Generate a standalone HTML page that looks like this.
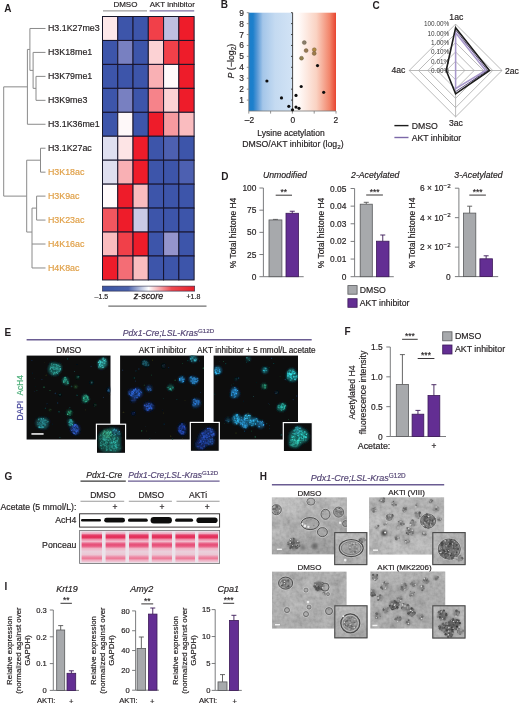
<!DOCTYPE html>
<html><head><meta charset="utf-8"><title>Figure</title>
<style>
html,body{margin:0;padding:0;background:#fff;}
body{width:520px;height:704px;overflow:hidden;}
svg{display:block;}
svg text{font-family:"Liberation Sans", Arial, Helvetica, sans-serif;}
</style></head>
<body>
<svg width="520" height="704" viewBox="0 0 520 704" font-family='"Liberation Sans", Arial, Helvetica, sans-serif' fill="#231f20">
<defs><filter id="soft" x="0" y="0" width="100%" height="100%" filterUnits="userSpaceOnUse"><feGaussianBlur stdDeviation="0.3"/></filter></defs>
<g filter="url(#soft)">
<rect x="0" y="0" width="520" height="704" fill="#ffffff"/>
<text x="4.20" y="11.50" font-size="10" font-weight="bold" >A</text>
<text x="125.40" y="7.20" font-size="8.0" text-anchor="middle" stroke="#231f20" stroke-width="0.18" >DMSO</text>
<text x="172.30" y="7.20" font-size="7.9" text-anchor="middle" stroke="#231f20" stroke-width="0.18" >AKT inhibitor</text>
<line x1="103.00" y1="10.80" x2="147.00" y2="10.80" stroke="#9d9d9d" stroke-width="1.3" />
<line x1="149.60" y1="10.80" x2="194.20" y2="10.80" stroke="#7c6fa0" stroke-width="1.3" />
<rect x="102.50" y="16.50" width="15.27" height="23.95" fill="#fde8ea" stroke="#18152c" stroke-width="1.0" />
<rect x="117.77" y="16.50" width="15.27" height="23.95" fill="#3c54aa" stroke="#18152c" stroke-width="1.0" />
<rect x="133.04" y="16.50" width="15.27" height="23.95" fill="#3c54aa" stroke="#18152c" stroke-width="1.0" />
<rect x="148.31" y="16.50" width="15.27" height="23.95" fill="#f1404a" stroke="#18152c" stroke-width="1.0" />
<rect x="163.58" y="16.50" width="15.27" height="23.95" fill="#bfbfe0" stroke="#18152c" stroke-width="1.0" />
<rect x="178.85" y="16.50" width="15.27" height="23.95" fill="#ee1e2a" stroke="#18152c" stroke-width="1.0" />
<rect x="102.50" y="40.45" width="15.27" height="23.95" fill="#3c54aa" stroke="#18152c" stroke-width="1.0" />
<rect x="117.77" y="40.45" width="15.27" height="23.95" fill="#7880c1" stroke="#18152c" stroke-width="1.0" />
<rect x="133.04" y="40.45" width="15.27" height="23.95" fill="#3c54aa" stroke="#18152c" stroke-width="1.0" />
<rect x="148.31" y="40.45" width="15.27" height="23.95" fill="#fcd2d4" stroke="#18152c" stroke-width="1.0" />
<rect x="163.58" y="40.45" width="15.27" height="23.95" fill="#f1404a" stroke="#18152c" stroke-width="1.0" />
<rect x="178.85" y="40.45" width="15.27" height="23.95" fill="#ee1e2a" stroke="#18152c" stroke-width="1.0" />
<rect x="102.50" y="64.40" width="15.27" height="23.95" fill="#3c54aa" stroke="#18152c" stroke-width="1.0" />
<rect x="117.77" y="64.40" width="15.27" height="23.95" fill="#3c54aa" stroke="#18152c" stroke-width="1.0" />
<rect x="133.04" y="64.40" width="15.27" height="23.95" fill="#3c54aa" stroke="#18152c" stroke-width="1.0" />
<rect x="148.31" y="64.40" width="15.27" height="23.95" fill="#f9b0b4" stroke="#18152c" stroke-width="1.0" />
<rect x="163.58" y="64.40" width="15.27" height="23.95" fill="#fffafb" stroke="#18152c" stroke-width="1.0" />
<rect x="178.85" y="64.40" width="15.27" height="23.95" fill="#ee1e2a" stroke="#18152c" stroke-width="1.0" />
<rect x="102.50" y="88.35" width="15.27" height="23.95" fill="#3c54aa" stroke="#18152c" stroke-width="1.0" />
<rect x="117.77" y="88.35" width="15.27" height="23.95" fill="#7880c1" stroke="#18152c" stroke-width="1.0" />
<rect x="133.04" y="88.35" width="15.27" height="23.95" fill="#3c54aa" stroke="#18152c" stroke-width="1.0" />
<rect x="148.31" y="88.35" width="15.27" height="23.95" fill="#f6838a" stroke="#18152c" stroke-width="1.0" />
<rect x="163.58" y="88.35" width="15.27" height="23.95" fill="#fcd2d4" stroke="#18152c" stroke-width="1.0" />
<rect x="178.85" y="88.35" width="15.27" height="23.95" fill="#ee1e2a" stroke="#18152c" stroke-width="1.0" />
<rect x="102.50" y="112.30" width="15.27" height="23.95" fill="#3c54aa" stroke="#18152c" stroke-width="1.0" />
<rect x="117.77" y="112.30" width="15.27" height="23.95" fill="#fef8f9" stroke="#18152c" stroke-width="1.0" />
<rect x="133.04" y="112.30" width="15.27" height="23.95" fill="#3c54aa" stroke="#18152c" stroke-width="1.0" />
<rect x="148.31" y="112.30" width="15.27" height="23.95" fill="#ee1e2a" stroke="#18152c" stroke-width="1.0" />
<rect x="163.58" y="112.30" width="15.27" height="23.95" fill="#f79a9f" stroke="#18152c" stroke-width="1.0" />
<rect x="178.85" y="112.30" width="15.27" height="23.95" fill="#fabcbf" stroke="#18152c" stroke-width="1.0" />
<rect x="102.50" y="136.25" width="15.27" height="23.95" fill="#dfdff0" stroke="#18152c" stroke-width="1.0" />
<rect x="117.77" y="136.25" width="15.27" height="23.95" fill="#fde4e5" stroke="#18152c" stroke-width="1.0" />
<rect x="133.04" y="136.25" width="15.27" height="23.95" fill="#ee1e2a" stroke="#18152c" stroke-width="1.0" />
<rect x="148.31" y="136.25" width="15.27" height="23.95" fill="#3c54aa" stroke="#18152c" stroke-width="1.0" />
<rect x="163.58" y="136.25" width="15.27" height="23.95" fill="#4e61b1" stroke="#18152c" stroke-width="1.0" />
<rect x="178.85" y="136.25" width="15.27" height="23.95" fill="#3c54aa" stroke="#18152c" stroke-width="1.0" />
<rect x="102.50" y="160.20" width="15.27" height="23.95" fill="#dfdff0" stroke="#18152c" stroke-width="1.0" />
<rect x="117.77" y="160.20" width="15.27" height="23.95" fill="#f9b0b4" stroke="#18152c" stroke-width="1.0" />
<rect x="133.04" y="160.20" width="15.27" height="23.95" fill="#ee1e2a" stroke="#18152c" stroke-width="1.0" />
<rect x="148.31" y="160.20" width="15.27" height="23.95" fill="#3c54aa" stroke="#18152c" stroke-width="1.0" />
<rect x="163.58" y="160.20" width="15.27" height="23.95" fill="#3c54aa" stroke="#18152c" stroke-width="1.0" />
<rect x="178.85" y="160.20" width="15.27" height="23.95" fill="#4e61b1" stroke="#18152c" stroke-width="1.0" />
<rect x="102.50" y="184.15" width="15.27" height="23.95" fill="#fffafb" stroke="#18152c" stroke-width="1.0" />
<rect x="117.77" y="184.15" width="15.27" height="23.95" fill="#ee1e2a" stroke="#18152c" stroke-width="1.0" />
<rect x="133.04" y="184.15" width="15.27" height="23.95" fill="#fabcbf" stroke="#18152c" stroke-width="1.0" />
<rect x="148.31" y="184.15" width="15.27" height="23.95" fill="#3c54aa" stroke="#18152c" stroke-width="1.0" />
<rect x="163.58" y="184.15" width="15.27" height="23.95" fill="#3c54aa" stroke="#18152c" stroke-width="1.0" />
<rect x="178.85" y="184.15" width="15.27" height="23.95" fill="#3c54aa" stroke="#18152c" stroke-width="1.0" />
<rect x="102.50" y="208.10" width="15.27" height="23.95" fill="#f2565f" stroke="#18152c" stroke-width="1.0" />
<rect x="117.77" y="208.10" width="15.27" height="23.95" fill="#ee1e2a" stroke="#18152c" stroke-width="1.0" />
<rect x="133.04" y="208.10" width="15.27" height="23.95" fill="#cacae6" stroke="#18152c" stroke-width="1.0" />
<rect x="148.31" y="208.10" width="15.27" height="23.95" fill="#3c54aa" stroke="#18152c" stroke-width="1.0" />
<rect x="163.58" y="208.10" width="15.27" height="23.95" fill="#3c54aa" stroke="#18152c" stroke-width="1.0" />
<rect x="178.85" y="208.10" width="15.27" height="23.95" fill="#3c54aa" stroke="#18152c" stroke-width="1.0" />
<rect x="102.50" y="232.05" width="15.27" height="23.95" fill="#fabcbf" stroke="#18152c" stroke-width="1.0" />
<rect x="117.77" y="232.05" width="15.27" height="23.95" fill="#f1404a" stroke="#18152c" stroke-width="1.0" />
<rect x="133.04" y="232.05" width="15.27" height="23.95" fill="#ee1e2a" stroke="#18152c" stroke-width="1.0" />
<rect x="148.31" y="232.05" width="15.27" height="23.95" fill="#3c54aa" stroke="#18152c" stroke-width="1.0" />
<rect x="163.58" y="232.05" width="15.27" height="23.95" fill="#9494cc" stroke="#18152c" stroke-width="1.0" />
<rect x="178.85" y="232.05" width="15.27" height="23.95" fill="#3c54aa" stroke="#18152c" stroke-width="1.0" />
<rect x="102.50" y="256.00" width="15.27" height="23.95" fill="#ee1e2a" stroke="#18152c" stroke-width="1.0" />
<rect x="117.77" y="256.00" width="15.27" height="23.95" fill="#f46d75" stroke="#18152c" stroke-width="1.0" />
<rect x="133.04" y="256.00" width="15.27" height="23.95" fill="#fabcbf" stroke="#18152c" stroke-width="1.0" />
<rect x="148.31" y="256.00" width="15.27" height="23.95" fill="#3c54aa" stroke="#18152c" stroke-width="1.0" />
<rect x="163.58" y="256.00" width="15.27" height="23.95" fill="#3c54aa" stroke="#18152c" stroke-width="1.0" />
<rect x="178.85" y="256.00" width="15.27" height="23.95" fill="#3c54aa" stroke="#18152c" stroke-width="1.0" />
<text x="47.90" y="31.08" font-size="8.9" stroke="#231f20" stroke-width="0.18" >H3.1K27me3</text>
<text x="47.90" y="55.02" font-size="8.9" stroke="#231f20" stroke-width="0.18" >H3K18me1</text>
<text x="47.90" y="78.97" font-size="8.9" stroke="#231f20" stroke-width="0.18" >H3K79me1</text>
<text x="47.90" y="102.92" font-size="8.9" stroke="#231f20" stroke-width="0.18" >H3K9me3</text>
<text x="47.90" y="126.87" font-size="8.9" stroke="#231f20" stroke-width="0.18" >H3.1K36me1</text>
<text x="47.90" y="150.82" font-size="8.9" stroke="#231f20" stroke-width="0.18" >H3.1K27ac</text>
<text x="47.90" y="174.77" font-size="8.9" fill="#e0a048" stroke="#e0a048" stroke-width="0.18" >H3K18ac</text>
<text x="47.90" y="198.72" font-size="8.9" fill="#e0a048" stroke="#e0a048" stroke-width="0.18" >H3K9ac</text>
<text x="47.90" y="222.67" font-size="8.9" fill="#e0a048" stroke="#e0a048" stroke-width="0.18" >H3K23ac</text>
<text x="47.90" y="246.62" font-size="8.9" fill="#e0a048" stroke="#e0a048" stroke-width="0.18" >H4K16ac</text>
<text x="47.90" y="270.58" font-size="8.9" fill="#e0a048" stroke="#e0a048" stroke-width="0.18" >H4K8ac</text>
<path d="M45.50 76.38 L36.00 76.38 L36.00 100.33 L45.50 100.33" fill="none" stroke="#8a8a8a" stroke-width="1"/>
<path d="M45.50 52.42 L33.10 52.42 L33.10 88.35 L36.00 88.35" fill="none" stroke="#8a8a8a" stroke-width="1"/>
<path d="M45.50 28.48 L29.90 28.48 L29.90 70.39 L33.10 70.39" fill="none" stroke="#8a8a8a" stroke-width="1"/>
<path d="M29.90 49.43 L27.40 49.43 L27.40 124.27 L45.50 124.27" fill="none" stroke="#8a8a8a" stroke-width="1"/>
<path d="M45.50 148.22 L40.50 148.22 L40.50 172.17 L45.50 172.17" fill="none" stroke="#8a8a8a" stroke-width="1"/>
<path d="M45.50 196.12 L36.60 196.12 L36.60 220.07 L45.50 220.07" fill="none" stroke="#8a8a8a" stroke-width="1"/>
<path d="M45.50 244.03 L32.00 244.03" fill="none" stroke="#8a8a8a" stroke-width="1"/>
<path d="M36.60 208.10 L32.00 208.10 L32.00 267.98 L45.50 267.98" fill="none" stroke="#8a8a8a" stroke-width="1"/>
<path d="M40.50 160.20 L26.70 160.20 L26.70 232.05 L32.00 232.05" fill="none" stroke="#8a8a8a" stroke-width="1"/>
<path d="M27.40 86.85 L3.70 86.85 L3.70 196.12 L26.70 196.12" fill="none" stroke="#8a8a8a" stroke-width="1"/>
<defs><linearGradient id="cb" x1="0" x2="1" y1="0" y2="0"><stop offset="0" stop-color="#3a54a4"/><stop offset="0.28" stop-color="#4a62ac"/><stop offset="0.5" stop-color="#ffffff"/><stop offset="0.75" stop-color="#ee4a50"/><stop offset="1" stop-color="#e8202a"/></linearGradient></defs>
<rect x="102.40" y="286.10" width="92.30" height="5.00" fill="url(#cb)" stroke="#2a2a48" stroke-width="0.6" />
<text x="94.60" y="298.50" font-size="7" stroke="#231f20" stroke-width="0.18" >–1.5</text>
<text x="148.60" y="299.30" font-size="9.0" text-anchor="middle" font-style="italic" stroke="#231f20" stroke-width="0.3" >z-score</text>
<text x="186.50" y="298.50" font-size="7" stroke="#231f20" stroke-width="0.18" >+1.8</text>
<line x1="108.30" y1="306.10" x2="206.50" y2="306.10" stroke="#707070" stroke-width="1.2" />
<text x="220.80" y="7.50" font-size="10" font-weight="bold" >B</text>
<defs><linearGradient id="bl" x1="0" x2="1" y1="0" y2="0"><stop offset="0" stop-color="#1a7ecb"/><stop offset="0.1" stop-color="#2080cc"/><stop offset="0.2" stop-color="#5c9ad6"/><stop offset="0.32" stop-color="#a4c6e9"/><stop offset="0.6" stop-color="#c4daf1"/><stop offset="1" stop-color="#d2e3f5"/></linearGradient><linearGradient id="br" x1="0" x2="1" y1="0" y2="0"><stop offset="0" stop-color="#ffffff"/><stop offset="0.15" stop-color="#fffaf8"/><stop offset="0.55" stop-color="#fad2c2"/><stop offset="0.85" stop-color="#f2866c"/><stop offset="1" stop-color="#e8432e"/></linearGradient></defs>
<rect x="248.80" y="12.70" width="43.80" height="98.30" fill="url(#bl)" />
<rect x="292.60" y="12.70" width="43.40" height="98.30" fill="url(#br)" />
<line x1="292.60" y1="12.70" x2="292.60" y2="111.00" stroke="#333" stroke-width="0.9" />
<line x1="248.80" y1="12.70" x2="248.80" y2="111.00" stroke="#777" stroke-width="0.8" />
<line x1="248.80" y1="111.00" x2="336.00" y2="111.00" stroke="#777" stroke-width="0.8" />
<line x1="246.80" y1="100.08" x2="248.80" y2="100.08" stroke="#777" stroke-width="0.8" />
<line x1="291.00" y1="100.08" x2="292.60" y2="100.08" stroke="#333" stroke-width="0.9" />
<text x="243.80" y="103.08" font-size="8.4" text-anchor="end" stroke="#231f20" stroke-width="0.18" >1</text>
<line x1="246.80" y1="89.16" x2="248.80" y2="89.16" stroke="#777" stroke-width="0.8" />
<line x1="291.00" y1="89.16" x2="292.60" y2="89.16" stroke="#333" stroke-width="0.9" />
<text x="243.80" y="92.16" font-size="8.4" text-anchor="end" stroke="#231f20" stroke-width="0.18" >2</text>
<line x1="246.80" y1="78.23" x2="248.80" y2="78.23" stroke="#777" stroke-width="0.8" />
<line x1="291.00" y1="78.23" x2="292.60" y2="78.23" stroke="#333" stroke-width="0.9" />
<text x="243.80" y="81.23" font-size="8.4" text-anchor="end" stroke="#231f20" stroke-width="0.18" >3</text>
<line x1="246.80" y1="67.31" x2="248.80" y2="67.31" stroke="#777" stroke-width="0.8" />
<line x1="291.00" y1="67.31" x2="292.60" y2="67.31" stroke="#333" stroke-width="0.9" />
<text x="243.80" y="70.31" font-size="8.4" text-anchor="end" stroke="#231f20" stroke-width="0.18" >4</text>
<line x1="246.80" y1="56.39" x2="248.80" y2="56.39" stroke="#777" stroke-width="0.8" />
<line x1="291.00" y1="56.39" x2="292.60" y2="56.39" stroke="#333" stroke-width="0.9" />
<text x="243.80" y="59.39" font-size="8.4" text-anchor="end" stroke="#231f20" stroke-width="0.18" >5</text>
<line x1="246.80" y1="45.47" x2="248.80" y2="45.47" stroke="#777" stroke-width="0.8" />
<line x1="291.00" y1="45.47" x2="292.60" y2="45.47" stroke="#333" stroke-width="0.9" />
<text x="243.80" y="48.47" font-size="8.4" text-anchor="end" stroke="#231f20" stroke-width="0.18" >6</text>
<line x1="246.80" y1="34.54" x2="248.80" y2="34.54" stroke="#777" stroke-width="0.8" />
<line x1="291.00" y1="34.54" x2="292.60" y2="34.54" stroke="#333" stroke-width="0.9" />
<text x="243.80" y="37.54" font-size="8.4" text-anchor="end" stroke="#231f20" stroke-width="0.18" >7</text>
<line x1="246.80" y1="23.62" x2="248.80" y2="23.62" stroke="#777" stroke-width="0.8" />
<line x1="291.00" y1="23.62" x2="292.60" y2="23.62" stroke="#333" stroke-width="0.9" />
<text x="243.80" y="26.62" font-size="8.4" text-anchor="end" stroke="#231f20" stroke-width="0.18" >8</text>
<line x1="246.80" y1="12.70" x2="248.80" y2="12.70" stroke="#777" stroke-width="0.8" />
<line x1="291.00" y1="12.70" x2="292.60" y2="12.70" stroke="#333" stroke-width="0.9" />
<text x="243.80" y="15.70" font-size="8.4" text-anchor="end" stroke="#231f20" stroke-width="0.18" >9</text>
<line x1="248.80" y1="111.00" x2="248.80" y2="113.60" stroke="#777" stroke-width="0.8" />
<line x1="270.60" y1="111.00" x2="270.60" y2="113.60" stroke="#777" stroke-width="0.8" />
<line x1="292.40" y1="111.00" x2="292.40" y2="113.60" stroke="#777" stroke-width="0.8" />
<line x1="314.20" y1="111.00" x2="314.20" y2="113.60" stroke="#777" stroke-width="0.8" />
<line x1="336.00" y1="111.00" x2="336.00" y2="113.60" stroke="#777" stroke-width="0.8" />
<text x="249.40" y="122.70" font-size="8.4" text-anchor="middle" stroke="#231f20" stroke-width="0.18" >–2</text>
<text x="292.80" y="122.70" font-size="8.4" text-anchor="middle" stroke="#231f20" stroke-width="0.18" >0</text>
<text x="335.80" y="122.70" font-size="8.4" text-anchor="middle" stroke="#231f20" stroke-width="0.18" >2</text>
<text x="291.00" y="135.90" font-size="8.5" text-anchor="middle" stroke="#231f20" stroke-width="0.18" >Lysine acetylation</text>
<text x="292.90" y="147.20" font-size="8.7" text-anchor="middle" stroke="#231f20" stroke-width="0.18" >DMSO/AKT inhibitor (log<tspan font-size="6.2" dy="1.8">2</tspan><tspan dy="-1.8">)</tspan></text>
<text x="233.80" y="61.10" font-size="8.8" text-anchor="middle" stroke="#231f20" stroke-width="0.18" transform="rotate(-90 233.80 61.10)" ><tspan font-style="italic">P</tspan> (−log<tspan font-size="6.5" dy="1.8">2</tspan><tspan dy="-1.8">)</tspan></text>
<circle cx="266.9" cy="81" r="1.6" fill="#111"/>
<circle cx="281.5" cy="97.9" r="1.6" fill="#111"/>
<circle cx="288.8" cy="106.3" r="1.6" fill="#111"/>
<circle cx="292.5" cy="109.8" r="1.6" fill="#111"/>
<circle cx="296" cy="95.4" r="1.6" fill="#111"/>
<circle cx="296" cy="107.1" r="1.6" fill="#111"/>
<circle cx="299" cy="108.3" r="1.6" fill="#111"/>
<circle cx="301.2" cy="86.5" r="1.6" fill="#111"/>
<circle cx="317.5" cy="65.6" r="1.6" fill="#111"/>
<circle cx="323.7" cy="92.3" r="1.6" fill="#111"/>
<circle cx="304.3" cy="42.6" r="2.0" fill="#8a7e6c" stroke="#5a4a30" stroke-width="0.35"/>
<circle cx="306.1" cy="50.6" r="2.0" fill="#977852" stroke="#5a4a30" stroke-width="0.35"/>
<circle cx="301.5" cy="58.2" r="2.0" fill="#928050" stroke="#5a4a30" stroke-width="0.35"/>
<circle cx="314.3" cy="49.7" r="2.0" fill="#b08842" stroke="#5a4a30" stroke-width="0.35"/>
<circle cx="314.2" cy="53.4" r="2.0" fill="#9e7a4a" stroke="#5a4a30" stroke-width="0.35"/>
<text x="372.50" y="9.20" font-size="10" font-weight="bold" >C</text>
<path d="M455.6 61.22 L464.88 70.5 L455.6 79.78 L446.32 70.5 Z" fill="none" stroke="#a8a8a8" stroke-width="0.8"/>
<path d="M455.6 51.94 L474.16 70.5 L455.6 89.06 L437.04 70.5 Z" fill="none" stroke="#a8a8a8" stroke-width="0.8"/>
<path d="M455.6 42.66 L483.44 70.5 L455.6 98.34 L427.76 70.5 Z" fill="none" stroke="#a8a8a8" stroke-width="0.8"/>
<path d="M455.6 33.38 L492.72 70.5 L455.6 107.62 L418.48 70.5 Z" fill="none" stroke="#a8a8a8" stroke-width="0.8"/>
<path d="M455.6 24.10 L502.00 70.5 L455.6 116.90 L409.20 70.5 Z" fill="none" stroke="#a8a8a8" stroke-width="0.8"/>
<line x1="409.20" y1="70.50" x2="502.00" y2="70.50" stroke="#a8a8a8" stroke-width="0.8" />
<line x1="455.60" y1="24.10" x2="455.60" y2="116.90" stroke="#a8a8a8" stroke-width="0.8" />
<text x="449.20" y="72.80" font-size="6.4" text-anchor="end" fill="#3a3a3a" >0.00%</text>
<text x="449.20" y="63.52" font-size="6.4" text-anchor="end" fill="#3a3a3a" >0.01%</text>
<text x="449.20" y="54.24" font-size="6.4" text-anchor="end" fill="#3a3a3a" >0.10%</text>
<text x="449.20" y="44.96" font-size="6.4" text-anchor="end" fill="#3a3a3a" >1.00%</text>
<text x="449.20" y="35.68" font-size="6.4" text-anchor="end" fill="#3a3a3a" >10.00%</text>
<text x="449.20" y="26.40" font-size="6.4" text-anchor="end" fill="#3a3a3a" >100.00%</text>
<text x="456.30" y="19.60" font-size="8.6" text-anchor="middle" stroke="#231f20" stroke-width="0.18" >1ac</text>
<text x="505.00" y="73.60" font-size="8.6" stroke="#231f20" stroke-width="0.18" >2ac</text>
<text x="455.90" y="126.00" font-size="8.6" text-anchor="middle" stroke="#231f20" stroke-width="0.18" >3ac</text>
<text x="405.30" y="73.30" font-size="8.6" text-anchor="end" stroke="#231f20" stroke-width="0.18" >4ac</text>
<path d="M455.6 32.7 L485.6 70.5 L455.6 88.6 L455.6 70.5 Z" fill="none" stroke="#a898cc" stroke-width="1.5"/>
<path d="M455.6 30.0 L487.6 70.5 L455.6 91.6" fill="none" stroke="#4a3a70" stroke-width="0.9"/>
<path d="M455.6 27.7 L489.5 70.5 L455.6 93.8 L446.2 70.5 Z" fill="none" stroke="#1a1a1a" stroke-width="1.6" stroke-linejoin="miter"/>
<line x1="394.40" y1="125.60" x2="408.50" y2="125.60" stroke="#1a1a1a" stroke-width="1.4" />
<text x="411.70" y="129.20" font-size="8.7" stroke="#231f20" stroke-width="0.18" >DMSO</text>
<line x1="394.40" y1="137.50" x2="408.50" y2="137.50" stroke="#7b68a8" stroke-width="1.4" />
<text x="411.70" y="141.10" font-size="8.7" stroke="#231f20" stroke-width="0.18" >AKT inhibitor</text>
<text x="221.20" y="180.30" font-size="10" font-weight="bold" >D</text>
<line x1="263.40" y1="188.00" x2="263.40" y2="276.70" stroke="#6d6e71" stroke-width="0.9" />
<line x1="263.40" y1="276.70" x2="303.70" y2="276.70" stroke="#6d6e71" stroke-width="0.9" />
<line x1="259.40" y1="276.70" x2="263.40" y2="276.70" stroke="#6d6e71" stroke-width="0.9" />
<text x="256.40" y="279.72" font-size="8.4" text-anchor="end" stroke="#231f20" stroke-width="0.18" >0</text>
<line x1="259.40" y1="254.52" x2="263.40" y2="254.52" stroke="#6d6e71" stroke-width="0.9" />
<text x="256.40" y="257.55" font-size="8.4" text-anchor="end" stroke="#231f20" stroke-width="0.18" >25</text>
<line x1="259.40" y1="232.35" x2="263.40" y2="232.35" stroke="#6d6e71" stroke-width="0.9" />
<text x="256.40" y="235.37" font-size="8.4" text-anchor="end" stroke="#231f20" stroke-width="0.18" >50</text>
<line x1="259.40" y1="210.18" x2="263.40" y2="210.18" stroke="#6d6e71" stroke-width="0.9" />
<text x="256.40" y="213.20" font-size="8.4" text-anchor="end" stroke="#231f20" stroke-width="0.18" >75</text>
<line x1="259.40" y1="188.00" x2="263.40" y2="188.00" stroke="#6d6e71" stroke-width="0.9" />
<text x="256.40" y="191.02" font-size="8.4" text-anchor="end" stroke="#231f20" stroke-width="0.18" >100</text>
<line x1="275.45" y1="219.40" x2="275.45" y2="219.93" stroke="#555" stroke-width="0.9" />
<line x1="272.95" y1="219.40" x2="277.95" y2="219.40" stroke="#555" stroke-width="0.9" />
<rect x="269.00" y="219.93" width="12.90" height="56.77" fill="#a7a9ac" stroke="#58595b" stroke-width="0.8" />
<line x1="292.25" y1="211.24" x2="292.25" y2="213.28" stroke="#3b1a57" stroke-width="0.9" />
<line x1="289.75" y1="211.24" x2="294.75" y2="211.24" stroke="#3b1a57" stroke-width="0.9" />
<rect x="286.00" y="213.28" width="12.50" height="63.42" fill="#642e93" stroke="#3b1a57" stroke-width="0.8" />
<line x1="275.70" y1="195.20" x2="292.00" y2="195.20" stroke="#231f20" stroke-width="0.9" />
<text x="283.85" y="195.10" font-size="8.4" text-anchor="middle" stroke="#231f20" stroke-width="0.15" >**</text>
<text x="284.90" y="178.10" font-size="8.7" text-anchor="middle" font-style="italic" stroke="#231f20" stroke-width="0.18" >Unmodified</text>
<text x="235.70" y="233.00" font-size="8.5" text-anchor="middle" stroke="#231f20" stroke-width="0.18" transform="rotate(-90 235.70 233.00)" >% Total histone H4</text>
<line x1="354.60" y1="188.50" x2="354.60" y2="276.70" stroke="#6d6e71" stroke-width="0.9" />
<line x1="354.60" y1="276.70" x2="393.80" y2="276.70" stroke="#6d6e71" stroke-width="0.9" />
<line x1="350.60" y1="276.70" x2="354.60" y2="276.70" stroke="#6d6e71" stroke-width="0.9" />
<text x="346.40" y="279.72" font-size="8.4" text-anchor="end" stroke="#231f20" stroke-width="0.18" >0</text>
<line x1="350.60" y1="259.06" x2="354.60" y2="259.06" stroke="#6d6e71" stroke-width="0.9" />
<text x="346.40" y="262.08" font-size="8.4" text-anchor="end" stroke="#231f20" stroke-width="0.18" >0.01</text>
<line x1="350.60" y1="241.42" x2="354.60" y2="241.42" stroke="#6d6e71" stroke-width="0.9" />
<text x="346.40" y="244.44" font-size="8.4" text-anchor="end" stroke="#231f20" stroke-width="0.18" >0.02</text>
<line x1="350.60" y1="223.78" x2="354.60" y2="223.78" stroke="#6d6e71" stroke-width="0.9" />
<text x="346.40" y="226.80" font-size="8.4" text-anchor="end" stroke="#231f20" stroke-width="0.18" >0.03</text>
<line x1="350.60" y1="206.14" x2="354.60" y2="206.14" stroke="#6d6e71" stroke-width="0.9" />
<text x="346.40" y="209.16" font-size="8.4" text-anchor="end" stroke="#231f20" stroke-width="0.18" >0.04</text>
<line x1="350.60" y1="188.50" x2="354.60" y2="188.50" stroke="#6d6e71" stroke-width="0.9" />
<text x="346.40" y="191.52" font-size="8.4" text-anchor="end" stroke="#231f20" stroke-width="0.18" >0.05</text>
<line x1="366.25" y1="202.30" x2="366.25" y2="204.20" stroke="#555" stroke-width="0.9" />
<line x1="363.75" y1="202.30" x2="368.75" y2="202.30" stroke="#555" stroke-width="0.9" />
<rect x="360.20" y="204.20" width="12.10" height="72.50" fill="#a7a9ac" stroke="#58595b" stroke-width="0.8" />
<line x1="382.75" y1="235.00" x2="382.75" y2="241.20" stroke="#3b1a57" stroke-width="0.9" />
<line x1="380.25" y1="235.00" x2="385.25" y2="235.00" stroke="#3b1a57" stroke-width="0.9" />
<rect x="376.50" y="241.20" width="12.50" height="35.50" fill="#642e93" stroke="#3b1a57" stroke-width="0.8" />
<line x1="366.20" y1="195.00" x2="382.90" y2="195.00" stroke="#231f20" stroke-width="0.9" />
<text x="374.55" y="194.90" font-size="8.4" text-anchor="middle" stroke="#231f20" stroke-width="0.15" >***</text>
<text x="375.20" y="178.10" font-size="8.7" text-anchor="middle" font-style="italic" stroke="#231f20" stroke-width="0.18" >2-Acetylated</text>
<text x="323.70" y="233.00" font-size="8.5" text-anchor="middle" stroke="#231f20" stroke-width="0.18" transform="rotate(-90 323.70 233.00)" >% Total histone H4</text>
<line x1="458.90" y1="188.20" x2="458.90" y2="276.60" stroke="#6d6e71" stroke-width="0.9" />
<line x1="458.90" y1="276.60" x2="498.20" y2="276.60" stroke="#6d6e71" stroke-width="0.9" />
<line x1="454.90" y1="276.60" x2="458.90" y2="276.60" stroke="#6d6e71" stroke-width="0.9" />
<text x="450.60" y="279.62" font-size="8.4" text-anchor="end" stroke="#231f20" stroke-width="0.18" >0</text>
<line x1="454.90" y1="247.13" x2="458.90" y2="247.13" stroke="#6d6e71" stroke-width="0.9" />
<text x="450.60" y="250.16" font-size="8.4" text-anchor="end" stroke="#231f20" stroke-width="0.18" >2 × 10<tspan font-size="6.2" dy="-3.4">−2</tspan></text>
<line x1="454.90" y1="217.67" x2="458.90" y2="217.67" stroke="#6d6e71" stroke-width="0.9" />
<text x="450.60" y="220.69" font-size="8.4" text-anchor="end" stroke="#231f20" stroke-width="0.18" >4 × 10<tspan font-size="6.2" dy="-3.4">−2</tspan></text>
<line x1="454.90" y1="188.20" x2="458.90" y2="188.20" stroke="#6d6e71" stroke-width="0.9" />
<text x="450.60" y="191.22" font-size="8.4" text-anchor="end" stroke="#231f20" stroke-width="0.18" >6 × 10<tspan font-size="6.2" dy="-3.4">−2</tspan></text>
<line x1="469.65" y1="206.20" x2="469.65" y2="213.10" stroke="#555" stroke-width="0.9" />
<line x1="467.15" y1="206.20" x2="472.15" y2="206.20" stroke="#555" stroke-width="0.9" />
<rect x="463.50" y="213.10" width="12.30" height="63.50" fill="#a7a9ac" stroke="#58595b" stroke-width="0.8" />
<line x1="486.15" y1="255.80" x2="486.15" y2="258.80" stroke="#3b1a57" stroke-width="0.9" />
<line x1="483.65" y1="255.80" x2="488.65" y2="255.80" stroke="#3b1a57" stroke-width="0.9" />
<rect x="479.90" y="258.80" width="12.50" height="17.80" fill="#642e93" stroke="#3b1a57" stroke-width="0.8" />
<line x1="469.30" y1="195.10" x2="485.90" y2="195.10" stroke="#231f20" stroke-width="0.9" />
<text x="477.60" y="195.00" font-size="8.4" text-anchor="middle" stroke="#231f20" stroke-width="0.15" >***</text>
<text x="478.50" y="178.10" font-size="8.7" text-anchor="middle" font-style="italic" stroke="#231f20" stroke-width="0.18" >3-Acetylated</text>
<text x="415.10" y="233.00" font-size="8.5" text-anchor="middle" stroke="#231f20" stroke-width="0.18" transform="rotate(-90 415.10 233.00)" >% Total histone H4</text>
<rect x="347.90" y="285.60" width="9.20" height="8.60" fill="#a7a9ac" stroke="#58595b" stroke-width="0.8" />
<text x="359.80" y="292.90" font-size="8.7" stroke="#231f20" stroke-width="0.18" >DMSO</text>
<rect x="347.90" y="298.70" width="9.20" height="8.60" fill="#642e93" stroke="#3b1a57" stroke-width="0.8" />
<text x="359.80" y="306.10" font-size="8.7" stroke="#231f20" stroke-width="0.18" >AKT inhibitor</text>
<text x="4.60" y="335.70" font-size="10" font-weight="bold" >E</text>
<text x="122.70" y="336.20" font-size="8.7" font-style="italic" fill="#554675" stroke="#554675" stroke-width="0.18" >Pdx1-Cre;LSL-Kras<tspan font-size="6.2" dy="-3.3" font-style="normal">G12D</tspan></text>
<line x1="26.60" y1="339.70" x2="311.70" y2="339.70" stroke="#6a5c92" stroke-width="1.4" />
<text x="68.70" y="352.60" font-size="8.4" text-anchor="middle" stroke="#231f20" stroke-width="0.18" >DMSO</text>
<text x="162.50" y="352.60" font-size="8.3" text-anchor="middle" stroke="#231f20" stroke-width="0.18" >AKT inhibitor</text>
<text x="256.40" y="352.60" font-size="8.2" text-anchor="middle" stroke="#231f20" stroke-width="0.18" >AKT inhibitor + 5 mmol/L acetate</text>
<text x="23.30" y="410.60" font-size="8.4" text-anchor="middle" fill="#44449a" stroke="#44449a" stroke-width="0.18" transform="rotate(-90 23.30 410.60)" >DAPI</text>
<text x="23.30" y="385.30" font-size="8.4" text-anchor="middle" fill="#4aae78" stroke="#4aae78" stroke-width="0.18" transform="rotate(-90 23.30 385.30)" >AcH4</text>
<defs><filter id="bl1" x="-50%" y="-50%" width="200%" height="200%"><feGaussianBlur stdDeviation="0.9"/></filter><filter id="bl2" x="-50%" y="-50%" width="200%" height="200%"><feGaussianBlur stdDeviation="0.5"/></filter><filter id="bl3" x="-50%" y="-50%" width="200%" height="200%"><feGaussianBlur stdDeviation="0.7"/></filter><filter id="bl4" x="-50%" y="-50%" width="200%" height="200%"><feGaussianBlur stdDeviation="1.3"/></filter></defs>
<clipPath id="ec1"><rect x="26.6" y="355.6" width="83.9" height="83.9"/></clipPath>
<rect x="26.60" y="355.60" width="83.90" height="83.90" fill="#08090c" />
<g clip-path="url(#ec1)">
<g filter="url(#bl2)"><circle cx="53.8" cy="368.3" r="0.44" fill="#123a3a"/><circle cx="71.6" cy="386.3" r="0.85" fill="#123a3a"/><circle cx="44.6" cy="362.8" r="0.43" fill="#2a2a14"/><circle cx="34.2" cy="391.2" r="0.46" fill="#162a40"/><circle cx="45.3" cy="408.2" r="0.69" fill="#123a3a"/><circle cx="59.9" cy="437.5" r="0.68" fill="#123a3a"/><circle cx="37.8" cy="390.8" r="0.46" fill="#162a40"/><circle cx="52.5" cy="424.1" r="0.45" fill="#14304a"/><circle cx="74.5" cy="371.4" r="0.67" fill="#123a3a"/><circle cx="31.9" cy="360.6" r="0.65" fill="#14304a"/><circle cx="71.2" cy="420.8" r="0.69" fill="#2a2a14"/><circle cx="64.6" cy="380.8" r="0.75" fill="#14304a"/><circle cx="47.1" cy="403.8" r="0.65" fill="#162a40"/><circle cx="55.4" cy="393.3" r="0.89" fill="#162a40"/><circle cx="36.5" cy="390.7" r="0.48" fill="#1a4a30"/><circle cx="67.6" cy="358.9" r="0.78" fill="#123a3a"/><circle cx="74.7" cy="429.1" r="0.57" fill="#1a4a30"/><circle cx="56.0" cy="397.3" r="0.43" fill="#2a2a14"/><circle cx="34.5" cy="378.2" r="0.43" fill="#123a3a"/><circle cx="85.5" cy="409.9" r="0.54" fill="#2a2a14"/><circle cx="59.0" cy="411.7" r="0.87" fill="#123a3a"/><circle cx="56.4" cy="406.9" r="0.43" fill="#2a2a14"/><circle cx="91.1" cy="366.5" r="0.60" fill="#14304a"/><circle cx="103.5" cy="397.3" r="0.62" fill="#14304a"/><circle cx="72.7" cy="429.7" r="0.83" fill="#2a2a14"/><circle cx="50.0" cy="390.4" r="0.74" fill="#1a4a30"/><circle cx="58.5" cy="375.0" r="0.49" fill="#123a3a"/><circle cx="46.1" cy="375.2" r="0.82" fill="#2a2a14"/><circle cx="41.9" cy="379.3" r="0.61" fill="#14304a"/><circle cx="57.6" cy="403.1" r="0.75" fill="#14304a"/><circle cx="69.8" cy="407.4" r="0.63" fill="#123a3a"/><circle cx="99.7" cy="435.5" r="0.60" fill="#162a40"/><circle cx="60.1" cy="364.3" r="0.43" fill="#2a2a14"/><circle cx="32.3" cy="373.1" r="0.45" fill="#14304a"/><circle cx="77.0" cy="364.2" r="0.48" fill="#162a40"/><circle cx="35.1" cy="386.1" r="0.44" fill="#123a3a"/><circle cx="44.0" cy="387.2" r="0.88" fill="#1a4a30"/><circle cx="77.1" cy="395.4" r="0.82" fill="#123a3a"/><circle cx="109.9" cy="394.7" r="0.56" fill="#2a2a14"/><circle cx="38.7" cy="418.5" r="0.64" fill="#1a4a30"/></g>
<g filter="url(#bl4)"><circle cx="54.3" cy="369.4" r="6.5" fill="#1a5651" opacity="0.85"/><circle cx="53.1" cy="366.2" r="4.0" fill="#1a5651" opacity="0.85"/><circle cx="57.2" cy="368.5" r="4.7" fill="#1a5651" opacity="0.85"/><circle cx="57.6" cy="367.4" r="4.1" fill="#1a5651" opacity="0.85"/><circle cx="102.7" cy="363.4" r="4.9" fill="#216a67" opacity="0.85"/><circle cx="103.7" cy="360.9" r="3.3" fill="#216a67" opacity="0.85"/><circle cx="101.2" cy="366.0" r="3.3" fill="#216a67" opacity="0.85"/><circle cx="100.6" cy="362.8" r="3.0" fill="#216a67" opacity="0.85"/><circle cx="65.5" cy="380.7" r="3.5" fill="#18554a" opacity="0.85"/><circle cx="66.4" cy="382.5" r="2.7" fill="#18554a" opacity="0.85"/><circle cx="64.8" cy="379.6" r="2.6" fill="#18554a" opacity="0.85"/><circle cx="65.1" cy="379.1" r="2.0" fill="#18554a" opacity="0.85"/><circle cx="85.4" cy="398.3" r="3.5" fill="#195c4b" opacity="0.85"/><circle cx="86.5" cy="399.2" r="2.8" fill="#195c4b" opacity="0.85"/><circle cx="84.9" cy="400.4" r="2.7" fill="#195c4b" opacity="0.85"/><circle cx="84.6" cy="396.4" r="2.2" fill="#195c4b" opacity="0.85"/><circle cx="69.3" cy="412.7" r="3.1" fill="#17543e" opacity="0.85"/><circle cx="41.3" cy="423.0" r="5.9" fill="#174b4f" opacity="0.85"/><circle cx="41.4" cy="425.5" r="3.4" fill="#174b4f" opacity="0.85"/><circle cx="44.9" cy="421.8" r="4.4" fill="#174b4f" opacity="0.85"/><circle cx="44.3" cy="424.9" r="4.3" fill="#174b4f" opacity="0.85"/><circle cx="71.0" cy="423.0" r="3.2" fill="#175555" opacity="0.85"/><circle cx="69.9" cy="421.1" r="2.5" fill="#175555" opacity="0.85"/><circle cx="71.3" cy="424.3" r="2.2" fill="#175555" opacity="0.85"/><circle cx="70.7" cy="424.7" r="2.2" fill="#175555" opacity="0.85"/><circle cx="75.0" cy="428.5" r="4.9" fill="#192f65" opacity="0.85"/><circle cx="77.0" cy="429.6" r="2.8" fill="#192f65" opacity="0.85"/><circle cx="74.5" cy="431.2" r="2.9" fill="#192f65" opacity="0.85"/><circle cx="75.9" cy="431.5" r="3.5" fill="#192f65" opacity="0.85"/><circle cx="75.9" cy="386.7" r="1.7" fill="#29552c" opacity="0.85"/><circle cx="77.6" cy="377.2" r="2.0" fill="#10322c" opacity="0.85"/><circle cx="91.5" cy="382.4" r="2.0" fill="#10292c" opacity="0.85"/><circle cx="109.6" cy="390.0" r="2.7" fill="#10293e" opacity="0.85"/><circle cx="60.0" cy="395.0" r="1.6" fill="#0e2323" opacity="0.85"/><circle cx="95.0" cy="405.0" r="1.6" fill="#0e2923" opacity="0.85"/><circle cx="50.0" cy="410.0" r="1.3" fill="#203a23" opacity="0.85"/></g>
<g filter="url(#bl3)"><circle cx="53.3" cy="368.2" r="0.86" fill="#2a8b84"/><circle cx="56.9" cy="367.7" r="0.52" fill="#2b8e87"/><circle cx="50.2" cy="369.3" r="0.74" fill="#35afa6"/><circle cx="54.4" cy="367.1" r="0.53" fill="#257b75"/><circle cx="55.1" cy="367.2" r="0.67" fill="#32a79f"/><circle cx="58.8" cy="369.1" r="0.66" fill="#1d605b"/><circle cx="51.9" cy="367.6" r="0.84" fill="#32a69e"/><circle cx="51.3" cy="373.5" r="0.44" fill="#19544f"/><circle cx="51.4" cy="370.0" r="0.67" fill="#3dc9bf"/><circle cx="54.1" cy="369.3" r="0.90" fill="#23746e"/><circle cx="51.4" cy="365.7" r="0.47" fill="#257a73"/><circle cx="53.8" cy="367.2" r="0.89" fill="#268079"/><circle cx="53.3" cy="368.3" r="0.92" fill="#32a69d"/><circle cx="50.0" cy="370.4" r="0.45" fill="#1b5b57"/><circle cx="55.1" cy="369.4" r="0.72" fill="#28847d"/><circle cx="52.1" cy="366.1" r="0.73" fill="#28857e"/><circle cx="56.2" cy="368.6" r="0.70" fill="#164945"/><circle cx="55.6" cy="365.3" r="0.46" fill="#33aaa1"/><circle cx="57.6" cy="373.3" r="0.51" fill="#38bab1"/><circle cx="56.6" cy="369.8" r="0.68" fill="#34aba3"/><circle cx="52.6" cy="372.7" r="0.86" fill="#184e4a"/><circle cx="54.0" cy="364.6" r="0.76" fill="#36b2a9"/><circle cx="49.7" cy="368.9" r="0.88" fill="#1a5853"/><circle cx="56.4" cy="372.4" r="0.88" fill="#34ada4"/><circle cx="50.8" cy="366.6" r="0.48" fill="#1b5954"/><circle cx="53.0" cy="368.2" r="0.43" fill="#30a198"/><circle cx="50.8" cy="368.7" r="0.83" fill="#38bbb2"/><circle cx="56.4" cy="370.2" r="0.42" fill="#19534f"/><circle cx="53.5" cy="369.7" r="0.89" fill="#184f4b"/><circle cx="52.0" cy="373.9" r="0.73" fill="#1d615c"/><circle cx="53.7" cy="373.0" r="0.84" fill="#298a82"/><circle cx="54.4" cy="373.1" r="0.88" fill="#3ac1b7"/><circle cx="58.6" cy="367.1" r="0.51" fill="#27827b"/><circle cx="51.5" cy="371.0" r="0.57" fill="#309f97"/><circle cx="52.2" cy="370.4" r="0.57" fill="#1a5652"/><circle cx="55.1" cy="364.5" r="0.75" fill="#247771"/><circle cx="54.3" cy="371.3" r="0.66" fill="#33a9a1"/><circle cx="58.3" cy="372.1" r="0.49" fill="#309f97"/><circle cx="55.0" cy="373.6" r="0.95" fill="#257c75"/><circle cx="51.6" cy="370.8" r="0.45" fill="#247771"/><circle cx="52.5" cy="372.3" r="0.79" fill="#257973"/><circle cx="51.5" cy="369.1" r="0.93" fill="#1a5551"/><circle cx="56.4" cy="368.2" r="0.88" fill="#19514d"/><circle cx="53.6" cy="374.2" r="0.50" fill="#33aaa2"/><circle cx="56.3" cy="365.1" r="0.77" fill="#3bc4ba"/><circle cx="51.2" cy="371.5" r="0.68" fill="#298881"/><circle cx="53.0" cy="371.8" r="0.84" fill="#1c5f5a"/><circle cx="56.4" cy="367.8" r="0.41" fill="#19524e"/><circle cx="52.9" cy="368.7" r="0.52" fill="#206964"/><circle cx="53.3" cy="366.5" r="0.95" fill="#267e77"/><circle cx="55.2" cy="365.0" r="0.42" fill="#31a49c"/><circle cx="55.9" cy="365.1" r="0.54" fill="#1c5e59"/><circle cx="55.4" cy="365.2" r="0.69" fill="#1d615c"/><circle cx="50.7" cy="367.1" r="0.55" fill="#35b1a8"/><circle cx="53.7" cy="366.2" r="0.41" fill="#298982"/><circle cx="55.3" cy="365.9" r="0.54" fill="#27817b"/><circle cx="51.7" cy="364.1" r="0.76" fill="#2b8f87"/><circle cx="55.5" cy="364.2" r="0.57" fill="#1e635e"/><circle cx="53.3" cy="367.6" r="0.89" fill="#32a79e"/><circle cx="55.1" cy="368.6" r="0.94" fill="#37b5ac"/><circle cx="55.6" cy="366.5" r="0.88" fill="#267f79"/><circle cx="55.5" cy="367.1" r="0.61" fill="#298982"/><circle cx="55.5" cy="365.8" r="0.78" fill="#174c48"/><circle cx="53.7" cy="367.7" r="0.40" fill="#247670"/><circle cx="51.6" cy="369.0" r="0.58" fill="#174b47"/><circle cx="54.2" cy="365.2" r="0.50" fill="#23736d"/><circle cx="59.0" cy="369.5" r="0.76" fill="#1f6762"/><circle cx="57.4" cy="367.4" r="0.85" fill="#1b5955"/><circle cx="55.2" cy="367.3" r="0.56" fill="#2e9a92"/><circle cx="60.4" cy="370.3" r="0.87" fill="#1b5b56"/><circle cx="59.8" cy="366.4" r="0.73" fill="#34aca3"/><circle cx="56.8" cy="365.9" r="0.56" fill="#2e9890"/><circle cx="59.3" cy="371.2" r="0.79" fill="#2a8a83"/><circle cx="54.4" cy="369.8" r="0.68" fill="#3abfb5"/><circle cx="57.3" cy="365.7" r="0.85" fill="#164845"/><circle cx="55.9" cy="365.4" r="0.79" fill="#3bc5bb"/><circle cx="56.6" cy="367.6" r="0.42" fill="#2f9b93"/><circle cx="59.5" cy="367.9" r="0.65" fill="#174d49"/><circle cx="60.0" cy="368.8" r="0.53" fill="#206964"/><circle cx="56.3" cy="368.8" r="0.91" fill="#39bdb4"/><circle cx="59.5" cy="370.0" r="0.81" fill="#28857e"/><circle cx="58.5" cy="365.3" r="0.53" fill="#33aba2"/><circle cx="57.6" cy="371.5" r="0.65" fill="#37b6ad"/><circle cx="60.4" cy="370.1" r="0.56" fill="#174c48"/><circle cx="56.1" cy="367.2" r="0.73" fill="#22726c"/><circle cx="55.4" cy="365.9" r="0.74" fill="#1a5853"/><circle cx="54.6" cy="368.8" r="0.93" fill="#19534f"/><circle cx="57.8" cy="371.1" r="0.79" fill="#216c67"/><circle cx="54.0" cy="369.2" r="0.95" fill="#2b8f88"/><circle cx="56.8" cy="369.5" r="0.66" fill="#216d67"/><circle cx="59.6" cy="369.7" r="0.95" fill="#3dcac0"/><circle cx="54.5" cy="370.8" r="0.91" fill="#18504c"/><circle cx="60.0" cy="368.9" r="0.54" fill="#247670"/><circle cx="55.6" cy="365.8" r="0.55" fill="#1a5551"/><circle cx="56.1" cy="369.1" r="0.88" fill="#257a74"/><circle cx="59.3" cy="370.1" r="0.77" fill="#257c76"/><circle cx="57.3" cy="365.3" r="0.61" fill="#1a5652"/><circle cx="56.7" cy="369.0" r="0.59" fill="#257b75"/><circle cx="59.0" cy="366.9" r="0.41" fill="#33a8a0"/><circle cx="57.6" cy="368.2" r="0.61" fill="#38bab0"/><circle cx="60.4" cy="368.9" r="0.82" fill="#37b7ae"/><circle cx="57.5" cy="368.1" r="0.76" fill="#2f9a92"/><circle cx="59.5" cy="370.0" r="0.64" fill="#22706a"/><circle cx="58.0" cy="364.6" r="0.64" fill="#164a46"/><circle cx="57.8" cy="365.4" r="0.88" fill="#2b9088"/><circle cx="57.9" cy="368.3" r="0.91" fill="#267d76"/><circle cx="56.7" cy="366.6" r="0.88" fill="#298780"/><circle cx="59.7" cy="366.1" r="0.49" fill="#267d77"/><circle cx="57.3" cy="369.0" r="0.81" fill="#2f9d95"/><circle cx="56.3" cy="368.3" r="0.67" fill="#309f97"/><circle cx="59.5" cy="369.2" r="0.44" fill="#298982"/><circle cx="100.6" cy="362.6" r="0.60" fill="#44dad6"/><circle cx="102.9" cy="363.9" r="0.88" fill="#2f9592"/><circle cx="102.7" cy="361.6" r="0.55" fill="#41d1cd"/><circle cx="99.7" cy="363.4" r="0.60" fill="#3ec6c2"/><circle cx="99.3" cy="362.8" r="0.87" fill="#206663"/><circle cx="104.6" cy="361.9" r="0.76" fill="#319d9a"/><circle cx="101.4" cy="366.7" r="0.93" fill="#216b69"/><circle cx="99.6" cy="364.9" r="0.84" fill="#4cf4ef"/><circle cx="101.6" cy="363.5" r="0.91" fill="#4aeee9"/><circle cx="100.1" cy="362.9" r="0.65" fill="#43d6d2"/><circle cx="103.0" cy="364.9" r="0.93" fill="#216866"/><circle cx="104.2" cy="360.5" r="0.87" fill="#49e8e4"/><circle cx="105.7" cy="365.2" r="0.40" fill="#216b69"/><circle cx="102.0" cy="363.1" r="0.79" fill="#4cf3ee"/><circle cx="100.7" cy="361.4" r="0.64" fill="#42d3cf"/><circle cx="104.4" cy="364.7" r="0.92" fill="#257673"/><circle cx="102.5" cy="366.9" r="0.40" fill="#36aeaa"/><circle cx="104.8" cy="363.4" r="0.57" fill="#46dfdb"/><circle cx="102.8" cy="366.2" r="0.70" fill="#1c5b59"/><circle cx="100.0" cy="365.1" r="0.43" fill="#257674"/><circle cx="105.1" cy="361.3" r="0.44" fill="#277c79"/><circle cx="100.6" cy="364.5" r="0.67" fill="#3ec8c4"/><circle cx="102.2" cy="361.1" r="0.62" fill="#1b5856"/><circle cx="101.8" cy="366.9" r="0.44" fill="#34a7a4"/><circle cx="103.8" cy="366.7" r="0.51" fill="#33a29f"/><circle cx="102.4" cy="367.1" r="0.46" fill="#3bbcb8"/><circle cx="99.8" cy="361.0" r="0.67" fill="#49ebe6"/><circle cx="105.5" cy="364.4" r="0.91" fill="#1e5f5d"/><circle cx="105.7" cy="361.2" r="0.63" fill="#3fcac6"/><circle cx="104.4" cy="362.6" r="0.79" fill="#2b8a87"/><circle cx="104.3" cy="361.4" r="0.49" fill="#257673"/><circle cx="102.6" cy="359.4" r="0.66" fill="#2b8986"/><circle cx="103.3" cy="358.5" r="0.94" fill="#329f9b"/><circle cx="104.3" cy="361.4" r="0.44" fill="#309b98"/><circle cx="105.2" cy="359.6" r="0.82" fill="#2e9491"/><circle cx="103.9" cy="359.5" r="0.84" fill="#1f6563"/><circle cx="103.4" cy="359.8" r="0.70" fill="#329f9c"/><circle cx="102.7" cy="363.0" r="0.66" fill="#3bbdba"/><circle cx="103.7" cy="363.0" r="0.62" fill="#2e9491"/><circle cx="101.4" cy="361.5" r="0.43" fill="#257674"/><circle cx="105.6" cy="361.7" r="0.60" fill="#2c8d8a"/><circle cx="101.7" cy="365.8" r="0.81" fill="#3ec7c3"/><circle cx="102.5" cy="365.3" r="0.80" fill="#39b8b4"/><circle cx="102.1" cy="363.6" r="0.44" fill="#45ddd9"/><circle cx="103.0" cy="367.4" r="0.66" fill="#43d5d1"/><circle cx="101.8" cy="363.6" r="0.85" fill="#226c6a"/><circle cx="101.0" cy="366.0" r="0.91" fill="#2a8885"/><circle cx="100.9" cy="365.0" r="0.53" fill="#47e3de"/><circle cx="99.0" cy="366.5" r="0.73" fill="#35aaa6"/><circle cx="100.4" cy="366.6" r="0.62" fill="#3cc0bc"/><circle cx="99.3" cy="366.2" r="0.49" fill="#319c99"/><circle cx="101.8" cy="366.4" r="0.74" fill="#267876"/><circle cx="98.9" cy="367.2" r="0.93" fill="#247370"/><circle cx="101.7" cy="363.9" r="0.89" fill="#277d7a"/><circle cx="98.6" cy="362.3" r="0.82" fill="#43d6d1"/><circle cx="100.3" cy="364.0" r="0.55" fill="#28807d"/><circle cx="100.5" cy="364.3" r="0.50" fill="#277d7a"/><circle cx="100.2" cy="365.0" r="0.50" fill="#1e615f"/><circle cx="100.6" cy="363.9" r="0.69" fill="#3cc0bc"/><circle cx="101.9" cy="363.7" r="0.42" fill="#1b5755"/><circle cx="101.5" cy="362.0" r="0.65" fill="#2e9390"/><circle cx="101.4" cy="362.0" r="0.43" fill="#3ab8b5"/><circle cx="101.1" cy="361.8" r="0.44" fill="#35aaa7"/><circle cx="65.2" cy="381.2" r="0.92" fill="#154a41"/><circle cx="65.2" cy="378.0" r="0.82" fill="#32b09a"/><circle cx="64.1" cy="381.6" r="0.72" fill="#175045"/><circle cx="67.4" cy="381.1" r="0.65" fill="#237b6b"/><circle cx="66.2" cy="378.5" r="0.47" fill="#288b79"/><circle cx="64.5" cy="379.2" r="0.53" fill="#39c7ad"/><circle cx="64.6" cy="379.1" r="0.42" fill="#30a791"/><circle cx="66.8" cy="379.5" r="0.40" fill="#30aa94"/><circle cx="66.2" cy="378.6" r="0.60" fill="#237a6a"/><circle cx="67.2" cy="380.0" r="0.47" fill="#185449"/><circle cx="67.3" cy="381.8" r="0.58" fill="#31aa94"/><circle cx="65.9" cy="381.2" r="0.46" fill="#32af98"/><circle cx="63.8" cy="382.0" r="0.88" fill="#2fa690"/><circle cx="66.3" cy="382.2" r="0.47" fill="#1a5c50"/><circle cx="67.6" cy="383.0" r="0.79" fill="#31ad97"/><circle cx="66.8" cy="381.4" r="0.83" fill="#154b41"/><circle cx="67.4" cy="381.8" r="0.71" fill="#2c9985"/><circle cx="67.9" cy="383.4" r="0.75" fill="#35baa2"/><circle cx="65.1" cy="380.9" r="0.72" fill="#2b9682"/><circle cx="66.8" cy="383.8" r="0.69" fill="#154b41"/><circle cx="67.1" cy="382.1" r="0.58" fill="#19594d"/><circle cx="68.2" cy="382.1" r="0.49" fill="#35b9a1"/><circle cx="65.7" cy="378.2" r="0.74" fill="#207061"/><circle cx="63.8" cy="380.5" r="0.84" fill="#31ab95"/><circle cx="64.2" cy="378.7" r="0.52" fill="#227869"/><circle cx="63.9" cy="380.6" r="0.48" fill="#14463d"/><circle cx="66.2" cy="379.5" r="0.63" fill="#2b9683"/><circle cx="65.6" cy="377.9" r="0.82" fill="#237a6a"/><circle cx="65.9" cy="380.1" r="0.58" fill="#32ae98"/><circle cx="63.8" cy="379.0" r="0.41" fill="#19564b"/><circle cx="65.9" cy="378.6" r="0.77" fill="#175045"/><circle cx="65.1" cy="377.6" r="0.74" fill="#31ac96"/><circle cx="65.5" cy="379.1" r="0.72" fill="#2ea08b"/><circle cx="86.5" cy="396.4" r="0.52" fill="#217a63"/><circle cx="83.4" cy="396.6" r="0.63" fill="#1f705b"/><circle cx="87.3" cy="397.9" r="0.70" fill="#2da484"/><circle cx="85.5" cy="400.0" r="0.49" fill="#24856c"/><circle cx="84.4" cy="397.2" r="0.56" fill="#238169"/><circle cx="85.8" cy="396.9" r="0.80" fill="#175343"/><circle cx="87.1" cy="396.2" r="0.63" fill="#299679"/><circle cx="84.4" cy="395.8" r="0.52" fill="#2a987b"/><circle cx="86.9" cy="396.4" r="0.59" fill="#238169"/><circle cx="84.7" cy="399.1" r="0.56" fill="#185747"/><circle cx="85.7" cy="400.5" r="0.90" fill="#20765f"/><circle cx="83.8" cy="398.1" r="0.90" fill="#37c8a2"/><circle cx="87.8" cy="397.1" r="0.78" fill="#32b694"/><circle cx="85.7" cy="399.8" r="0.72" fill="#25876d"/><circle cx="86.2" cy="399.6" r="0.65" fill="#2da384"/><circle cx="87.0" cy="399.4" r="0.69" fill="#217760"/><circle cx="84.9" cy="399.0" r="0.61" fill="#207760"/><circle cx="87.4" cy="400.2" r="0.83" fill="#1b6250"/><circle cx="88.5" cy="399.4" r="0.77" fill="#268c71"/><circle cx="87.3" cy="399.5" r="0.74" fill="#1f725c"/><circle cx="87.3" cy="397.2" r="0.42" fill="#35c19c"/><circle cx="87.8" cy="398.2" r="0.70" fill="#2ca283"/><circle cx="85.0" cy="399.0" r="0.48" fill="#154c3d"/><circle cx="85.2" cy="400.6" r="0.49" fill="#1b6250"/><circle cx="85.5" cy="400.1" r="0.71" fill="#2ea989"/><circle cx="85.3" cy="401.7" r="0.66" fill="#2ea787"/><circle cx="84.1" cy="399.3" r="0.71" fill="#299478"/><circle cx="86.4" cy="401.1" r="0.92" fill="#31b391"/><circle cx="83.3" cy="400.6" r="0.59" fill="#268a70"/><circle cx="85.4" cy="400.1" r="0.74" fill="#1c6551"/><circle cx="86.0" cy="400.4" r="0.73" fill="#1a5d4b"/><circle cx="85.9" cy="395.3" r="0.89" fill="#1f715c"/><circle cx="85.9" cy="396.8" r="0.75" fill="#30ae8c"/><circle cx="86.1" cy="395.5" r="0.55" fill="#39d0a9"/><circle cx="85.0" cy="396.1" r="0.66" fill="#1b6451"/><circle cx="85.9" cy="395.5" r="0.50" fill="#1b6250"/><circle cx="70.2" cy="412.2" r="0.53" fill="#28926c"/><circle cx="67.7" cy="414.3" r="0.78" fill="#36c390"/><circle cx="70.3" cy="411.2" r="0.57" fill="#268965"/><circle cx="69.7" cy="412.7" r="0.79" fill="#1b6349"/><circle cx="70.9" cy="411.3" r="0.53" fill="#28906a"/><circle cx="68.4" cy="412.3" r="0.36" fill="#17533d"/><circle cx="68.6" cy="412.0" r="0.80" fill="#2c9f75"/><circle cx="70.2" cy="412.9" r="0.65" fill="#144a36"/><circle cx="69.8" cy="412.9" r="0.75" fill="#2ea77b"/><circle cx="70.0" cy="415.0" r="0.59" fill="#2b9a72"/><circle cx="70.8" cy="411.2" r="0.68" fill="#217657"/><circle cx="39.6" cy="423.2" r="0.84" fill="#2a8890"/><circle cx="40.6" cy="425.6" r="0.54" fill="#1f666c"/><circle cx="42.2" cy="422.6" r="0.82" fill="#33a6b0"/><circle cx="41.7" cy="419.4" r="0.66" fill="#1d5e64"/><circle cx="41.2" cy="418.8" r="0.42" fill="#257980"/><circle cx="43.9" cy="424.9" r="0.43" fill="#277f86"/><circle cx="40.4" cy="418.8" r="0.72" fill="#1d5e64"/><circle cx="38.2" cy="424.3" r="0.56" fill="#2e949d"/><circle cx="43.9" cy="423.9" r="0.45" fill="#2c8e96"/><circle cx="43.4" cy="418.9" r="0.73" fill="#35acb6"/><circle cx="37.8" cy="422.7" r="0.49" fill="#309ba5"/><circle cx="43.4" cy="422.1" r="0.49" fill="#34aab4"/><circle cx="41.6" cy="419.7" r="0.95" fill="#277e85"/><circle cx="43.4" cy="424.6" r="0.45" fill="#34a9b2"/><circle cx="44.4" cy="420.5" r="0.63" fill="#2a8890"/><circle cx="39.5" cy="424.9" r="0.64" fill="#267c84"/><circle cx="43.5" cy="427.1" r="0.75" fill="#35aab4"/><circle cx="43.8" cy="425.6" r="0.78" fill="#29838b"/><circle cx="44.8" cy="423.8" r="0.69" fill="#32a2ab"/><circle cx="38.0" cy="424.1" r="0.58" fill="#237379"/><circle cx="40.4" cy="420.8" r="0.53" fill="#1f646a"/><circle cx="38.9" cy="419.9" r="0.68" fill="#1c5c62"/><circle cx="41.4" cy="418.7" r="0.74" fill="#2d9199"/><circle cx="45.2" cy="422.4" r="0.73" fill="#1f666b"/><circle cx="41.7" cy="427.6" r="0.54" fill="#35acb6"/><circle cx="43.2" cy="422.9" r="0.76" fill="#1a5459"/><circle cx="42.4" cy="424.5" r="0.57" fill="#1e6065"/><circle cx="41.1" cy="424.5" r="0.90" fill="#1d5e63"/><circle cx="43.7" cy="420.9" r="0.41" fill="#31a0a9"/><circle cx="39.3" cy="423.9" r="0.94" fill="#1d5f65"/><circle cx="43.7" cy="423.3" r="0.81" fill="#133e41"/><circle cx="41.5" cy="427.3" r="0.79" fill="#288189"/><circle cx="38.7" cy="419.6" r="0.77" fill="#2a8991"/><circle cx="44.0" cy="420.4" r="0.72" fill="#1b585d"/><circle cx="42.0" cy="424.5" r="0.64" fill="#1c5b61"/><circle cx="39.9" cy="418.8" r="0.53" fill="#216b72"/><circle cx="40.9" cy="421.2" r="0.87" fill="#24757c"/><circle cx="45.6" cy="423.5" r="0.69" fill="#2b8a92"/><circle cx="44.4" cy="419.8" r="0.58" fill="#133e42"/><circle cx="43.5" cy="419.1" r="0.46" fill="#1c5a60"/><circle cx="42.1" cy="426.9" r="0.92" fill="#1a5459"/><circle cx="39.9" cy="427.5" r="0.65" fill="#1a555a"/><circle cx="41.0" cy="425.6" r="0.84" fill="#20686e"/><circle cx="40.1" cy="427.5" r="0.65" fill="#36b0ba"/><circle cx="42.1" cy="427.3" r="0.91" fill="#2d919a"/><circle cx="39.7" cy="424.1" r="0.54" fill="#216970"/><circle cx="42.0" cy="425.8" r="0.90" fill="#29868e"/><circle cx="40.4" cy="423.7" r="0.46" fill="#1e6066"/><circle cx="39.2" cy="427.1" r="0.93" fill="#36b0ba"/><circle cx="43.1" cy="425.1" r="0.49" fill="#34a9b3"/><circle cx="43.5" cy="426.5" r="0.51" fill="#2a878f"/><circle cx="40.9" cy="423.2" r="0.48" fill="#2b8a92"/><circle cx="42.5" cy="423.4" r="0.63" fill="#36b0bb"/><circle cx="41.5" cy="423.4" r="0.83" fill="#24737a"/><circle cx="45.3" cy="420.1" r="0.79" fill="#2b8d95"/><circle cx="47.8" cy="421.5" r="0.66" fill="#309aa3"/><circle cx="45.6" cy="419.8" r="0.76" fill="#1e6268"/><circle cx="42.2" cy="422.1" r="0.45" fill="#33a5af"/><circle cx="46.1" cy="423.4" r="0.61" fill="#16474b"/><circle cx="43.1" cy="421.0" r="0.92" fill="#267b82"/><circle cx="43.4" cy="424.0" r="0.76" fill="#1a555a"/><circle cx="46.7" cy="422.6" r="0.73" fill="#288088"/><circle cx="45.9" cy="420.6" r="0.65" fill="#2f98a1"/><circle cx="45.5" cy="424.0" r="0.69" fill="#29848b"/><circle cx="43.6" cy="418.6" r="0.45" fill="#33a5af"/><circle cx="42.3" cy="421.0" r="0.56" fill="#25767d"/><circle cx="45.2" cy="422.8" r="0.86" fill="#2b8b93"/><circle cx="45.8" cy="422.6" r="0.63" fill="#309da6"/><circle cx="42.4" cy="422.2" r="0.67" fill="#33a6b0"/><circle cx="44.4" cy="420.1" r="0.49" fill="#28838a"/><circle cx="44.8" cy="420.4" r="0.58" fill="#2c8e96"/><circle cx="43.0" cy="421.8" r="0.66" fill="#226e75"/><circle cx="47.8" cy="421.8" r="0.50" fill="#20676d"/><circle cx="44.6" cy="421.4" r="0.43" fill="#2d929b"/><circle cx="48.1" cy="421.8" r="0.45" fill="#24757c"/><circle cx="45.0" cy="420.5" r="0.52" fill="#226d74"/><circle cx="45.7" cy="422.6" r="0.76" fill="#1f656b"/><circle cx="44.8" cy="422.4" r="0.90" fill="#1d5e64"/><circle cx="43.4" cy="426.3" r="0.43" fill="#1d5f64"/><circle cx="42.9" cy="426.7" r="0.58" fill="#36afb9"/><circle cx="45.7" cy="423.4" r="0.51" fill="#24767d"/><circle cx="45.4" cy="425.9" r="0.79" fill="#174c50"/><circle cx="45.3" cy="424.7" r="0.95" fill="#216b72"/><circle cx="42.3" cy="424.1" r="0.72" fill="#216b72"/><circle cx="44.9" cy="425.3" r="0.85" fill="#24747b"/><circle cx="44.4" cy="424.0" r="0.68" fill="#267c83"/><circle cx="43.4" cy="425.8" r="0.77" fill="#2c8d95"/><circle cx="45.0" cy="424.2" r="0.42" fill="#2a868e"/><circle cx="43.3" cy="423.9" r="0.76" fill="#32a2ab"/><circle cx="43.4" cy="425.4" r="0.91" fill="#133f42"/><circle cx="45.2" cy="423.9" r="0.57" fill="#2c8f98"/><circle cx="45.3" cy="423.7" r="0.42" fill="#144043"/><circle cx="42.0" cy="423.8" r="0.90" fill="#25777e"/><circle cx="41.3" cy="424.4" r="0.83" fill="#226e74"/><circle cx="43.6" cy="422.8" r="0.44" fill="#2b8c94"/><circle cx="41.5" cy="423.0" r="0.76" fill="#184f54"/><circle cx="44.6" cy="422.4" r="0.45" fill="#24747b"/><circle cx="46.4" cy="423.2" r="0.63" fill="#133e42"/><circle cx="70.9" cy="420.5" r="0.56" fill="#2ea7a7"/><circle cx="70.7" cy="422.1" r="0.77" fill="#1d6c6c"/><circle cx="69.3" cy="422.4" r="0.72" fill="#33baba"/><circle cx="71.5" cy="422.7" r="0.39" fill="#154d4d"/><circle cx="72.6" cy="421.6" r="0.69" fill="#217878"/><circle cx="70.2" cy="424.8" r="0.87" fill="#31b3b3"/><circle cx="69.9" cy="422.1" r="0.86" fill="#2da5a5"/><circle cx="70.0" cy="423.2" r="0.87" fill="#175555"/><circle cx="72.0" cy="422.7" r="0.79" fill="#248484"/><circle cx="71.3" cy="421.3" r="0.51" fill="#2ea8a8"/><circle cx="70.3" cy="424.2" r="0.69" fill="#2a9b9b"/><circle cx="71.6" cy="421.1" r="0.82" fill="#2da4a4"/><circle cx="70.7" cy="421.2" r="0.80" fill="#289292"/><circle cx="70.9" cy="421.0" r="0.57" fill="#207777"/><circle cx="70.1" cy="420.2" r="0.61" fill="#2b9f9f"/><circle cx="69.5" cy="422.0" r="0.46" fill="#34bebe"/><circle cx="70.1" cy="419.4" r="0.52" fill="#185858"/><circle cx="71.5" cy="419.8" r="0.45" fill="#36c5c5"/><circle cx="70.4" cy="419.7" r="0.77" fill="#258787"/><circle cx="70.0" cy="424.0" r="0.62" fill="#217777"/><circle cx="71.6" cy="422.8" r="0.88" fill="#1e6e6e"/><circle cx="72.3" cy="424.7" r="0.74" fill="#34bfbf"/><circle cx="71.1" cy="424.2" r="0.57" fill="#268c8c"/><circle cx="70.2" cy="424.0" r="0.41" fill="#217979"/><circle cx="69.9" cy="424.6" r="0.80" fill="#1e6f6f"/><circle cx="69.9" cy="424.7" r="0.48" fill="#165151"/><circle cx="71.0" cy="423.9" r="0.67" fill="#207474"/><circle cx="71.0" cy="423.2" r="0.50" fill="#34bebe"/><circle cx="69.1" cy="424.8" r="0.57" fill="#238282"/><circle cx="73.5" cy="427.6" r="0.91" fill="#203b7f"/><circle cx="77.1" cy="430.0" r="0.73" fill="#2d53b2"/><circle cx="77.4" cy="431.1" r="0.59" fill="#3c6fee"/><circle cx="74.5" cy="428.9" r="0.42" fill="#23428d"/><circle cx="74.2" cy="425.9" r="0.87" fill="#3868df"/><circle cx="77.0" cy="426.1" r="0.91" fill="#305ac1"/><circle cx="76.9" cy="429.7" r="0.53" fill="#182d61"/><circle cx="77.4" cy="427.2" r="0.50" fill="#3665d8"/><circle cx="73.7" cy="429.9" r="0.80" fill="#1b336e"/><circle cx="78.5" cy="427.1" r="0.43" fill="#2a4fa9"/><circle cx="78.7" cy="429.2" r="0.54" fill="#294ca3"/><circle cx="74.8" cy="425.1" r="0.67" fill="#192e63"/><circle cx="74.9" cy="428.8" r="0.51" fill="#325dc8"/><circle cx="72.8" cy="427.1" r="0.76" fill="#27499c"/><circle cx="73.3" cy="430.3" r="0.61" fill="#24428e"/><circle cx="71.7" cy="429.8" r="0.90" fill="#3868de"/><circle cx="71.3" cy="429.2" r="0.84" fill="#1b326b"/><circle cx="75.5" cy="427.6" r="0.74" fill="#23428d"/><circle cx="75.0" cy="425.0" r="0.93" fill="#396ae4"/><circle cx="74.6" cy="428.9" r="0.44" fill="#3b6eeb"/><circle cx="74.2" cy="430.2" r="0.46" fill="#23418c"/><circle cx="73.3" cy="431.4" r="0.50" fill="#264899"/><circle cx="77.0" cy="426.8" r="0.48" fill="#254594"/><circle cx="75.0" cy="429.1" r="0.71" fill="#203c81"/><circle cx="75.7" cy="426.6" r="0.46" fill="#27489a"/><circle cx="73.5" cy="428.7" r="0.68" fill="#2d55b5"/><circle cx="75.9" cy="424.8" r="0.71" fill="#3564d5"/><circle cx="77.5" cy="430.8" r="0.93" fill="#264696"/><circle cx="76.9" cy="430.7" r="0.53" fill="#244390"/><circle cx="76.2" cy="430.1" r="0.86" fill="#3b6eec"/><circle cx="78.1" cy="431.0" r="0.64" fill="#294ca2"/><circle cx="75.5" cy="429.5" r="0.83" fill="#3a6ce6"/><circle cx="76.7" cy="430.9" r="0.42" fill="#254593"/><circle cx="76.8" cy="430.6" r="0.86" fill="#294da4"/><circle cx="77.1" cy="430.6" r="0.73" fill="#3563d4"/><circle cx="78.5" cy="428.4" r="0.82" fill="#1c346e"/><circle cx="78.2" cy="431.0" r="0.75" fill="#1c3571"/><circle cx="74.4" cy="431.4" r="0.78" fill="#294da4"/><circle cx="75.7" cy="429.3" r="0.69" fill="#224089"/><circle cx="74.1" cy="433.0" r="0.92" fill="#182d61"/><circle cx="72.8" cy="432.3" r="0.47" fill="#2f57bb"/><circle cx="74.5" cy="432.9" r="0.94" fill="#162959"/><circle cx="74.0" cy="429.5" r="0.87" fill="#23418b"/><circle cx="76.5" cy="430.3" r="0.44" fill="#23418b"/><circle cx="74.5" cy="433.3" r="0.90" fill="#3360cd"/><circle cx="75.7" cy="429.9" r="0.89" fill="#203c80"/><circle cx="77.7" cy="433.0" r="0.65" fill="#162957"/><circle cx="76.2" cy="430.6" r="0.53" fill="#182d61"/><circle cx="75.1" cy="430.8" r="0.57" fill="#2a4faa"/><circle cx="76.3" cy="431.4" r="0.91" fill="#325dc6"/><circle cx="75.7" cy="434.0" r="0.75" fill="#27499b"/><circle cx="76.0" cy="433.4" r="0.59" fill="#182e61"/><circle cx="76.5" cy="432.8" r="0.66" fill="#2c52ae"/><circle cx="76.0" cy="430.6" r="0.47" fill="#3767dd"/><circle cx="74.6" cy="431.2" r="0.52" fill="#2f58bb"/><circle cx="74.2" cy="431.9" r="0.92" fill="#152856"/><circle cx="74.4" cy="429.8" r="0.73" fill="#2c53b1"/><circle cx="78.5" cy="432.1" r="0.43" fill="#23418c"/><circle cx="73.8" cy="433.0" r="0.79" fill="#3664d7"/><circle cx="73.4" cy="430.4" r="0.58" fill="#244491"/><circle cx="75.2" cy="386.4" r="0.36" fill="#4c9e52"/><circle cx="75.1" cy="387.7" r="0.57" fill="#224725"/><circle cx="76.4" cy="387.1" r="0.43" fill="#2e6032"/><circle cx="77.2" cy="376.5" r="0.48" fill="#18473f"/><circle cx="78.7" cy="377.2" r="0.33" fill="#267367"/><circle cx="77.9" cy="377.1" r="0.67" fill="#1d584e"/><circle cx="78.7" cy="376.6" r="0.57" fill="#22665b"/><circle cx="92.0" cy="382.5" r="0.36" fill="#0e2225"/><circle cx="91.5" cy="382.7" r="0.35" fill="#16373c"/><circle cx="91.7" cy="382.7" r="0.71" fill="#255b63"/><circle cx="91.9" cy="382.1" r="0.56" fill="#255c63"/><circle cx="108.2" cy="390.6" r="0.73" fill="#255b8a"/><circle cx="108.6" cy="389.5" r="0.66" fill="#205079"/><circle cx="109.3" cy="391.4" r="0.64" fill="#132f47"/><circle cx="108.4" cy="391.0" r="0.50" fill="#245987"/><circle cx="109.1" cy="391.4" r="0.70" fill="#0e2335"/><circle cx="109.1" cy="390.8" r="0.58" fill="#265e8f"/><circle cx="108.0" cy="391.2" r="0.40" fill="#265d8d"/><circle cx="109.1" cy="391.1" r="0.45" fill="#245986"/><circle cx="60.1" cy="395.3" r="0.30" fill="#183b3b"/><circle cx="59.4" cy="394.5" r="0.56" fill="#173939"/><circle cx="60.4" cy="394.3" r="0.60" fill="#173939"/><circle cx="96.0" cy="404.9" r="0.67" fill="#153c33"/><circle cx="94.8" cy="404.6" r="0.38" fill="#19483e"/><circle cx="94.8" cy="406.2" r="0.33" fill="#1f574b"/><circle cx="50.9" cy="409.5" r="0.39" fill="#39693f"/><circle cx="49.4" cy="409.3" r="0.45" fill="#1f3922"/><circle cx="49.3" cy="410.4" r="0.33" fill="#2e5432"/></g>
</g>
<clipPath id="ec2"><rect x="120.1" y="355.6" width="83.9" height="83.9"/></clipPath>
<rect x="120.10" y="355.60" width="83.90" height="83.90" fill="#08090c" />
<g clip-path="url(#ec2)">
<g filter="url(#bl2)"><circle cx="203.4" cy="368.2" r="0.84" fill="#1a4a30"/><circle cx="171.1" cy="387.4" r="0.75" fill="#2a2a14"/><circle cx="144.3" cy="385.2" r="0.60" fill="#1a4a30"/><circle cx="166.7" cy="387.9" r="0.40" fill="#1a4a30"/><circle cx="182.7" cy="438.6" r="0.62" fill="#2a2a14"/><circle cx="135.6" cy="381.1" r="0.62" fill="#14304a"/><circle cx="151.7" cy="375.1" r="0.56" fill="#1a4a30"/><circle cx="190.9" cy="425.9" r="0.50" fill="#1a4a30"/><circle cx="155.9" cy="432.0" r="0.41" fill="#123a3a"/><circle cx="141.6" cy="430.8" r="0.86" fill="#1a4a30"/><circle cx="185.0" cy="400.8" r="0.66" fill="#2a2a14"/><circle cx="163.5" cy="413.1" r="0.63" fill="#2a2a14"/><circle cx="123.5" cy="412.3" r="0.87" fill="#2a2a14"/><circle cx="176.9" cy="399.7" r="0.60" fill="#123a3a"/><circle cx="162.1" cy="410.0" r="0.48" fill="#162a40"/><circle cx="135.9" cy="390.9" r="0.62" fill="#2a2a14"/><circle cx="172.5" cy="439.2" r="0.75" fill="#1a4a30"/><circle cx="182.7" cy="363.3" r="0.56" fill="#1a4a30"/><circle cx="202.2" cy="424.9" r="0.49" fill="#162a40"/><circle cx="175.1" cy="380.3" r="0.81" fill="#1a4a30"/><circle cx="203.2" cy="430.1" r="0.72" fill="#2a2a14"/><circle cx="164.1" cy="424.1" r="0.65" fill="#14304a"/><circle cx="135.9" cy="370.9" r="0.70" fill="#162a40"/><circle cx="149.7" cy="439.0" r="0.75" fill="#123a3a"/><circle cx="121.0" cy="355.8" r="0.40" fill="#162a40"/><circle cx="145.6" cy="426.3" r="0.41" fill="#162a40"/><circle cx="122.6" cy="370.3" r="0.68" fill="#162a40"/><circle cx="193.2" cy="430.7" r="0.90" fill="#162a40"/><circle cx="168.3" cy="390.1" r="0.47" fill="#123a3a"/><circle cx="163.6" cy="398.3" r="0.45" fill="#123a3a"/><circle cx="134.4" cy="399.4" r="0.71" fill="#2a2a14"/><circle cx="187.8" cy="360.8" r="0.74" fill="#123a3a"/><circle cx="168.7" cy="367.7" r="0.58" fill="#14304a"/><circle cx="134.3" cy="378.0" r="0.83" fill="#123a3a"/><circle cx="199.6" cy="360.9" r="0.62" fill="#14304a"/><circle cx="152.5" cy="360.2" r="0.69" fill="#2a2a14"/><circle cx="200.6" cy="392.5" r="0.52" fill="#162a40"/><circle cx="138.8" cy="369.0" r="0.83" fill="#162a40"/><circle cx="146.5" cy="431.0" r="0.55" fill="#2a2a14"/><circle cx="170.7" cy="436.1" r="0.89" fill="#2a2a14"/></g>
<g filter="url(#bl4)"><circle cx="145.5" cy="363.4" r="3.2" fill="#10323a" opacity="0.85"/><circle cx="147.2" cy="364.2" r="2.4" fill="#10323a" opacity="0.85"/><circle cx="144.1" cy="362.6" r="2.1" fill="#10323a" opacity="0.85"/><circle cx="145.2" cy="362.2" r="2.5" fill="#10323a" opacity="0.85"/><circle cx="193.1" cy="359.0" r="3.5" fill="#174c55" opacity="0.85"/><circle cx="194.9" cy="357.7" r="2.5" fill="#174c55" opacity="0.85"/><circle cx="192.3" cy="356.8" r="2.6" fill="#174c55" opacity="0.85"/><circle cx="194.7" cy="359.4" r="2.7" fill="#174c55" opacity="0.85"/><circle cx="163.7" cy="366.0" r="2.2" fill="#0e2029" opacity="0.85"/><circle cx="181.9" cy="379.8" r="3.2" fill="#174b6e" opacity="0.85"/><circle cx="181.0" cy="378.9" r="2.1" fill="#174b6e" opacity="0.85"/><circle cx="180.9" cy="379.0" r="2.5" fill="#174b6e" opacity="0.85"/><circle cx="181.6" cy="378.3" r="2.3" fill="#174b6e" opacity="0.85"/><circle cx="194.0" cy="380.7" r="4.1" fill="#17466a" opacity="0.85"/><circle cx="191.9" cy="379.2" r="3.3" fill="#17466a" opacity="0.85"/><circle cx="193.3" cy="378.8" r="2.5" fill="#17466a" opacity="0.85"/><circle cx="196.1" cy="380.1" r="2.7" fill="#17466a" opacity="0.85"/><circle cx="170.6" cy="387.6" r="3.2" fill="#17554b" opacity="0.85"/><circle cx="149.0" cy="388.5" r="3.2" fill="#173561" opacity="0.85"/><circle cx="135.2" cy="393.7" r="5.4" fill="#17336a" opacity="0.85"/><circle cx="131.7" cy="392.7" r="3.7" fill="#17336a" opacity="0.85"/><circle cx="137.1" cy="390.7" r="3.1" fill="#17336a" opacity="0.85"/><circle cx="138.5" cy="393.1" r="4.3" fill="#17336a" opacity="0.85"/><circle cx="133.4" cy="399.7" r="2.7" fill="#162c5c" opacity="0.85"/><circle cx="148.1" cy="406.6" r="4.6" fill="#162c61" opacity="0.85"/><circle cx="150.7" cy="406.7" r="3.6" fill="#162c61" opacity="0.85"/><circle cx="147.4" cy="408.5" r="2.7" fill="#162c61" opacity="0.85"/><circle cx="148.2" cy="408.5" r="2.9" fill="#162c61" opacity="0.85"/><circle cx="196.6" cy="403.2" r="4.1" fill="#173e6a" opacity="0.85"/><circle cx="195.2" cy="401.6" r="3.3" fill="#173e6a" opacity="0.85"/><circle cx="194.9" cy="405.2" r="2.6" fill="#173e6a" opacity="0.85"/><circle cx="197.7" cy="401.4" r="2.3" fill="#173e6a" opacity="0.85"/><circle cx="181.9" cy="429.1" r="4.6" fill="#132458" opacity="0.85"/><circle cx="182.6" cy="426.4" r="3.5" fill="#132458" opacity="0.85"/><circle cx="182.7" cy="431.7" r="3.6" fill="#132458" opacity="0.85"/><circle cx="181.1" cy="431.8" r="2.6" fill="#132458" opacity="0.85"/><circle cx="133.4" cy="413.6" r="2.0" fill="#0e1a3e" opacity="0.85"/></g>
<g filter="url(#bl3)"><circle cx="146.4" cy="363.9" r="0.57" fill="#0e2930"/><circle cx="146.7" cy="362.3" r="0.56" fill="#16424e"/><circle cx="146.5" cy="362.3" r="0.71" fill="#267286"/><circle cx="143.3" cy="364.5" r="0.66" fill="#174653"/><circle cx="144.0" cy="363.7" r="0.60" fill="#153e49"/><circle cx="147.8" cy="363.8" r="0.50" fill="#11323b"/><circle cx="146.1" cy="365.2" r="0.78" fill="#1c5362"/><circle cx="143.3" cy="363.9" r="0.50" fill="#174551"/><circle cx="145.8" cy="365.0" r="0.70" fill="#1c5564"/><circle cx="145.0" cy="365.1" r="0.48" fill="#236a7d"/><circle cx="144.4" cy="361.2" r="0.89" fill="#1d5665"/><circle cx="143.1" cy="364.3" r="0.65" fill="#184754"/><circle cx="146.5" cy="364.1" r="0.76" fill="#1f5c6d"/><circle cx="148.6" cy="365.1" r="0.75" fill="#216375"/><circle cx="148.8" cy="364.4" r="0.45" fill="#0e2a31"/><circle cx="146.8" cy="362.7" r="0.77" fill="#133a45"/><circle cx="147.9" cy="365.8" r="0.41" fill="#256e82"/><circle cx="147.7" cy="362.6" r="0.47" fill="#205f70"/><circle cx="144.9" cy="363.1" r="0.79" fill="#184754"/><circle cx="143.2" cy="363.8" r="0.61" fill="#1e5968"/><circle cx="143.0" cy="361.5" r="0.86" fill="#123640"/><circle cx="143.1" cy="363.7" r="0.73" fill="#246d81"/><circle cx="145.5" cy="362.8" r="0.61" fill="#27758a"/><circle cx="143.7" cy="363.3" r="0.42" fill="#153f4a"/><circle cx="145.0" cy="363.8" r="0.49" fill="#1f5c6d"/><circle cx="143.9" cy="363.1" r="0.60" fill="#216274"/><circle cx="146.2" cy="363.7" r="0.66" fill="#1e5968"/><circle cx="146.6" cy="361.7" r="0.49" fill="#1a4f5d"/><circle cx="143.3" cy="362.0" r="0.72" fill="#1c5564"/><circle cx="145.8" cy="362.0" r="0.77" fill="#1e5b6b"/><circle cx="191.6" cy="361.2" r="0.61" fill="#2d95a7"/><circle cx="195.3" cy="359.0" r="0.51" fill="#267c8a"/><circle cx="191.5" cy="361.2" r="0.62" fill="#1f6672"/><circle cx="190.8" cy="359.0" r="0.84" fill="#298897"/><circle cx="190.8" cy="358.9" r="0.50" fill="#2b8d9d"/><circle cx="194.5" cy="357.0" r="0.65" fill="#1a545e"/><circle cx="195.5" cy="358.2" r="0.69" fill="#19535c"/><circle cx="194.4" cy="361.1" r="0.51" fill="#1c5d67"/><circle cx="194.2" cy="358.7" r="0.57" fill="#164951"/><circle cx="192.4" cy="358.2" r="0.75" fill="#247785"/><circle cx="190.8" cy="359.3" r="0.39" fill="#2c8fa0"/><circle cx="194.6" cy="360.7" r="0.76" fill="#184e57"/><circle cx="192.5" cy="356.9" r="0.52" fill="#298898"/><circle cx="194.5" cy="360.2" r="0.89" fill="#2b8e9e"/><circle cx="196.1" cy="359.3" r="0.84" fill="#216e7a"/><circle cx="195.4" cy="359.3" r="0.39" fill="#247785"/><circle cx="196.8" cy="358.2" r="0.55" fill="#174b54"/><circle cx="194.2" cy="359.5" r="0.47" fill="#237280"/><circle cx="194.0" cy="357.2" r="0.69" fill="#15434b"/><circle cx="193.0" cy="358.1" r="0.65" fill="#2e96a7"/><circle cx="194.1" cy="359.2" r="0.53" fill="#2a8a9a"/><circle cx="193.7" cy="356.4" r="0.81" fill="#1e646f"/><circle cx="191.9" cy="357.2" r="0.54" fill="#298696"/><circle cx="192.1" cy="355.1" r="0.74" fill="#164750"/><circle cx="192.3" cy="356.4" r="0.60" fill="#184f58"/><circle cx="190.9" cy="358.3" r="0.67" fill="#33a7bb"/><circle cx="192.0" cy="356.2" r="0.77" fill="#1e636e"/><circle cx="191.4" cy="355.9" r="0.73" fill="#206874"/><circle cx="194.8" cy="360.2" r="0.88" fill="#31a0b3"/><circle cx="194.7" cy="359.9" r="0.45" fill="#309cae"/><circle cx="196.6" cy="358.4" r="0.60" fill="#15444c"/><circle cx="195.0" cy="360.7" r="0.78" fill="#36b3c8"/><circle cx="193.4" cy="358.4" r="0.46" fill="#1b5963"/><circle cx="195.8" cy="360.7" r="0.60" fill="#36b1c5"/><circle cx="195.6" cy="358.2" r="0.50" fill="#206a76"/><circle cx="196.3" cy="359.7" r="0.83" fill="#257a88"/><circle cx="164.0" cy="366.4" r="0.34" fill="#1b3d4e"/><circle cx="164.0" cy="365.7" r="0.32" fill="#21495d"/><circle cx="164.3" cy="367.3" r="0.47" fill="#0c1a22"/><circle cx="164.2" cy="364.7" r="0.55" fill="#16313f"/><circle cx="162.5" cy="365.7" r="0.50" fill="#183443"/><circle cx="180.4" cy="379.1" r="0.56" fill="#2a89ca"/><circle cx="183.5" cy="381.6" r="0.65" fill="#2a86c6"/><circle cx="182.6" cy="378.8" r="0.76" fill="#2c8dd0"/><circle cx="183.1" cy="381.3" r="0.66" fill="#35aafa"/><circle cx="181.1" cy="380.8" r="0.60" fill="#1c5b86"/><circle cx="182.3" cy="382.3" r="0.48" fill="#2e94d9"/><circle cx="182.3" cy="382.1" r="0.71" fill="#1a537a"/><circle cx="180.9" cy="377.9" r="0.49" fill="#2372a8"/><circle cx="179.8" cy="379.3" r="0.75" fill="#33a6f5"/><circle cx="179.7" cy="378.8" r="0.72" fill="#2f9ae2"/><circle cx="183.1" cy="381.2" r="0.64" fill="#319ee9"/><circle cx="183.8" cy="379.2" r="0.87" fill="#2579b2"/><circle cx="179.6" cy="379.2" r="0.65" fill="#35adff"/><circle cx="181.4" cy="379.9" r="0.42" fill="#206899"/><circle cx="180.2" cy="378.1" r="0.40" fill="#144261"/><circle cx="180.5" cy="377.3" r="0.61" fill="#174b6e"/><circle cx="182.0" cy="380.1" r="0.42" fill="#36afff"/><circle cx="181.1" cy="379.6" r="0.75" fill="#206696"/><circle cx="179.7" cy="380.3" r="0.79" fill="#2d92d7"/><circle cx="181.9" cy="379.1" r="0.50" fill="#2579b1"/><circle cx="179.8" cy="378.8" r="0.63" fill="#309ce5"/><circle cx="180.2" cy="379.9" r="0.54" fill="#2883c1"/><circle cx="182.7" cy="379.4" r="0.50" fill="#206696"/><circle cx="180.8" cy="378.7" r="0.88" fill="#2370a5"/><circle cx="182.0" cy="377.1" r="0.41" fill="#1c5b86"/><circle cx="182.7" cy="379.8" r="0.82" fill="#2b8bcc"/><circle cx="182.4" cy="377.1" r="0.50" fill="#37b0ff"/><circle cx="181.7" cy="377.4" r="0.60" fill="#14405e"/><circle cx="182.9" cy="378.3" r="0.62" fill="#14415f"/><circle cx="181.9" cy="377.9" r="0.69" fill="#2a88c8"/><circle cx="192.2" cy="380.4" r="0.47" fill="#297ebc"/><circle cx="194.7" cy="383.5" r="0.80" fill="#1f5e8c"/><circle cx="190.9" cy="381.3" r="0.57" fill="#1f5e8d"/><circle cx="192.5" cy="380.9" r="0.54" fill="#3299e5"/><circle cx="192.0" cy="379.1" r="0.80" fill="#18496e"/><circle cx="193.4" cy="381.2" r="0.95" fill="#206091"/><circle cx="191.8" cy="379.6" r="0.48" fill="#2c86c8"/><circle cx="196.6" cy="379.1" r="0.45" fill="#1a4f77"/><circle cx="191.8" cy="381.8" r="0.45" fill="#2f90d8"/><circle cx="194.4" cy="379.2" r="0.84" fill="#18496d"/><circle cx="196.9" cy="382.1" r="0.59" fill="#206192"/><circle cx="195.0" cy="379.4" r="0.88" fill="#2c87cb"/><circle cx="192.6" cy="383.0" r="0.77" fill="#329ae7"/><circle cx="194.5" cy="378.5" r="0.89" fill="#3092da"/><circle cx="195.3" cy="380.7" r="0.51" fill="#339ae7"/><circle cx="193.0" cy="378.9" r="0.62" fill="#2e8ed4"/><circle cx="196.2" cy="379.6" r="0.48" fill="#2d88cc"/><circle cx="194.0" cy="383.1" r="0.76" fill="#35a3f4"/><circle cx="195.3" cy="381.3" r="0.91" fill="#2879b6"/><circle cx="191.4" cy="380.7" r="0.66" fill="#36a3f5"/><circle cx="191.1" cy="377.1" r="0.91" fill="#3195df"/><circle cx="191.5" cy="380.2" r="0.89" fill="#2675b0"/><circle cx="192.0" cy="377.1" r="0.53" fill="#143c5a"/><circle cx="193.6" cy="379.7" r="0.89" fill="#1d5885"/><circle cx="191.1" cy="379.2" r="0.53" fill="#154060"/><circle cx="192.3" cy="379.6" r="0.44" fill="#3092dc"/><circle cx="190.0" cy="378.2" r="0.40" fill="#1d5783"/><circle cx="191.7" cy="378.9" r="0.58" fill="#143d5b"/><circle cx="190.9" cy="381.4" r="0.41" fill="#246fa6"/><circle cx="190.1" cy="377.7" r="0.50" fill="#3298e3"/><circle cx="192.1" cy="378.5" r="0.74" fill="#2f8ed5"/><circle cx="194.5" cy="378.7" r="0.92" fill="#3299e5"/><circle cx="194.4" cy="379.0" r="0.76" fill="#1e5c8a"/><circle cx="191.8" cy="379.6" r="0.86" fill="#184b70"/><circle cx="194.2" cy="378.9" r="0.69" fill="#3195e0"/><circle cx="192.5" cy="379.7" r="0.59" fill="#2b84c5"/><circle cx="193.8" cy="378.2" r="0.94" fill="#2778b4"/><circle cx="193.5" cy="380.3" r="0.85" fill="#246ea4"/><circle cx="197.7" cy="380.5" r="0.76" fill="#2775b0"/><circle cx="195.6" cy="378.6" r="0.60" fill="#2673ad"/><circle cx="195.9" cy="381.2" r="0.71" fill="#164467"/><circle cx="196.8" cy="378.2" r="0.48" fill="#297ebd"/><circle cx="194.4" cy="381.4" r="0.92" fill="#297ebc"/><circle cx="197.2" cy="381.2" r="0.51" fill="#2f8ed5"/><circle cx="196.0" cy="381.8" r="0.81" fill="#339cea"/><circle cx="197.4" cy="378.7" r="0.83" fill="#2673ad"/><circle cx="169.3" cy="389.3" r="0.56" fill="#32b6a1"/><circle cx="171.2" cy="390.0" r="0.78" fill="#21786a"/><circle cx="171.1" cy="389.8" r="0.36" fill="#2a9c89"/><circle cx="172.9" cy="387.8" r="0.78" fill="#2b9e8b"/><circle cx="169.9" cy="388.6" r="0.53" fill="#33bca6"/><circle cx="169.1" cy="389.1" r="0.76" fill="#144941"/><circle cx="172.7" cy="387.9" r="0.46" fill="#207466"/><circle cx="169.8" cy="389.1" r="0.48" fill="#32b8a3"/><circle cx="168.1" cy="387.6" r="0.73" fill="#248474"/><circle cx="172.6" cy="386.7" r="0.80" fill="#18574d"/><circle cx="170.4" cy="388.3" r="0.35" fill="#32b7a2"/><circle cx="170.6" cy="389.0" r="0.64" fill="#35c3ac"/><circle cx="149.1" cy="389.1" r="0.72" fill="#3171cf"/><circle cx="149.0" cy="388.0" r="0.72" fill="#234f91"/><circle cx="148.1" cy="388.9" r="0.79" fill="#2b63b6"/><circle cx="149.3" cy="387.6" r="0.78" fill="#183663"/><circle cx="148.4" cy="390.2" r="0.52" fill="#2e69c0"/><circle cx="147.4" cy="388.9" r="0.55" fill="#2a60af"/><circle cx="148.2" cy="387.1" r="0.51" fill="#3374d5"/><circle cx="148.0" cy="387.9" r="0.65" fill="#132c51"/><circle cx="150.3" cy="390.0" r="0.62" fill="#2c64b8"/><circle cx="148.9" cy="387.9" r="0.77" fill="#153059"/><circle cx="150.9" cy="390.1" r="0.81" fill="#26569e"/><circle cx="150.2" cy="388.5" r="0.61" fill="#2a5fae"/><circle cx="135.4" cy="394.8" r="0.79" fill="#132b59"/><circle cx="134.7" cy="397.9" r="0.51" fill="#152d5e"/><circle cx="136.2" cy="389.7" r="0.55" fill="#1f438c"/><circle cx="138.0" cy="394.4" r="0.56" fill="#1f438c"/><circle cx="131.6" cy="396.0" r="0.81" fill="#1c3e82"/><circle cx="132.4" cy="395.2" r="0.61" fill="#18356f"/><circle cx="135.5" cy="389.7" r="0.84" fill="#3370e9"/><circle cx="133.8" cy="392.1" r="0.68" fill="#3677f8"/><circle cx="133.9" cy="390.3" r="0.95" fill="#306add"/><circle cx="134.6" cy="392.6" r="0.74" fill="#142c5c"/><circle cx="134.6" cy="391.0" r="0.71" fill="#2b5fc6"/><circle cx="131.9" cy="394.9" r="0.65" fill="#2857b5"/><circle cx="131.8" cy="394.3" r="0.66" fill="#1f448e"/><circle cx="132.7" cy="392.9" r="0.85" fill="#2f67d8"/><circle cx="136.9" cy="391.8" r="0.44" fill="#3676f6"/><circle cx="134.8" cy="397.1" r="0.85" fill="#152f62"/><circle cx="136.2" cy="390.4" r="0.91" fill="#2e65d3"/><circle cx="134.9" cy="397.6" r="0.87" fill="#1f458f"/><circle cx="132.5" cy="392.0" r="0.95" fill="#152f61"/><circle cx="135.3" cy="391.1" r="0.51" fill="#193772"/><circle cx="132.9" cy="396.3" r="0.48" fill="#2b5dc2"/><circle cx="137.0" cy="397.4" r="0.87" fill="#2a5cc1"/><circle cx="137.2" cy="392.4" r="0.60" fill="#326de3"/><circle cx="132.7" cy="394.9" r="0.79" fill="#204794"/><circle cx="132.9" cy="396.3" r="0.69" fill="#1e4188"/><circle cx="134.0" cy="391.8" r="0.56" fill="#234c9f"/><circle cx="137.8" cy="395.9" r="0.80" fill="#193773"/><circle cx="134.9" cy="393.7" r="0.47" fill="#2450a6"/><circle cx="133.4" cy="390.9" r="0.69" fill="#3068d9"/><circle cx="135.1" cy="396.9" r="0.40" fill="#1c3e81"/><circle cx="133.2" cy="392.4" r="0.70" fill="#3471ec"/><circle cx="135.1" cy="395.9" r="0.64" fill="#2652ac"/><circle cx="133.9" cy="393.8" r="0.47" fill="#3574f3"/><circle cx="131.1" cy="395.2" r="0.91" fill="#2d62cb"/><circle cx="131.3" cy="393.1" r="0.81" fill="#3675f5"/><circle cx="129.6" cy="393.6" r="0.54" fill="#1b3c7d"/><circle cx="132.3" cy="391.8" r="0.74" fill="#3676f6"/><circle cx="133.1" cy="390.9" r="0.43" fill="#1a3978"/><circle cx="132.3" cy="392.0" r="0.65" fill="#214897"/><circle cx="129.3" cy="394.1" r="0.75" fill="#2f67d8"/><circle cx="133.4" cy="394.1" r="0.91" fill="#2c60c9"/><circle cx="129.0" cy="393.8" r="0.50" fill="#152e61"/><circle cx="130.8" cy="393.3" r="0.81" fill="#132a58"/><circle cx="131.9" cy="394.0" r="0.70" fill="#3472ed"/><circle cx="131.3" cy="394.3" r="0.61" fill="#234da1"/><circle cx="134.0" cy="394.1" r="0.71" fill="#132b59"/><circle cx="129.0" cy="392.7" r="0.52" fill="#234da1"/><circle cx="132.3" cy="391.5" r="0.58" fill="#326de3"/><circle cx="129.3" cy="391.9" r="0.86" fill="#18346d"/><circle cx="136.6" cy="391.0" r="0.74" fill="#1e428b"/><circle cx="138.0" cy="393.0" r="0.50" fill="#2654ae"/><circle cx="136.4" cy="390.6" r="0.61" fill="#2b5dc3"/><circle cx="136.6" cy="392.2" r="0.89" fill="#2b5fc6"/><circle cx="136.7" cy="391.8" r="0.61" fill="#224c9e"/><circle cx="135.8" cy="390.3" r="0.47" fill="#1a3a78"/><circle cx="135.7" cy="388.7" r="0.76" fill="#2c61ca"/><circle cx="138.6" cy="392.5" r="0.59" fill="#234da1"/><circle cx="136.6" cy="388.7" r="0.80" fill="#132a58"/><circle cx="139.3" cy="391.7" r="0.85" fill="#142c5c"/><circle cx="137.4" cy="392.3" r="0.51" fill="#1a3a79"/><circle cx="141.2" cy="392.6" r="0.62" fill="#2d62cd"/><circle cx="139.0" cy="394.6" r="0.50" fill="#326de2"/><circle cx="139.4" cy="394.0" r="0.88" fill="#3069db"/><circle cx="138.1" cy="393.1" r="0.80" fill="#2d63cf"/><circle cx="139.4" cy="394.5" r="0.80" fill="#2e64d1"/><circle cx="139.3" cy="390.7" r="0.49" fill="#2f66d5"/><circle cx="138.0" cy="390.7" r="0.66" fill="#1a3977"/><circle cx="139.2" cy="393.5" r="0.52" fill="#316bde"/><circle cx="137.9" cy="390.9" r="0.63" fill="#326de4"/><circle cx="139.6" cy="392.5" r="0.49" fill="#234c9f"/><circle cx="138.7" cy="389.9" r="0.84" fill="#2c61ca"/><circle cx="138.2" cy="391.2" r="0.54" fill="#2654b0"/><circle cx="139.3" cy="396.3" r="0.77" fill="#1b3b7c"/><circle cx="140.5" cy="392.8" r="0.49" fill="#1d4086"/><circle cx="136.9" cy="390.7" r="0.51" fill="#18356f"/><circle cx="139.3" cy="394.9" r="0.62" fill="#142c5d"/><circle cx="136.9" cy="395.3" r="0.52" fill="#2a5dc1"/><circle cx="137.6" cy="392.9" r="0.67" fill="#142b59"/><circle cx="139.2" cy="389.9" r="0.90" fill="#1a3977"/><circle cx="138.2" cy="394.9" r="0.72" fill="#2e65d2"/><circle cx="139.2" cy="395.3" r="0.82" fill="#2e65d3"/><circle cx="140.7" cy="391.6" r="0.56" fill="#2857b5"/><circle cx="133.5" cy="399.7" r="0.42" fill="#172e61"/><circle cx="133.1" cy="400.5" r="0.49" fill="#224590"/><circle cx="132.8" cy="400.8" r="0.38" fill="#2e5dc2"/><circle cx="134.1" cy="398.0" r="0.54" fill="#2b57b6"/><circle cx="134.0" cy="400.3" r="0.51" fill="#132651"/><circle cx="135.0" cy="400.1" r="0.52" fill="#2a53af"/><circle cx="131.7" cy="400.7" r="0.36" fill="#2b55b4"/><circle cx="133.3" cy="398.4" r="0.63" fill="#152a58"/><circle cx="146.1" cy="406.1" r="0.54" fill="#254ba4"/><circle cx="149.9" cy="407.1" r="0.92" fill="#1c377a"/><circle cx="144.7" cy="405.4" r="0.90" fill="#2b55bc"/><circle cx="146.4" cy="406.2" r="0.45" fill="#162b5f"/><circle cx="151.2" cy="407.7" r="0.79" fill="#19326f"/><circle cx="148.1" cy="405.5" r="0.49" fill="#2f5dcd"/><circle cx="150.5" cy="406.6" r="0.74" fill="#162b60"/><circle cx="146.9" cy="406.1" r="0.77" fill="#193370"/><circle cx="148.2" cy="409.8" r="0.68" fill="#2e5cca"/><circle cx="148.5" cy="405.7" r="0.59" fill="#152b5e"/><circle cx="148.8" cy="409.7" r="0.50" fill="#1c397d"/><circle cx="150.9" cy="408.2" r="0.73" fill="#18306b"/><circle cx="146.6" cy="409.8" r="0.83" fill="#132654"/><circle cx="148.4" cy="405.2" r="0.68" fill="#182f68"/><circle cx="149.0" cy="403.5" r="0.51" fill="#3163da"/><circle cx="146.9" cy="403.8" r="0.44" fill="#122450"/><circle cx="148.6" cy="406.1" r="0.69" fill="#1d3a81"/><circle cx="150.7" cy="407.8" r="0.43" fill="#2f5fd1"/><circle cx="150.2" cy="407.3" r="0.63" fill="#2850b1"/><circle cx="150.8" cy="406.1" r="0.84" fill="#234599"/><circle cx="148.5" cy="404.0" r="0.54" fill="#2a53b7"/><circle cx="147.8" cy="407.4" r="0.66" fill="#2d5ac5"/><circle cx="147.5" cy="405.3" r="0.61" fill="#2850af"/><circle cx="150.5" cy="405.6" r="0.81" fill="#264ca8"/><circle cx="146.5" cy="404.2" r="0.44" fill="#2d59c4"/><circle cx="151.5" cy="404.4" r="0.87" fill="#1a3473"/><circle cx="148.9" cy="405.6" r="0.88" fill="#264ba5"/><circle cx="153.1" cy="405.6" r="0.43" fill="#2951b2"/><circle cx="149.0" cy="408.1" r="0.83" fill="#1e3b82"/><circle cx="148.7" cy="408.6" r="0.53" fill="#2952b4"/><circle cx="151.3" cy="404.5" r="0.90" fill="#21418f"/><circle cx="150.2" cy="408.1" r="0.73" fill="#3265dd"/><circle cx="152.1" cy="405.3" r="0.63" fill="#1c387c"/><circle cx="152.0" cy="408.3" r="0.45" fill="#1f3f8a"/><circle cx="150.2" cy="406.8" r="0.58" fill="#3467e4"/><circle cx="151.7" cy="409.1" r="0.62" fill="#2449a0"/><circle cx="150.8" cy="408.0" r="0.74" fill="#1f3e87"/><circle cx="152.1" cy="405.6" r="0.58" fill="#172e66"/><circle cx="151.5" cy="408.1" r="0.85" fill="#3060d3"/><circle cx="148.6" cy="408.3" r="0.58" fill="#3060d2"/><circle cx="147.8" cy="406.9" r="0.87" fill="#3366e0"/><circle cx="147.3" cy="408.7" r="0.87" fill="#162b5f"/><circle cx="147.5" cy="410.2" r="0.76" fill="#2b56bd"/><circle cx="146.5" cy="406.6" r="0.80" fill="#2c57c0"/><circle cx="147.0" cy="407.9" r="0.81" fill="#1b3575"/><circle cx="146.1" cy="409.3" r="0.58" fill="#1b3677"/><circle cx="147.1" cy="409.7" r="0.79" fill="#2953b6"/><circle cx="150.2" cy="407.7" r="0.43" fill="#2851b1"/><circle cx="146.3" cy="408.6" r="0.41" fill="#3060d2"/><circle cx="148.8" cy="408.0" r="0.61" fill="#1d397e"/><circle cx="147.3" cy="408.4" r="0.73" fill="#224394"/><circle cx="149.8" cy="408.0" r="0.40" fill="#3264db"/><circle cx="148.1" cy="409.5" r="0.90" fill="#23479b"/><circle cx="149.2" cy="408.5" r="0.72" fill="#3367e2"/><circle cx="147.4" cy="407.7" r="0.83" fill="#132653"/><circle cx="146.8" cy="408.1" r="0.45" fill="#3265dd"/><circle cx="193.6" cy="402.6" r="0.51" fill="#307fda"/><circle cx="198.3" cy="403.9" r="0.69" fill="#2b73c6"/><circle cx="198.7" cy="401.8" r="0.93" fill="#2f7cd5"/><circle cx="194.9" cy="405.3" r="0.55" fill="#3387e8"/><circle cx="194.1" cy="403.6" r="0.91" fill="#215998"/><circle cx="195.8" cy="401.4" r="0.58" fill="#2f7ed8"/><circle cx="195.5" cy="403.4" r="0.91" fill="#296ebc"/><circle cx="194.5" cy="403.2" r="0.49" fill="#3387e8"/><circle cx="198.2" cy="403.7" r="0.69" fill="#2b71c2"/><circle cx="197.8" cy="401.5" r="0.44" fill="#215896"/><circle cx="196.2" cy="401.2" r="0.85" fill="#3183e1"/><circle cx="198.2" cy="404.7" r="0.41" fill="#2665ad"/><circle cx="196.0" cy="401.5" r="0.73" fill="#205591"/><circle cx="199.6" cy="402.8" r="0.88" fill="#163c66"/><circle cx="194.2" cy="401.4" r="0.86" fill="#2c76cb"/><circle cx="197.8" cy="402.6" r="0.50" fill="#2d77cc"/><circle cx="196.5" cy="402.1" r="0.62" fill="#3183e0"/><circle cx="197.3" cy="400.3" r="0.62" fill="#2562a8"/><circle cx="195.0" cy="405.8" r="0.79" fill="#18406e"/><circle cx="195.1" cy="399.9" r="0.91" fill="#1d4e86"/><circle cx="195.7" cy="403.7" r="0.91" fill="#153961"/><circle cx="197.2" cy="401.6" r="0.53" fill="#225c9d"/><circle cx="195.7" cy="403.7" r="0.83" fill="#2b73c5"/><circle cx="195.8" cy="400.8" r="0.52" fill="#3183e1"/><circle cx="195.3" cy="402.5" r="0.56" fill="#14365c"/><circle cx="197.7" cy="401.1" r="0.61" fill="#1d4e85"/><circle cx="193.8" cy="399.6" r="0.61" fill="#3388e9"/><circle cx="194.7" cy="399.3" r="0.73" fill="#2563a9"/><circle cx="193.3" cy="400.0" r="0.57" fill="#205591"/><circle cx="193.0" cy="400.5" r="0.44" fill="#14355a"/><circle cx="194.3" cy="401.5" r="0.92" fill="#1b477a"/><circle cx="193.2" cy="405.7" r="0.65" fill="#2562a9"/><circle cx="196.5" cy="405.0" r="0.73" fill="#14355c"/><circle cx="193.5" cy="404.9" r="0.67" fill="#1d4e86"/><circle cx="196.8" cy="404.4" r="0.69" fill="#1b487c"/><circle cx="193.1" cy="404.6" r="0.55" fill="#368ff5"/><circle cx="193.4" cy="404.4" r="0.52" fill="#194373"/><circle cx="195.3" cy="404.2" r="0.61" fill="#358df2"/><circle cx="194.8" cy="405.8" r="0.46" fill="#215896"/><circle cx="198.8" cy="401.0" r="0.77" fill="#3286e6"/><circle cx="198.7" cy="401.7" r="0.69" fill="#2a71c2"/><circle cx="197.6" cy="402.9" r="0.72" fill="#225b9d"/><circle cx="199.4" cy="401.0" r="0.74" fill="#1a4576"/><circle cx="197.2" cy="400.9" r="0.49" fill="#2e7bd2"/><circle cx="199.2" cy="402.2" r="0.41" fill="#2f7cd5"/><circle cx="181.7" cy="426.2" r="0.41" fill="#1a3278"/><circle cx="179.0" cy="430.7" r="0.75" fill="#2548ae"/><circle cx="179.2" cy="428.5" r="0.75" fill="#203d95"/><circle cx="181.0" cy="431.1" r="0.46" fill="#2547ad"/><circle cx="181.0" cy="426.9" r="0.42" fill="#2446a9"/><circle cx="182.2" cy="427.0" r="0.87" fill="#1a3279"/><circle cx="183.8" cy="427.4" r="0.45" fill="#193176"/><circle cx="180.5" cy="432.3" r="0.94" fill="#284dbc"/><circle cx="180.1" cy="428.8" r="0.61" fill="#1a3278"/><circle cx="179.9" cy="426.2" r="0.51" fill="#172d6e"/><circle cx="182.9" cy="426.7" r="0.83" fill="#2446ab"/><circle cx="183.7" cy="432.0" r="0.64" fill="#13255b"/><circle cx="184.3" cy="431.1" r="0.69" fill="#101f4c"/><circle cx="183.3" cy="425.8" r="0.45" fill="#2649b2"/><circle cx="182.7" cy="431.8" r="0.90" fill="#284ebd"/><circle cx="180.5" cy="431.4" r="0.65" fill="#2649b1"/><circle cx="182.2" cy="428.9" r="0.51" fill="#1a3278"/><circle cx="182.7" cy="428.3" r="0.88" fill="#2b53c8"/><circle cx="179.3" cy="430.1" r="0.91" fill="#2344a5"/><circle cx="184.6" cy="427.5" r="0.71" fill="#2446aa"/><circle cx="182.9" cy="428.0" r="0.76" fill="#284ebd"/><circle cx="185.0" cy="428.9" r="0.66" fill="#294fc0"/><circle cx="180.9" cy="428.3" r="0.67" fill="#1a337c"/><circle cx="180.9" cy="426.0" r="0.89" fill="#0f1e49"/><circle cx="179.0" cy="427.8" r="0.52" fill="#2547ac"/><circle cx="181.8" cy="425.3" r="0.90" fill="#152963"/><circle cx="184.5" cy="426.4" r="0.62" fill="#2a52c8"/><circle cx="184.9" cy="425.8" r="0.42" fill="#1f3d94"/><circle cx="181.0" cy="425.6" r="0.42" fill="#1d3888"/><circle cx="179.9" cy="426.8" r="0.82" fill="#294fc0"/><circle cx="183.5" cy="427.0" r="0.69" fill="#21409c"/><circle cx="181.7" cy="428.2" r="0.93" fill="#1a337c"/><circle cx="183.1" cy="425.9" r="0.42" fill="#2242a0"/><circle cx="184.4" cy="427.5" r="0.74" fill="#264ab4"/><circle cx="180.3" cy="425.9" r="0.76" fill="#21409c"/><circle cx="180.4" cy="427.0" r="0.71" fill="#152964"/><circle cx="183.3" cy="428.2" r="0.86" fill="#152964"/><circle cx="182.0" cy="424.1" r="0.77" fill="#2c55ce"/><circle cx="182.0" cy="425.9" r="0.69" fill="#2344a4"/><circle cx="183.9" cy="432.5" r="0.88" fill="#2c55ce"/><circle cx="184.0" cy="432.5" r="0.57" fill="#182e70"/><circle cx="180.6" cy="431.8" r="0.58" fill="#152862"/><circle cx="183.3" cy="432.0" r="0.78" fill="#2549b0"/><circle cx="183.1" cy="433.5" r="0.94" fill="#2a52c6"/><circle cx="181.6" cy="431.2" r="0.82" fill="#2548ae"/><circle cx="183.1" cy="431.9" r="0.43" fill="#2447ab"/><circle cx="182.2" cy="430.8" r="0.90" fill="#264bb5"/><circle cx="184.8" cy="432.5" r="0.56" fill="#172c6b"/><circle cx="184.4" cy="433.6" r="0.87" fill="#101f4c"/><circle cx="181.9" cy="432.5" r="0.49" fill="#2b53c9"/><circle cx="181.7" cy="430.1" r="0.74" fill="#2548ae"/><circle cx="182.7" cy="430.1" r="0.84" fill="#101e4a"/><circle cx="181.1" cy="431.4" r="0.70" fill="#1a3279"/><circle cx="181.1" cy="431.7" r="0.82" fill="#162b68"/><circle cx="180.8" cy="432.3" r="0.49" fill="#10204d"/><circle cx="181.9" cy="430.7" r="0.59" fill="#112151"/><circle cx="182.1" cy="432.8" r="0.52" fill="#11214f"/><circle cx="180.6" cy="430.9" r="0.90" fill="#2a52c7"/><circle cx="179.3" cy="431.6" r="0.75" fill="#2242a0"/><circle cx="181.5" cy="433.6" r="0.89" fill="#2446a9"/><circle cx="180.4" cy="432.1" r="0.92" fill="#21409b"/><circle cx="132.9" cy="413.2" r="0.71" fill="#12214d"/><circle cx="132.7" cy="414.2" r="0.71" fill="#0e193b"/><circle cx="134.3" cy="412.6" r="0.57" fill="#1a3071"/><circle cx="133.4" cy="413.0" r="0.34" fill="#0d1839"/></g>
</g>
<clipPath id="ec3"><rect x="213.6" y="355.6" width="84.4" height="83.9"/></clipPath>
<rect x="213.60" y="355.60" width="84.40" height="83.90" fill="#08090c" />
<g clip-path="url(#ec3)">
<g filter="url(#bl2)"><circle cx="246.6" cy="362.1" r="0.67" fill="#123a3a"/><circle cx="219.8" cy="361.8" r="0.46" fill="#162a40"/><circle cx="255.3" cy="436.9" r="0.86" fill="#1a4a30"/><circle cx="251.6" cy="431.1" r="0.55" fill="#1a4a30"/><circle cx="248.1" cy="413.5" r="0.89" fill="#2a2a14"/><circle cx="287.7" cy="427.9" r="0.57" fill="#2a2a14"/><circle cx="283.8" cy="358.2" r="0.45" fill="#14304a"/><circle cx="231.2" cy="385.0" r="0.54" fill="#1a4a30"/><circle cx="214.4" cy="371.5" r="0.48" fill="#123a3a"/><circle cx="269.2" cy="404.8" r="0.49" fill="#1a4a30"/><circle cx="225.7" cy="363.7" r="0.59" fill="#123a3a"/><circle cx="268.6" cy="403.4" r="0.43" fill="#14304a"/><circle cx="238.6" cy="378.1" r="0.87" fill="#14304a"/><circle cx="243.6" cy="401.1" r="0.47" fill="#14304a"/><circle cx="280.1" cy="376.7" r="0.48" fill="#1a4a30"/><circle cx="269.6" cy="428.8" r="0.54" fill="#14304a"/><circle cx="245.7" cy="419.8" r="0.72" fill="#14304a"/><circle cx="288.4" cy="419.6" r="0.52" fill="#1a4a30"/><circle cx="289.0" cy="377.7" r="0.43" fill="#123a3a"/><circle cx="269.6" cy="425.8" r="0.54" fill="#14304a"/><circle cx="253.5" cy="396.5" r="0.63" fill="#123a3a"/><circle cx="273.7" cy="363.5" r="0.64" fill="#123a3a"/><circle cx="291.5" cy="431.9" r="0.62" fill="#2a2a14"/><circle cx="223.6" cy="361.3" r="0.62" fill="#1a4a30"/><circle cx="233.8" cy="384.0" r="0.44" fill="#123a3a"/><circle cx="232.4" cy="418.0" r="0.71" fill="#162a40"/><circle cx="298.0" cy="433.5" r="0.46" fill="#2a2a14"/><circle cx="293.2" cy="399.6" r="0.66" fill="#14304a"/><circle cx="256.7" cy="382.1" r="0.44" fill="#123a3a"/><circle cx="236.0" cy="433.1" r="0.79" fill="#2a2a14"/><circle cx="224.7" cy="423.3" r="0.45" fill="#1a4a30"/><circle cx="237.3" cy="421.8" r="0.46" fill="#123a3a"/><circle cx="296.7" cy="396.0" r="0.65" fill="#14304a"/><circle cx="266.6" cy="423.7" r="0.72" fill="#123a3a"/><circle cx="271.6" cy="358.3" r="0.79" fill="#14304a"/><circle cx="269.7" cy="367.3" r="0.47" fill="#1a4a30"/><circle cx="281.4" cy="434.9" r="0.83" fill="#123a3a"/><circle cx="244.6" cy="431.3" r="0.75" fill="#14304a"/><circle cx="214.9" cy="394.1" r="0.62" fill="#123a3a"/><circle cx="285.3" cy="379.5" r="0.82" fill="#14304a"/></g>
<g filter="url(#bl4)"><circle cx="217.7" cy="370.2" r="4.3" fill="#175672" opacity="0.85"/><circle cx="217.0" cy="372.1" r="2.6" fill="#175672" opacity="0.85"/><circle cx="219.2" cy="370.8" r="2.6" fill="#175672" opacity="0.85"/><circle cx="216.3" cy="371.9" r="2.5" fill="#175672" opacity="0.85"/><circle cx="248.4" cy="359.0" r="2.4" fill="#174c4c" opacity="0.85"/><circle cx="264.9" cy="370.2" r="3.2" fill="#17616a" opacity="0.85"/><circle cx="292.4" cy="376.2" r="5.9" fill="#186567" opacity="0.85"/><circle cx="291.7" cy="372.5" r="4.3" fill="#186567" opacity="0.85"/><circle cx="289.7" cy="376.6" r="3.4" fill="#186567" opacity="0.85"/><circle cx="290.6" cy="373.4" r="4.0" fill="#186567" opacity="0.85"/><circle cx="236.3" cy="379.3" r="1.6" fill="#0e323a" opacity="0.85"/><circle cx="264.1" cy="386.3" r="3.0" fill="#175543" opacity="0.85"/><circle cx="235.2" cy="393.4" r="4.6" fill="#174d72" opacity="0.85"/><circle cx="234.3" cy="390.5" r="3.6" fill="#174d72" opacity="0.85"/><circle cx="233.5" cy="395.5" r="2.8" fill="#174d72" opacity="0.85"/><circle cx="233.3" cy="395.2" r="3.0" fill="#174d72" opacity="0.85"/><circle cx="281.7" cy="407.5" r="4.1" fill="#175f58" opacity="0.85"/><circle cx="283.2" cy="406.3" r="3.1" fill="#175f58" opacity="0.85"/><circle cx="282.8" cy="405.6" r="2.7" fill="#175f58" opacity="0.85"/><circle cx="280.2" cy="407.7" r="3.3" fill="#175f58" opacity="0.85"/><circle cx="236.3" cy="418.6" r="4.5" fill="#175670" opacity="0.85"/><circle cx="236.8" cy="416.3" r="2.7" fill="#175670" opacity="0.85"/><circle cx="236.0" cy="420.9" r="3.7" fill="#175670" opacity="0.85"/><circle cx="239.3" cy="418.4" r="3.0" fill="#175670" opacity="0.85"/><circle cx="244.4" cy="421.7" r="4.9" fill="#174f6e" opacity="0.85"/><circle cx="242.5" cy="422.6" r="4.0" fill="#174f6e" opacity="0.85"/><circle cx="245.2" cy="424.9" r="3.6" fill="#174f6e" opacity="0.85"/><circle cx="244.4" cy="424.4" r="3.9" fill="#174f6e" opacity="0.85"/><circle cx="252.5" cy="421.7" r="4.5" fill="#17546e" opacity="0.85"/><circle cx="255.3" cy="421.3" r="3.6" fill="#17546e" opacity="0.85"/><circle cx="252.1" cy="423.4" r="2.8" fill="#17546e" opacity="0.85"/><circle cx="255.1" cy="420.2" r="2.8" fill="#17546e" opacity="0.85"/><circle cx="260.5" cy="424.7" r="3.9" fill="#174b6a" opacity="0.85"/><circle cx="261.2" cy="422.7" r="2.4" fill="#174b6a" opacity="0.85"/><circle cx="259.1" cy="423.5" r="2.3" fill="#174b6a" opacity="0.85"/><circle cx="260.0" cy="423.4" r="3.0" fill="#174b6a" opacity="0.85"/><circle cx="247.0" cy="417.0" r="3.2" fill="#1a586e" opacity="0.85"/><circle cx="245.7" cy="417.3" r="2.4" fill="#1a586e" opacity="0.85"/><circle cx="249.0" cy="416.3" r="2.4" fill="#1a586e" opacity="0.85"/><circle cx="248.3" cy="418.4" r="2.5" fill="#1a586e" opacity="0.85"/><circle cx="276.6" cy="392.4" r="1.7" fill="#0e2932" opacity="0.85"/><circle cx="228.0" cy="420.0" r="2.7" fill="#0e3243" opacity="0.85"/></g>
<g filter="url(#bl3)"><circle cx="215.5" cy="372.4" r="0.81" fill="#2b9fd5"/><circle cx="218.5" cy="373.4" r="0.51" fill="#2485b1"/><circle cx="216.6" cy="373.0" r="0.55" fill="#36c7ff"/><circle cx="217.7" cy="369.6" r="0.50" fill="#227da7"/><circle cx="217.0" cy="367.7" r="0.82" fill="#1b6688"/><circle cx="218.4" cy="369.1" r="0.85" fill="#2997c9"/><circle cx="215.2" cy="370.6" r="0.61" fill="#1c698c"/><circle cx="216.1" cy="369.5" r="0.63" fill="#33bfff"/><circle cx="219.0" cy="370.2" r="0.58" fill="#2eaae3"/><circle cx="218.8" cy="372.1" r="0.44" fill="#30b3ee"/><circle cx="218.1" cy="368.5" r="0.71" fill="#1b6485"/><circle cx="219.4" cy="372.6" r="0.93" fill="#2ca5db"/><circle cx="219.6" cy="371.5" r="0.85" fill="#35c6ff"/><circle cx="218.4" cy="369.7" r="0.81" fill="#195d7d"/><circle cx="218.3" cy="370.9" r="0.61" fill="#1e6e93"/><circle cx="216.2" cy="367.8" r="0.72" fill="#2381ad"/><circle cx="215.2" cy="370.2" r="0.77" fill="#20779f"/><circle cx="215.2" cy="369.9" r="0.64" fill="#2895c6"/><circle cx="217.7" cy="372.3" r="0.87" fill="#35c5ff"/><circle cx="216.3" cy="368.5" r="0.93" fill="#1c688b"/><circle cx="218.9" cy="367.6" r="0.43" fill="#2ba1d6"/><circle cx="217.3" cy="373.2" r="0.91" fill="#2381ac"/><circle cx="216.1" cy="373.6" r="0.93" fill="#33bcfb"/><circle cx="215.9" cy="372.3" r="0.93" fill="#36c8ff"/><circle cx="218.8" cy="373.2" r="0.70" fill="#217ba5"/><circle cx="218.2" cy="373.4" r="0.60" fill="#2ca4db"/><circle cx="216.0" cy="373.1" r="0.60" fill="#37caff"/><circle cx="215.8" cy="370.6" r="0.46" fill="#258ab8"/><circle cx="218.3" cy="371.0" r="0.76" fill="#2484b1"/><circle cx="218.0" cy="371.2" r="0.70" fill="#1f749b"/><circle cx="219.2" cy="369.7" r="0.85" fill="#2ca2d8"/><circle cx="218.4" cy="369.2" r="0.62" fill="#175672"/><circle cx="218.4" cy="370.0" r="0.70" fill="#1a6182"/><circle cx="219.2" cy="372.4" r="0.82" fill="#20779f"/><circle cx="220.1" cy="369.5" r="0.49" fill="#154f69"/><circle cx="217.6" cy="371.3" r="0.82" fill="#154c66"/><circle cx="217.5" cy="371.0" r="0.63" fill="#2791c1"/><circle cx="218.0" cy="372.2" r="0.86" fill="#16526d"/><circle cx="216.3" cy="372.7" r="0.50" fill="#33befd"/><circle cx="216.5" cy="371.0" r="0.41" fill="#16516c"/><circle cx="217.0" cy="372.4" r="0.66" fill="#16506b"/><circle cx="215.7" cy="372.8" r="0.81" fill="#32baf8"/><circle cx="215.3" cy="373.6" r="0.55" fill="#1c698d"/><circle cx="248.8" cy="359.2" r="0.75" fill="#184e4e"/><circle cx="249.1" cy="358.2" r="0.54" fill="#184f4f"/><circle cx="246.9" cy="357.8" r="0.68" fill="#2e9696"/><circle cx="249.1" cy="357.9" r="0.45" fill="#134040"/><circle cx="248.2" cy="359.5" r="0.53" fill="#154646"/><circle cx="249.4" cy="360.4" r="0.52" fill="#247575"/><circle cx="265.7" cy="368.3" r="0.74" fill="#2496a3"/><circle cx="264.6" cy="370.3" r="0.79" fill="#1b6f7a"/><circle cx="265.8" cy="368.7" r="0.71" fill="#259aa8"/><circle cx="263.4" cy="370.0" r="0.37" fill="#1b717c"/><circle cx="266.7" cy="370.5" r="0.45" fill="#2dbbcc"/><circle cx="263.8" cy="370.5" r="0.44" fill="#36e3f7"/><circle cx="267.3" cy="370.1" r="0.41" fill="#155861"/><circle cx="263.5" cy="370.5" r="0.68" fill="#2bb5c6"/><circle cx="264.2" cy="368.0" r="0.54" fill="#269dac"/><circle cx="264.1" cy="372.3" r="0.50" fill="#1d7b86"/><circle cx="264.3" cy="371.3" r="0.43" fill="#29adbd"/><circle cx="264.9" cy="370.6" r="0.50" fill="#2fc5d7"/><circle cx="296.2" cy="377.9" r="0.68" fill="#25999c"/><circle cx="295.1" cy="372.6" r="0.63" fill="#2ec1c5"/><circle cx="288.4" cy="375.3" r="0.80" fill="#208487"/><circle cx="296.3" cy="377.5" r="0.45" fill="#36e3e8"/><circle cx="295.3" cy="379.4" r="0.92" fill="#29aaae"/><circle cx="296.0" cy="377.7" r="0.42" fill="#2cbabe"/><circle cx="294.7" cy="373.2" r="0.59" fill="#27a4a8"/><circle cx="294.8" cy="379.3" r="0.79" fill="#2fc6ca"/><circle cx="296.8" cy="377.1" r="0.77" fill="#28a6a9"/><circle cx="291.6" cy="373.7" r="0.85" fill="#2ab1b5"/><circle cx="290.5" cy="377.5" r="0.61" fill="#32d1d6"/><circle cx="291.7" cy="373.5" r="0.89" fill="#259a9e"/><circle cx="291.1" cy="375.7" r="0.92" fill="#37e6eb"/><circle cx="291.9" cy="373.3" r="0.52" fill="#1b7072"/><circle cx="293.9" cy="372.4" r="0.62" fill="#1b7275"/><circle cx="293.3" cy="372.3" r="0.90" fill="#26a0a3"/><circle cx="294.7" cy="373.7" r="0.84" fill="#155759"/><circle cx="288.2" cy="375.9" r="0.78" fill="#38ebf1"/><circle cx="290.4" cy="374.5" r="0.80" fill="#34d8dc"/><circle cx="290.8" cy="372.7" r="0.43" fill="#145355"/><circle cx="292.7" cy="378.9" r="0.83" fill="#1d7b7d"/><circle cx="293.3" cy="376.4" r="0.95" fill="#1c7679"/><circle cx="290.6" cy="380.2" r="0.92" fill="#1f8285"/><circle cx="290.2" cy="374.2" r="0.56" fill="#37e6eb"/><circle cx="296.2" cy="376.5" r="0.82" fill="#31cbd0"/><circle cx="288.3" cy="374.4" r="0.85" fill="#2cb8bc"/><circle cx="296.6" cy="377.6" r="0.49" fill="#196a6d"/><circle cx="291.2" cy="379.3" r="0.58" fill="#24979a"/><circle cx="291.6" cy="378.3" r="0.79" fill="#2dbcc0"/><circle cx="296.6" cy="377.7" r="0.49" fill="#208588"/><circle cx="293.1" cy="371.9" r="0.93" fill="#34dbe0"/><circle cx="288.1" cy="375.0" r="0.84" fill="#33d7db"/><circle cx="296.9" cy="375.6" r="0.66" fill="#259b9e"/><circle cx="292.4" cy="371.9" r="0.80" fill="#218b8e"/><circle cx="293.9" cy="376.8" r="0.89" fill="#36e0e5"/><circle cx="295.2" cy="376.7" r="0.74" fill="#26a1a4"/><circle cx="296.5" cy="377.6" r="0.75" fill="#1f8386"/><circle cx="289.6" cy="376.6" r="0.75" fill="#35dee2"/><circle cx="290.1" cy="375.0" r="0.59" fill="#33d6db"/><circle cx="292.2" cy="373.4" r="0.90" fill="#2ab1b4"/><circle cx="296.8" cy="376.1" r="0.44" fill="#24999c"/><circle cx="295.0" cy="372.8" r="0.52" fill="#1c7376"/><circle cx="288.5" cy="371.6" r="0.76" fill="#34dadf"/><circle cx="290.2" cy="370.4" r="0.65" fill="#29acb0"/><circle cx="292.9" cy="372.7" r="0.95" fill="#1b7072"/><circle cx="291.0" cy="374.9" r="0.81" fill="#186365"/><circle cx="292.4" cy="369.9" r="0.43" fill="#228c8f"/><circle cx="294.4" cy="371.5" r="0.49" fill="#2cb6ba"/><circle cx="293.6" cy="373.5" r="0.58" fill="#39eef3"/><circle cx="288.3" cy="372.2" r="0.67" fill="#30c8cd"/><circle cx="294.9" cy="372.7" r="0.73" fill="#228e91"/><circle cx="293.3" cy="369.7" r="0.49" fill="#145657"/><circle cx="289.8" cy="369.9" r="0.46" fill="#29acb0"/><circle cx="292.4" cy="372.8" r="0.68" fill="#36e0e5"/><circle cx="293.4" cy="370.2" r="0.79" fill="#1c7477"/><circle cx="290.3" cy="372.8" r="0.52" fill="#1a6b6d"/><circle cx="291.1" cy="372.7" r="0.47" fill="#2ebec2"/><circle cx="290.3" cy="371.5" r="0.52" fill="#2bb5b9"/><circle cx="294.5" cy="373.5" r="0.84" fill="#36e0e5"/><circle cx="293.2" cy="375.1" r="0.70" fill="#1c777a"/><circle cx="292.4" cy="371.0" r="0.50" fill="#34dbe0"/><circle cx="294.5" cy="372.1" r="0.46" fill="#259b9e"/><circle cx="290.3" cy="371.6" r="0.86" fill="#249598"/><circle cx="287.8" cy="376.5" r="0.40" fill="#34dbe0"/><circle cx="291.4" cy="374.7" r="0.71" fill="#239497"/><circle cx="289.2" cy="377.6" r="0.52" fill="#28a8ab"/><circle cx="287.8" cy="377.9" r="0.95" fill="#1c7679"/><circle cx="290.8" cy="375.4" r="0.64" fill="#1f8386"/><circle cx="288.5" cy="375.2" r="0.48" fill="#2aafb3"/><circle cx="290.8" cy="377.6" r="0.63" fill="#33d6db"/><circle cx="289.9" cy="374.5" r="0.66" fill="#1e7e81"/><circle cx="287.8" cy="376.4" r="0.68" fill="#27a1a5"/><circle cx="289.9" cy="378.2" r="0.61" fill="#165e60"/><circle cx="291.6" cy="378.0" r="0.58" fill="#2ec1c5"/><circle cx="290.9" cy="374.8" r="0.66" fill="#33d5da"/><circle cx="289.2" cy="376.4" r="0.83" fill="#269da1"/><circle cx="288.0" cy="373.3" r="0.77" fill="#37e8ed"/><circle cx="289.7" cy="372.6" r="0.76" fill="#30c8cc"/><circle cx="293.2" cy="373.5" r="0.74" fill="#2dbdc1"/><circle cx="289.2" cy="374.5" r="0.71" fill="#1c7578"/><circle cx="291.0" cy="372.2" r="0.70" fill="#2cb9bd"/><circle cx="290.4" cy="374.5" r="0.90" fill="#38ebf0"/><circle cx="288.5" cy="371.5" r="0.64" fill="#1e7e80"/><circle cx="290.2" cy="373.4" r="0.70" fill="#31cfd3"/><circle cx="289.2" cy="376.1" r="0.46" fill="#1d7b7d"/><circle cx="288.8" cy="371.9" r="0.87" fill="#145557"/><circle cx="290.9" cy="372.6" r="0.85" fill="#2bb5b9"/><circle cx="293.6" cy="373.6" r="0.56" fill="#26a0a4"/><circle cx="292.4" cy="372.7" r="0.44" fill="#1c7476"/><circle cx="290.5" cy="372.2" r="0.57" fill="#1c7578"/><circle cx="289.6" cy="373.8" r="0.93" fill="#36e1e6"/><circle cx="291.5" cy="374.2" r="0.70" fill="#38ebf0"/><circle cx="290.8" cy="372.2" r="0.86" fill="#15595b"/><circle cx="287.9" cy="373.5" r="0.63" fill="#2bb5b9"/><circle cx="236.2" cy="378.8" r="0.34" fill="#12404b"/><circle cx="236.7" cy="379.6" r="0.31" fill="#13424d"/><circle cx="236.1" cy="378.8" r="0.48" fill="#0e3139"/><circle cx="264.6" cy="387.6" r="0.78" fill="#1a5f4b"/><circle cx="265.7" cy="387.8" r="0.49" fill="#227b61"/><circle cx="262.6" cy="386.8" r="0.35" fill="#2b9d7d"/><circle cx="264.9" cy="385.7" r="0.75" fill="#2fad89"/><circle cx="262.8" cy="385.0" r="0.55" fill="#299777"/><circle cx="265.8" cy="385.1" r="0.59" fill="#32b993"/><circle cx="265.6" cy="386.4" r="0.35" fill="#2a9879"/><circle cx="263.2" cy="384.9" r="0.41" fill="#154c3c"/><circle cx="264.5" cy="384.7" r="0.57" fill="#2b9f7e"/><circle cx="265.1" cy="387.9" r="0.57" fill="#34be97"/><circle cx="232.4" cy="393.8" r="0.94" fill="#19527a"/><circle cx="236.5" cy="392.4" r="0.95" fill="#1a5883"/><circle cx="233.7" cy="390.9" r="0.40" fill="#2884c4"/><circle cx="233.8" cy="396.0" r="0.71" fill="#2f9eeb"/><circle cx="233.8" cy="395.8" r="0.70" fill="#35b0ff"/><circle cx="237.5" cy="390.6" r="0.67" fill="#30a2f0"/><circle cx="237.5" cy="394.1" r="0.45" fill="#2270a7"/><circle cx="234.5" cy="395.9" r="0.79" fill="#13405e"/><circle cx="234.1" cy="392.7" r="0.61" fill="#32a7f9"/><circle cx="233.3" cy="391.9" r="0.89" fill="#309fed"/><circle cx="237.3" cy="394.6" r="0.60" fill="#144364"/><circle cx="236.2" cy="391.7" r="0.44" fill="#1c5e8b"/><circle cx="235.5" cy="391.8" r="0.68" fill="#257bb6"/><circle cx="232.0" cy="392.9" r="0.78" fill="#2a8cd0"/><circle cx="234.7" cy="396.3" r="0.57" fill="#2b90d6"/><circle cx="234.0" cy="390.0" r="0.43" fill="#31a3f1"/><circle cx="235.9" cy="391.6" r="0.73" fill="#32a6f7"/><circle cx="234.9" cy="389.9" r="0.59" fill="#31a4f4"/><circle cx="236.4" cy="391.9" r="0.68" fill="#2374ac"/><circle cx="236.2" cy="393.6" r="0.84" fill="#32a8fa"/><circle cx="235.8" cy="396.2" r="0.88" fill="#16496c"/><circle cx="234.3" cy="396.6" r="0.73" fill="#35b1ff"/><circle cx="233.3" cy="390.9" r="0.75" fill="#31a3f2"/><circle cx="235.1" cy="394.9" r="0.90" fill="#1b5a85"/><circle cx="236.3" cy="392.0" r="0.54" fill="#154668"/><circle cx="235.8" cy="392.9" r="0.57" fill="#36b5ff"/><circle cx="235.9" cy="391.2" r="0.74" fill="#35b2ff"/><circle cx="234.7" cy="392.3" r="0.66" fill="#1e6495"/><circle cx="235.9" cy="391.1" r="0.76" fill="#2478b3"/><circle cx="233.1" cy="390.3" r="0.54" fill="#257dba"/><circle cx="235.5" cy="391.6" r="0.89" fill="#34acff"/><circle cx="235.9" cy="389.3" r="0.91" fill="#2782c1"/><circle cx="235.9" cy="391.7" r="0.94" fill="#1f6698"/><circle cx="233.8" cy="391.2" r="0.61" fill="#174c71"/><circle cx="236.3" cy="390.1" r="0.56" fill="#1f6698"/><circle cx="233.2" cy="389.9" r="0.82" fill="#1e6596"/><circle cx="231.6" cy="391.2" r="0.65" fill="#206b9f"/><circle cx="234.8" cy="387.8" r="0.78" fill="#2478b3"/><circle cx="235.4" cy="390.0" r="0.93" fill="#2b8ed3"/><circle cx="234.8" cy="391.6" r="0.50" fill="#1d6291"/><circle cx="233.0" cy="393.6" r="0.72" fill="#2271a8"/><circle cx="233.6" cy="396.0" r="0.68" fill="#2b8ed3"/><circle cx="233.5" cy="394.4" r="0.46" fill="#1d6190"/><circle cx="234.2" cy="396.0" r="0.72" fill="#2b8ed4"/><circle cx="233.2" cy="397.7" r="0.45" fill="#1d608f"/><circle cx="234.9" cy="394.3" r="0.68" fill="#1f699b"/><circle cx="233.0" cy="393.9" r="0.50" fill="#2783c3"/><circle cx="235.6" cy="395.3" r="0.52" fill="#1a5883"/><circle cx="234.7" cy="396.6" r="0.81" fill="#35b1ff"/><circle cx="232.6" cy="393.9" r="0.95" fill="#144262"/><circle cx="231.6" cy="394.1" r="0.63" fill="#31a2f0"/><circle cx="234.6" cy="394.1" r="0.64" fill="#32a7f8"/><circle cx="233.7" cy="395.3" r="0.43" fill="#2272a9"/><circle cx="231.8" cy="394.9" r="0.60" fill="#206a9e"/><circle cx="234.8" cy="396.9" r="0.60" fill="#2680be"/><circle cx="233.7" cy="396.0" r="0.46" fill="#2f9eea"/><circle cx="234.2" cy="396.1" r="0.71" fill="#164a6f"/><circle cx="231.7" cy="395.2" r="0.81" fill="#2d96de"/><circle cx="233.3" cy="396.1" r="0.91" fill="#13405f"/><circle cx="282.4" cy="407.5" r="0.94" fill="#1b7068"/><circle cx="284.7" cy="408.2" r="0.51" fill="#1c736b"/><circle cx="282.1" cy="404.7" r="0.59" fill="#165953"/><circle cx="281.7" cy="406.6" r="0.83" fill="#238f85"/><circle cx="281.2" cy="406.3" r="0.64" fill="#34d6c7"/><circle cx="283.5" cy="408.9" r="0.91" fill="#28a398"/><circle cx="278.5" cy="407.5" r="0.80" fill="#2dbaad"/><circle cx="282.9" cy="404.9" r="0.56" fill="#14534d"/><circle cx="283.9" cy="408.2" r="0.81" fill="#1a6962"/><circle cx="280.4" cy="408.4" r="0.52" fill="#1c736b"/><circle cx="280.2" cy="408.0" r="0.66" fill="#2cb4a7"/><circle cx="281.2" cy="406.6" r="0.62" fill="#269c91"/><circle cx="281.2" cy="409.4" r="0.54" fill="#2baea2"/><circle cx="281.4" cy="408.1" r="0.63" fill="#31c9bb"/><circle cx="282.6" cy="407.9" r="0.43" fill="#1a6962"/><circle cx="281.5" cy="410.1" r="0.61" fill="#2bb1a5"/><circle cx="281.7" cy="408.5" r="0.91" fill="#27a095"/><circle cx="280.9" cy="407.8" r="0.72" fill="#33d0c1"/><circle cx="282.3" cy="408.1" r="0.64" fill="#2aaea2"/><circle cx="284.3" cy="406.5" r="0.94" fill="#2db7aa"/><circle cx="283.8" cy="404.2" r="0.44" fill="#30c3b5"/><circle cx="283.3" cy="407.5" r="0.92" fill="#1c756c"/><circle cx="284.3" cy="408.3" r="0.62" fill="#30c6b9"/><circle cx="284.1" cy="407.7" r="0.50" fill="#18615a"/><circle cx="281.7" cy="405.9" r="0.53" fill="#33d2c3"/><circle cx="282.6" cy="405.3" r="0.46" fill="#30c3b6"/><circle cx="284.2" cy="406.9" r="0.48" fill="#32cdbf"/><circle cx="284.4" cy="407.0" r="0.72" fill="#31c9bb"/><circle cx="283.2" cy="404.5" r="0.91" fill="#238e84"/><circle cx="285.3" cy="405.7" r="0.86" fill="#269b91"/><circle cx="282.5" cy="406.5" r="0.80" fill="#176059"/><circle cx="281.8" cy="406.9" r="0.94" fill="#29a89c"/><circle cx="282.4" cy="404.9" r="0.41" fill="#228c82"/><circle cx="282.5" cy="405.3" r="0.56" fill="#175f58"/><circle cx="281.8" cy="404.5" r="0.61" fill="#249389"/><circle cx="282.3" cy="403.6" r="0.70" fill="#269d92"/><circle cx="282.3" cy="407.5" r="0.42" fill="#1c736b"/><circle cx="282.1" cy="407.2" r="0.80" fill="#32cbbd"/><circle cx="279.7" cy="406.0" r="0.45" fill="#208279"/><circle cx="278.8" cy="405.8" r="0.94" fill="#228d83"/><circle cx="280.1" cy="406.4" r="0.60" fill="#13504a"/><circle cx="278.7" cy="407.3" r="0.63" fill="#238d83"/><circle cx="278.3" cy="406.2" r="0.88" fill="#1e7a72"/><circle cx="280.6" cy="406.3" r="0.66" fill="#2db7aa"/><circle cx="280.1" cy="406.6" r="0.46" fill="#1a6a63"/><circle cx="280.6" cy="407.4" r="0.47" fill="#1f7f76"/><circle cx="277.9" cy="409.0" r="0.56" fill="#18645d"/><circle cx="281.4" cy="409.4" r="0.79" fill="#1f8178"/><circle cx="282.2" cy="408.5" r="0.53" fill="#14534d"/><circle cx="280.5" cy="408.3" r="0.63" fill="#18645d"/><circle cx="237.5" cy="421.5" r="0.80" fill="#175570"/><circle cx="235.8" cy="419.7" r="0.42" fill="#2ca5d8"/><circle cx="237.0" cy="421.2" r="0.71" fill="#1b6584"/><circle cx="238.8" cy="420.3" r="0.87" fill="#1b6686"/><circle cx="233.2" cy="419.2" r="0.89" fill="#175671"/><circle cx="234.0" cy="417.5" r="0.87" fill="#16526b"/><circle cx="234.6" cy="419.0" r="0.64" fill="#36caff"/><circle cx="236.7" cy="418.4" r="0.53" fill="#1f7295"/><circle cx="234.0" cy="420.3" r="0.63" fill="#1f7296"/><circle cx="236.5" cy="421.4" r="0.69" fill="#278fbb"/><circle cx="235.5" cy="420.9" r="0.79" fill="#2484ad"/><circle cx="239.2" cy="418.8" r="0.65" fill="#2896c4"/><circle cx="237.6" cy="421.1" r="0.66" fill="#35c5ff"/><circle cx="238.2" cy="421.5" r="0.94" fill="#2eabdf"/><circle cx="236.3" cy="415.1" r="0.88" fill="#1e6f92"/><circle cx="238.4" cy="416.4" r="0.44" fill="#33bef9"/><circle cx="236.4" cy="418.8" r="0.63" fill="#2383ab"/><circle cx="238.1" cy="417.6" r="0.60" fill="#2ca5d7"/><circle cx="238.4" cy="420.1" r="0.46" fill="#1d6d8e"/><circle cx="234.7" cy="418.2" r="0.61" fill="#31b7ef"/><circle cx="234.2" cy="417.0" r="0.55" fill="#2eabe0"/><circle cx="234.1" cy="416.6" r="0.86" fill="#20779b"/><circle cx="239.1" cy="418.3" r="0.48" fill="#2ba0d1"/><circle cx="237.4" cy="416.8" r="0.41" fill="#33bdf8"/><circle cx="236.8" cy="416.4" r="0.95" fill="#1a607e"/><circle cx="235.6" cy="416.0" r="0.54" fill="#195d7a"/><circle cx="236.6" cy="415.5" r="0.90" fill="#30b2e9"/><circle cx="238.0" cy="416.8" r="0.89" fill="#1e7193"/><circle cx="236.5" cy="416.5" r="0.70" fill="#2fb0e7"/><circle cx="236.3" cy="416.1" r="0.50" fill="#1a5f7c"/><circle cx="237.4" cy="414.9" r="0.79" fill="#2eace1"/><circle cx="234.5" cy="418.7" r="0.56" fill="#268db8"/><circle cx="235.5" cy="418.5" r="0.46" fill="#1d6a8b"/><circle cx="235.6" cy="422.2" r="0.94" fill="#2fafe4"/><circle cx="238.4" cy="420.0" r="0.77" fill="#2da9dd"/><circle cx="235.5" cy="421.9" r="0.87" fill="#2588b1"/><circle cx="234.9" cy="420.6" r="0.43" fill="#34c2fe"/><circle cx="238.0" cy="422.1" r="0.73" fill="#2ba2d3"/><circle cx="234.9" cy="420.9" r="0.84" fill="#155068"/><circle cx="238.3" cy="419.4" r="0.41" fill="#2998c7"/><circle cx="236.1" cy="421.8" r="0.85" fill="#2382ab"/><circle cx="236.1" cy="422.2" r="0.57" fill="#2a9aca"/><circle cx="235.1" cy="420.3" r="0.60" fill="#33bffa"/><circle cx="238.4" cy="421.3" r="0.43" fill="#2ca3d5"/><circle cx="235.2" cy="419.5" r="0.80" fill="#16526b"/><circle cx="236.8" cy="423.7" r="0.73" fill="#36c7ff"/><circle cx="239.2" cy="418.3" r="0.43" fill="#1d6c8d"/><circle cx="238.5" cy="420.5" r="0.76" fill="#2486b0"/><circle cx="237.5" cy="417.1" r="0.61" fill="#268eba"/><circle cx="237.8" cy="419.9" r="0.86" fill="#34c3ff"/><circle cx="239.6" cy="419.6" r="0.92" fill="#258ab4"/><circle cx="240.2" cy="419.3" r="0.43" fill="#16536c"/><circle cx="237.4" cy="419.2" r="0.65" fill="#1f7498"/><circle cx="237.5" cy="418.6" r="0.82" fill="#2fb0e6"/><circle cx="238.9" cy="416.9" r="0.49" fill="#2588b2"/><circle cx="241.3" cy="417.2" r="0.49" fill="#2eace0"/><circle cx="244.2" cy="424.0" r="0.47" fill="#1d638a"/><circle cx="241.4" cy="419.7" r="0.57" fill="#30a4e3"/><circle cx="245.9" cy="420.2" r="0.84" fill="#185271"/><circle cx="241.6" cy="420.7" r="0.89" fill="#2c97d1"/><circle cx="245.9" cy="424.5" r="0.45" fill="#36b8ff"/><circle cx="241.9" cy="422.8" r="0.86" fill="#2c98d3"/><circle cx="241.1" cy="423.1" r="0.49" fill="#195677"/><circle cx="246.2" cy="420.4" r="0.75" fill="#2276a4"/><circle cx="244.2" cy="422.9" r="0.80" fill="#31a8e9"/><circle cx="246.0" cy="424.2" r="0.51" fill="#2a90c8"/><circle cx="243.2" cy="421.8" r="0.94" fill="#32abee"/><circle cx="240.9" cy="423.0" r="0.76" fill="#174d6b"/><circle cx="241.1" cy="423.1" r="0.94" fill="#298ec5"/><circle cx="241.3" cy="419.6" r="0.49" fill="#1f6b95"/><circle cx="247.2" cy="423.8" r="0.94" fill="#195475"/><circle cx="243.7" cy="423.5" r="0.85" fill="#30a3e2"/><circle cx="247.2" cy="422.8" r="0.89" fill="#1a597c"/><circle cx="244.9" cy="423.6" r="0.86" fill="#1c6187"/><circle cx="244.4" cy="421.7" r="0.90" fill="#1b5c80"/><circle cx="244.6" cy="425.4" r="0.63" fill="#2e9dda"/><circle cx="245.3" cy="420.7" r="0.81" fill="#2378a7"/><circle cx="243.8" cy="421.7" r="0.52" fill="#1f6c96"/><circle cx="243.5" cy="423.9" r="0.76" fill="#2682b5"/><circle cx="244.8" cy="424.2" r="0.74" fill="#30a4e3"/><circle cx="244.4" cy="418.5" r="0.72" fill="#2682b4"/><circle cx="244.5" cy="419.7" r="0.86" fill="#33b0f4"/><circle cx="245.2" cy="420.1" r="0.43" fill="#1b5b7f"/><circle cx="248.0" cy="420.6" r="0.95" fill="#257fb0"/><circle cx="244.5" cy="424.4" r="0.89" fill="#2276a3"/><circle cx="244.1" cy="422.7" r="0.67" fill="#195475"/><circle cx="243.5" cy="425.3" r="0.88" fill="#2276a4"/><circle cx="240.5" cy="420.4" r="0.48" fill="#21719d"/><circle cx="244.3" cy="422.7" r="0.61" fill="#2d99d4"/><circle cx="241.0" cy="422.5" r="0.44" fill="#154762"/><circle cx="243.1" cy="423.0" r="0.56" fill="#2fa2e1"/><circle cx="242.1" cy="421.5" r="0.45" fill="#2a8fc7"/><circle cx="244.3" cy="422.6" r="0.83" fill="#34b1f6"/><circle cx="241.8" cy="420.3" r="0.75" fill="#2d9bd8"/><circle cx="243.4" cy="422.0" r="0.66" fill="#247cad"/><circle cx="241.6" cy="423.0" r="0.91" fill="#206f9b"/><circle cx="243.2" cy="424.7" r="0.79" fill="#206f9a"/><circle cx="240.2" cy="422.4" r="0.86" fill="#2889be"/><circle cx="241.6" cy="421.3" r="0.91" fill="#185474"/><circle cx="240.6" cy="424.2" r="0.60" fill="#288bc1"/><circle cx="243.1" cy="423.7" r="0.55" fill="#31a7e8"/><circle cx="242.8" cy="422.9" r="0.44" fill="#298cc2"/><circle cx="243.9" cy="422.7" r="0.90" fill="#2377a5"/><circle cx="245.3" cy="424.0" r="0.84" fill="#21729f"/><circle cx="242.7" cy="424.8" r="0.85" fill="#206d98"/><circle cx="245.5" cy="424.1" r="0.41" fill="#257eb0"/><circle cx="243.6" cy="422.9" r="0.70" fill="#288bc1"/><circle cx="246.6" cy="425.5" r="0.93" fill="#2377a5"/><circle cx="243.9" cy="424.0" r="0.93" fill="#2786ba"/><circle cx="247.3" cy="424.6" r="0.76" fill="#1e668e"/><circle cx="246.1" cy="425.2" r="0.64" fill="#2787bb"/><circle cx="245.8" cy="427.4" r="0.87" fill="#2b94cd"/><circle cx="244.7" cy="427.0" r="0.41" fill="#2379a8"/><circle cx="244.3" cy="426.7" r="0.75" fill="#257fb1"/><circle cx="246.9" cy="426.0" r="0.59" fill="#206e99"/><circle cx="244.2" cy="427.2" r="0.56" fill="#1e678e"/><circle cx="245.3" cy="427.6" r="0.68" fill="#288abf"/><circle cx="243.2" cy="423.5" r="0.64" fill="#247aa9"/><circle cx="247.1" cy="423.4" r="0.84" fill="#185171"/><circle cx="243.4" cy="424.1" r="0.85" fill="#13435d"/><circle cx="244.3" cy="427.0" r="0.60" fill="#2c95cf"/><circle cx="246.2" cy="423.6" r="0.50" fill="#2a90c9"/><circle cx="243.6" cy="427.0" r="0.50" fill="#2a8fc7"/><circle cx="242.5" cy="424.0" r="0.89" fill="#35b6fd"/><circle cx="242.4" cy="426.0" r="0.51" fill="#2b92cb"/><circle cx="241.6" cy="423.2" r="0.56" fill="#2a91ca"/><circle cx="242.9" cy="425.5" r="0.61" fill="#185272"/><circle cx="242.6" cy="424.2" r="0.71" fill="#144560"/><circle cx="246.6" cy="425.6" r="0.44" fill="#2785b9"/><circle cx="245.3" cy="426.0" r="0.83" fill="#33aef2"/><circle cx="242.7" cy="424.8" r="0.73" fill="#36b9ff"/><circle cx="245.4" cy="423.5" r="0.70" fill="#195678"/><circle cx="246.9" cy="425.9" r="0.69" fill="#247bab"/><circle cx="245.9" cy="422.7" r="0.48" fill="#2784b8"/><circle cx="250.2" cy="422.2" r="0.75" fill="#2faae0"/><circle cx="255.4" cy="423.6" r="0.62" fill="#1b6383"/><circle cx="250.5" cy="420.4" r="0.63" fill="#2b9bcb"/><circle cx="254.5" cy="423.0" r="0.52" fill="#154c64"/><circle cx="251.9" cy="421.4" r="0.86" fill="#2ea7dc"/><circle cx="250.1" cy="420.2" r="0.72" fill="#32b7f0"/><circle cx="251.1" cy="421.8" r="0.62" fill="#33b8f2"/><circle cx="250.5" cy="422.2" r="0.49" fill="#165069"/><circle cx="255.7" cy="421.4" r="0.77" fill="#1f7093"/><circle cx="251.1" cy="422.3" r="0.56" fill="#2b9dce"/><circle cx="254.9" cy="422.4" r="0.68" fill="#144960"/><circle cx="252.4" cy="424.8" r="0.92" fill="#1c6686"/><circle cx="252.1" cy="424.0" r="0.69" fill="#237ea6"/><circle cx="249.9" cy="422.3" r="0.91" fill="#2b9dcf"/><circle cx="253.0" cy="422.8" r="0.81" fill="#2b9ccd"/><circle cx="252.1" cy="420.1" r="0.51" fill="#2b9bcb"/><circle cx="253.3" cy="423.6" r="0.80" fill="#2483ac"/><circle cx="255.6" cy="422.6" r="0.85" fill="#154c64"/><circle cx="251.6" cy="422.0" r="0.42" fill="#32b7f0"/><circle cx="252.4" cy="419.2" r="0.45" fill="#1b6281"/><circle cx="253.0" cy="422.3" r="0.63" fill="#1f7094"/><circle cx="250.9" cy="420.0" r="0.43" fill="#32b6f0"/><circle cx="253.2" cy="421.7" r="0.83" fill="#227ca3"/><circle cx="255.8" cy="424.2" r="0.41" fill="#31b1e9"/><circle cx="256.9" cy="419.2" r="0.67" fill="#2584ae"/><circle cx="254.6" cy="422.0" r="0.61" fill="#1e6d90"/><circle cx="257.5" cy="420.8" r="0.63" fill="#35c0fd"/><circle cx="253.2" cy="421.3" r="0.46" fill="#16516b"/><circle cx="254.2" cy="419.6" r="0.64" fill="#2586b0"/><circle cx="257.7" cy="421.7" r="0.66" fill="#2ea7dc"/><circle cx="256.2" cy="420.0" r="0.73" fill="#227ba2"/><circle cx="253.3" cy="420.0" r="0.40" fill="#2482ab"/><circle cx="256.6" cy="420.3" r="0.66" fill="#17526c"/><circle cx="253.7" cy="419.7" r="0.43" fill="#1e6c8e"/><circle cx="255.5" cy="423.9" r="0.62" fill="#33b7f1"/><circle cx="256.0" cy="419.1" r="0.64" fill="#32b6f0"/><circle cx="253.8" cy="419.7" r="0.48" fill="#2da3d7"/><circle cx="254.4" cy="423.9" r="0.42" fill="#1d6a8b"/><circle cx="251.7" cy="422.7" r="0.79" fill="#2c9fd1"/><circle cx="252.2" cy="422.3" r="0.90" fill="#195a76"/><circle cx="251.9" cy="425.3" r="0.86" fill="#2ea5d9"/><circle cx="251.6" cy="421.3" r="0.82" fill="#2994c2"/><circle cx="253.3" cy="424.9" r="0.85" fill="#17516b"/><circle cx="250.2" cy="424.2" r="0.92" fill="#185874"/><circle cx="250.2" cy="424.1" r="0.93" fill="#1d6a8b"/><circle cx="251.0" cy="424.6" r="0.84" fill="#154b63"/><circle cx="253.5" cy="424.8" r="0.40" fill="#31b0e8"/><circle cx="254.3" cy="418.5" r="0.58" fill="#154e66"/><circle cx="253.6" cy="421.7" r="0.70" fill="#144a61"/><circle cx="256.6" cy="418.8" r="0.65" fill="#2ea5da"/><circle cx="253.1" cy="420.4" r="0.47" fill="#33b7f1"/><circle cx="255.8" cy="421.3" r="0.90" fill="#154b63"/><circle cx="256.1" cy="419.7" r="0.89" fill="#195c79"/><circle cx="253.6" cy="420.8" r="0.84" fill="#36c3ff"/><circle cx="255.9" cy="420.1" r="0.50" fill="#2ca0d2"/><circle cx="254.5" cy="420.8" r="0.77" fill="#237ea6"/><circle cx="261.0" cy="426.3" r="0.40" fill="#1e638b"/><circle cx="260.3" cy="421.8" r="0.77" fill="#309ada"/><circle cx="258.5" cy="424.2" r="0.45" fill="#216c98"/><circle cx="261.1" cy="426.0" r="0.91" fill="#133e57"/><circle cx="262.1" cy="423.6" r="0.47" fill="#2372a0"/><circle cx="263.3" cy="425.7" r="0.74" fill="#174b69"/><circle cx="259.4" cy="425.5" r="0.72" fill="#22709d"/><circle cx="259.3" cy="426.4" r="0.60" fill="#31a0e1"/><circle cx="261.1" cy="424.1" r="0.63" fill="#1d5f86"/><circle cx="262.0" cy="426.1" r="0.64" fill="#1a5375"/><circle cx="262.4" cy="422.8" r="0.57" fill="#2985bc"/><circle cx="261.4" cy="425.3" r="0.43" fill="#23719f"/><circle cx="258.6" cy="425.6" r="0.62" fill="#1b587c"/><circle cx="259.8" cy="422.4" r="0.68" fill="#1a5376"/><circle cx="263.4" cy="424.8" r="0.86" fill="#35adf4"/><circle cx="259.1" cy="426.7" r="0.71" fill="#2d91cc"/><circle cx="262.2" cy="425.7" r="0.49" fill="#226d99"/><circle cx="262.0" cy="423.5" r="0.86" fill="#1d5e85"/><circle cx="262.4" cy="421.5" r="0.72" fill="#2984ba"/><circle cx="260.7" cy="422.2" r="0.54" fill="#2577a8"/><circle cx="262.8" cy="422.8" r="0.84" fill="#1d5d83"/><circle cx="260.0" cy="422.4" r="0.88" fill="#32a2e5"/><circle cx="261.0" cy="422.8" r="0.95" fill="#2d91cd"/><circle cx="258.6" cy="422.0" r="0.45" fill="#2a87be"/><circle cx="260.1" cy="423.4" r="0.51" fill="#206893"/><circle cx="258.3" cy="422.2" r="0.65" fill="#226f9d"/><circle cx="258.4" cy="424.0" r="0.57" fill="#174a69"/><circle cx="259.1" cy="421.9" r="0.91" fill="#2b8ac2"/><circle cx="257.8" cy="422.8" r="0.53" fill="#2986bd"/><circle cx="257.6" cy="423.2" r="0.58" fill="#216a95"/><circle cx="262.1" cy="423.3" r="0.42" fill="#2577a8"/><circle cx="258.1" cy="423.2" r="0.85" fill="#154460"/><circle cx="259.8" cy="424.0" r="0.52" fill="#2577a8"/><circle cx="259.3" cy="425.5" r="0.63" fill="#164663"/><circle cx="259.9" cy="422.4" r="0.51" fill="#164865"/><circle cx="261.0" cy="424.8" r="0.81" fill="#206791"/><circle cx="260.9" cy="424.4" r="0.64" fill="#174c6b"/><circle cx="261.2" cy="424.0" r="0.87" fill="#216c98"/><circle cx="259.8" cy="421.9" r="0.94" fill="#1c5c82"/><circle cx="247.1" cy="416.4" r="0.53" fill="#247998"/><circle cx="246.8" cy="418.2" r="0.79" fill="#2c93b8"/><circle cx="245.5" cy="418.3" r="0.54" fill="#16495c"/><circle cx="246.4" cy="415.4" r="0.70" fill="#257b99"/><circle cx="245.1" cy="417.0" r="0.49" fill="#1e647d"/><circle cx="245.7" cy="415.6" r="0.62" fill="#247897"/><circle cx="246.2" cy="414.7" r="0.42" fill="#39beed"/><circle cx="245.0" cy="416.0" r="0.68" fill="#32a6d0"/><circle cx="245.6" cy="415.5" r="0.63" fill="#2783a4"/><circle cx="245.8" cy="415.4" r="0.48" fill="#3eceff"/><circle cx="244.6" cy="417.5" r="0.54" fill="#35b2de"/><circle cx="246.5" cy="415.7" r="0.73" fill="#1b5b71"/><circle cx="245.8" cy="415.5" r="0.70" fill="#38bbea"/><circle cx="245.4" cy="418.6" r="0.47" fill="#3bc3f4"/><circle cx="246.9" cy="417.2" r="0.39" fill="#22708c"/><circle cx="246.4" cy="416.8" r="0.45" fill="#2680a0"/><circle cx="245.4" cy="418.4" r="0.68" fill="#3dcbfe"/><circle cx="245.1" cy="418.9" r="0.59" fill="#309fc7"/><circle cx="247.2" cy="416.8" r="0.77" fill="#31a4cd"/><circle cx="250.0" cy="415.8" r="0.71" fill="#3dccff"/><circle cx="248.8" cy="415.4" r="0.49" fill="#35b2df"/><circle cx="249.3" cy="415.4" r="0.55" fill="#33abd6"/><circle cx="248.4" cy="415.5" r="0.64" fill="#3dcafc"/><circle cx="249.7" cy="417.2" r="0.70" fill="#247794"/><circle cx="247.0" cy="418.4" r="0.42" fill="#3bc6f7"/><circle cx="247.1" cy="418.4" r="0.64" fill="#37b8e6"/><circle cx="249.5" cy="418.8" r="0.70" fill="#206c87"/><circle cx="248.8" cy="419.7" r="0.84" fill="#206984"/><circle cx="248.2" cy="420.0" r="0.50" fill="#206a84"/><circle cx="248.3" cy="419.3" r="0.64" fill="#1b5a70"/><circle cx="247.7" cy="417.2" r="0.82" fill="#257b99"/><circle cx="277.7" cy="392.8" r="0.39" fill="#174250"/><circle cx="276.3" cy="392.4" r="0.44" fill="#0e272f"/><circle cx="276.0" cy="393.2" r="0.51" fill="#1f596c"/><circle cx="229.6" cy="419.5" r="0.56" fill="#0f3446"/><circle cx="227.2" cy="420.8" r="0.59" fill="#13425a"/><circle cx="229.3" cy="420.7" r="0.69" fill="#10384c"/><circle cx="228.0" cy="419.7" r="0.55" fill="#164e6a"/><circle cx="228.5" cy="421.4" r="0.77" fill="#1b5d7e"/><circle cx="226.0" cy="420.5" r="0.43" fill="#1d6386"/><circle cx="227.6" cy="420.7" r="0.42" fill="#185371"/><circle cx="227.2" cy="419.0" r="0.37" fill="#0e3042"/></g>
</g>
<rect x="96.40" y="424.20" width="29.20" height="29.20" fill="#08090c" stroke="#ffffff" stroke-width="1.2" />
<clipPath id="ei1"><rect x="97.0" y="424.8" width="28.0" height="28.0"/></clipPath>
<g clip-path="url(#ei1)">
<g filter="url(#bl4)"><circle cx="110.4" cy="439.2" r="10.8" fill="#174d46" opacity="0.85"/><circle cx="105.6" cy="438.0" r="7.7" fill="#174d46" opacity="0.85"/><circle cx="112.3" cy="434.1" r="6.8" fill="#174d46" opacity="0.85"/><circle cx="106.7" cy="444.8" r="8.3" fill="#174d46" opacity="0.85"/><circle cx="106.4" cy="434.2" r="5.4" fill="#205c4b" opacity="0.85"/><circle cx="104.3" cy="434.4" r="3.1" fill="#205c4b" opacity="0.85"/><circle cx="108.6" cy="434.1" r="4.0" fill="#205c4b" opacity="0.85"/><circle cx="108.3" cy="435.6" r="3.5" fill="#205c4b" opacity="0.85"/><circle cx="114.4" cy="444.2" r="6.5" fill="#17554f" opacity="0.85"/><circle cx="114.6" cy="447.4" r="3.8" fill="#17554f" opacity="0.85"/><circle cx="116.8" cy="447.8" r="4.7" fill="#17554f" opacity="0.85"/><circle cx="113.3" cy="448.0" r="5.0" fill="#17554f" opacity="0.85"/><circle cx="116.4" cy="433.2" r="4.3" fill="#17434f" opacity="0.85"/><circle cx="114.2" cy="431.7" r="2.9" fill="#17434f" opacity="0.85"/><circle cx="113.8" cy="432.3" r="2.6" fill="#17434f" opacity="0.85"/><circle cx="116.8" cy="431.0" r="2.9" fill="#17434f" opacity="0.85"/></g>
<g filter="url(#bl3)"><circle cx="111.8" cy="442.5" r="0.51" fill="#1f685f"/><circle cx="107.2" cy="437.4" r="0.80" fill="#154741"/><circle cx="107.4" cy="433.8" r="0.87" fill="#14443e"/><circle cx="114.7" cy="443.6" r="0.67" fill="#34afa0"/><circle cx="108.1" cy="435.6" r="0.90" fill="#227066"/><circle cx="104.7" cy="436.7" r="0.55" fill="#23766c"/><circle cx="112.5" cy="446.8" r="0.53" fill="#14423d"/><circle cx="105.8" cy="433.9" r="0.55" fill="#24796f"/><circle cx="105.2" cy="445.4" r="0.64" fill="#2c9285"/><circle cx="102.0" cy="438.9" r="0.67" fill="#288579"/><circle cx="115.0" cy="432.7" r="0.62" fill="#184f48"/><circle cx="110.9" cy="435.7" r="0.83" fill="#216f66"/><circle cx="114.7" cy="435.0" r="0.91" fill="#1d6058"/><circle cx="112.9" cy="440.7" r="0.91" fill="#206a61"/><circle cx="116.8" cy="443.7" r="0.69" fill="#19554e"/><circle cx="107.3" cy="438.8" r="0.45" fill="#1b5b53"/><circle cx="110.6" cy="441.0" r="0.50" fill="#164a44"/><circle cx="102.5" cy="440.3" r="0.76" fill="#32a799"/><circle cx="111.7" cy="444.5" r="0.81" fill="#298a7e"/><circle cx="114.8" cy="444.7" r="0.66" fill="#24776d"/><circle cx="116.5" cy="440.9" r="0.51" fill="#1f675e"/><circle cx="116.4" cy="435.1" r="0.64" fill="#174d46"/><circle cx="110.3" cy="434.3" r="0.69" fill="#35afa0"/><circle cx="107.5" cy="437.6" r="0.78" fill="#15453f"/><circle cx="110.3" cy="439.9" r="0.72" fill="#227167"/><circle cx="115.0" cy="440.8" r="0.75" fill="#154741"/><circle cx="110.8" cy="445.3" r="0.68" fill="#18514a"/><circle cx="110.1" cy="443.8" r="0.74" fill="#23736a"/><circle cx="109.1" cy="441.8" r="0.67" fill="#19544d"/><circle cx="111.6" cy="440.3" r="0.71" fill="#18514a"/><circle cx="117.2" cy="441.5" r="0.88" fill="#2b8f83"/><circle cx="117.2" cy="434.8" r="0.53" fill="#2b8f82"/><circle cx="103.1" cy="441.7" r="0.88" fill="#33aa9c"/><circle cx="107.7" cy="440.2" r="0.50" fill="#309f92"/><circle cx="111.7" cy="434.2" r="0.59" fill="#30a093"/><circle cx="108.3" cy="432.0" r="0.90" fill="#35b2a3"/><circle cx="106.9" cy="441.0" r="0.80" fill="#23746a"/><circle cx="103.8" cy="435.6" r="0.92" fill="#2e9a8d"/><circle cx="115.2" cy="444.4" r="0.40" fill="#217066"/><circle cx="103.2" cy="439.0" r="0.95" fill="#28857a"/><circle cx="106.7" cy="440.7" r="0.89" fill="#164a43"/><circle cx="104.4" cy="434.1" r="0.80" fill="#257d72"/><circle cx="117.5" cy="437.7" r="0.44" fill="#32a798"/><circle cx="114.6" cy="439.7" r="0.91" fill="#19544d"/><circle cx="102.6" cy="439.2" r="0.65" fill="#1e655d"/><circle cx="112.6" cy="446.8" r="0.69" fill="#18514a"/><circle cx="114.8" cy="438.7" r="0.90" fill="#2b9084"/><circle cx="103.6" cy="441.6" r="0.56" fill="#2c9286"/><circle cx="111.9" cy="445.7" r="0.72" fill="#23746a"/><circle cx="115.6" cy="434.1" r="0.50" fill="#30a093"/><circle cx="107.7" cy="446.6" r="0.94" fill="#18514a"/><circle cx="109.2" cy="440.6" r="0.85" fill="#2a8c80"/><circle cx="114.0" cy="446.5" r="0.58" fill="#1a5850"/><circle cx="118.1" cy="438.3" r="0.47" fill="#34ac9d"/><circle cx="118.1" cy="439.1" r="0.68" fill="#28867b"/><circle cx="114.8" cy="444.4" r="0.94" fill="#2e9b8d"/><circle cx="109.7" cy="446.2" r="0.81" fill="#1a554e"/><circle cx="112.9" cy="438.6" r="0.46" fill="#1d625a"/><circle cx="103.8" cy="439.2" r="0.94" fill="#30a193"/><circle cx="112.0" cy="432.4" r="0.78" fill="#154540"/><circle cx="110.2" cy="432.8" r="0.76" fill="#278378"/><circle cx="116.7" cy="440.1" r="0.88" fill="#164842"/><circle cx="104.9" cy="433.5" r="0.51" fill="#24796f"/><circle cx="103.0" cy="437.1" r="0.65" fill="#31a496"/><circle cx="107.5" cy="447.2" r="0.82" fill="#216e65"/><circle cx="111.8" cy="431.8" r="0.70" fill="#2c9387"/><circle cx="110.2" cy="430.9" r="0.87" fill="#29877b"/><circle cx="109.2" cy="434.5" r="0.55" fill="#29887c"/><circle cx="111.1" cy="446.7" r="0.45" fill="#216c63"/><circle cx="104.3" cy="436.1" r="0.59" fill="#1d5f57"/><circle cx="104.8" cy="433.6" r="0.93" fill="#257c72"/><circle cx="108.6" cy="445.4" r="0.89" fill="#278176"/><circle cx="115.5" cy="440.2" r="0.68" fill="#184f48"/><circle cx="115.7" cy="437.5" r="0.72" fill="#19534c"/><circle cx="108.7" cy="441.0" r="0.76" fill="#31a395"/><circle cx="112.5" cy="439.5" r="0.50" fill="#1e635b"/><circle cx="113.8" cy="432.0" r="0.93" fill="#257b71"/><circle cx="114.8" cy="445.9" r="0.76" fill="#268075"/><circle cx="109.4" cy="442.6" r="0.65" fill="#23746a"/><circle cx="112.4" cy="443.4" r="0.47" fill="#1e665d"/><circle cx="110.7" cy="444.4" r="0.83" fill="#267e73"/><circle cx="105.9" cy="435.6" r="0.81" fill="#164a44"/><circle cx="110.5" cy="432.9" r="0.75" fill="#32a698"/><circle cx="104.3" cy="436.5" r="0.48" fill="#1f665d"/><circle cx="111.2" cy="438.3" r="0.45" fill="#19544d"/><circle cx="115.5" cy="437.1" r="0.92" fill="#1c5e56"/><circle cx="117.3" cy="441.7" r="0.55" fill="#174e47"/><circle cx="106.5" cy="444.8" r="0.91" fill="#23756b"/><circle cx="109.4" cy="437.7" r="0.57" fill="#2c9387"/><circle cx="114.2" cy="442.0" r="0.43" fill="#2c9487"/><circle cx="103.5" cy="437.9" r="0.60" fill="#278176"/><circle cx="105.6" cy="436.1" r="0.48" fill="#154741"/><circle cx="115.0" cy="434.2" r="0.78" fill="#2a8d81"/><circle cx="108.9" cy="439.9" r="0.91" fill="#1d6158"/><circle cx="113.5" cy="437.4" r="0.90" fill="#267f74"/><circle cx="113.2" cy="442.4" r="0.77" fill="#35b0a1"/><circle cx="104.1" cy="441.6" r="0.86" fill="#133f3a"/><circle cx="110.7" cy="443.2" r="0.80" fill="#2e998c"/><circle cx="115.1" cy="436.9" r="0.88" fill="#18514a"/><circle cx="115.1" cy="432.9" r="0.82" fill="#278478"/><circle cx="117.9" cy="437.7" r="0.40" fill="#31a395"/><circle cx="110.9" cy="444.0" r="0.71" fill="#2f9c8f"/><circle cx="111.8" cy="438.5" r="0.64" fill="#174e47"/><circle cx="108.2" cy="437.1" r="0.73" fill="#2b8e82"/><circle cx="103.2" cy="442.3" r="0.79" fill="#36b2a3"/><circle cx="104.4" cy="433.6" r="0.70" fill="#13403b"/><circle cx="100.1" cy="438.7" r="0.62" fill="#278277"/><circle cx="109.9" cy="438.7" r="0.90" fill="#24776d"/><circle cx="108.9" cy="440.0" r="0.53" fill="#2a8d81"/><circle cx="103.2" cy="434.7" r="0.70" fill="#31a496"/><circle cx="109.9" cy="436.0" r="0.69" fill="#267f74"/><circle cx="100.0" cy="438.4" r="0.94" fill="#1b5951"/><circle cx="102.1" cy="439.6" r="0.68" fill="#2c9487"/><circle cx="100.0" cy="436.4" r="0.77" fill="#1a5850"/><circle cx="105.9" cy="440.9" r="0.59" fill="#216f65"/><circle cx="105.5" cy="438.7" r="0.63" fill="#34ac9e"/><circle cx="106.5" cy="434.2" r="0.80" fill="#2e998c"/><circle cx="101.3" cy="435.8" r="0.49" fill="#23756b"/><circle cx="108.1" cy="434.9" r="0.45" fill="#35b0a1"/><circle cx="103.5" cy="442.3" r="0.68" fill="#14423d"/><circle cx="104.6" cy="432.1" r="0.88" fill="#1b5a53"/><circle cx="102.4" cy="441.5" r="0.73" fill="#1f665d"/><circle cx="100.5" cy="435.1" r="0.61" fill="#2e988b"/><circle cx="111.1" cy="436.0" r="0.58" fill="#2d9488"/><circle cx="106.6" cy="435.8" r="0.83" fill="#14423c"/><circle cx="108.9" cy="433.3" r="0.65" fill="#36b4a5"/><circle cx="104.5" cy="440.6" r="0.68" fill="#133f3a"/><circle cx="106.5" cy="441.8" r="0.54" fill="#1f665e"/><circle cx="104.0" cy="437.6" r="0.69" fill="#2c9285"/><circle cx="104.6" cy="436.7" r="0.71" fill="#2c9387"/><circle cx="102.2" cy="441.1" r="0.90" fill="#2e998c"/><circle cx="105.1" cy="438.7" r="0.56" fill="#13413b"/><circle cx="107.1" cy="438.4" r="0.70" fill="#267e73"/><circle cx="101.1" cy="439.2" r="0.59" fill="#267e74"/><circle cx="105.6" cy="439.9" r="0.93" fill="#2d978a"/><circle cx="106.8" cy="432.4" r="0.65" fill="#1b5b53"/><circle cx="107.9" cy="442.6" r="0.84" fill="#34ae9f"/><circle cx="102.7" cy="442.6" r="0.66" fill="#2f9c8e"/><circle cx="105.6" cy="442.8" r="0.72" fill="#30a093"/><circle cx="110.9" cy="441.0" r="0.70" fill="#31a597"/><circle cx="110.8" cy="439.9" r="0.85" fill="#1f685f"/><circle cx="100.9" cy="441.0" r="0.56" fill="#1a564f"/><circle cx="103.3" cy="432.9" r="0.70" fill="#174e48"/><circle cx="101.2" cy="439.6" r="0.77" fill="#2c9487"/><circle cx="104.3" cy="432.0" r="0.42" fill="#31a496"/><circle cx="105.0" cy="439.3" r="0.54" fill="#1c5c54"/><circle cx="108.9" cy="440.5" r="0.91" fill="#2a8b7f"/><circle cx="106.0" cy="440.9" r="0.45" fill="#288579"/><circle cx="108.7" cy="440.6" r="0.95" fill="#34ae9f"/><circle cx="106.8" cy="433.9" r="0.49" fill="#206c63"/><circle cx="101.4" cy="439.4" r="0.77" fill="#164b44"/><circle cx="101.7" cy="436.3" r="0.44" fill="#1b5c54"/><circle cx="107.2" cy="432.5" r="0.45" fill="#2b8f83"/><circle cx="100.5" cy="441.1" r="0.61" fill="#184f48"/><circle cx="108.5" cy="434.7" r="0.91" fill="#1d6159"/><circle cx="109.6" cy="440.6" r="0.89" fill="#19524b"/><circle cx="102.4" cy="441.3" r="0.85" fill="#1b5b53"/><circle cx="107.7" cy="435.7" r="0.87" fill="#257b70"/><circle cx="108.3" cy="434.2" r="0.83" fill="#185049"/><circle cx="113.0" cy="438.9" r="0.58" fill="#154741"/><circle cx="114.0" cy="435.6" r="0.65" fill="#35b2a3"/><circle cx="114.9" cy="431.5" r="0.62" fill="#288479"/><circle cx="110.0" cy="433.7" r="0.94" fill="#34afa0"/><circle cx="115.5" cy="437.4" r="0.59" fill="#1f665d"/><circle cx="113.4" cy="438.2" r="0.51" fill="#34ae9f"/><circle cx="113.8" cy="438.9" r="0.92" fill="#35b1a2"/><circle cx="112.1" cy="429.1" r="0.43" fill="#2b8e82"/><circle cx="116.8" cy="434.4" r="0.92" fill="#14423c"/><circle cx="117.4" cy="432.8" r="0.86" fill="#2e988b"/><circle cx="109.2" cy="437.9" r="0.41" fill="#2a8b7f"/><circle cx="109.7" cy="431.5" r="0.72" fill="#19524b"/><circle cx="114.5" cy="430.1" r="0.66" fill="#278378"/><circle cx="112.8" cy="429.1" r="0.66" fill="#1d6159"/><circle cx="112.8" cy="433.6" r="0.82" fill="#154841"/><circle cx="107.8" cy="435.8" r="0.69" fill="#31a597"/><circle cx="113.2" cy="430.5" r="0.86" fill="#164a44"/><circle cx="114.3" cy="432.2" r="0.61" fill="#32a799"/><circle cx="108.1" cy="433.2" r="0.93" fill="#216e65"/><circle cx="113.1" cy="438.4" r="0.73" fill="#2b9184"/><circle cx="107.8" cy="433.5" r="0.93" fill="#278377"/><circle cx="114.3" cy="437.4" r="0.75" fill="#2a8a7f"/><circle cx="114.5" cy="434.2" r="0.53" fill="#19544d"/><circle cx="115.6" cy="434.0" r="0.87" fill="#1f685f"/><circle cx="110.3" cy="430.8" r="0.85" fill="#1a574f"/><circle cx="112.1" cy="434.5" r="0.51" fill="#36b4a4"/><circle cx="113.3" cy="437.5" r="0.91" fill="#1b5b53"/><circle cx="115.3" cy="434.9" r="0.61" fill="#1b5a53"/><circle cx="115.3" cy="432.7" r="0.45" fill="#174c45"/><circle cx="108.7" cy="433.1" r="0.88" fill="#164943"/><circle cx="111.9" cy="433.2" r="0.42" fill="#174e47"/><circle cx="115.2" cy="431.5" r="0.74" fill="#227167"/><circle cx="112.5" cy="437.2" r="0.75" fill="#1f675f"/><circle cx="107.1" cy="435.5" r="0.65" fill="#35b2a2"/><circle cx="107.4" cy="435.1" r="0.52" fill="#1b5a52"/><circle cx="110.6" cy="438.9" r="0.77" fill="#288479"/><circle cx="113.3" cy="430.2" r="0.76" fill="#2d9689"/><circle cx="107.8" cy="432.9" r="0.44" fill="#36b5a6"/><circle cx="111.9" cy="429.8" r="0.86" fill="#19524b"/><circle cx="109.3" cy="448.8" r="0.60" fill="#30a093"/><circle cx="100.9" cy="445.4" r="0.78" fill="#31a597"/><circle cx="109.0" cy="447.3" r="0.58" fill="#18504a"/><circle cx="103.1" cy="444.6" r="0.73" fill="#2b8e82"/><circle cx="105.6" cy="443.3" r="0.66" fill="#2a8d81"/><circle cx="109.0" cy="440.8" r="0.47" fill="#35afa0"/><circle cx="100.5" cy="446.6" r="0.40" fill="#19554e"/><circle cx="104.0" cy="444.0" r="0.73" fill="#309f92"/><circle cx="101.5" cy="443.7" r="0.51" fill="#278378"/><circle cx="108.8" cy="441.8" r="0.89" fill="#174d46"/><circle cx="104.6" cy="445.5" r="0.71" fill="#36b2a3"/><circle cx="112.7" cy="442.1" r="0.55" fill="#1a564f"/><circle cx="104.9" cy="446.0" r="0.63" fill="#1c5d55"/><circle cx="103.1" cy="447.0" r="0.69" fill="#19524b"/><circle cx="108.4" cy="442.8" r="0.76" fill="#185049"/><circle cx="107.8" cy="439.4" r="0.95" fill="#257a6f"/><circle cx="109.6" cy="443.9" r="0.50" fill="#216d64"/><circle cx="101.4" cy="445.8" r="0.58" fill="#2b8e82"/><circle cx="108.4" cy="444.5" r="0.91" fill="#14413c"/><circle cx="104.5" cy="440.3" r="0.93" fill="#2e998c"/><circle cx="109.9" cy="447.2" r="0.91" fill="#227167"/><circle cx="110.6" cy="443.9" r="0.80" fill="#278277"/><circle cx="100.7" cy="442.3" r="0.78" fill="#19524b"/><circle cx="104.1" cy="439.1" r="0.84" fill="#34ad9e"/><circle cx="110.2" cy="445.8" r="0.51" fill="#19534b"/><circle cx="101.7" cy="448.5" r="0.64" fill="#24776d"/><circle cx="106.6" cy="443.0" r="0.83" fill="#227067"/><circle cx="106.3" cy="448.3" r="0.93" fill="#237369"/><circle cx="106.3" cy="439.3" r="0.88" fill="#2c9285"/><circle cx="111.2" cy="446.0" r="0.68" fill="#2a8d81"/><circle cx="109.8" cy="449.9" r="0.56" fill="#24796f"/><circle cx="112.2" cy="447.6" r="0.64" fill="#36b2a3"/><circle cx="103.3" cy="445.2" r="0.59" fill="#29897d"/><circle cx="101.7" cy="446.1" r="0.45" fill="#206b61"/><circle cx="110.1" cy="449.4" r="0.58" fill="#227066"/><circle cx="102.0" cy="441.1" r="0.48" fill="#35b2a3"/><circle cx="109.3" cy="443.0" r="0.58" fill="#184f48"/><circle cx="102.1" cy="442.8" r="0.69" fill="#14443e"/><circle cx="101.7" cy="441.5" r="0.53" fill="#2c9185"/><circle cx="106.3" cy="442.3" r="0.95" fill="#278277"/><circle cx="109.7" cy="442.6" r="0.63" fill="#24796f"/><circle cx="103.4" cy="448.0" r="0.51" fill="#257c72"/><circle cx="107.2" cy="449.3" r="0.50" fill="#2d978a"/><circle cx="100.6" cy="442.9" r="0.66" fill="#32a698"/><circle cx="111.4" cy="444.5" r="0.78" fill="#1c5d55"/><circle cx="111.9" cy="447.2" r="0.46" fill="#247a6f"/><circle cx="107.0" cy="446.6" r="0.88" fill="#206b62"/><circle cx="110.5" cy="439.7" r="0.47" fill="#31a294"/><circle cx="105.8" cy="442.0" r="0.67" fill="#28877b"/><circle cx="107.3" cy="448.1" r="0.40" fill="#216e65"/><circle cx="105.8" cy="439.3" r="0.53" fill="#31a496"/><circle cx="106.3" cy="446.8" r="0.56" fill="#31a496"/><circle cx="106.7" cy="450.0" r="0.90" fill="#2a8c80"/><circle cx="102.1" cy="440.6" r="0.92" fill="#184f48"/><circle cx="109.7" cy="444.9" r="0.83" fill="#1f685f"/><circle cx="105.3" cy="450.9" r="0.43" fill="#1e655c"/><circle cx="103.7" cy="445.5" r="0.54" fill="#18524b"/><circle cx="107.9" cy="438.7" r="0.46" fill="#1c5c54"/><circle cx="109.7" cy="444.3" r="0.88" fill="#19534c"/><circle cx="105.3" cy="448.2" r="0.61" fill="#19554d"/><circle cx="110.4" cy="450.0" r="0.62" fill="#2e9b8e"/><circle cx="104.3" cy="431.1" r="0.93" fill="#349679"/><circle cx="109.3" cy="436.3" r="0.85" fill="#205d4c"/><circle cx="103.5" cy="434.0" r="0.81" fill="#43c39e"/><circle cx="108.4" cy="435.6" r="0.45" fill="#2e856b"/><circle cx="105.3" cy="436.0" r="0.73" fill="#369b7d"/><circle cx="108.7" cy="434.9" r="0.59" fill="#39a586"/><circle cx="107.7" cy="430.5" r="0.93" fill="#266e59"/><circle cx="104.4" cy="434.3" r="0.78" fill="#1a4c3e"/><circle cx="108.9" cy="437.0" r="0.78" fill="#49d4ac"/><circle cx="108.0" cy="435.0" r="0.72" fill="#246a55"/><circle cx="107.5" cy="433.6" r="0.58" fill="#266e59"/><circle cx="110.2" cy="433.7" r="0.50" fill="#246854"/><circle cx="103.7" cy="435.6" r="0.42" fill="#1f5a49"/><circle cx="106.8" cy="435.1" r="0.81" fill="#28755f"/><circle cx="106.1" cy="431.6" r="0.62" fill="#329074"/><circle cx="110.4" cy="435.0" r="0.44" fill="#308c71"/><circle cx="109.7" cy="435.4" r="0.65" fill="#2d8269"/><circle cx="104.2" cy="432.5" r="0.43" fill="#44c49e"/><circle cx="106.0" cy="434.0" r="0.48" fill="#45c8a2"/><circle cx="106.2" cy="437.3" r="0.67" fill="#45c7a1"/><circle cx="107.5" cy="433.5" r="0.46" fill="#215e4c"/><circle cx="110.3" cy="434.9" r="0.61" fill="#42c09b"/><circle cx="106.6" cy="436.6" r="0.48" fill="#297760"/><circle cx="105.3" cy="431.9" r="0.57" fill="#379f81"/><circle cx="105.9" cy="433.7" r="0.89" fill="#297660"/><circle cx="104.8" cy="432.7" r="0.56" fill="#2d8269"/><circle cx="104.4" cy="435.2" r="0.65" fill="#41bc98"/><circle cx="105.7" cy="435.6" r="0.87" fill="#297760"/><circle cx="103.3" cy="433.0" r="0.67" fill="#3db08e"/><circle cx="104.1" cy="434.6" r="0.59" fill="#1c5041"/><circle cx="106.6" cy="435.2" r="0.62" fill="#2a7a62"/><circle cx="105.0" cy="434.2" r="0.41" fill="#359a7c"/><circle cx="103.6" cy="435.4" r="0.49" fill="#2d836a"/><circle cx="103.3" cy="435.5" r="0.46" fill="#39a485"/><circle cx="110.5" cy="434.7" r="0.69" fill="#1b4e3f"/><circle cx="109.8" cy="435.6" r="0.77" fill="#1e5848"/><circle cx="108.9" cy="432.8" r="0.86" fill="#4bdab1"/><circle cx="111.3" cy="432.5" r="0.94" fill="#27725c"/><circle cx="110.6" cy="433.6" r="0.77" fill="#236652"/><circle cx="107.0" cy="433.2" r="0.47" fill="#48d1a9"/><circle cx="110.2" cy="431.8" r="0.64" fill="#48d2aa"/><circle cx="107.2" cy="433.0" r="0.81" fill="#47cea7"/><circle cx="110.8" cy="432.5" r="0.89" fill="#44c59f"/><circle cx="108.9" cy="435.3" r="0.46" fill="#41bc98"/><circle cx="106.9" cy="433.2" r="0.60" fill="#4bd9af"/><circle cx="107.3" cy="436.9" r="0.83" fill="#43c39e"/><circle cx="108.5" cy="432.9" r="0.70" fill="#27705b"/><circle cx="108.2" cy="435.6" r="0.71" fill="#47cfa7"/><circle cx="107.6" cy="437.5" r="0.49" fill="#29765f"/><circle cx="107.2" cy="436.9" r="0.82" fill="#329075"/><circle cx="110.7" cy="436.6" r="0.75" fill="#1f5b49"/><circle cx="109.1" cy="436.2" r="0.95" fill="#2a7962"/><circle cx="110.9" cy="435.6" r="0.64" fill="#42be9a"/><circle cx="108.8" cy="437.7" r="0.44" fill="#318f74"/><circle cx="107.5" cy="434.4" r="0.46" fill="#42c09c"/><circle cx="109.2" cy="434.0" r="0.47" fill="#49d3ab"/><circle cx="107.0" cy="433.8" r="0.61" fill="#27705b"/><circle cx="107.5" cy="435.6" r="0.60" fill="#329176"/><circle cx="115.8" cy="442.2" r="0.41" fill="#20766e"/><circle cx="110.2" cy="442.7" r="0.71" fill="#1c6861"/><circle cx="111.0" cy="445.6" r="0.65" fill="#154c47"/><circle cx="116.2" cy="445.1" r="0.43" fill="#2b9d93"/><circle cx="116.9" cy="440.3" r="0.43" fill="#144844"/><circle cx="111.4" cy="441.2" r="0.59" fill="#28948b"/><circle cx="114.9" cy="445.7" r="0.56" fill="#268c83"/><circle cx="116.9" cy="446.6" r="0.53" fill="#35c2b6"/><circle cx="117.3" cy="440.4" r="0.80" fill="#28948a"/><circle cx="114.5" cy="448.4" r="0.78" fill="#1b615b"/><circle cx="117.2" cy="444.0" r="0.60" fill="#2faca1"/><circle cx="111.9" cy="447.0" r="0.52" fill="#2faca1"/><circle cx="110.3" cy="442.7" r="0.72" fill="#24867d"/><circle cx="116.0" cy="448.2" r="0.68" fill="#36c8bb"/><circle cx="118.3" cy="444.5" r="0.51" fill="#1e6f68"/><circle cx="110.7" cy="443.9" r="0.47" fill="#32b7ab"/><circle cx="111.0" cy="447.8" r="0.47" fill="#20746c"/><circle cx="115.7" cy="447.4" r="0.88" fill="#35c4b7"/><circle cx="115.4" cy="440.5" r="0.88" fill="#154e49"/><circle cx="110.0" cy="444.7" r="0.51" fill="#24847c"/><circle cx="113.3" cy="443.9" r="0.65" fill="#2da59a"/><circle cx="112.5" cy="443.2" r="0.95" fill="#20756e"/><circle cx="116.5" cy="445.2" r="0.89" fill="#268d84"/><circle cx="116.0" cy="440.8" r="0.76" fill="#2ca095"/><circle cx="116.7" cy="444.2" r="0.69" fill="#16504b"/><circle cx="113.5" cy="444.8" r="0.62" fill="#33bcb0"/><circle cx="117.1" cy="440.8" r="0.94" fill="#278d84"/><circle cx="116.6" cy="441.3" r="0.46" fill="#238279"/><circle cx="113.7" cy="441.4" r="0.84" fill="#31b5a9"/><circle cx="117.8" cy="445.6" r="0.79" fill="#2faca0"/><circle cx="116.4" cy="443.2" r="0.59" fill="#1f736b"/><circle cx="115.4" cy="442.3" r="0.92" fill="#34beb1"/><circle cx="115.2" cy="447.8" r="0.47" fill="#33bbae"/><circle cx="110.3" cy="444.4" r="0.58" fill="#1b635c"/><circle cx="111.8" cy="442.7" r="0.74" fill="#36c5b8"/><circle cx="112.0" cy="445.5" r="0.66" fill="#1f736c"/><circle cx="110.8" cy="441.1" r="0.81" fill="#1b645d"/><circle cx="116.0" cy="445.2" r="0.86" fill="#238279"/><circle cx="113.8" cy="444.9" r="0.82" fill="#16504b"/><circle cx="116.5" cy="448.4" r="0.88" fill="#2eaa9e"/><circle cx="112.1" cy="446.7" r="0.87" fill="#24847b"/><circle cx="115.5" cy="447.0" r="0.44" fill="#217a72"/><circle cx="117.2" cy="448.5" r="0.57" fill="#36c7ba"/><circle cx="115.0" cy="447.4" r="0.87" fill="#154e49"/><circle cx="115.7" cy="446.5" r="0.61" fill="#35c4b7"/><circle cx="113.4" cy="447.8" r="0.64" fill="#31b5aa"/><circle cx="115.2" cy="449.2" r="0.56" fill="#1d6962"/><circle cx="114.1" cy="448.5" r="0.72" fill="#2b9d93"/><circle cx="113.2" cy="447.5" r="0.55" fill="#227d75"/><circle cx="112.3" cy="446.1" r="0.86" fill="#2a9b91"/><circle cx="117.7" cy="448.1" r="0.86" fill="#185a54"/><circle cx="116.9" cy="447.0" r="0.49" fill="#34c0b3"/><circle cx="116.9" cy="444.8" r="0.61" fill="#258880"/><circle cx="117.0" cy="448.6" r="0.52" fill="#185752"/><circle cx="113.1" cy="447.6" r="0.70" fill="#20746d"/><circle cx="114.7" cy="447.6" r="0.94" fill="#2ca197"/><circle cx="119.8" cy="448.6" r="0.70" fill="#217870"/><circle cx="115.9" cy="444.5" r="0.42" fill="#34c0b4"/><circle cx="117.2" cy="444.9" r="0.82" fill="#34bfb3"/><circle cx="119.6" cy="448.8" r="0.70" fill="#185751"/><circle cx="119.1" cy="444.9" r="0.68" fill="#217870"/><circle cx="117.6" cy="446.3" r="0.93" fill="#17544f"/><circle cx="114.5" cy="446.9" r="0.50" fill="#227b73"/><circle cx="117.6" cy="444.5" r="0.94" fill="#1b615b"/><circle cx="117.8" cy="447.5" r="0.47" fill="#2fada2"/><circle cx="114.6" cy="446.5" r="0.42" fill="#238179"/><circle cx="114.8" cy="449.5" r="0.45" fill="#227d75"/><circle cx="114.5" cy="446.7" r="0.42" fill="#20766e"/><circle cx="113.9" cy="447.8" r="0.71" fill="#1b645e"/><circle cx="112.3" cy="448.1" r="0.46" fill="#185853"/><circle cx="112.8" cy="447.9" r="0.67" fill="#29978d"/><circle cx="110.0" cy="446.1" r="0.56" fill="#227e76"/><circle cx="114.9" cy="445.4" r="0.52" fill="#36c5b8"/><circle cx="113.5" cy="451.1" r="0.69" fill="#175650"/><circle cx="116.2" cy="448.7" r="0.45" fill="#20766f"/><circle cx="113.6" cy="444.3" r="0.83" fill="#144944"/><circle cx="111.1" cy="450.6" r="0.46" fill="#227c74"/><circle cx="113.9" cy="449.6" r="0.79" fill="#2faba0"/><circle cx="110.4" cy="449.1" r="0.45" fill="#24857c"/><circle cx="111.1" cy="450.2" r="0.69" fill="#2ea89d"/><circle cx="112.2" cy="445.2" r="0.60" fill="#24827a"/><circle cx="113.7" cy="449.5" r="0.66" fill="#1a605a"/><circle cx="110.3" cy="445.5" r="0.53" fill="#227c74"/><circle cx="114.6" cy="445.6" r="0.41" fill="#217a72"/><circle cx="115.1" cy="446.2" r="0.66" fill="#32b6aa"/><circle cx="113.3" cy="444.6" r="0.52" fill="#1f736b"/><circle cx="113.8" cy="446.0" r="0.49" fill="#34bfb3"/><circle cx="115.3" cy="449.3" r="0.91" fill="#16514c"/><circle cx="115.3" cy="450.6" r="0.90" fill="#1e7068"/><circle cx="112.4" cy="446.6" r="0.95" fill="#278e85"/><circle cx="114.0" cy="446.9" r="0.76" fill="#134742"/><circle cx="118.9" cy="434.7" r="0.48" fill="#266e82"/><circle cx="119.7" cy="434.0" r="0.82" fill="#256c7f"/><circle cx="116.8" cy="432.9" r="0.69" fill="#153e49"/><circle cx="117.0" cy="431.6" r="0.44" fill="#2c8098"/><circle cx="117.8" cy="435.1" r="0.84" fill="#133842"/><circle cx="116.0" cy="430.3" r="0.75" fill="#3396b1"/><circle cx="113.6" cy="432.1" r="0.47" fill="#163f4a"/><circle cx="116.1" cy="432.4" r="0.51" fill="#1c5261"/><circle cx="115.9" cy="431.7" r="0.57" fill="#256b7f"/><circle cx="118.0" cy="434.9" r="0.46" fill="#2f88a0"/><circle cx="115.5" cy="433.1" r="0.67" fill="#153e49"/><circle cx="116.7" cy="436.0" r="0.49" fill="#1b4d5b"/><circle cx="118.5" cy="435.2" r="0.58" fill="#143944"/><circle cx="118.3" cy="434.1" r="0.91" fill="#205c6d"/><circle cx="115.2" cy="434.6" r="0.59" fill="#369db9"/><circle cx="119.3" cy="431.7" r="0.73" fill="#359ab6"/><circle cx="114.2" cy="432.7" r="0.85" fill="#318da6"/><circle cx="115.5" cy="433.3" r="0.55" fill="#163f4b"/><circle cx="115.9" cy="431.7" r="0.71" fill="#2f87a0"/><circle cx="115.2" cy="431.6" r="0.90" fill="#2c7f96"/><circle cx="113.3" cy="431.7" r="0.66" fill="#29778d"/><circle cx="114.2" cy="431.5" r="0.93" fill="#1c5361"/><circle cx="114.3" cy="429.4" r="0.80" fill="#318ea7"/><circle cx="113.2" cy="430.4" r="0.66" fill="#2e869e"/><circle cx="112.2" cy="432.3" r="0.65" fill="#194956"/><circle cx="113.0" cy="432.4" r="0.55" fill="#17424e"/><circle cx="113.5" cy="432.5" r="0.84" fill="#1c5160"/><circle cx="115.3" cy="432.6" r="0.51" fill="#216071"/><circle cx="115.6" cy="431.7" r="0.93" fill="#1e5868"/><circle cx="117.6" cy="432.4" r="0.93" fill="#29778c"/><circle cx="115.1" cy="430.8" r="0.92" fill="#256a7d"/><circle cx="117.5" cy="432.1" r="0.55" fill="#163f4a"/><circle cx="116.2" cy="430.2" r="0.69" fill="#3496b1"/><circle cx="116.4" cy="432.4" r="0.59" fill="#153d48"/><circle cx="116.5" cy="432.4" r="0.48" fill="#1e5665"/><circle cx="115.6" cy="430.1" r="0.47" fill="#256c80"/></g>
</g>
<rect x="190.30" y="422.40" width="29.00" height="29.00" fill="#08090c" stroke="#ffffff" stroke-width="1.2" />
<clipPath id="ei2"><rect x="190.9" y="423.0" width="27.8" height="27.8"/></clipPath>
<g clip-path="url(#ei2)">
<g filter="url(#bl4)"><circle cx="209.3" cy="432.4" r="5.4" fill="#172c61" opacity="0.85"/><circle cx="206.7" cy="433.5" r="3.9" fill="#172c61" opacity="0.85"/><circle cx="211.8" cy="432.1" r="3.0" fill="#172c61" opacity="0.85"/><circle cx="212.0" cy="434.1" r="3.6" fill="#172c61" opacity="0.85"/><circle cx="204.3" cy="438.4" r="6.5" fill="#14285c" opacity="0.85"/><circle cx="203.5" cy="435.9" r="3.8" fill="#14285c" opacity="0.85"/><circle cx="204.9" cy="434.9" r="4.8" fill="#14285c" opacity="0.85"/><circle cx="206.2" cy="441.3" r="5.1" fill="#14285c" opacity="0.85"/><circle cx="200.3" cy="444.4" r="5.4" fill="#142558" opacity="0.85"/><circle cx="201.3" cy="441.3" r="3.2" fill="#142558" opacity="0.85"/><circle cx="200.9" cy="441.8" r="3.2" fill="#142558" opacity="0.85"/><circle cx="202.1" cy="446.0" r="3.6" fill="#142558" opacity="0.85"/><circle cx="211.3" cy="441.4" r="3.2" fill="#173061" opacity="0.85"/><circle cx="210.0" cy="442.4" r="2.6" fill="#173061" opacity="0.85"/><circle cx="211.4" cy="443.4" r="2.0" fill="#173061" opacity="0.85"/><circle cx="212.5" cy="440.8" r="2.0" fill="#173061" opacity="0.85"/></g>
<g filter="url(#bl3)"><circle cx="212.7" cy="434.2" r="0.71" fill="#2a50af"/><circle cx="210.2" cy="428.8" r="0.79" fill="#315dcc"/><circle cx="212.3" cy="430.3" r="0.42" fill="#162a5c"/><circle cx="209.4" cy="436.3" r="0.53" fill="#325fd0"/><circle cx="210.3" cy="429.7" r="0.50" fill="#162a5d"/><circle cx="210.3" cy="431.8" r="0.71" fill="#172c61"/><circle cx="208.2" cy="430.5" r="0.81" fill="#1f3b83"/><circle cx="209.1" cy="428.5" r="0.81" fill="#274ba5"/><circle cx="212.2" cy="433.4" r="0.68" fill="#284da9"/><circle cx="208.2" cy="436.5" r="0.76" fill="#315ecf"/><circle cx="213.3" cy="431.7" r="0.82" fill="#172c61"/><circle cx="207.7" cy="428.6" r="0.72" fill="#3565df"/><circle cx="210.7" cy="430.6" r="0.60" fill="#2d55bc"/><circle cx="207.0" cy="435.3" r="0.46" fill="#3260d3"/><circle cx="205.6" cy="430.6" r="0.58" fill="#182d63"/><circle cx="210.6" cy="429.1" r="0.64" fill="#1d3779"/><circle cx="212.0" cy="430.4" r="0.70" fill="#142653"/><circle cx="209.5" cy="436.0" r="0.41" fill="#315ece"/><circle cx="207.0" cy="431.9" r="0.56" fill="#25469a"/><circle cx="210.4" cy="430.8" r="0.94" fill="#284da9"/><circle cx="211.0" cy="429.7" r="0.82" fill="#305cca"/><circle cx="205.2" cy="432.2" r="0.48" fill="#2c54b8"/><circle cx="212.1" cy="429.5" r="0.73" fill="#284da9"/><circle cx="207.2" cy="432.5" r="0.74" fill="#172c60"/><circle cx="206.9" cy="434.1" r="0.47" fill="#203d86"/><circle cx="212.0" cy="435.1" r="0.79" fill="#284ca7"/><circle cx="204.2" cy="434.8" r="0.81" fill="#1d387b"/><circle cx="204.7" cy="433.7" r="0.93" fill="#213e89"/><circle cx="209.2" cy="433.4" r="0.85" fill="#193069"/><circle cx="205.4" cy="435.6" r="0.94" fill="#1a326e"/><circle cx="204.5" cy="432.0" r="0.70" fill="#1c3677"/><circle cx="207.3" cy="436.3" r="0.65" fill="#213f8a"/><circle cx="205.2" cy="431.1" r="0.48" fill="#26489e"/><circle cx="205.9" cy="431.0" r="0.43" fill="#3362d7"/><circle cx="208.7" cy="433.0" r="0.40" fill="#132550"/><circle cx="208.6" cy="434.1" r="0.81" fill="#22408d"/><circle cx="206.4" cy="434.9" r="0.93" fill="#234495"/><circle cx="206.7" cy="435.3" r="0.69" fill="#25469a"/><circle cx="205.6" cy="436.0" r="0.56" fill="#315dcc"/><circle cx="211.0" cy="432.0" r="0.87" fill="#2c53b7"/><circle cx="210.0" cy="432.4" r="0.64" fill="#203d85"/><circle cx="211.9" cy="430.6" r="0.62" fill="#25469a"/><circle cx="210.4" cy="433.9" r="0.48" fill="#152858"/><circle cx="210.9" cy="434.2" r="0.77" fill="#254699"/><circle cx="211.4" cy="430.2" r="0.52" fill="#1e3a7f"/><circle cx="213.1" cy="432.2" r="0.86" fill="#1a326f"/><circle cx="211.4" cy="430.1" r="0.89" fill="#1c3575"/><circle cx="211.9" cy="434.1" r="0.89" fill="#142552"/><circle cx="212.1" cy="434.9" r="0.88" fill="#2a4fae"/><circle cx="211.8" cy="431.8" r="0.75" fill="#2e58c2"/><circle cx="212.4" cy="436.5" r="0.94" fill="#192f67"/><circle cx="212.0" cy="434.8" r="0.87" fill="#2d55bc"/><circle cx="212.6" cy="436.6" r="0.42" fill="#3667e3"/><circle cx="213.0" cy="434.6" r="0.44" fill="#2b51b3"/><circle cx="213.9" cy="435.2" r="0.57" fill="#315dce"/><circle cx="213.5" cy="434.1" r="0.89" fill="#2e57bf"/><circle cx="214.1" cy="434.6" r="0.47" fill="#2d56bd"/><circle cx="213.7" cy="433.7" r="0.78" fill="#305bc7"/><circle cx="206.8" cy="438.8" r="0.66" fill="#1b377f"/><circle cx="202.3" cy="439.0" r="0.84" fill="#21439c"/><circle cx="205.6" cy="437.1" r="0.63" fill="#2e5cd8"/><circle cx="204.2" cy="434.9" r="0.95" fill="#2e5bd5"/><circle cx="205.7" cy="441.7" r="0.51" fill="#2952bf"/><circle cx="209.0" cy="439.3" r="0.84" fill="#172e6a"/><circle cx="203.3" cy="436.2" r="0.68" fill="#132658"/><circle cx="204.6" cy="440.0" r="0.89" fill="#1e3c8c"/><circle cx="208.0" cy="436.3" r="0.67" fill="#132659"/><circle cx="204.8" cy="437.7" r="0.50" fill="#2a54c4"/><circle cx="203.6" cy="440.2" r="0.70" fill="#22449f"/><circle cx="200.5" cy="435.8" r="0.48" fill="#22439d"/><circle cx="207.6" cy="442.0" r="0.55" fill="#2850bb"/><circle cx="204.8" cy="434.5" r="0.91" fill="#2f5eda"/><circle cx="203.2" cy="441.4" r="0.93" fill="#193376"/><circle cx="209.0" cy="440.1" r="0.57" fill="#2c58cd"/><circle cx="203.4" cy="442.7" r="0.45" fill="#2952c0"/><circle cx="207.5" cy="436.1" r="0.90" fill="#2447a6"/><circle cx="204.4" cy="434.6" r="0.69" fill="#2952bf"/><circle cx="206.4" cy="442.7" r="0.48" fill="#1b367e"/><circle cx="206.5" cy="438.1" r="0.61" fill="#274db5"/><circle cx="204.6" cy="437.0" r="0.43" fill="#14275c"/><circle cx="206.3" cy="437.5" r="0.95" fill="#22449e"/><circle cx="203.2" cy="440.6" r="0.69" fill="#162c67"/><circle cx="204.7" cy="439.4" r="0.72" fill="#264cb2"/><circle cx="205.6" cy="434.0" r="0.73" fill="#132557"/><circle cx="201.1" cy="436.4" r="0.41" fill="#1c3884"/><circle cx="204.5" cy="442.1" r="0.91" fill="#183070"/><circle cx="207.8" cy="438.9" r="0.79" fill="#193376"/><circle cx="203.2" cy="438.0" r="0.62" fill="#2953c2"/><circle cx="205.4" cy="439.6" r="0.85" fill="#22449e"/><circle cx="203.7" cy="441.6" r="0.41" fill="#122454"/><circle cx="204.0" cy="435.9" r="0.53" fill="#22439d"/><circle cx="207.1" cy="437.7" r="0.91" fill="#14285d"/><circle cx="207.9" cy="434.9" r="0.45" fill="#1b367e"/><circle cx="209.1" cy="436.9" r="0.44" fill="#2345a2"/><circle cx="204.8" cy="437.7" r="0.50" fill="#2448a9"/><circle cx="202.8" cy="437.4" r="0.41" fill="#11214d"/><circle cx="201.8" cy="437.3" r="0.63" fill="#2e5dd8"/><circle cx="202.7" cy="437.1" r="0.50" fill="#1a357b"/><circle cx="203.6" cy="433.1" r="0.92" fill="#2d5bd3"/><circle cx="202.5" cy="434.9" r="0.71" fill="#2850bb"/><circle cx="205.4" cy="435.0" r="0.70" fill="#1f3e91"/><circle cx="202.9" cy="433.3" r="0.90" fill="#2b55c7"/><circle cx="203.3" cy="435.9" r="0.89" fill="#162d69"/><circle cx="204.7" cy="434.4" r="0.92" fill="#183071"/><circle cx="203.4" cy="434.8" r="0.88" fill="#204197"/><circle cx="201.6" cy="437.0" r="0.48" fill="#2a54c3"/><circle cx="201.7" cy="438.2" r="0.83" fill="#1a357b"/><circle cx="203.6" cy="434.0" r="0.59" fill="#112351"/><circle cx="205.5" cy="437.7" r="0.77" fill="#132659"/><circle cx="208.1" cy="433.3" r="0.79" fill="#2a55c5"/><circle cx="202.6" cy="437.5" r="0.54" fill="#2245a0"/><circle cx="205.1" cy="437.1" r="0.84" fill="#214299"/><circle cx="205.2" cy="433.7" r="0.82" fill="#1a357b"/><circle cx="204.1" cy="432.6" r="0.67" fill="#162c67"/><circle cx="207.1" cy="432.7" r="0.50" fill="#172e6c"/><circle cx="203.9" cy="437.0" r="0.94" fill="#2c57cb"/><circle cx="201.8" cy="436.6" r="0.77" fill="#14285c"/><circle cx="202.9" cy="432.7" r="0.81" fill="#21429b"/><circle cx="207.7" cy="436.3" r="0.60" fill="#2346a3"/><circle cx="202.1" cy="432.5" r="0.64" fill="#193173"/><circle cx="203.8" cy="436.1" r="0.84" fill="#2850bb"/><circle cx="203.7" cy="437.6" r="0.58" fill="#2e5dd8"/><circle cx="207.5" cy="436.5" r="0.58" fill="#162c68"/><circle cx="201.9" cy="433.4" r="0.54" fill="#2951be"/><circle cx="205.0" cy="432.4" r="0.50" fill="#1e3c8b"/><circle cx="201.8" cy="436.6" r="0.72" fill="#132659"/><circle cx="207.0" cy="437.3" r="0.92" fill="#2952bf"/><circle cx="206.3" cy="435.1" r="0.65" fill="#254baf"/><circle cx="208.4" cy="441.0" r="0.66" fill="#2d5ad3"/><circle cx="207.2" cy="439.8" r="0.43" fill="#2d5ad1"/><circle cx="206.4" cy="441.2" r="0.89" fill="#13275b"/><circle cx="204.9" cy="440.1" r="0.41" fill="#122454"/><circle cx="206.1" cy="443.1" r="0.91" fill="#1f3f92"/><circle cx="210.1" cy="441.3" r="0.59" fill="#193173"/><circle cx="204.5" cy="443.8" r="0.79" fill="#122454"/><circle cx="205.4" cy="438.5" r="0.53" fill="#122454"/><circle cx="205.2" cy="442.5" r="0.71" fill="#193275"/><circle cx="205.8" cy="441.4" r="0.46" fill="#1e3c8c"/><circle cx="204.9" cy="443.3" r="0.77" fill="#274fb7"/><circle cx="204.2" cy="440.7" r="0.79" fill="#172e6c"/><circle cx="205.6" cy="442.2" r="0.61" fill="#284fb9"/><circle cx="205.3" cy="439.7" r="0.50" fill="#193173"/><circle cx="207.7" cy="443.6" r="0.43" fill="#264cb1"/><circle cx="204.1" cy="438.5" r="0.93" fill="#1f3e92"/><circle cx="208.9" cy="444.2" r="0.76" fill="#2449a9"/><circle cx="207.9" cy="443.7" r="0.46" fill="#274fb8"/><circle cx="202.5" cy="439.9" r="0.45" fill="#2b57ca"/><circle cx="204.7" cy="441.8" r="0.92" fill="#18306f"/><circle cx="205.9" cy="442.9" r="0.93" fill="#1f3d8f"/><circle cx="203.3" cy="441.5" r="0.73" fill="#2851bc"/><circle cx="203.7" cy="443.1" r="0.58" fill="#172f6d"/><circle cx="203.8" cy="444.1" r="0.80" fill="#12224f"/><circle cx="200.9" cy="447.7" r="0.58" fill="#2649ab"/><circle cx="204.2" cy="445.2" r="0.71" fill="#2647a8"/><circle cx="199.3" cy="446.5" r="0.78" fill="#111f4a"/><circle cx="202.1" cy="447.3" r="0.61" fill="#284bb1"/><circle cx="200.3" cy="441.7" r="0.74" fill="#1f3a88"/><circle cx="199.2" cy="446.1" r="0.45" fill="#15275d"/><circle cx="202.3" cy="443.6" r="0.75" fill="#294eb7"/><circle cx="199.8" cy="446.3" r="0.88" fill="#1a3173"/><circle cx="203.5" cy="445.9" r="0.92" fill="#15275c"/><circle cx="200.5" cy="446.0" r="0.91" fill="#1a3174"/><circle cx="199.6" cy="445.8" r="0.55" fill="#2545a3"/><circle cx="197.2" cy="446.2" r="0.70" fill="#1a3172"/><circle cx="197.7" cy="446.6" r="0.41" fill="#1f3b8b"/><circle cx="198.0" cy="442.4" r="0.49" fill="#224198"/><circle cx="199.6" cy="440.2" r="0.46" fill="#1e3987"/><circle cx="200.9" cy="446.8" r="0.56" fill="#1c357d"/><circle cx="198.2" cy="442.4" r="0.44" fill="#12214e"/><circle cx="198.9" cy="443.5" r="0.62" fill="#1b347a"/><circle cx="198.1" cy="446.5" r="0.86" fill="#224097"/><circle cx="196.1" cy="443.7" r="0.77" fill="#11204b"/><circle cx="197.6" cy="445.6" r="0.48" fill="#172c67"/><circle cx="196.8" cy="445.2" r="0.78" fill="#122352"/><circle cx="199.0" cy="440.5" r="0.66" fill="#15275d"/><circle cx="202.5" cy="444.7" r="0.90" fill="#15275d"/><circle cx="201.2" cy="444.4" r="0.87" fill="#2749ad"/><circle cx="201.1" cy="442.1" r="0.57" fill="#2e57cd"/><circle cx="200.7" cy="442.5" r="0.45" fill="#2647a7"/><circle cx="200.7" cy="443.1" r="0.52" fill="#294db6"/><circle cx="199.5" cy="442.7" r="0.51" fill="#2648a9"/><circle cx="199.8" cy="440.3" r="0.84" fill="#15275c"/><circle cx="201.9" cy="440.3" r="0.45" fill="#182e6c"/><circle cx="200.8" cy="439.0" r="0.60" fill="#1c347b"/><circle cx="201.8" cy="440.4" r="0.93" fill="#2649ab"/><circle cx="202.3" cy="441.0" r="0.59" fill="#1a3172"/><circle cx="201.1" cy="440.8" r="0.42" fill="#1e3986"/><circle cx="200.4" cy="443.9" r="0.83" fill="#101f49"/><circle cx="201.4" cy="440.4" r="0.84" fill="#15285d"/><circle cx="199.0" cy="440.9" r="0.81" fill="#15285e"/><circle cx="199.7" cy="442.4" r="0.71" fill="#2546a4"/><circle cx="202.3" cy="440.7" r="0.72" fill="#172b65"/><circle cx="200.0" cy="439.7" r="0.40" fill="#2547a7"/><circle cx="200.9" cy="441.0" r="0.92" fill="#2a50bd"/><circle cx="202.5" cy="440.6" r="0.82" fill="#192f6f"/><circle cx="199.4" cy="445.7" r="0.84" fill="#172b65"/><circle cx="200.9" cy="447.4" r="0.42" fill="#1e3985"/><circle cx="201.2" cy="445.2" r="0.70" fill="#15285d"/><circle cx="203.5" cy="444.4" r="0.65" fill="#2e57cd"/><circle cx="202.7" cy="443.6" r="0.64" fill="#1f3b8a"/><circle cx="202.3" cy="448.4" r="0.88" fill="#172c68"/><circle cx="204.2" cy="446.6" r="0.82" fill="#2444a0"/><circle cx="201.1" cy="448.0" r="0.51" fill="#2a4fba"/><circle cx="203.3" cy="444.2" r="0.81" fill="#132556"/><circle cx="202.3" cy="447.6" r="0.41" fill="#132352"/><circle cx="202.5" cy="448.5" r="0.77" fill="#1f3b8a"/><circle cx="210.8" cy="440.5" r="0.42" fill="#2f63c6"/><circle cx="209.4" cy="441.3" r="0.86" fill="#183263"/><circle cx="212.2" cy="439.1" r="0.78" fill="#2e61c1"/><circle cx="212.6" cy="442.7" r="0.63" fill="#2d5ebd"/><circle cx="209.9" cy="439.3" r="0.76" fill="#2c5cb9"/><circle cx="211.2" cy="441.9" r="0.40" fill="#2d5ebb"/><circle cx="209.3" cy="439.9" r="0.86" fill="#1a366c"/><circle cx="210.6" cy="440.5" r="0.68" fill="#162d5b"/><circle cx="210.8" cy="439.8" r="0.77" fill="#2b5ab4"/><circle cx="208.7" cy="443.1" r="0.59" fill="#2753a5"/><circle cx="209.5" cy="443.2" r="0.58" fill="#193569"/><circle cx="210.4" cy="441.7" r="0.89" fill="#2f63c5"/><circle cx="210.8" cy="441.3" r="0.48" fill="#1a366c"/><circle cx="211.5" cy="443.6" r="0.53" fill="#1e3f7f"/><circle cx="212.3" cy="442.4" r="0.61" fill="#152c59"/><circle cx="212.2" cy="443.8" r="0.78" fill="#26509f"/><circle cx="211.1" cy="444.4" r="0.63" fill="#172f5f"/><circle cx="213.0" cy="440.0" r="0.55" fill="#1d3c78"/><circle cx="212.7" cy="441.2" r="0.58" fill="#2c5dba"/><circle cx="213.8" cy="440.2" r="0.83" fill="#142a54"/></g>
</g>
<rect x="283.30" y="422.60" width="29.00" height="29.00" fill="#08090c" stroke="#ffffff" stroke-width="1.2" />
<clipPath id="ei3"><rect x="283.90000000000003" y="423.20000000000005" width="27.8" height="27.8"/></clipPath>
<g clip-path="url(#ei3)">
<g filter="url(#bl4)"><circle cx="297.3" cy="436.6" r="8.6" fill="#165c58" opacity="0.85"/><circle cx="302.6" cy="434.4" r="5.8" fill="#165c58" opacity="0.85"/><circle cx="295.5" cy="440.7" r="6.9" fill="#165c58" opacity="0.85"/><circle cx="302.9" cy="436.3" r="6.5" fill="#165c58" opacity="0.85"/><circle cx="295.3" cy="442.6" r="5.4" fill="#1a655c" opacity="0.85"/><circle cx="294.3" cy="440.2" r="3.4" fill="#1a655c" opacity="0.85"/><circle cx="292.4" cy="443.8" r="3.7" fill="#1a655c" opacity="0.85"/><circle cx="298.4" cy="441.4" r="3.7" fill="#1a655c" opacity="0.85"/><circle cx="299.3" cy="430.6" r="4.3" fill="#1a5c61" opacity="0.85"/><circle cx="297.9" cy="429.6" r="3.4" fill="#1a5c61" opacity="0.85"/><circle cx="297.2" cy="431.7" r="3.5" fill="#1a5c61" opacity="0.85"/><circle cx="297.8" cy="432.6" r="3.0" fill="#1a5c61" opacity="0.85"/></g>
<g filter="url(#bl3)"><circle cx="301.3" cy="433.4" r="0.69" fill="#1e7d77"/><circle cx="294.0" cy="442.0" r="0.90" fill="#155753"/><circle cx="302.3" cy="433.7" r="0.76" fill="#1a6b66"/><circle cx="301.4" cy="439.9" r="0.53" fill="#27a59d"/><circle cx="295.2" cy="434.0" r="0.75" fill="#2fc4bb"/><circle cx="292.2" cy="437.1" r="0.91" fill="#33d4ca"/><circle cx="301.1" cy="431.2" r="0.55" fill="#32d1c7"/><circle cx="296.3" cy="430.9" r="0.74" fill="#23928b"/><circle cx="298.2" cy="431.7" r="0.82" fill="#2aafa7"/><circle cx="292.2" cy="435.8" r="0.50" fill="#28a69e"/><circle cx="291.9" cy="440.6" r="0.67" fill="#30cbc1"/><circle cx="293.7" cy="436.7" r="0.80" fill="#33d6cc"/><circle cx="300.5" cy="435.6" r="0.88" fill="#31cec4"/><circle cx="303.3" cy="434.6" r="0.44" fill="#26a199"/><circle cx="303.8" cy="435.0" r="0.81" fill="#228d86"/><circle cx="299.5" cy="436.4" r="0.74" fill="#196964"/><circle cx="298.6" cy="435.0" r="0.88" fill="#32d0c6"/><circle cx="301.7" cy="439.9" r="0.65" fill="#14534f"/><circle cx="294.3" cy="431.1" r="0.53" fill="#186762"/><circle cx="298.1" cy="434.7" r="0.47" fill="#26a19a"/><circle cx="299.7" cy="438.7" r="0.79" fill="#26a099"/><circle cx="303.1" cy="439.6" r="0.78" fill="#1f827c"/><circle cx="297.4" cy="434.4" r="0.87" fill="#33d7cd"/><circle cx="295.7" cy="440.2" r="0.68" fill="#2fc6bd"/><circle cx="297.4" cy="432.5" r="0.85" fill="#124c49"/><circle cx="301.1" cy="431.1" r="0.95" fill="#2dbfb6"/><circle cx="301.0" cy="439.8" r="0.95" fill="#27a59d"/><circle cx="303.2" cy="433.6" r="0.48" fill="#2ec3ba"/><circle cx="294.3" cy="430.6" r="0.94" fill="#26a19a"/><circle cx="295.1" cy="435.8" r="0.58" fill="#2fc6bc"/><circle cx="302.0" cy="437.6" r="0.47" fill="#14534f"/><circle cx="300.1" cy="438.6" r="0.68" fill="#32d2c8"/><circle cx="298.8" cy="439.3" r="0.76" fill="#1a6c67"/><circle cx="301.5" cy="439.1" r="0.81" fill="#1c746f"/><circle cx="297.4" cy="434.0" r="0.91" fill="#23938c"/><circle cx="292.9" cy="433.5" r="0.56" fill="#29aea5"/><circle cx="298.4" cy="437.8" r="0.60" fill="#2cbab1"/><circle cx="300.1" cy="439.2" r="0.56" fill="#165b56"/><circle cx="302.2" cy="435.3" r="0.46" fill="#218c85"/><circle cx="302.6" cy="433.3" r="0.62" fill="#186560"/><circle cx="298.7" cy="432.5" r="0.57" fill="#2fc4ba"/><circle cx="295.6" cy="440.5" r="0.52" fill="#2cbab1"/><circle cx="297.9" cy="435.9" r="0.90" fill="#31d0c6"/><circle cx="293.5" cy="435.2" r="0.73" fill="#14524e"/><circle cx="301.0" cy="435.9" r="0.42" fill="#28a9a1"/><circle cx="299.8" cy="435.7" r="0.91" fill="#1b736e"/><circle cx="291.7" cy="435.6" r="0.84" fill="#1d7973"/><circle cx="298.6" cy="435.0" r="0.89" fill="#27a49c"/><circle cx="292.9" cy="439.5" r="0.65" fill="#14534f"/><circle cx="299.2" cy="430.6" r="0.66" fill="#31cec4"/><circle cx="296.4" cy="439.5" r="0.70" fill="#2fc7bd"/><circle cx="298.4" cy="436.0" r="0.63" fill="#17615c"/><circle cx="300.0" cy="436.1" r="0.41" fill="#20857e"/><circle cx="298.2" cy="434.9" r="0.68" fill="#165c58"/><circle cx="294.6" cy="430.4" r="0.89" fill="#259c95"/><circle cx="297.7" cy="430.8" r="0.79" fill="#1e7f79"/><circle cx="297.4" cy="432.0" r="0.46" fill="#17605b"/><circle cx="302.7" cy="435.2" r="0.80" fill="#2fc4bb"/><circle cx="296.0" cy="442.1" r="0.69" fill="#208882"/><circle cx="294.5" cy="432.6" r="0.62" fill="#165e5a"/><circle cx="302.2" cy="439.2" r="0.92" fill="#259a93"/><circle cx="293.5" cy="435.5" r="0.42" fill="#218a83"/><circle cx="297.0" cy="434.0" r="0.69" fill="#196863"/><circle cx="297.7" cy="431.7" r="0.61" fill="#2cb8af"/><circle cx="294.2" cy="433.7" r="0.88" fill="#29ada4"/><circle cx="298.9" cy="432.6" r="0.87" fill="#26a098"/><circle cx="298.3" cy="433.7" r="0.94" fill="#32d0c7"/><circle cx="299.6" cy="431.6" r="0.79" fill="#20857f"/><circle cx="299.6" cy="434.5" r="0.89" fill="#20847e"/><circle cx="300.8" cy="438.0" r="0.48" fill="#1b716b"/><circle cx="299.9" cy="438.1" r="0.69" fill="#196762"/><circle cx="300.9" cy="437.9" r="0.84" fill="#26a098"/><circle cx="301.6" cy="431.3" r="0.62" fill="#2cb7af"/><circle cx="299.5" cy="431.8" r="0.55" fill="#186661"/><circle cx="300.1" cy="434.2" r="0.41" fill="#145652"/><circle cx="300.3" cy="435.7" r="0.58" fill="#155955"/><circle cx="306.2" cy="432.4" r="0.54" fill="#17605c"/><circle cx="306.9" cy="433.5" r="0.79" fill="#1f807a"/><circle cx="301.2" cy="433.5" r="0.91" fill="#33d8ce"/><circle cx="304.7" cy="432.2" r="0.63" fill="#269e97"/><circle cx="298.4" cy="435.3" r="0.82" fill="#31cec4"/><circle cx="301.8" cy="432.7" r="0.73" fill="#14534f"/><circle cx="302.4" cy="432.6" r="0.88" fill="#2bb5ac"/><circle cx="303.0" cy="430.6" r="0.87" fill="#155854"/><circle cx="302.3" cy="430.7" r="0.77" fill="#1b716b"/><circle cx="301.5" cy="436.4" r="0.90" fill="#165e5a"/><circle cx="303.8" cy="437.1" r="0.87" fill="#34dacf"/><circle cx="302.8" cy="434.8" r="0.84" fill="#2ec3ba"/><circle cx="298.9" cy="434.7" r="0.77" fill="#29ada5"/><circle cx="304.7" cy="432.0" r="0.92" fill="#2cbab1"/><circle cx="300.0" cy="433.4" r="0.46" fill="#17615c"/><circle cx="300.8" cy="437.0" r="0.89" fill="#155753"/><circle cx="300.7" cy="433.5" r="0.59" fill="#23918a"/><circle cx="299.7" cy="437.2" r="0.93" fill="#249891"/><circle cx="301.7" cy="436.5" r="0.73" fill="#165b57"/><circle cx="306.4" cy="434.6" r="0.74" fill="#33d5cb"/><circle cx="293.9" cy="441.3" r="0.86" fill="#269e96"/><circle cx="298.5" cy="439.8" r="0.57" fill="#17605c"/><circle cx="296.9" cy="441.3" r="0.85" fill="#1a6c67"/><circle cx="296.6" cy="446.0" r="0.48" fill="#269e96"/><circle cx="296.7" cy="445.7" r="0.83" fill="#228e88"/><circle cx="297.4" cy="444.4" r="0.50" fill="#28a8a0"/><circle cx="291.3" cy="442.5" r="0.82" fill="#1b716c"/><circle cx="294.9" cy="438.5" r="0.50" fill="#31cec4"/><circle cx="300.3" cy="442.2" r="0.66" fill="#13514d"/><circle cx="298.8" cy="443.8" r="0.49" fill="#1b726c"/><circle cx="296.0" cy="445.6" r="0.93" fill="#196762"/><circle cx="296.4" cy="438.5" r="0.81" fill="#2dbfb5"/><circle cx="294.9" cy="442.1" r="0.95" fill="#28a9a1"/><circle cx="293.3" cy="443.7" r="0.71" fill="#2bb3ab"/><circle cx="295.7" cy="443.7" r="0.62" fill="#29aca3"/><circle cx="294.9" cy="436.4" r="0.68" fill="#218c86"/><circle cx="297.6" cy="436.6" r="0.66" fill="#145652"/><circle cx="292.0" cy="440.9" r="0.69" fill="#20857e"/><circle cx="292.0" cy="441.2" r="0.77" fill="#1e7d77"/><circle cx="297.5" cy="444.7" r="0.64" fill="#218b84"/><circle cx="298.8" cy="436.6" r="0.41" fill="#20857f"/><circle cx="293.5" cy="445.8" r="0.88" fill="#23948d"/><circle cx="292.7" cy="439.6" r="0.71" fill="#218a84"/><circle cx="297.6" cy="441.2" r="0.46" fill="#30cac1"/><circle cx="290.8" cy="440.2" r="0.87" fill="#218a84"/><circle cx="290.9" cy="442.5" r="0.82" fill="#124d4a"/><circle cx="290.8" cy="443.2" r="0.41" fill="#124c49"/><circle cx="295.3" cy="435.6" r="0.59" fill="#155a56"/><circle cx="299.6" cy="443.4" r="0.70" fill="#145551"/><circle cx="292.2" cy="444.0" r="0.45" fill="#1b726c"/><circle cx="296.1" cy="443.2" r="0.56" fill="#2cb7ae"/><circle cx="295.3" cy="439.0" r="0.86" fill="#165e59"/><circle cx="295.0" cy="438.3" r="0.77" fill="#1d7a74"/><circle cx="298.6" cy="441.5" r="0.77" fill="#208680"/><circle cx="293.7" cy="442.7" r="0.74" fill="#30c8be"/><circle cx="293.4" cy="441.5" r="0.68" fill="#24968f"/><circle cx="294.9" cy="436.3" r="0.76" fill="#218982"/><circle cx="290.4" cy="442.5" r="0.82" fill="#23948d"/><circle cx="297.2" cy="443.6" r="0.51" fill="#155854"/><circle cx="296.6" cy="438.4" r="0.52" fill="#1f847e"/><circle cx="296.6" cy="441.9" r="0.76" fill="#28a8a0"/><circle cx="298.9" cy="441.7" r="0.53" fill="#2ab1a8"/><circle cx="300.4" cy="439.0" r="0.90" fill="#165d59"/><circle cx="303.1" cy="435.1" r="0.58" fill="#134e4a"/><circle cx="299.4" cy="438.6" r="0.73" fill="#1c7671"/><circle cx="301.3" cy="438.0" r="0.59" fill="#27a69e"/><circle cx="301.2" cy="437.1" r="0.66" fill="#33d7cd"/><circle cx="299.2" cy="437.9" r="0.56" fill="#29aca4"/><circle cx="302.7" cy="436.4" r="0.47" fill="#218b85"/><circle cx="298.9" cy="436.9" r="0.56" fill="#32d0c6"/><circle cx="302.2" cy="432.8" r="0.82" fill="#23928b"/><circle cx="302.6" cy="435.1" r="0.68" fill="#2bb6ad"/><circle cx="302.2" cy="438.7" r="0.64" fill="#34dad0"/><circle cx="302.8" cy="432.8" r="0.53" fill="#2ec2b9"/><circle cx="301.7" cy="433.8" r="0.95" fill="#228f88"/><circle cx="305.1" cy="440.2" r="0.77" fill="#14534f"/><circle cx="298.0" cy="437.4" r="0.68" fill="#165b57"/><circle cx="304.2" cy="437.0" r="0.58" fill="#2cbab1"/><circle cx="298.9" cy="433.4" r="0.45" fill="#228e88"/><circle cx="305.1" cy="436.7" r="0.63" fill="#228e87"/><circle cx="304.7" cy="433.2" r="0.85" fill="#218982"/><circle cx="305.8" cy="440.1" r="0.50" fill="#30c9c0"/><circle cx="305.6" cy="437.0" r="0.75" fill="#23948d"/><circle cx="305.8" cy="436.9" r="0.94" fill="#2fc6bd"/><circle cx="300.9" cy="435.7" r="0.45" fill="#1a6c67"/><circle cx="305.0" cy="432.2" r="0.46" fill="#165b57"/><circle cx="304.8" cy="432.3" r="0.60" fill="#2ab2aa"/><circle cx="303.4" cy="438.9" r="0.83" fill="#218a84"/><circle cx="303.6" cy="437.9" r="0.79" fill="#2aafa7"/><circle cx="303.0" cy="434.9" r="0.52" fill="#165d59"/><circle cx="301.6" cy="434.8" r="0.55" fill="#218982"/><circle cx="305.9" cy="437.4" r="0.92" fill="#32d0c6"/><circle cx="303.1" cy="440.2" r="0.65" fill="#2cb8af"/><circle cx="303.0" cy="432.0" r="0.46" fill="#1e7d77"/><circle cx="304.0" cy="436.1" r="0.83" fill="#33d7cd"/><circle cx="302.4" cy="433.5" r="0.70" fill="#24958e"/><circle cx="301.6" cy="434.5" r="0.84" fill="#32d2c8"/><circle cx="302.1" cy="439.6" r="0.89" fill="#196964"/><circle cx="299.3" cy="438.2" r="0.57" fill="#32d0c6"/><circle cx="299.8" cy="436.1" r="0.93" fill="#1d7a74"/><circle cx="295.4" cy="446.6" r="0.70" fill="#1f786e"/><circle cx="297.7" cy="441.4" r="0.59" fill="#3be3d0"/><circle cx="298.2" cy="442.5" r="0.93" fill="#3eedd8"/><circle cx="293.6" cy="441.3" r="0.49" fill="#2aa294"/><circle cx="291.6" cy="442.2" r="0.47" fill="#3dead5"/><circle cx="296.7" cy="442.4" r="0.69" fill="#175851"/><circle cx="295.3" cy="441.0" r="0.60" fill="#23877b"/><circle cx="294.8" cy="440.0" r="0.81" fill="#2dad9e"/><circle cx="296.6" cy="441.2" r="0.57" fill="#28998b"/><circle cx="294.5" cy="439.8" r="0.65" fill="#3de9d4"/><circle cx="295.5" cy="443.2" r="0.70" fill="#2dab9d"/><circle cx="291.7" cy="441.8" r="0.65" fill="#279689"/><circle cx="294.6" cy="444.3" r="0.63" fill="#2ba697"/><circle cx="294.0" cy="444.1" r="0.74" fill="#2ba495"/><circle cx="297.8" cy="443.0" r="0.60" fill="#2ca798"/><circle cx="297.2" cy="441.9" r="0.65" fill="#3ce8d3"/><circle cx="296.9" cy="439.6" r="0.69" fill="#33c4b3"/><circle cx="293.5" cy="439.0" r="0.82" fill="#1f776d"/><circle cx="293.1" cy="439.3" r="0.55" fill="#2ba697"/><circle cx="295.3" cy="442.0" r="0.53" fill="#2eb0a1"/><circle cx="293.9" cy="446.2" r="0.50" fill="#2aa294"/><circle cx="293.8" cy="443.5" r="0.86" fill="#24897d"/><circle cx="297.3" cy="443.8" r="0.81" fill="#32bfae"/><circle cx="296.4" cy="445.1" r="0.53" fill="#228277"/><circle cx="295.5" cy="440.5" r="0.41" fill="#2ca99b"/><circle cx="296.9" cy="445.1" r="0.66" fill="#1f776d"/><circle cx="294.9" cy="442.6" r="0.46" fill="#39dbc8"/><circle cx="292.3" cy="439.5" r="0.79" fill="#36cebc"/><circle cx="293.9" cy="441.0" r="0.53" fill="#2ba596"/><circle cx="292.4" cy="440.3" r="0.50" fill="#28988b"/><circle cx="294.2" cy="440.6" r="0.78" fill="#279689"/><circle cx="295.0" cy="442.8" r="0.62" fill="#269185"/><circle cx="293.3" cy="440.3" r="0.46" fill="#23857a"/><circle cx="294.6" cy="437.6" r="0.64" fill="#269185"/><circle cx="294.5" cy="440.9" r="0.84" fill="#32bfae"/><circle cx="294.1" cy="441.9" r="0.91" fill="#1d7167"/><circle cx="292.7" cy="445.6" r="0.81" fill="#2ba697"/><circle cx="292.5" cy="444.2" r="0.70" fill="#28998c"/><circle cx="294.7" cy="444.5" r="0.49" fill="#30baaa"/><circle cx="293.5" cy="445.7" r="0.91" fill="#185c54"/><circle cx="291.1" cy="442.8" r="0.65" fill="#175750"/><circle cx="295.1" cy="444.5" r="0.63" fill="#1a665d"/><circle cx="290.4" cy="444.9" r="0.42" fill="#38d5c3"/><circle cx="291.6" cy="445.0" r="0.86" fill="#299c8e"/><circle cx="293.3" cy="444.7" r="0.79" fill="#2ca99a"/><circle cx="290.1" cy="444.7" r="0.58" fill="#1d6d64"/><circle cx="291.6" cy="442.7" r="0.55" fill="#185c54"/><circle cx="290.8" cy="441.9" r="0.88" fill="#1d6f65"/><circle cx="298.5" cy="439.9" r="0.68" fill="#2ba395"/><circle cx="298.3" cy="440.5" r="0.63" fill="#36d0be"/><circle cx="298.4" cy="442.1" r="0.66" fill="#23877b"/><circle cx="298.9" cy="439.4" r="0.79" fill="#32bfae"/><circle cx="300.5" cy="442.6" r="0.62" fill="#289b8d"/><circle cx="297.3" cy="439.9" r="0.44" fill="#2eb2a3"/><circle cx="296.8" cy="439.0" r="0.92" fill="#175951"/><circle cx="298.0" cy="440.6" r="0.79" fill="#3eedd8"/><circle cx="296.4" cy="443.3" r="0.79" fill="#2aa092"/><circle cx="299.7" cy="440.5" r="0.58" fill="#36cfbd"/><circle cx="297.5" cy="441.9" r="0.72" fill="#2eb1a2"/><circle cx="297.2" cy="442.3" r="0.57" fill="#35cdbb"/><circle cx="297.7" cy="429.1" r="0.85" fill="#2a949b"/><circle cx="296.9" cy="431.7" r="0.78" fill="#1d666b"/><circle cx="298.4" cy="432.3" r="0.70" fill="#3edae4"/><circle cx="300.9" cy="429.1" r="0.63" fill="#206f74"/><circle cx="299.3" cy="428.5" r="0.50" fill="#36bcc5"/><circle cx="298.9" cy="428.6" r="0.83" fill="#30a8b0"/><circle cx="296.5" cy="428.8" r="0.60" fill="#2d9ea6"/><circle cx="297.6" cy="429.5" r="0.90" fill="#2a9299"/><circle cx="298.7" cy="430.7" r="0.64" fill="#3bced7"/><circle cx="302.0" cy="430.9" r="0.45" fill="#2b979e"/><circle cx="299.2" cy="429.8" r="0.81" fill="#1a5c60"/><circle cx="298.4" cy="432.1" r="0.68" fill="#33b1ba"/><circle cx="297.7" cy="428.8" r="0.44" fill="#38c5cf"/><circle cx="296.1" cy="431.2" r="0.40" fill="#3bced7"/><circle cx="298.3" cy="428.6" r="0.69" fill="#258187"/><circle cx="299.3" cy="433.2" r="0.46" fill="#1b5f63"/><circle cx="296.0" cy="427.8" r="0.94" fill="#288d94"/><circle cx="298.3" cy="428.0" r="0.95" fill="#247c82"/><circle cx="297.7" cy="431.2" r="0.73" fill="#217379"/><circle cx="299.1" cy="431.8" r="0.44" fill="#278990"/><circle cx="297.1" cy="431.4" r="0.73" fill="#288c93"/><circle cx="297.8" cy="429.9" r="0.72" fill="#39c9d3"/><circle cx="295.7" cy="429.3" r="0.56" fill="#34b7c0"/><circle cx="297.3" cy="431.7" r="0.59" fill="#1a5a5e"/><circle cx="297.2" cy="427.0" r="0.62" fill="#3cd1db"/><circle cx="300.1" cy="428.2" r="0.70" fill="#36bec8"/><circle cx="295.3" cy="430.0" r="0.50" fill="#27878e"/><circle cx="297.8" cy="433.2" r="0.41" fill="#298f96"/><circle cx="295.4" cy="431.8" r="0.49" fill="#175255"/><circle cx="299.1" cy="431.6" r="0.45" fill="#1f6b70"/><circle cx="297.3" cy="430.9" r="0.78" fill="#23797f"/><circle cx="298.3" cy="431.2" r="0.88" fill="#237b81"/><circle cx="299.6" cy="431.3" r="0.78" fill="#35bac3"/><circle cx="297.9" cy="434.3" r="0.55" fill="#2b989f"/><circle cx="296.5" cy="432.5" r="0.92" fill="#27878d"/><circle cx="297.7" cy="430.3" r="0.60" fill="#27898f"/><circle cx="298.1" cy="433.2" r="0.63" fill="#258187"/><circle cx="297.2" cy="432.6" r="0.42" fill="#237b80"/><circle cx="297.7" cy="433.2" r="0.69" fill="#35bac3"/><circle cx="295.5" cy="432.6" r="0.71" fill="#164d51"/><circle cx="295.9" cy="432.9" r="0.76" fill="#2ea2aa"/><circle cx="299.5" cy="433.8" r="0.47" fill="#185559"/><circle cx="299.6" cy="433.0" r="0.45" fill="#3bcfd9"/><circle cx="297.9" cy="434.3" r="0.56" fill="#174f53"/></g>
</g>
<rect x="31.40" y="433.20" width="12.20" height="1.50" fill="#ffffff" />
<text x="344.40" y="335.40" font-size="10" font-weight="bold" >F</text>
<line x1="390.30" y1="347.00" x2="390.30" y2="436.50" stroke="#6d6e71" stroke-width="0.9" />
<line x1="390.30" y1="436.50" x2="446.00" y2="436.50" stroke="#6d6e71" stroke-width="0.9" />
<line x1="386.30" y1="436.50" x2="390.30" y2="436.50" stroke="#6d6e71" stroke-width="0.9" />
<text x="382.70" y="439.52" font-size="8.4" text-anchor="end" stroke="#231f20" stroke-width="0.18" >0</text>
<line x1="386.30" y1="406.67" x2="390.30" y2="406.67" stroke="#6d6e71" stroke-width="0.9" />
<text x="382.70" y="409.69" font-size="8.4" text-anchor="end" stroke="#231f20" stroke-width="0.18" >0.5</text>
<line x1="386.30" y1="376.83" x2="390.30" y2="376.83" stroke="#6d6e71" stroke-width="0.9" />
<text x="382.70" y="379.86" font-size="8.4" text-anchor="end" stroke="#231f20" stroke-width="0.18" >1.0</text>
<line x1="386.30" y1="347.00" x2="390.30" y2="347.00" stroke="#6d6e71" stroke-width="0.9" />
<text x="382.70" y="350.02" font-size="8.4" text-anchor="end" stroke="#231f20" stroke-width="0.18" >1.5</text>
<line x1="402.40" y1="354.60" x2="402.40" y2="384.40" stroke="#555" stroke-width="0.9" />
<line x1="399.90" y1="354.60" x2="404.90" y2="354.60" stroke="#555" stroke-width="0.9" />
<rect x="396.30" y="384.40" width="12.20" height="52.10" fill="#a7a9ac" stroke="#58595b" stroke-width="0.8" />
<line x1="417.95" y1="410.40" x2="417.95" y2="414.20" stroke="#3b1a57" stroke-width="0.9" />
<line x1="415.45" y1="410.40" x2="420.45" y2="410.40" stroke="#3b1a57" stroke-width="0.9" />
<rect x="412.10" y="414.20" width="11.70" height="22.30" fill="#642e93" stroke="#3b1a57" stroke-width="0.8" />
<line x1="433.90" y1="384.70" x2="433.90" y2="395.50" stroke="#3b1a57" stroke-width="0.9" />
<line x1="431.40" y1="384.70" x2="436.40" y2="384.70" stroke="#3b1a57" stroke-width="0.9" />
<rect x="428.00" y="395.50" width="11.80" height="41.00" fill="#642e93" stroke="#3b1a57" stroke-width="0.8" />
<line x1="402.10" y1="339.30" x2="417.70" y2="339.30" stroke="#231f20" stroke-width="0.9" />
<text x="409.90" y="339.20" font-size="8.4" text-anchor="middle" stroke="#231f20" stroke-width="0.15" >***</text>
<text x="355.20" y="392.50" font-size="8.7" text-anchor="middle" stroke="#231f20" stroke-width="0.18" transform="rotate(-90 355.20 392.50)" >Acetylated H4</text>
<text x="365.80" y="392.50" font-size="8.7" text-anchor="middle" stroke="#231f20" stroke-width="0.18" transform="rotate(-90 365.80 392.50)" >fluorescence intensity</text>
<line x1="417.70" y1="358.50" x2="434.40" y2="358.50" stroke="#231f20" stroke-width="0.9" />
<text x="426.00" y="358.40" font-size="8.4" text-anchor="middle" stroke="#231f20" stroke-width="0.18" >***</text>
<rect x="442.70" y="331.80" width="9.30" height="9.00" fill="#a7a9ac" stroke="#58595b" stroke-width="0.8" />
<text x="454.90" y="339.30" font-size="8.8" stroke="#231f20" stroke-width="0.18" >DMSO</text>
<rect x="442.70" y="345.00" width="9.30" height="9.00" fill="#642e93" stroke="#3b1a57" stroke-width="0.8" />
<text x="454.90" y="352.30" font-size="8.8" stroke="#231f20" stroke-width="0.18" >AKT inhibitor</text>
<text x="390.30" y="448.90" font-size="8.9" text-anchor="end" stroke="#231f20" stroke-width="0.18" >Acetate:</text>
<text x="433.90" y="448.90" font-size="8.4" text-anchor="middle" stroke="#231f20" stroke-width="0.18" >+</text>
<text x="4.60" y="479.70" font-size="10" font-weight="bold" >G</text>
<text x="104.20" y="478.20" font-size="8.5" text-anchor="middle" font-style="italic" stroke="#231f20" stroke-width="0.18" >Pdx1-Cre</text>
<text x="128.30" y="478.20" font-size="8.5" font-style="italic" fill="#554675" stroke="#554675" stroke-width="0.18" >Pdx1-Cre;LSL-Kras<tspan font-size="6.2" dy="-3.3" font-style="normal">G12D</tspan></text>
<line x1="80.50" y1="481.20" x2="125.80" y2="481.20" stroke="#3a3a3a" stroke-width="1.2" />
<line x1="128.00" y1="481.20" x2="219.60" y2="481.20" stroke="#6a5c92" stroke-width="1.2" />
<text x="102.90" y="498.30" font-size="8.5" text-anchor="middle" stroke="#231f20" stroke-width="0.18" >DMSO</text>
<text x="151.30" y="498.30" font-size="8.5" text-anchor="middle" stroke="#231f20" stroke-width="0.18" >DMSO</text>
<text x="198.10" y="498.30" font-size="8.5" text-anchor="middle" stroke="#231f20" stroke-width="0.18" >AKTi</text>
<line x1="80.50" y1="501.20" x2="124.20" y2="501.20" stroke="#9a9a9a" stroke-width="1.1" />
<line x1="128.80" y1="501.20" x2="171.90" y2="501.20" stroke="#9a9a9a" stroke-width="1.1" />
<line x1="176.50" y1="501.20" x2="219.60" y2="501.20" stroke="#9a9a9a" stroke-width="1.1" />
<text x="76.40" y="510.00" font-size="8.7" text-anchor="end" stroke="#231f20" stroke-width="0.18" >Acetate (5 mmol/L):</text>
<text x="115.00" y="510.10" font-size="8.5" text-anchor="middle" stroke="#231f20" stroke-width="0.18" >+</text>
<text x="162.10" y="510.10" font-size="8.5" text-anchor="middle" stroke="#231f20" stroke-width="0.18" >+</text>
<text x="207.30" y="510.10" font-size="8.5" text-anchor="middle" stroke="#231f20" stroke-width="0.18" >+</text>
<text x="76.40" y="522.80" font-size="8.7" text-anchor="end" stroke="#231f20" stroke-width="0.18" >AcH4</text>
<text x="76.40" y="547.50" font-size="8.7" text-anchor="end" stroke="#231f20" stroke-width="0.18" >Ponceau</text>
<rect x="79.60" y="513.80" width="140.00" height="13.30" fill="#ffffff" stroke="#231f20" stroke-width="0.9" />
<g filter="url(#bl3)">
<rect x="81.0" y="518.90" width="20.00" height="2.6" rx="1.30" fill="#111"/>
<rect x="104.2" y="517.80" width="20.80" height="4.8" rx="2.40" fill="#111"/>
<rect x="128.0" y="518.60" width="19.80" height="3.2" rx="1.60" fill="#111"/>
<rect x="150.6" y="517.00" width="21.30" height="6.4" rx="3.20" fill="#111"/>
<rect x="175.1" y="518.60" width="18.00" height="3.2" rx="1.60" fill="#111"/>
<rect x="196.4" y="517.40" width="21.20" height="5.6" rx="2.80" fill="#111"/>
</g>
<rect x="79.60" y="530.40" width="140.00" height="33.10" fill="#ebe3ea" stroke="#6d6e71" stroke-width="0.8" />
<defs><linearGradient id="pc" x1="0" x2="0" y1="0" y2="1"><stop offset="0" stop-color="#e8cad8"/><stop offset="0.06" stop-color="#eeb0c4"/><stop offset="0.1" stop-color="#e85a80"/><stop offset="0.14" stop-color="#e4305a"/><stop offset="0.2" stop-color="#e4345e"/><stop offset="0.25" stop-color="#ee8aa6"/><stop offset="0.32" stop-color="#f2bccc"/><stop offset="0.38" stop-color="#ea6a8e"/><stop offset="0.43" stop-color="#e64a74"/><stop offset="0.49" stop-color="#ea6a8e"/><stop offset="0.55" stop-color="#f0b4c6"/><stop offset="0.65" stop-color="#ead0dc"/><stop offset="0.75" stop-color="#ecc6d4"/><stop offset="0.82" stop-color="#ee8eaa"/><stop offset="0.87" stop-color="#ec7896"/><stop offset="0.93" stop-color="#f0aec2"/><stop offset="1" stop-color="#eed0dc"/></linearGradient></defs>
<g filter="url(#bl2)">
<rect x="81.60" y="531.60" width="20.40" height="30.80" fill="url(#pc)" />
<rect x="105.60" y="531.60" width="19.80" height="30.80" fill="url(#pc)" />
<rect x="129.00" y="531.60" width="19.60" height="30.80" fill="url(#pc)" />
<rect x="151.80" y="531.60" width="20.20" height="30.80" fill="url(#pc)" />
<rect x="175.40" y="531.60" width="19.60" height="30.80" fill="url(#pc)" />
<rect x="198.40" y="531.60" width="19.60" height="30.80" fill="url(#pc)" />
</g>
<text x="259.80" y="479.80" font-size="10" font-weight="bold" >H</text>
<text x="358.20" y="480.90" font-size="9.0" text-anchor="middle" font-style="italic" fill="#554675" stroke="#554675" stroke-width="0.18" >Pdx1-Cre;LSL-Kras<tspan font-size="6.4" dy="-3.4" font-style="normal">G12D</tspan></text>
<line x1="271.90" y1="484.70" x2="444.20" y2="484.70" stroke="#6a5c92" stroke-width="1.4" />
<text x="309.40" y="495.60" font-size="8.0" text-anchor="middle" stroke="#231f20" stroke-width="0.18" >DMSO</text>
<text x="406.50" y="495.40" font-size="8.0" text-anchor="middle" stroke="#231f20" stroke-width="0.18" >AKTi (VIII)</text>
<text x="309.40" y="569.80" font-size="8.0" text-anchor="middle" stroke="#231f20" stroke-width="0.18" >DMSO</text>
<text x="404.50" y="569.90" font-size="8.0" text-anchor="middle" stroke="#231f20" stroke-width="0.18" >AKTi (MK2206)</text>
<defs><filter id="noise" x="0" y="0" width="100%" height="100%"><feTurbulence type="fractalNoise" baseFrequency="0.3" numOctaves="2" seed="3" result="n"/><feColorMatrix type="matrix" values="1 0 0 0 0  1 0 0 0 0  1 0 0 0 0  0 0 0 0 0.2" /></filter><filter id="lnoise" x="0" y="0" width="100%" height="100%"><feTurbulence type="fractalNoise" baseFrequency="0.07" numOctaves="3" seed="11" result="n"/><feColorMatrix type="matrix" values="1.6 0 0 0 -0.3  1.6 0 0 0 -0.3  1.6 0 0 0 -0.3  0 0 0 0 0.3" /></filter><linearGradient id="h1g" x1="0" y1="0" x2="0.5" y2="1"><stop offset="0" stop-color="#c2c2c2"/><stop offset="0.6" stop-color="#a8a8a8"/><stop offset="1" stop-color="#8e8e8e"/></linearGradient><linearGradient id="h2g" x1="0" y1="0" x2="0.3" y2="1"><stop offset="0" stop-color="#b0b0b0"/><stop offset="1" stop-color="#b8b8b8"/></linearGradient><linearGradient id="h3g" x1="0" y1="0" x2="0.3" y2="1"><stop offset="0" stop-color="#acacac"/><stop offset="1" stop-color="#a6a6a6"/></linearGradient><linearGradient id="h4g" x1="0" y1="0" x2="0.3" y2="1"><stop offset="0" stop-color="#a8a8a8"/><stop offset="1" stop-color="#a2a2a2"/></linearGradient><linearGradient id="hig" x1="0" y1="0" x2="0.3" y2="1"><stop offset="0" stop-color="#b4b4b4"/><stop offset="1" stop-color="#a6a6a6"/></linearGradient></defs>
<clipPath id="hc1"><rect x="271.9" y="497.4" width="75" height="56.9"/></clipPath>
<rect x="271.90" y="497.40" width="75.00" height="56.90" fill="url(#h1g)" />
<g clip-path="url(#hc1)">
<rect x="271.9" y="497.4" width="75" height="56.9" filter="url(#lnoise)" opacity="0.5"/>
<rect x="271.9" y="497.4" width="75" height="56.9" filter="url(#noise)"/>
<ellipse cx="276.30" cy="509.70" rx="5.80" ry="5.80" fill="none" stroke="#d4d4d4" stroke-width="0.7" opacity="0.8"/>
<ellipse cx="276.30" cy="509.70" rx="5.00" ry="5.00" fill="#9a9a9a" fill-opacity="0.25" stroke="#4a4a4a" stroke-width="0.81" filter="url(#bl3)"/>
<ellipse cx="310.90" cy="501.60" rx="4.80" ry="4.30" fill="none" stroke="#d4d4d4" stroke-width="0.7" opacity="0.8"/>
<ellipse cx="310.90" cy="501.60" rx="4.00" ry="3.50" fill="#9a9a9a" fill-opacity="0.25" stroke="#4a4a4a" stroke-width="0.63" filter="url(#bl3)"/>
<ellipse cx="310.10" cy="523.60" rx="9.80" ry="6.80" fill="none" stroke="#d4d4d4" stroke-width="0.7" opacity="0.8"/>
<ellipse cx="310.10" cy="523.60" rx="9.00" ry="6.00" fill="#9a9a9a" fill-opacity="0.25" stroke="#4a4a4a" stroke-width="0.99" filter="url(#bl3)"/>
<ellipse cx="325.50" cy="514.30" rx="5.30" ry="5.80" fill="none" stroke="#d4d4d4" stroke-width="0.7" opacity="0.8"/>
<ellipse cx="325.50" cy="514.30" rx="4.50" ry="5.00" fill="#9a9a9a" fill-opacity="0.25" stroke="#4a4a4a" stroke-width="0.81" filter="url(#bl3)"/>
<ellipse cx="338.60" cy="512.10" rx="5.80" ry="5.80" fill="none" stroke="#d4d4d4" stroke-width="0.7" opacity="0.8"/>
<ellipse cx="338.60" cy="512.10" rx="5.00" ry="5.00" fill="#9a9a9a" fill-opacity="0.25" stroke="#4a4a4a" stroke-width="0.72" filter="url(#bl3)"/>
<ellipse cx="322.40" cy="532.10" rx="5.80" ry="5.30" fill="none" stroke="#d4d4d4" stroke-width="0.7" opacity="0.8"/>
<ellipse cx="322.40" cy="532.10" rx="5.00" ry="4.50" fill="#9a9a9a" fill-opacity="0.25" stroke="#4a4a4a" stroke-width="0.81" filter="url(#bl3)"/>
<ellipse cx="345.50" cy="523.60" rx="3.80" ry="3.80" fill="none" stroke="#d4d4d4" stroke-width="0.7" opacity="0.8"/>
<ellipse cx="345.50" cy="523.60" rx="3.00" ry="3.00" fill="#9a9a9a" fill-opacity="0.25" stroke="#4a4a4a" stroke-width="0.63" filter="url(#bl3)"/>
<circle cx="314.7" cy="545.9" r="3" fill="#6a6a6a" filter="url(#bl1)"/>
<circle cx="302.9" cy="547.4" r="2.5" fill="#7a7a7a" filter="url(#bl1)"/>
<g filter="url(#bl1)"><circle cx="276.3" cy="509.7" r="3.3" fill="#7e7e7e" opacity="0.75"/><circle cx="338.6" cy="512.1" r="3.8" fill="#737373" opacity="0.75"/><circle cx="293.9" cy="544.3" r="5.7" fill="#686868" opacity="0.75"/></g>
<g filter="url(#bl2)"><circle cx="273.8" cy="507.3" r="0.87" fill="#afafaf" opacity="0.7"/><circle cx="276.1" cy="505.9" r="0.63" fill="#747474" opacity="0.7"/><circle cx="279.3" cy="508.6" r="0.46" fill="#b7b7b7" opacity="0.7"/><circle cx="274.4" cy="510.1" r="0.69" fill="#9c9c9c" opacity="0.7"/><circle cx="278.2" cy="509.9" r="0.86" fill="#888888" opacity="0.7"/><circle cx="276.5" cy="508.1" r="0.47" fill="#afafaf" opacity="0.7"/><circle cx="275.4" cy="508.9" r="1.20" fill="#616161"/><circle cx="276.7" cy="511.3" r="1.20" fill="#a7a7a7"/><circle cx="275.5" cy="513.0" r="1.04" fill="#888888"/><circle cx="277.3" cy="513.0" r="1.27" fill="#929292"/><circle cx="277.8" cy="508.5" r="0.63" fill="#7b7b7b"/><circle cx="276.8" cy="510.4" r="0.98" fill="#777777"/><circle cx="279.2" cy="509.8" r="0.75" fill="#797979"/><circle cx="277.3" cy="507.5" r="0.88" fill="#787878"/><circle cx="276.1" cy="508.9" r="0.52" fill="#a7a7a7"/><circle cx="276.3" cy="506.5" r="1.13" fill="#626262"/><circle cx="274.5" cy="511.7" r="0.54" fill="#626262"/><circle cx="277.7" cy="512.8" r="1.10" fill="#6f6f6f"/><circle cx="279.4" cy="508.2" r="0.78" fill="#7a7a7a"/><circle cx="273.3" cy="509.2" r="1.10" fill="#696969"/><circle cx="277.2" cy="506.6" r="1.26" fill="#646464"/><circle cx="278.0" cy="510.8" r="1.23" fill="#8d8d8d"/><circle cx="274.5" cy="512.5" r="0.75" fill="#888888"/><circle cx="275.7" cy="511.0" r="0.62" fill="#676767"/><circle cx="275.0" cy="506.5" r="0.46" fill="#d8d8d8"/><circle cx="279.6" cy="510.7" r="0.61" fill="#d8d8d8"/><circle cx="309.6" cy="502.4" r="0.81" fill="#a0a0a0" opacity="0.7"/><circle cx="308.9" cy="502.1" r="0.86" fill="#777777" opacity="0.7"/><circle cx="313.1" cy="502.0" r="0.47" fill="#b2b2b2" opacity="0.7"/><circle cx="309.3" cy="519.0" r="0.79" fill="#a2a2a2" opacity="0.7"/><circle cx="313.8" cy="525.6" r="0.82" fill="#7e7e7e" opacity="0.7"/><circle cx="308.8" cy="526.7" r="0.83" fill="#bfbfbf" opacity="0.7"/><circle cx="314.9" cy="523.1" r="0.76" fill="#989898" opacity="0.7"/><circle cx="306.2" cy="523.9" r="0.47" fill="#919191" opacity="0.7"/><circle cx="305.0" cy="526.9" r="0.71" fill="#bcbcbc" opacity="0.7"/><circle cx="305.9" cy="523.6" r="0.54" fill="#797979" opacity="0.7"/><circle cx="311.4" cy="519.2" r="0.79" fill="#8e8e8e" opacity="0.7"/><circle cx="311.0" cy="519.6" r="0.78" fill="#a5a5a5" opacity="0.7"/><circle cx="306.1" cy="526.6" r="0.64" fill="#888888" opacity="0.7"/><circle cx="310.8" cy="519.6" r="0.87" fill="#898989" opacity="0.7"/><circle cx="306.9" cy="520.6" r="0.67" fill="#737373" opacity="0.7"/><circle cx="310.1" cy="527.5" r="0.81" fill="#969696" opacity="0.7"/><circle cx="323.6" cy="511.4" r="0.72" fill="#8d8d8d" opacity="0.7"/><circle cx="325.2" cy="510.7" r="0.82" fill="#8d8d8d" opacity="0.7"/><circle cx="327.5" cy="511.9" r="0.88" fill="#bdbdbd" opacity="0.7"/><circle cx="322.9" cy="514.0" r="0.82" fill="#7f7f7f" opacity="0.7"/><circle cx="327.8" cy="513.2" r="0.76" fill="#a7a7a7" opacity="0.7"/><circle cx="338.4" cy="510.5" r="0.69" fill="#aeaeae" opacity="0.7"/><circle cx="337.3" cy="509.9" r="0.79" fill="#a2a2a2" opacity="0.7"/><circle cx="336.4" cy="509.5" r="0.48" fill="#747474" opacity="0.7"/><circle cx="335.6" cy="513.3" r="0.74" fill="#838383" opacity="0.7"/><circle cx="338.0" cy="511.5" r="0.51" fill="#969696" opacity="0.7"/><circle cx="340.0" cy="512.6" r="0.49" fill="#8b8b8b" opacity="0.7"/><circle cx="338.9" cy="512.8" r="0.80" fill="#777777"/><circle cx="336.3" cy="510.1" r="1.22" fill="#676767"/><circle cx="341.1" cy="512.1" r="0.83" fill="#6a6a6a"/><circle cx="341.3" cy="514.5" r="0.53" fill="#717171"/><circle cx="337.7" cy="511.3" r="0.77" fill="#7d7d7d"/><circle cx="335.2" cy="510.2" r="0.84" fill="#919191"/><circle cx="339.8" cy="509.1" r="0.61" fill="#717171"/><circle cx="336.1" cy="510.4" r="1.27" fill="#9b9b9b"/><circle cx="336.8" cy="510.6" r="0.50" fill="#969696"/><circle cx="340.9" cy="514.0" r="0.61" fill="#828282"/><circle cx="336.0" cy="509.4" r="0.85" fill="#717171"/><circle cx="338.9" cy="514.2" r="0.80" fill="#9c9c9c"/><circle cx="342.3" cy="511.2" r="0.71" fill="#818181"/><circle cx="341.4" cy="511.8" r="0.76" fill="#747474"/><circle cx="341.4" cy="511.8" r="0.88" fill="#6b6b6b"/><circle cx="340.9" cy="514.3" r="0.73" fill="#767676"/><circle cx="339.3" cy="508.5" r="0.93" fill="#575757"/><circle cx="338.0" cy="515.9" r="0.70" fill="#8e8e8e"/><circle cx="338.4" cy="513.7" r="0.73" fill="#9d9d9d"/><circle cx="336.5" cy="510.4" r="0.98" fill="#848484"/><circle cx="338.5" cy="510.7" r="0.74" fill="#8c8c8c"/><circle cx="336.3" cy="511.6" r="0.92" fill="#6b6b6b"/><circle cx="336.3" cy="512.6" r="0.97" fill="#8b8b8b"/><circle cx="340.6" cy="512.6" r="1.23" fill="#777777"/><circle cx="340.9" cy="510.2" r="0.41" fill="#d8d8d8"/><circle cx="339.1" cy="509.5" r="0.63" fill="#d8d8d8"/><circle cx="337.8" cy="509.0" r="0.59" fill="#d8d8d8"/><circle cx="324.5" cy="530.9" r="0.83" fill="#909090" opacity="0.7"/><circle cx="323.1" cy="534.0" r="0.43" fill="#b2b2b2" opacity="0.7"/><circle cx="324.1" cy="529.5" r="0.54" fill="#939393" opacity="0.7"/><circle cx="323.1" cy="528.7" r="0.64" fill="#7d7d7d" opacity="0.7"/><circle cx="319.7" cy="531.3" r="0.48" fill="#8c8c8c" opacity="0.7"/><circle cx="343.6" cy="522.5" r="0.52" fill="#777777" opacity="0.7"/><circle cx="346.4" cy="521.7" r="0.41" fill="#a5a5a5" opacity="0.7"/><circle cx="292.9" cy="538.5" r="1.06" fill="#939393"/><circle cx="299.1" cy="546.0" r="1.02" fill="#5b5b5b"/><circle cx="298.7" cy="542.8" r="0.73" fill="#555555"/><circle cx="295.9" cy="543.2" r="0.83" fill="#777777"/><circle cx="296.4" cy="548.3" r="0.59" fill="#4e4e4e"/><circle cx="292.7" cy="545.4" r="0.96" fill="#4f4f4f"/><circle cx="293.6" cy="538.7" r="0.85" fill="#555555"/><circle cx="292.1" cy="548.6" r="1.25" fill="#6e6e6e"/><circle cx="292.9" cy="545.3" r="0.62" fill="#7d7d7d"/><circle cx="291.0" cy="541.2" r="0.94" fill="#8c8c8c"/><circle cx="291.7" cy="542.2" r="0.70" fill="#737373"/><circle cx="293.9" cy="540.0" r="0.69" fill="#555555"/><circle cx="290.3" cy="548.0" r="1.07" fill="#585858"/><circle cx="292.9" cy="542.9" r="0.57" fill="#7b7b7b"/><circle cx="297.2" cy="547.6" r="1.20" fill="#5c5c5c"/><circle cx="290.5" cy="544.7" r="0.52" fill="#848484"/><circle cx="293.7" cy="542.9" r="1.26" fill="#565656"/><circle cx="292.7" cy="541.7" r="1.28" fill="#545454"/><circle cx="291.1" cy="539.6" r="1.00" fill="#555555"/><circle cx="292.1" cy="546.6" r="0.99" fill="#636363"/><circle cx="291.7" cy="547.3" r="1.16" fill="#555555"/><circle cx="290.7" cy="540.0" r="1.18" fill="#6a6a6a"/><circle cx="289.3" cy="543.8" r="1.09" fill="#747474"/><circle cx="292.4" cy="545.4" r="0.66" fill="#4e4e4e"/><circle cx="299.4" cy="545.7" r="1.11" fill="#6e6e6e"/><circle cx="298.0" cy="544.3" r="1.00" fill="#8b8b8b"/><circle cx="290.2" cy="546.1" r="0.62" fill="#525252"/><circle cx="295.9" cy="547.4" r="1.20" fill="#676767"/><circle cx="295.6" cy="546.8" r="0.63" fill="#5f5f5f"/><circle cx="293.2" cy="547.1" r="0.53" fill="#6e6e6e"/><circle cx="297.1" cy="542.6" r="1.05" fill="#8e8e8e"/><circle cx="292.0" cy="540.6" r="0.59" fill="#8f8f8f"/><circle cx="292.3" cy="541.5" r="1.08" fill="#7c7c7c"/><circle cx="295.3" cy="546.6" r="0.68" fill="#4d4d4d"/><circle cx="297.3" cy="546.1" r="0.79" fill="#919191"/><circle cx="292.3" cy="548.1" r="1.09" fill="#606060"/><circle cx="293.4" cy="541.9" r="1.04" fill="#5d5d5d"/><circle cx="298.4" cy="542.5" r="1.28" fill="#6a6a6a"/><circle cx="295.4" cy="544.4" r="0.83" fill="#838383"/><circle cx="298.2" cy="545.5" r="0.92" fill="#929292"/><circle cx="292.8" cy="545.8" r="1.22" fill="#505050"/><circle cx="288.1" cy="544.6" r="0.69" fill="#4f4f4f"/><circle cx="297.5" cy="545.5" r="0.70" fill="#505050"/><circle cx="291.1" cy="546.1" r="0.53" fill="#4f4f4f"/><circle cx="296.4" cy="543.8" r="0.82" fill="#707070"/><circle cx="292.2" cy="544.0" r="0.59" fill="#626262"/><circle cx="288.3" cy="542.8" r="1.19" fill="#767676"/><circle cx="294.1" cy="545.1" r="0.89" fill="#727272"/><circle cx="290.6" cy="542.7" r="1.08" fill="#787878"/><circle cx="296.7" cy="542.6" r="1.16" fill="#6b6b6b"/><circle cx="294.2" cy="546.3" r="0.57" fill="#626262"/><circle cx="294.7" cy="538.9" r="0.60" fill="#626262"/><circle cx="296.5" cy="545.8" r="0.84" fill="#515151"/><circle cx="291.3" cy="542.9" r="1.06" fill="#505050"/><circle cx="296.5" cy="545.1" r="0.51" fill="#d8d8d8"/><circle cx="292.6" cy="545.6" r="0.57" fill="#d8d8d8"/><circle cx="291.9" cy="549.1" r="0.62" fill="#d8d8d8"/><circle cx="297.8" cy="541.4" r="0.70" fill="#d8d8d8"/><circle cx="290.3" cy="542.5" r="0.73" fill="#d8d8d8"/><circle cx="290.6" cy="539.4" r="0.69" fill="#d8d8d8"/></g>
<g filter="url(#bl2)"><circle cx="304.9" cy="525.9" r="1.3" fill="#ececec"/><circle cx="308.4" cy="526.9" r="1.1" fill="#ececec"/><circle cx="302.4" cy="523.9" r="1.0" fill="#ececec"/><circle cx="340.1" cy="522.8" r="1.2" fill="#ececec"/></g>
</g>
<clipPath id="hc2"><rect x="369.1" y="497.4" width="75" height="57.1"/></clipPath>
<rect x="369.10" y="497.40" width="75.00" height="57.10" fill="url(#h2g)" />
<g clip-path="url(#hc2)">
<rect x="369.1" y="497.4" width="75" height="57.1" filter="url(#lnoise)" opacity="0.5"/>
<rect x="369.1" y="497.4" width="75" height="57.1" filter="url(#noise)"/>
<ellipse cx="428.10" cy="521.00" rx="8.30" ry="7.80" fill="none" stroke="#d4d4d4" stroke-width="0.7" opacity="0.8"/>
<ellipse cx="428.10" cy="521.00" rx="7.50" ry="7.00" fill="#9a9a9a" fill-opacity="0.25" stroke="#4a4a4a" stroke-width="0.72" filter="url(#bl3)"/>
<circle cx="384.1" cy="533.0" r="3" fill="#4a4a4a" filter="url(#bl1)"/>
<ellipse cx="389.10" cy="517.40" rx="3.80" ry="3.80" fill="none" stroke="#d4d4d4" stroke-width="0.7" opacity="0.8"/>
<ellipse cx="389.10" cy="517.40" rx="3.00" ry="3.00" fill="#9a9a9a" fill-opacity="0.25" stroke="#4a4a4a" stroke-width="0.54" filter="url(#bl3)"/>
<g filter="url(#bl1)"><circle cx="428.1" cy="521.0" r="6.6" fill="#5d5d5d" opacity="0.75"/><circle cx="390.1" cy="517.0" r="3.3" fill="#737373" opacity="0.75"/><circle cx="401.1" cy="523.0" r="2.8" fill="#737373" opacity="0.75"/><circle cx="410.1" cy="531.0" r="3.8" fill="#737373" opacity="0.75"/><circle cx="418.1" cy="515.0" r="3.3" fill="#737373" opacity="0.75"/><circle cx="436.1" cy="509.0" r="2.8" fill="#7e7e7e" opacity="0.75"/><circle cx="382.1" cy="500.0" r="2.8" fill="#7e7e7e" opacity="0.75"/><circle cx="405.1" cy="509.4" r="2.4" fill="#7e7e7e" opacity="0.75"/><circle cx="377.1" cy="527.4" r="1.9" fill="#7e7e7e" opacity="0.75"/><circle cx="397.1" cy="537.4" r="2.4" fill="#7e7e7e" opacity="0.75"/><circle cx="417.1" cy="505.4" r="1.9" fill="#888888" opacity="0.75"/><circle cx="374.1" cy="509.4" r="2.4" fill="#7e7e7e" opacity="0.75"/><circle cx="394.1" cy="503.4" r="2.4" fill="#7e7e7e" opacity="0.75"/><circle cx="413.1" cy="523.4" r="2.8" fill="#777777" opacity="0.75"/><circle cx="439.1" cy="519.4" r="2.4" fill="#7e7e7e" opacity="0.75"/><circle cx="407.1" cy="541.4" r="2.4" fill="#7e7e7e" opacity="0.75"/><circle cx="424.1" cy="533.4" r="2.4" fill="#7e7e7e" opacity="0.75"/><circle cx="397.1" cy="527.4" r="1.9" fill="#7e7e7e" opacity="0.75"/><circle cx="431.1" cy="501.4" r="1.9" fill="#7e7e7e" opacity="0.75"/><circle cx="385.1" cy="523.4" r="1.9" fill="#888888" opacity="0.75"/></g>
<g filter="url(#bl2)"><circle cx="427.0" cy="517.5" r="0.81" fill="#7b7b7b"/><circle cx="429.3" cy="522.3" r="0.71" fill="#4d4d4d"/><circle cx="426.4" cy="517.7" r="1.11" fill="#454545"/><circle cx="427.0" cy="520.6" r="0.60" fill="#444444"/><circle cx="424.1" cy="526.1" r="0.99" fill="#848484"/><circle cx="428.6" cy="525.6" r="0.76" fill="#5a5a5a"/><circle cx="433.4" cy="521.4" r="1.08" fill="#7c7c7c"/><circle cx="432.3" cy="523.9" r="1.07" fill="#4d4d4d"/><circle cx="421.7" cy="523.2" r="0.59" fill="#797979"/><circle cx="425.4" cy="527.1" r="0.85" fill="#616161"/><circle cx="422.4" cy="523.2" r="0.93" fill="#838383"/><circle cx="433.4" cy="520.0" r="1.15" fill="#484848"/><circle cx="426.7" cy="521.8" r="0.53" fill="#868686"/><circle cx="423.8" cy="518.7" r="0.81" fill="#7f7f7f"/><circle cx="428.9" cy="524.6" r="0.95" fill="#4f4f4f"/><circle cx="424.3" cy="525.7" r="0.78" fill="#525252"/><circle cx="428.2" cy="527.9" r="1.18" fill="#7d7d7d"/><circle cx="424.8" cy="518.0" r="1.17" fill="#4b4b4b"/><circle cx="426.7" cy="521.1" r="0.58" fill="#4d4d4d"/><circle cx="426.8" cy="514.5" r="1.14" fill="#4f4f4f"/><circle cx="425.5" cy="526.2" r="1.00" fill="#7e7e7e"/><circle cx="429.4" cy="516.9" r="0.91" fill="#414141"/><circle cx="425.5" cy="519.4" r="0.75" fill="#5c5c5c"/><circle cx="432.0" cy="521.7" r="0.88" fill="#5c5c5c"/><circle cx="426.8" cy="516.8" r="1.15" fill="#878787"/><circle cx="433.3" cy="518.3" r="0.93" fill="#707070"/><circle cx="429.4" cy="517.0" r="1.04" fill="#6b6b6b"/><circle cx="424.4" cy="520.5" r="0.57" fill="#464646"/><circle cx="424.8" cy="525.2" r="1.07" fill="#777777"/><circle cx="425.7" cy="527.3" r="1.07" fill="#545454"/><circle cx="433.6" cy="523.7" r="1.27" fill="#707070"/><circle cx="432.7" cy="517.5" r="1.09" fill="#7c7c7c"/><circle cx="425.6" cy="518.9" r="1.22" fill="#656565"/><circle cx="428.6" cy="527.9" r="0.81" fill="#676767"/><circle cx="432.5" cy="521.1" r="1.02" fill="#4d4d4d"/><circle cx="433.5" cy="517.1" r="0.81" fill="#6c6c6c"/><circle cx="432.6" cy="524.7" r="1.07" fill="#686868"/><circle cx="423.5" cy="525.7" r="0.74" fill="#505050"/><circle cx="427.5" cy="526.5" r="0.63" fill="#818181"/><circle cx="424.0" cy="516.5" r="0.55" fill="#515151"/><circle cx="422.3" cy="518.4" r="1.08" fill="#7f7f7f"/><circle cx="424.1" cy="523.3" r="1.22" fill="#666666"/><circle cx="426.9" cy="524.5" r="1.27" fill="#6c6c6c"/><circle cx="428.6" cy="522.1" r="0.95" fill="#494949"/><circle cx="425.7" cy="519.2" r="0.98" fill="#4e4e4e"/><circle cx="424.6" cy="516.4" r="0.55" fill="#757575"/><circle cx="421.7" cy="521.6" r="0.75" fill="#858585"/><circle cx="431.4" cy="516.5" r="0.68" fill="#838383"/><circle cx="426.0" cy="514.9" r="0.58" fill="#636363"/><circle cx="429.1" cy="523.6" r="0.62" fill="#474747"/><circle cx="426.4" cy="519.5" r="1.09" fill="#777777"/><circle cx="430.6" cy="515.3" r="1.24" fill="#737373"/><circle cx="433.4" cy="519.5" r="0.58" fill="#858585"/><circle cx="429.5" cy="522.1" r="0.80" fill="#4f4f4f"/><circle cx="422.5" cy="522.5" r="0.57" fill="#767676"/><circle cx="423.9" cy="523.9" r="0.59" fill="#5b5b5b"/><circle cx="424.6" cy="518.5" r="0.90" fill="#717171"/><circle cx="434.7" cy="519.4" r="1.11" fill="#464646"/><circle cx="427.4" cy="517.3" r="0.88" fill="#494949"/><circle cx="424.4" cy="525.8" r="0.81" fill="#828282"/><circle cx="426.9" cy="525.8" r="1.13" fill="#727272"/><circle cx="424.7" cy="519.3" r="1.18" fill="#595959"/><circle cx="426.5" cy="520.8" r="0.69" fill="#5f5f5f"/><circle cx="427.1" cy="519.4" r="0.58" fill="#545454"/><circle cx="421.2" cy="522.0" r="0.81" fill="#676767"/><circle cx="430.0" cy="520.1" r="1.15" fill="#5a5a5a"/><circle cx="434.2" cy="521.2" r="0.51" fill="#5a5a5a"/><circle cx="428.1" cy="525.7" r="0.91" fill="#5c5c5c"/><circle cx="431.2" cy="522.1" r="0.85" fill="#868686"/><circle cx="426.1" cy="521.4" r="1.26" fill="#545454"/><circle cx="426.2" cy="516.4" r="0.81" fill="#444444"/><circle cx="428.9" cy="516.5" r="1.22" fill="#6b6b6b"/><circle cx="424.7" cy="516.6" r="0.52" fill="#434343"/><circle cx="428.7" cy="516.5" r="0.75" fill="#d8d8d8"/><circle cx="431.2" cy="515.0" r="0.55" fill="#d8d8d8"/><circle cx="434.2" cy="521.0" r="0.76" fill="#d8d8d8"/><circle cx="431.8" cy="526.0" r="0.57" fill="#d8d8d8"/><circle cx="435.0" cy="519.8" r="0.49" fill="#d8d8d8"/><circle cx="424.9" cy="522.7" r="0.59" fill="#d8d8d8"/><circle cx="426.8" cy="526.6" r="0.45" fill="#d8d8d8"/><circle cx="430.4" cy="525.1" r="0.43" fill="#d8d8d8"/><circle cx="423.2" cy="525.5" r="0.75" fill="#d8d8d8"/><circle cx="428.4" cy="521.7" r="0.88" fill="#b2b2b2" opacity="0.7"/><circle cx="426.3" cy="519.8" r="0.86" fill="#848484" opacity="0.7"/><circle cx="429.1" cy="520.6" r="0.61" fill="#808080" opacity="0.7"/><circle cx="427.6" cy="525.8" r="0.79" fill="#8f8f8f" opacity="0.7"/><circle cx="430.6" cy="524.3" r="0.75" fill="#bdbdbd" opacity="0.7"/><circle cx="429.8" cy="522.0" r="0.59" fill="#a3a3a3" opacity="0.7"/><circle cx="425.3" cy="523.8" r="0.88" fill="#9f9f9f" opacity="0.7"/><circle cx="428.4" cy="525.2" r="0.67" fill="#868686" opacity="0.7"/><circle cx="427.8" cy="519.0" r="0.75" fill="#979797" opacity="0.7"/><circle cx="433.4" cy="521.3" r="0.65" fill="#929292" opacity="0.7"/><circle cx="424.0" cy="517.8" r="0.65" fill="#777777" opacity="0.7"/><circle cx="431.7" cy="521.8" r="0.41" fill="#8d8d8d" opacity="0.7"/><circle cx="426.9" cy="524.6" r="0.86" fill="#a4a4a4" opacity="0.7"/><circle cx="388.4" cy="518.9" r="1.25" fill="#898989"/><circle cx="393.4" cy="515.9" r="0.63" fill="#6c6c6c"/><circle cx="391.0" cy="516.6" r="1.09" fill="#767676"/><circle cx="388.0" cy="516.6" r="0.74" fill="#989898"/><circle cx="387.1" cy="516.0" r="0.78" fill="#606060"/><circle cx="387.5" cy="517.1" r="0.86" fill="#656565"/><circle cx="391.1" cy="517.4" r="0.62" fill="#6f6f6f"/><circle cx="391.9" cy="516.6" r="1.13" fill="#6a6a6a"/><circle cx="390.0" cy="515.2" r="1.00" fill="#919191"/><circle cx="388.0" cy="518.8" r="0.71" fill="#686868"/><circle cx="391.8" cy="515.4" r="0.64" fill="#969696"/><circle cx="390.6" cy="517.6" r="0.95" fill="#8b8b8b"/><circle cx="390.8" cy="517.0" r="0.90" fill="#919191"/><circle cx="390.6" cy="516.5" r="0.59" fill="#808080"/><circle cx="389.6" cy="514.3" r="0.68" fill="#828282"/><circle cx="391.2" cy="516.6" r="1.05" fill="#5b5b5b"/><circle cx="390.9" cy="517.5" r="1.02" fill="#777777"/><circle cx="392.4" cy="515.1" r="1.01" fill="#5b5b5b"/><circle cx="390.8" cy="516.0" r="0.70" fill="#d8d8d8"/><circle cx="390.0" cy="518.9" r="0.40" fill="#d8d8d8"/><circle cx="401.2" cy="520.8" r="0.87" fill="#979797"/><circle cx="401.9" cy="524.2" r="1.26" fill="#696969"/><circle cx="401.3" cy="523.9" r="0.56" fill="#6f6f6f"/><circle cx="399.0" cy="524.1" r="0.64" fill="#858585"/><circle cx="402.5" cy="524.6" r="0.86" fill="#878787"/><circle cx="398.5" cy="521.7" r="0.71" fill="#616161"/><circle cx="398.9" cy="523.1" r="0.94" fill="#969696"/><circle cx="400.1" cy="521.3" r="1.17" fill="#8e8e8e"/><circle cx="400.8" cy="523.9" r="0.79" fill="#696969"/><circle cx="402.3" cy="522.0" r="1.01" fill="#838383"/><circle cx="402.1" cy="522.7" r="0.77" fill="#8d8d8d"/><circle cx="403.0" cy="524.4" r="0.97" fill="#929292"/><circle cx="403.9" cy="523.9" r="1.01" fill="#727272"/><circle cx="400.9" cy="521.5" r="0.56" fill="#d8d8d8"/><circle cx="409.5" cy="532.1" r="1.07" fill="#5b5b5b"/><circle cx="406.9" cy="533.0" r="0.74" fill="#5b5b5b"/><circle cx="411.8" cy="534.5" r="1.22" fill="#8f8f8f"/><circle cx="408.8" cy="530.9" r="0.68" fill="#747474"/><circle cx="413.1" cy="531.5" r="0.59" fill="#6b6b6b"/><circle cx="406.2" cy="530.7" r="0.87" fill="#9a9a9a"/><circle cx="412.9" cy="533.1" r="0.93" fill="#5e5e5e"/><circle cx="413.5" cy="533.0" r="0.85" fill="#7d7d7d"/><circle cx="409.7" cy="533.9" r="0.84" fill="#9c9c9c"/><circle cx="410.8" cy="533.8" r="0.81" fill="#989898"/><circle cx="407.5" cy="528.1" r="1.15" fill="#6d6d6d"/><circle cx="408.6" cy="530.7" r="1.25" fill="#5a5a5a"/><circle cx="407.5" cy="531.6" r="0.96" fill="#989898"/><circle cx="408.0" cy="531.0" r="0.70" fill="#8b8b8b"/><circle cx="406.7" cy="531.6" r="0.61" fill="#818181"/><circle cx="411.1" cy="534.2" r="0.58" fill="#8a8a8a"/><circle cx="411.6" cy="531.0" r="0.57" fill="#626262"/><circle cx="407.1" cy="532.0" r="0.63" fill="#939393"/><circle cx="409.7" cy="529.8" r="0.70" fill="#808080"/><circle cx="409.5" cy="531.7" r="0.60" fill="#8a8a8a"/><circle cx="410.3" cy="528.7" r="1.01" fill="#808080"/><circle cx="406.4" cy="531.3" r="0.73" fill="#989898"/><circle cx="408.2" cy="534.2" r="0.84" fill="#606060"/><circle cx="406.7" cy="533.0" r="1.02" fill="#5f5f5f"/><circle cx="410.3" cy="527.6" r="0.40" fill="#d8d8d8"/><circle cx="412.2" cy="530.2" r="0.74" fill="#d8d8d8"/><circle cx="408.7" cy="528.8" r="0.74" fill="#d8d8d8"/><circle cx="417.2" cy="513.2" r="0.90" fill="#8a8a8a"/><circle cx="417.4" cy="512.3" r="0.63" fill="#8f8f8f"/><circle cx="418.0" cy="515.0" r="1.12" fill="#8f8f8f"/><circle cx="418.5" cy="514.4" r="0.88" fill="#7c7c7c"/><circle cx="419.3" cy="516.1" r="1.18" fill="#9c9c9c"/><circle cx="418.3" cy="518.2" r="0.81" fill="#858585"/><circle cx="417.1" cy="513.7" r="0.51" fill="#6a6a6a"/><circle cx="416.6" cy="512.8" r="0.90" fill="#8b8b8b"/><circle cx="416.3" cy="515.8" r="0.80" fill="#8b8b8b"/><circle cx="415.6" cy="513.3" r="1.05" fill="#767676"/><circle cx="419.8" cy="515.7" r="0.62" fill="#929292"/><circle cx="418.5" cy="515.1" r="0.59" fill="#8d8d8d"/><circle cx="415.9" cy="515.6" r="0.88" fill="#909090"/><circle cx="417.6" cy="514.9" r="1.11" fill="#8f8f8f"/><circle cx="415.8" cy="512.8" r="1.07" fill="#828282"/><circle cx="419.7" cy="512.8" r="1.21" fill="#585858"/><circle cx="419.7" cy="514.9" r="0.77" fill="#5b5b5b"/><circle cx="419.8" cy="516.3" r="0.68" fill="#5d5d5d"/><circle cx="420.4" cy="515.0" r="0.52" fill="#d8d8d8"/><circle cx="417.8" cy="512.8" r="0.47" fill="#d8d8d8"/><circle cx="438.8" cy="508.2" r="0.67" fill="#929292"/><circle cx="434.5" cy="510.2" r="0.52" fill="#7e7e7e"/><circle cx="433.6" cy="509.7" r="1.19" fill="#939393"/><circle cx="435.0" cy="506.6" r="1.23" fill="#9f9f9f"/><circle cx="436.6" cy="507.1" r="1.03" fill="#909090"/><circle cx="438.0" cy="507.3" r="0.65" fill="#818181"/><circle cx="435.4" cy="510.3" r="1.12" fill="#929292"/><circle cx="436.9" cy="511.0" r="0.79" fill="#9d9d9d"/><circle cx="438.0" cy="510.3" r="0.62" fill="#7b7b7b"/><circle cx="436.0" cy="509.2" r="0.84" fill="#6c6c6c"/><circle cx="436.3" cy="509.1" r="1.27" fill="#888888"/><circle cx="437.0" cy="507.5" r="0.56" fill="#a3a3a3"/><circle cx="436.2" cy="509.2" r="0.98" fill="#656565"/><circle cx="436.2" cy="506.9" r="0.72" fill="#d8d8d8"/><circle cx="379.4" cy="500.9" r="0.93" fill="#8c8c8c"/><circle cx="383.0" cy="501.7" r="1.16" fill="#808080"/><circle cx="382.3" cy="501.6" r="0.56" fill="#9b9b9b"/><circle cx="380.7" cy="499.7" r="0.98" fill="#919191"/><circle cx="384.2" cy="501.4" r="0.76" fill="#7e7e7e"/><circle cx="383.7" cy="497.9" r="1.04" fill="#777777"/><circle cx="383.6" cy="501.5" r="1.01" fill="#676767"/><circle cx="384.2" cy="498.8" r="0.91" fill="#646464"/><circle cx="380.1" cy="500.4" r="0.72" fill="#6c6c6c"/><circle cx="381.3" cy="500.2" r="0.69" fill="#919191"/><circle cx="381.9" cy="500.9" r="1.24" fill="#777777"/><circle cx="381.9" cy="500.9" r="1.26" fill="#7a7a7a"/><circle cx="383.6" cy="500.9" r="1.05" fill="#707070"/><circle cx="381.2" cy="500.2" r="0.74" fill="#d8d8d8"/><circle cx="404.1" cy="511.2" r="1.20" fill="#818181"/><circle cx="406.2" cy="509.8" r="0.71" fill="#757575"/><circle cx="405.9" cy="507.8" r="0.91" fill="#7a7a7a"/><circle cx="406.2" cy="507.8" r="1.03" fill="#818181"/><circle cx="403.9" cy="508.3" r="0.61" fill="#7f7f7f"/><circle cx="402.9" cy="510.3" r="0.79" fill="#777777"/><circle cx="403.6" cy="508.2" r="0.86" fill="#6e6e6e"/><circle cx="405.0" cy="508.9" r="1.10" fill="#696969"/><circle cx="405.6" cy="509.0" r="1.00" fill="#676767"/><circle cx="404.7" cy="511.4" r="0.41" fill="#d8d8d8"/><circle cx="376.3" cy="527.6" r="1.05" fill="#797979"/><circle cx="375.3" cy="527.3" r="1.00" fill="#9d9d9d"/><circle cx="377.6" cy="526.7" r="0.76" fill="#838383"/><circle cx="376.6" cy="526.9" r="0.80" fill="#a0a0a0"/><circle cx="377.5" cy="525.5" r="0.81" fill="#a4a4a4"/><circle cx="378.3" cy="525.8" r="1.10" fill="#6a6a6a"/><circle cx="376.9" cy="526.1" r="0.51" fill="#d8d8d8"/><circle cx="397.8" cy="538.8" r="0.82" fill="#a4a4a4"/><circle cx="397.0" cy="539.4" r="0.99" fill="#808080"/><circle cx="395.8" cy="537.8" r="1.15" fill="#646464"/><circle cx="396.4" cy="536.4" r="0.96" fill="#858585"/><circle cx="394.7" cy="537.3" r="0.75" fill="#999999"/><circle cx="396.1" cy="539.1" r="1.25" fill="#6d6d6d"/><circle cx="398.8" cy="537.9" r="0.92" fill="#757575"/><circle cx="398.2" cy="537.7" r="1.13" fill="#a8a8a8"/><circle cx="397.4" cy="539.1" r="0.60" fill="#636363"/><circle cx="398.0" cy="539.7" r="0.52" fill="#d8d8d8"/><circle cx="389.1" cy="518.0" r="0.90" fill="#7b7b7b" opacity="0.7"/><circle cx="389.0" cy="515.1" r="0.79" fill="#b2b2b2" opacity="0.7"/><circle cx="417.1" cy="506.2" r="0.55" fill="#7f7f7f"/><circle cx="417.9" cy="506.9" r="0.51" fill="#8f8f8f"/><circle cx="416.5" cy="507.1" r="1.08" fill="#a9a9a9"/><circle cx="416.9" cy="503.5" r="0.81" fill="#949494"/><circle cx="416.1" cy="504.9" r="0.71" fill="#6e6e6e"/><circle cx="416.4" cy="505.6" r="0.70" fill="#727272"/><circle cx="415.8" cy="506.8" r="0.59" fill="#d8d8d8"/><circle cx="375.2" cy="507.6" r="0.76" fill="#8b8b8b"/><circle cx="373.0" cy="510.3" r="1.18" fill="#8e8e8e"/><circle cx="374.4" cy="508.1" r="0.51" fill="#6c6c6c"/><circle cx="373.1" cy="508.8" r="0.74" fill="#616161"/><circle cx="374.3" cy="510.5" r="0.97" fill="#909090"/><circle cx="373.7" cy="511.5" r="1.24" fill="#707070"/><circle cx="375.5" cy="510.7" r="1.09" fill="#939393"/><circle cx="371.8" cy="509.6" r="1.05" fill="#8e8e8e"/><circle cx="375.0" cy="509.9" r="0.94" fill="#828282"/><circle cx="375.9" cy="510.6" r="0.54" fill="#d8d8d8"/><circle cx="392.3" cy="503.7" r="0.74" fill="#9d9d9d"/><circle cx="392.3" cy="502.7" r="0.75" fill="#909090"/><circle cx="393.8" cy="505.1" r="1.02" fill="#8c8c8c"/><circle cx="395.2" cy="504.6" r="0.66" fill="#898989"/><circle cx="396.0" cy="504.8" r="0.90" fill="#636363"/><circle cx="394.0" cy="503.8" r="0.63" fill="#747474"/><circle cx="392.2" cy="504.8" r="0.78" fill="#676767"/><circle cx="393.4" cy="501.5" r="0.68" fill="#636363"/><circle cx="393.6" cy="505.7" r="0.71" fill="#818181"/><circle cx="392.4" cy="503.6" r="0.46" fill="#d8d8d8"/><circle cx="411.8" cy="521.2" r="0.93" fill="#7d7d7d"/><circle cx="413.5" cy="520.5" r="0.54" fill="#868686"/><circle cx="410.7" cy="523.3" r="1.05" fill="#727272"/><circle cx="411.5" cy="525.1" r="1.04" fill="#868686"/><circle cx="415.4" cy="522.3" r="1.06" fill="#8d8d8d"/><circle cx="413.4" cy="525.7" r="0.55" fill="#878787"/><circle cx="413.1" cy="522.0" r="0.92" fill="#7e7e7e"/><circle cx="412.6" cy="520.8" r="1.25" fill="#7c7c7c"/><circle cx="411.0" cy="524.2" r="0.76" fill="#a1a1a1"/><circle cx="412.4" cy="520.5" r="1.12" fill="#616161"/><circle cx="411.8" cy="521.6" r="1.19" fill="#939393"/><circle cx="414.4" cy="525.1" r="1.06" fill="#868686"/><circle cx="415.7" cy="522.7" r="0.55" fill="#969696"/><circle cx="410.5" cy="524.7" r="0.78" fill="#d8d8d8"/><circle cx="439.2" cy="518.0" r="0.93" fill="#989898"/><circle cx="438.1" cy="517.7" r="1.07" fill="#9f9f9f"/><circle cx="440.8" cy="519.1" r="1.03" fill="#848484"/><circle cx="438.6" cy="519.2" r="0.75" fill="#a6a6a6"/><circle cx="438.6" cy="519.4" r="1.24" fill="#6f6f6f"/><circle cx="438.9" cy="520.7" r="0.69" fill="#9b9b9b"/><circle cx="438.2" cy="517.8" r="0.88" fill="#a1a1a1"/><circle cx="438.5" cy="520.5" r="0.50" fill="#7b7b7b"/><circle cx="439.8" cy="520.1" r="1.11" fill="#777777"/><circle cx="440.5" cy="518.9" r="0.50" fill="#d8d8d8"/><circle cx="406.6" cy="543.3" r="0.59" fill="#838383"/><circle cx="405.8" cy="541.2" r="1.13" fill="#6b6b6b"/><circle cx="408.4" cy="542.4" r="0.93" fill="#989898"/><circle cx="408.1" cy="540.4" r="0.53" fill="#a5a5a5"/><circle cx="408.4" cy="540.4" r="0.71" fill="#616161"/><circle cx="409.2" cy="541.3" r="1.15" fill="#969696"/><circle cx="408.5" cy="541.5" r="1.23" fill="#828282"/><circle cx="407.9" cy="540.9" r="0.94" fill="#a8a8a8"/><circle cx="406.9" cy="542.1" r="0.92" fill="#808080"/><circle cx="405.8" cy="541.8" r="0.78" fill="#d8d8d8"/><circle cx="422.7" cy="533.6" r="0.70" fill="#999999"/><circle cx="423.4" cy="533.8" r="1.30" fill="#727272"/><circle cx="422.8" cy="532.2" r="1.04" fill="#919191"/><circle cx="422.6" cy="533.2" r="0.52" fill="#6c6c6c"/><circle cx="425.3" cy="534.5" r="1.04" fill="#626262"/><circle cx="423.5" cy="534.4" r="0.89" fill="#777777"/><circle cx="424.7" cy="535.6" r="0.55" fill="#848484"/><circle cx="426.1" cy="534.6" r="0.73" fill="#8a8a8a"/><circle cx="424.0" cy="532.9" r="1.25" fill="#a1a1a1"/><circle cx="423.8" cy="532.9" r="0.57" fill="#d8d8d8"/><circle cx="397.9" cy="526.1" r="0.69" fill="#707070"/><circle cx="398.4" cy="528.0" r="0.86" fill="#6e6e6e"/><circle cx="398.6" cy="526.2" r="1.13" fill="#848484"/><circle cx="398.4" cy="528.9" r="0.89" fill="#9f9f9f"/><circle cx="397.9" cy="526.7" r="0.76" fill="#a7a7a7"/><circle cx="398.7" cy="526.6" r="1.08" fill="#a4a4a4"/><circle cx="398.0" cy="527.9" r="0.66" fill="#d8d8d8"/><circle cx="432.5" cy="500.5" r="0.78" fill="#646464"/><circle cx="430.6" cy="502.1" r="0.91" fill="#717171"/><circle cx="430.4" cy="502.1" r="1.26" fill="#7e7e7e"/><circle cx="429.7" cy="500.4" r="0.52" fill="#a4a4a4"/><circle cx="431.6" cy="501.0" r="1.09" fill="#6f6f6f"/><circle cx="431.1" cy="499.8" r="1.08" fill="#838383"/><circle cx="430.3" cy="501.8" r="0.49" fill="#d8d8d8"/><circle cx="385.4" cy="523.6" r="1.26" fill="#b0b0b0"/><circle cx="384.4" cy="524.4" r="1.13" fill="#808080"/><circle cx="384.3" cy="523.4" r="1.24" fill="#ababab"/><circle cx="386.4" cy="523.8" r="1.01" fill="#7c7c7c"/><circle cx="384.4" cy="524.2" r="0.99" fill="#818181"/><circle cx="383.7" cy="523.4" r="0.88" fill="#9c9c9c"/><circle cx="386.4" cy="523.0" r="0.72" fill="#d8d8d8"/></g>
<g filter="url(#bl2)"><circle cx="385.1" cy="532.4" r="1.0" fill="#ececec"/></g>
</g>
<clipPath id="hc3"><rect x="272" y="571.7" width="74.5" height="56.8"/></clipPath>
<rect x="272.00" y="571.70" width="74.50" height="56.80" fill="url(#h3g)" />
<g clip-path="url(#hc3)">
<rect x="272" y="571.7" width="74.5" height="56.8" filter="url(#lnoise)" opacity="0.5"/>
<rect x="272" y="571.7" width="74.5" height="56.8" filter="url(#noise)"/>
<ellipse cx="285.60" cy="583.10" rx="7.80" ry="6.80" fill="none" stroke="#d4d4d4" stroke-width="0.7" opacity="0.8"/>
<ellipse cx="285.60" cy="583.10" rx="7.00" ry="6.00" fill="#9a9a9a" fill-opacity="0.25" stroke="#4a4a4a" stroke-width="0.99" filter="url(#bl3)"/>
<ellipse cx="325.00" cy="587.10" rx="4.80" ry="4.80" fill="none" stroke="#d4d4d4" stroke-width="0.7" opacity="0.8"/>
<ellipse cx="325.00" cy="587.10" rx="4.00" ry="4.00" fill="#9a9a9a" fill-opacity="0.25" stroke="#4a4a4a" stroke-width="0.81" filter="url(#bl3)"/>
<ellipse cx="306.00" cy="590.10" rx="2.80" ry="2.80" fill="none" stroke="#d4d4d4" stroke-width="0.7" opacity="0.8"/>
<ellipse cx="306.00" cy="590.10" rx="2.00" ry="2.00" fill="#9a9a9a" fill-opacity="0.25" stroke="#4a4a4a" stroke-width="0.54" filter="url(#bl3)"/>
<ellipse cx="309.00" cy="607.10" rx="2.80" ry="2.80" fill="none" stroke="#d4d4d4" stroke-width="0.7" opacity="0.8"/>
<ellipse cx="309.00" cy="607.10" rx="2.00" ry="2.00" fill="#9a9a9a" fill-opacity="0.25" stroke="#4a4a4a" stroke-width="0.54" filter="url(#bl3)"/>
<ellipse cx="306.00" cy="614.10" rx="3.30" ry="3.30" fill="none" stroke="#d4d4d4" stroke-width="0.7" opacity="0.8"/>
<ellipse cx="306.00" cy="614.10" rx="2.50" ry="2.50" fill="#9a9a9a" fill-opacity="0.25" stroke="#4a4a4a" stroke-width="0.63" filter="url(#bl3)"/>
<ellipse cx="287.00" cy="610.10" rx="3.30" ry="3.30" fill="none" stroke="#d4d4d4" stroke-width="0.7" opacity="0.8"/>
<ellipse cx="287.00" cy="610.10" rx="2.50" ry="2.50" fill="#9a9a9a" fill-opacity="0.25" stroke="#4a4a4a" stroke-width="0.63" filter="url(#bl3)"/>
<ellipse cx="329.00" cy="611.10" rx="4.30" ry="4.30" fill="none" stroke="#d4d4d4" stroke-width="0.7" opacity="0.8"/>
<ellipse cx="329.00" cy="611.10" rx="3.50" ry="3.50" fill="#9a9a9a" fill-opacity="0.25" stroke="#4a4a4a" stroke-width="0.72" filter="url(#bl3)"/>
<ellipse cx="328.00" cy="594.10" rx="2.30" ry="2.30" fill="none" stroke="#d4d4d4" stroke-width="0.7" opacity="0.8"/>
<ellipse cx="328.00" cy="594.10" rx="1.50" ry="1.50" fill="#9a9a9a" fill-opacity="0.25" stroke="#4a4a4a" stroke-width="0.45" filter="url(#bl3)"/>
<g filter="url(#bl1)"><circle cx="285.6" cy="583.7" r="4.3" fill="#6e6e6e" opacity="0.75"/><circle cx="319.0" cy="586.1" r="4.8" fill="#525252" opacity="0.75"/><circle cx="324.0" cy="593.7" r="1.4" fill="#686868" opacity="0.75"/></g>
<g filter="url(#bl2)"><circle cx="289.6" cy="581.5" r="0.79" fill="#9f9f9f" opacity="0.7"/><circle cx="285.0" cy="581.0" r="0.48" fill="#929292" opacity="0.7"/><circle cx="290.2" cy="583.6" r="0.53" fill="#8b8b8b" opacity="0.7"/><circle cx="286.4" cy="583.2" r="0.58" fill="#a6a6a6" opacity="0.7"/><circle cx="281.4" cy="584.6" r="0.75" fill="#b8b8b8" opacity="0.7"/><circle cx="286.7" cy="587.8" r="0.69" fill="#808080" opacity="0.7"/><circle cx="283.7" cy="581.1" r="0.70" fill="#b6b6b6" opacity="0.7"/><circle cx="285.1" cy="581.4" r="0.54" fill="#b2b2b2" opacity="0.7"/><circle cx="282.1" cy="580.3" r="0.53" fill="#8b8b8b" opacity="0.7"/><circle cx="282.9" cy="587.3" r="0.64" fill="#a5a5a5" opacity="0.7"/><circle cx="282.2" cy="582.3" r="0.56" fill="#656565"/><circle cx="288.3" cy="585.9" r="1.28" fill="#7d7d7d"/><circle cx="282.6" cy="580.8" r="0.90" fill="#989898"/><circle cx="282.9" cy="585.2" r="1.11" fill="#6c6c6c"/><circle cx="284.2" cy="583.0" r="0.92" fill="#969696"/><circle cx="285.6" cy="580.4" r="0.96" fill="#7c7c7c"/><circle cx="286.8" cy="584.8" r="0.78" fill="#868686"/><circle cx="288.4" cy="586.6" r="1.11" fill="#878787"/><circle cx="284.4" cy="584.8" r="0.67" fill="#888888"/><circle cx="283.8" cy="580.4" r="0.50" fill="#656565"/><circle cx="282.2" cy="581.5" r="1.29" fill="#7c7c7c"/><circle cx="286.1" cy="587.5" r="0.96" fill="#717171"/><circle cx="284.9" cy="585.7" r="0.99" fill="#797979"/><circle cx="288.5" cy="581.8" r="1.02" fill="#767676"/><circle cx="283.6" cy="581.6" r="1.05" fill="#656565"/><circle cx="284.9" cy="584.3" r="0.79" fill="#5e5e5e"/><circle cx="284.2" cy="580.3" r="1.15" fill="#757575"/><circle cx="284.4" cy="586.1" r="1.04" fill="#878787"/><circle cx="281.8" cy="585.6" r="0.93" fill="#545454"/><circle cx="288.3" cy="580.4" r="1.15" fill="#606060"/><circle cx="281.3" cy="582.8" r="1.03" fill="#696969"/><circle cx="282.8" cy="580.2" r="0.81" fill="#6a6a6a"/><circle cx="288.2" cy="586.3" r="1.18" fill="#575757"/><circle cx="286.8" cy="585.3" r="0.90" fill="#969696"/><circle cx="285.7" cy="581.1" r="0.79" fill="#636363"/><circle cx="287.6" cy="583.5" r="1.21" fill="#929292"/><circle cx="284.6" cy="581.6" r="1.22" fill="#868686"/><circle cx="283.8" cy="582.5" r="1.27" fill="#7d7d7d"/><circle cx="284.1" cy="582.8" r="1.00" fill="#606060"/><circle cx="285.8" cy="583.7" r="0.71" fill="#6d6d6d"/><circle cx="284.4" cy="583.7" r="0.62" fill="#d8d8d8"/><circle cx="284.5" cy="581.4" r="0.63" fill="#d8d8d8"/><circle cx="281.7" cy="583.0" r="0.63" fill="#d8d8d8"/><circle cx="316.6" cy="583.2" r="0.58" fill="#707070"/><circle cx="322.5" cy="589.2" r="0.51" fill="#717171"/><circle cx="322.1" cy="583.7" r="1.06" fill="#737373"/><circle cx="317.8" cy="587.3" r="1.07" fill="#6c6c6c"/><circle cx="316.4" cy="586.6" r="1.25" fill="#505050"/><circle cx="316.8" cy="586.6" r="1.28" fill="#7c7c7c"/><circle cx="320.0" cy="588.1" r="0.81" fill="#6a6a6a"/><circle cx="314.9" cy="586.8" r="0.98" fill="#494949"/><circle cx="319.7" cy="588.4" r="0.84" fill="#5d5d5d"/><circle cx="320.5" cy="584.9" r="0.71" fill="#777777"/><circle cx="318.1" cy="587.5" r="1.28" fill="#4c4c4c"/><circle cx="316.0" cy="589.6" r="1.06" fill="#7b7b7b"/><circle cx="320.3" cy="589.1" r="0.70" fill="#424242"/><circle cx="318.0" cy="587.9" r="0.92" fill="#666666"/><circle cx="318.4" cy="588.5" r="0.59" fill="#404040"/><circle cx="317.7" cy="586.6" r="0.70" fill="#5b5b5b"/><circle cx="319.4" cy="583.5" r="1.26" fill="#737373"/><circle cx="321.2" cy="585.1" r="0.88" fill="#787878"/><circle cx="321.5" cy="583.8" r="0.71" fill="#5c5c5c"/><circle cx="319.1" cy="583.1" r="1.07" fill="#757575"/><circle cx="318.2" cy="586.5" r="0.83" fill="#494949"/><circle cx="316.4" cy="588.9" r="0.87" fill="#363636"/><circle cx="322.8" cy="583.0" r="1.05" fill="#676767"/><circle cx="315.0" cy="583.1" r="0.87" fill="#6e6e6e"/><circle cx="314.2" cy="586.2" r="0.98" fill="#5d5d5d"/><circle cx="317.6" cy="589.9" r="1.25" fill="#595959"/><circle cx="324.0" cy="586.1" r="0.53" fill="#7a7a7a"/><circle cx="321.6" cy="587.4" r="0.95" fill="#717171"/><circle cx="318.9" cy="587.7" r="0.60" fill="#484848"/><circle cx="321.7" cy="589.5" r="0.63" fill="#434343"/><circle cx="317.7" cy="584.9" r="1.02" fill="#717171"/><circle cx="322.1" cy="583.1" r="0.71" fill="#6a6a6a"/><circle cx="316.3" cy="587.5" r="1.23" fill="#525252"/><circle cx="314.9" cy="587.8" r="0.57" fill="#636363"/><circle cx="319.9" cy="589.8" r="0.69" fill="#6e6e6e"/><circle cx="319.0" cy="589.2" r="0.84" fill="#565656"/><circle cx="322.5" cy="584.3" r="0.78" fill="#4a4a4a"/><circle cx="317.0" cy="586.0" r="0.56" fill="#d8d8d8"/><circle cx="322.7" cy="587.7" r="0.75" fill="#d8d8d8"/><circle cx="322.1" cy="583.8" r="0.55" fill="#d8d8d8"/><circle cx="315.5" cy="584.7" r="0.47" fill="#d8d8d8"/><circle cx="322.8" cy="586.5" r="0.62" fill="#818181" opacity="0.7"/><circle cx="326.3" cy="584.9" r="0.52" fill="#8b8b8b" opacity="0.7"/><circle cx="323.4" cy="585.4" r="0.64" fill="#898989" opacity="0.7"/><circle cx="322.9" cy="588.5" r="0.59" fill="#b5b5b5" opacity="0.7"/><circle cx="304.8" cy="589.8" r="0.52" fill="#a5a5a5" opacity="0.7"/><circle cx="309.0" cy="608.6" r="0.74" fill="#7d7d7d" opacity="0.7"/><circle cx="305.9" cy="615.5" r="0.52" fill="#959595" opacity="0.7"/><circle cx="287.9" cy="611.8" r="0.47" fill="#757575" opacity="0.7"/><circle cx="328.9" cy="609.4" r="0.79" fill="#818181" opacity="0.7"/><circle cx="330.3" cy="611.0" r="0.60" fill="#a8a8a8" opacity="0.7"/><circle cx="331.2" cy="611.1" r="0.73" fill="#b7b7b7" opacity="0.7"/><circle cx="324.7" cy="594.4" r="0.62" fill="#7e7e7e"/><circle cx="325.3" cy="594.5" r="1.02" fill="#8d8d8d"/><circle cx="325.2" cy="594.2" r="1.13" fill="#929292"/><circle cx="323.8" cy="592.7" r="1.24" fill="#787878"/><circle cx="323.6" cy="593.7" r="0.46" fill="#d8d8d8"/></g>
<g filter="url(#bl2)"><circle cx="308.0" cy="602.1" r="1.3" fill="#ececec"/></g>
</g>
<clipPath id="hc4"><rect x="370.4" y="571.6" width="74.8" height="56.9"/></clipPath>
<rect x="370.40" y="571.60" width="74.80" height="56.90" fill="url(#h4g)" />
<g clip-path="url(#hc4)">
<rect x="370.4" y="571.6" width="74.8" height="56.9" filter="url(#lnoise)" opacity="0.5"/>
<rect x="370.4" y="571.6" width="74.8" height="56.9" filter="url(#noise)"/>
<g filter="url(#bl1)"><circle cx="375.0" cy="577.0" r="2.8" fill="#686868" opacity="0.75"/><circle cx="385.0" cy="586.0" r="3.8" fill="#777777" opacity="0.75"/><circle cx="404.0" cy="587.0" r="3.8" fill="#777777" opacity="0.75"/><circle cx="413.0" cy="584.0" r="2.8" fill="#777777" opacity="0.75"/><circle cx="426.0" cy="581.0" r="2.8" fill="#777777" opacity="0.75"/><circle cx="436.0" cy="578.0" r="2.4" fill="#737373" opacity="0.75"/><circle cx="412.0" cy="594.0" r="2.8" fill="#7e7e7e" opacity="0.75"/><circle cx="373.0" cy="593.0" r="2.8" fill="#5d5d5d" opacity="0.75"/><circle cx="380.0" cy="598.0" r="2.8" fill="#737373" opacity="0.75"/><circle cx="394.0" cy="605.0" r="4.8" fill="#5d5d5d" opacity="0.75"/><circle cx="405.0" cy="607.0" r="3.8" fill="#6e6e6e" opacity="0.75"/><circle cx="411.0" cy="612.0" r="3.8" fill="#5d5d5d" opacity="0.75"/><circle cx="400.0" cy="599.0" r="2.8" fill="#777777" opacity="0.75"/><circle cx="378.0" cy="616.0" r="2.8" fill="#777777" opacity="0.75"/><circle cx="398.0" cy="619.0" r="2.8" fill="#777777" opacity="0.75"/><circle cx="408.0" cy="622.0" r="2.8" fill="#777777" opacity="0.75"/><circle cx="420.0" cy="617.0" r="2.8" fill="#7e7e7e" opacity="0.75"/><circle cx="422.0" cy="588.0" r="2.4" fill="#7e7e7e" opacity="0.75"/><circle cx="386.0" cy="610.0" r="2.8" fill="#777777" opacity="0.75"/></g>
<g filter="url(#bl2)"><circle cx="377.4" cy="576.3" r="0.62" fill="#8e8e8e"/><circle cx="377.0" cy="578.5" r="0.87" fill="#6a6a6a"/><circle cx="375.3" cy="579.6" r="1.08" fill="#838383"/><circle cx="373.1" cy="577.9" r="0.87" fill="#686868"/><circle cx="374.1" cy="578.8" r="1.14" fill="#909090"/><circle cx="376.6" cy="578.8" r="0.78" fill="#868686"/><circle cx="377.2" cy="575.1" r="1.00" fill="#505050"/><circle cx="373.5" cy="578.4" r="1.19" fill="#737373"/><circle cx="373.1" cy="574.9" r="1.14" fill="#5d5d5d"/><circle cx="374.0" cy="577.8" r="0.96" fill="#858585"/><circle cx="375.4" cy="579.8" r="1.04" fill="#6e6e6e"/><circle cx="376.7" cy="576.8" r="0.94" fill="#727272"/><circle cx="374.5" cy="579.1" r="1.06" fill="#909090"/><circle cx="374.8" cy="579.5" r="0.65" fill="#d8d8d8"/><circle cx="382.8" cy="588.4" r="1.12" fill="#757575"/><circle cx="382.2" cy="588.4" r="0.64" fill="#707070"/><circle cx="384.3" cy="587.2" r="1.30" fill="#999999"/><circle cx="383.3" cy="587.0" r="1.18" fill="#9a9a9a"/><circle cx="385.1" cy="588.2" r="0.61" fill="#7e7e7e"/><circle cx="385.6" cy="588.4" r="0.62" fill="#636363"/><circle cx="383.3" cy="584.7" r="1.27" fill="#9c9c9c"/><circle cx="384.0" cy="584.2" r="0.77" fill="#919191"/><circle cx="386.8" cy="584.1" r="1.10" fill="#8c8c8c"/><circle cx="384.0" cy="582.7" r="0.62" fill="#737373"/><circle cx="382.3" cy="588.9" r="0.73" fill="#5d5d5d"/><circle cx="384.0" cy="588.5" r="0.64" fill="#999999"/><circle cx="385.4" cy="586.3" r="1.08" fill="#737373"/><circle cx="381.9" cy="586.9" r="0.79" fill="#7f7f7f"/><circle cx="384.3" cy="586.4" r="1.09" fill="#9f9f9f"/><circle cx="386.5" cy="587.0" r="0.91" fill="#929292"/><circle cx="385.0" cy="582.5" r="1.16" fill="#656565"/><circle cx="385.4" cy="587.4" r="1.15" fill="#909090"/><circle cx="384.2" cy="588.3" r="0.74" fill="#8f8f8f"/><circle cx="381.3" cy="587.4" r="1.25" fill="#646464"/><circle cx="388.0" cy="583.4" r="0.66" fill="#6c6c6c"/><circle cx="383.5" cy="586.6" r="0.96" fill="#9d9d9d"/><circle cx="386.5" cy="583.7" r="1.26" fill="#7e7e7e"/><circle cx="386.3" cy="587.3" r="0.97" fill="#989898"/><circle cx="385.8" cy="582.1" r="0.71" fill="#d8d8d8"/><circle cx="382.3" cy="583.8" r="0.61" fill="#d8d8d8"/><circle cx="385.4" cy="588.2" r="0.77" fill="#d8d8d8"/><circle cx="403.3" cy="586.9" r="1.29" fill="#888888"/><circle cx="402.0" cy="585.0" r="1.00" fill="#7b7b7b"/><circle cx="401.9" cy="585.2" r="1.21" fill="#9b9b9b"/><circle cx="404.7" cy="583.7" r="0.66" fill="#8e8e8e"/><circle cx="401.9" cy="587.1" r="1.26" fill="#696969"/><circle cx="404.4" cy="590.6" r="0.82" fill="#969696"/><circle cx="405.7" cy="587.3" r="1.07" fill="#898989"/><circle cx="402.1" cy="589.4" r="1.03" fill="#666666"/><circle cx="404.7" cy="583.5" r="0.96" fill="#838383"/><circle cx="406.1" cy="587.0" r="0.56" fill="#787878"/><circle cx="407.5" cy="588.7" r="0.95" fill="#8b8b8b"/><circle cx="402.6" cy="583.5" r="0.84" fill="#888888"/><circle cx="400.9" cy="589.5" r="0.62" fill="#9f9f9f"/><circle cx="405.3" cy="584.1" r="1.06" fill="#737373"/><circle cx="403.5" cy="590.4" r="0.97" fill="#828282"/><circle cx="407.6" cy="588.3" r="1.11" fill="#9f9f9f"/><circle cx="403.1" cy="590.3" r="0.94" fill="#636363"/><circle cx="402.5" cy="589.3" r="0.56" fill="#6f6f6f"/><circle cx="402.2" cy="587.8" r="0.77" fill="#676767"/><circle cx="404.4" cy="587.4" r="0.54" fill="#a0a0a0"/><circle cx="406.0" cy="585.4" r="0.84" fill="#636363"/><circle cx="403.1" cy="587.0" r="0.51" fill="#818181"/><circle cx="403.0" cy="590.2" r="0.64" fill="#979797"/><circle cx="400.8" cy="589.2" r="0.59" fill="#717171"/><circle cx="404.1" cy="590.7" r="0.54" fill="#d8d8d8"/><circle cx="402.0" cy="583.7" r="0.65" fill="#d8d8d8"/><circle cx="404.9" cy="589.6" r="0.53" fill="#d8d8d8"/><circle cx="410.7" cy="584.3" r="1.05" fill="#a0a0a0"/><circle cx="410.3" cy="583.9" r="0.65" fill="#7f7f7f"/><circle cx="412.3" cy="582.6" r="0.81" fill="#6a6a6a"/><circle cx="412.5" cy="584.1" r="1.27" fill="#747474"/><circle cx="411.2" cy="583.9" r="1.06" fill="#7b7b7b"/><circle cx="411.1" cy="584.0" r="0.72" fill="#848484"/><circle cx="412.2" cy="582.2" r="0.78" fill="#8d8d8d"/><circle cx="412.1" cy="583.0" r="0.89" fill="#7d7d7d"/><circle cx="414.1" cy="584.1" r="1.11" fill="#7b7b7b"/><circle cx="414.0" cy="581.4" r="1.27" fill="#949494"/><circle cx="413.4" cy="585.1" r="1.13" fill="#646464"/><circle cx="413.6" cy="585.6" r="1.23" fill="#646464"/><circle cx="413.4" cy="585.4" r="1.06" fill="#858585"/><circle cx="415.2" cy="584.5" r="0.61" fill="#d8d8d8"/><circle cx="424.0" cy="580.3" r="1.16" fill="#939393"/><circle cx="427.1" cy="579.7" r="0.88" fill="#5e5e5e"/><circle cx="428.4" cy="581.4" r="1.10" fill="#7d7d7d"/><circle cx="427.3" cy="578.8" r="0.77" fill="#8c8c8c"/><circle cx="425.6" cy="578.6" r="1.20" fill="#6a6a6a"/><circle cx="423.8" cy="581.4" r="1.16" fill="#696969"/><circle cx="423.5" cy="581.4" r="0.92" fill="#979797"/><circle cx="424.2" cy="580.0" r="1.14" fill="#6c6c6c"/><circle cx="426.5" cy="580.7" r="0.88" fill="#5d5d5d"/><circle cx="427.7" cy="582.0" r="0.69" fill="#737373"/><circle cx="426.4" cy="578.7" r="0.66" fill="#9c9c9c"/><circle cx="424.3" cy="582.6" r="0.84" fill="#929292"/><circle cx="426.7" cy="582.7" r="1.27" fill="#838383"/><circle cx="424.4" cy="578.8" r="0.73" fill="#d8d8d8"/><circle cx="434.4" cy="578.8" r="1.08" fill="#929292"/><circle cx="435.1" cy="578.6" r="0.73" fill="#8a8a8a"/><circle cx="435.9" cy="579.2" r="1.02" fill="#878787"/><circle cx="437.8" cy="577.3" r="1.21" fill="#797979"/><circle cx="437.2" cy="579.5" r="0.77" fill="#9d9d9d"/><circle cx="436.5" cy="578.7" r="1.09" fill="#585858"/><circle cx="434.1" cy="579.2" r="0.52" fill="#929292"/><circle cx="435.6" cy="579.2" r="0.52" fill="#696969"/><circle cx="436.0" cy="579.5" r="0.92" fill="#777777"/><circle cx="436.8" cy="577.9" r="0.45" fill="#d8d8d8"/><circle cx="413.3" cy="593.1" r="0.74" fill="#878787"/><circle cx="414.3" cy="592.2" r="0.58" fill="#8a8a8a"/><circle cx="410.3" cy="595.8" r="0.72" fill="#898989"/><circle cx="411.4" cy="594.4" r="1.16" fill="#7e7e7e"/><circle cx="410.4" cy="595.3" r="1.07" fill="#6d6d6d"/><circle cx="410.4" cy="594.9" r="0.74" fill="#989898"/><circle cx="414.1" cy="595.1" r="0.54" fill="#969696"/><circle cx="410.4" cy="596.3" r="0.83" fill="#858585"/><circle cx="413.1" cy="595.2" r="1.23" fill="#8b8b8b"/><circle cx="410.5" cy="591.5" r="0.56" fill="#7e7e7e"/><circle cx="411.0" cy="595.5" r="0.57" fill="#656565"/><circle cx="414.4" cy="592.5" r="0.57" fill="#6b6b6b"/><circle cx="413.2" cy="593.9" r="0.68" fill="#777777"/><circle cx="412.1" cy="594.5" r="0.58" fill="#d8d8d8"/><circle cx="373.1" cy="592.2" r="0.61" fill="#646464"/><circle cx="373.7" cy="590.2" r="0.93" fill="#7f7f7f"/><circle cx="374.6" cy="595.0" r="1.12" fill="#464646"/><circle cx="372.1" cy="595.7" r="1.09" fill="#555555"/><circle cx="371.5" cy="593.0" r="0.84" fill="#646464"/><circle cx="374.2" cy="594.8" r="1.06" fill="#676767"/><circle cx="371.7" cy="595.0" r="0.92" fill="#4f4f4f"/><circle cx="373.2" cy="595.7" r="0.73" fill="#4e4e4e"/><circle cx="374.5" cy="593.7" r="0.68" fill="#676767"/><circle cx="375.1" cy="595.0" r="0.67" fill="#575757"/><circle cx="370.8" cy="594.6" r="1.22" fill="#767676"/><circle cx="371.3" cy="592.5" r="0.55" fill="#646464"/><circle cx="371.9" cy="590.5" r="1.16" fill="#828282"/><circle cx="371.4" cy="590.9" r="0.52" fill="#d8d8d8"/><circle cx="378.9" cy="597.5" r="0.91" fill="#999999"/><circle cx="381.3" cy="600.7" r="0.67" fill="#828282"/><circle cx="381.3" cy="596.0" r="1.20" fill="#838383"/><circle cx="379.4" cy="599.4" r="0.66" fill="#7f7f7f"/><circle cx="379.3" cy="596.0" r="0.60" fill="#656565"/><circle cx="381.2" cy="599.9" r="1.14" fill="#979797"/><circle cx="381.3" cy="596.2" r="0.76" fill="#8f8f8f"/><circle cx="378.1" cy="600.1" r="1.00" fill="#696969"/><circle cx="379.4" cy="597.7" r="1.14" fill="#7f7f7f"/><circle cx="381.5" cy="596.8" r="0.53" fill="#969696"/><circle cx="382.1" cy="596.6" r="0.86" fill="#909090"/><circle cx="377.7" cy="596.6" r="0.65" fill="#666666"/><circle cx="380.1" cy="595.2" r="0.94" fill="#666666"/><circle cx="378.3" cy="597.9" r="0.74" fill="#d8d8d8"/><circle cx="393.1" cy="609.3" r="0.62" fill="#5e5e5e"/><circle cx="395.9" cy="604.5" r="0.52" fill="#484848"/><circle cx="393.5" cy="605.7" r="1.25" fill="#4c4c4c"/><circle cx="393.9" cy="609.2" r="0.51" fill="#505050"/><circle cx="395.7" cy="605.1" r="0.87" fill="#858585"/><circle cx="394.0" cy="606.1" r="0.75" fill="#6e6e6e"/><circle cx="395.4" cy="608.0" r="0.77" fill="#737373"/><circle cx="392.0" cy="604.2" r="0.53" fill="#686868"/><circle cx="398.3" cy="602.8" r="0.88" fill="#6a6a6a"/><circle cx="390.5" cy="607.6" r="1.07" fill="#6a6a6a"/><circle cx="391.0" cy="606.1" r="0.64" fill="#747474"/><circle cx="392.7" cy="607.1" r="1.19" fill="#4f4f4f"/><circle cx="392.4" cy="609.0" r="1.24" fill="#444444"/><circle cx="389.8" cy="605.8" r="0.98" fill="#484848"/><circle cx="395.0" cy="602.5" r="0.81" fill="#474747"/><circle cx="394.5" cy="600.7" r="0.76" fill="#454545"/><circle cx="396.3" cy="603.6" r="1.19" fill="#474747"/><circle cx="395.4" cy="602.0" r="1.10" fill="#727272"/><circle cx="395.1" cy="603.1" r="1.24" fill="#757575"/><circle cx="394.9" cy="601.5" r="1.28" fill="#5d5d5d"/><circle cx="398.5" cy="604.8" r="1.21" fill="#656565"/><circle cx="396.5" cy="602.5" r="0.99" fill="#4a4a4a"/><circle cx="395.9" cy="607.2" r="0.90" fill="#696969"/><circle cx="391.2" cy="601.4" r="0.75" fill="#848484"/><circle cx="396.7" cy="604.2" r="1.10" fill="#595959"/><circle cx="397.5" cy="604.5" r="1.16" fill="#797979"/><circle cx="392.4" cy="608.6" r="0.52" fill="#848484"/><circle cx="397.3" cy="608.3" r="0.84" fill="#696969"/><circle cx="394.9" cy="601.8" r="0.78" fill="#4a4a4a"/><circle cx="394.3" cy="601.0" r="0.51" fill="#646464"/><circle cx="395.4" cy="605.0" r="1.13" fill="#545454"/><circle cx="397.8" cy="603.4" r="1.10" fill="#5c5c5c"/><circle cx="392.1" cy="601.7" r="0.94" fill="#797979"/><circle cx="391.5" cy="604.4" r="0.59" fill="#787878"/><circle cx="397.3" cy="607.2" r="1.20" fill="#444444"/><circle cx="395.2" cy="608.2" r="0.89" fill="#535353"/><circle cx="392.3" cy="603.5" r="1.28" fill="#676767"/><circle cx="395.4" cy="606.9" r="0.48" fill="#d8d8d8"/><circle cx="394.4" cy="605.3" r="0.78" fill="#d8d8d8"/><circle cx="395.0" cy="604.8" r="0.73" fill="#d8d8d8"/><circle cx="392.0" cy="603.9" r="0.75" fill="#d8d8d8"/><circle cx="407.4" cy="609.1" r="1.06" fill="#828282"/><circle cx="405.1" cy="608.5" r="0.74" fill="#7f7f7f"/><circle cx="402.3" cy="604.9" r="1.08" fill="#545454"/><circle cx="407.5" cy="606.7" r="0.76" fill="#7b7b7b"/><circle cx="406.4" cy="605.7" r="0.90" fill="#595959"/><circle cx="402.2" cy="608.0" r="1.24" fill="#606060"/><circle cx="402.6" cy="606.5" r="0.53" fill="#878787"/><circle cx="408.2" cy="605.3" r="0.86" fill="#646464"/><circle cx="408.5" cy="607.9" r="0.98" fill="#979797"/><circle cx="407.7" cy="606.6" r="1.17" fill="#909090"/><circle cx="407.4" cy="605.8" r="0.53" fill="#767676"/><circle cx="406.1" cy="606.6" r="0.98" fill="#7b7b7b"/><circle cx="406.1" cy="609.1" r="0.51" fill="#676767"/><circle cx="403.0" cy="608.5" r="1.06" fill="#858585"/><circle cx="408.5" cy="605.8" r="0.99" fill="#646464"/><circle cx="403.7" cy="603.7" r="0.77" fill="#5c5c5c"/><circle cx="403.3" cy="605.5" r="0.83" fill="#939393"/><circle cx="404.7" cy="606.0" r="1.28" fill="#929292"/><circle cx="407.3" cy="606.5" r="1.29" fill="#8d8d8d"/><circle cx="405.9" cy="607.7" r="1.29" fill="#818181"/><circle cx="408.6" cy="607.7" r="0.88" fill="#818181"/><circle cx="406.8" cy="609.2" r="0.66" fill="#757575"/><circle cx="407.8" cy="605.0" r="1.00" fill="#5e5e5e"/><circle cx="401.8" cy="604.8" r="1.21" fill="#989898"/><circle cx="407.4" cy="607.9" r="0.46" fill="#d8d8d8"/><circle cx="405.0" cy="605.9" r="0.73" fill="#d8d8d8"/><circle cx="402.6" cy="604.9" r="0.78" fill="#d8d8d8"/><circle cx="413.3" cy="609.5" r="0.94" fill="#6d6d6d"/><circle cx="410.3" cy="611.9" r="1.05" fill="#4f4f4f"/><circle cx="408.7" cy="613.4" r="0.81" fill="#7d7d7d"/><circle cx="410.5" cy="608.4" r="0.69" fill="#7c7c7c"/><circle cx="408.9" cy="610.3" r="0.57" fill="#6a6a6a"/><circle cx="411.7" cy="613.8" r="1.13" fill="#797979"/><circle cx="408.7" cy="614.1" r="0.93" fill="#606060"/><circle cx="410.8" cy="614.3" r="1.21" fill="#858585"/><circle cx="412.0" cy="613.0" r="0.85" fill="#7e7e7e"/><circle cx="409.0" cy="609.6" r="1.22" fill="#6c6c6c"/><circle cx="413.1" cy="615.1" r="0.56" fill="#535353"/><circle cx="410.2" cy="614.7" r="0.96" fill="#7a7a7a"/><circle cx="412.7" cy="611.7" r="0.96" fill="#5c5c5c"/><circle cx="408.2" cy="610.2" r="0.58" fill="#656565"/><circle cx="411.7" cy="608.5" r="1.15" fill="#464646"/><circle cx="414.3" cy="612.1" r="0.74" fill="#6d6d6d"/><circle cx="412.7" cy="613.1" r="0.93" fill="#6d6d6d"/><circle cx="411.6" cy="610.5" r="0.74" fill="#6d6d6d"/><circle cx="412.7" cy="612.5" r="0.63" fill="#484848"/><circle cx="414.8" cy="612.9" r="1.11" fill="#5a5a5a"/><circle cx="408.5" cy="613.3" r="1.26" fill="#525252"/><circle cx="411.9" cy="615.8" r="1.19" fill="#787878"/><circle cx="414.3" cy="614.3" r="0.96" fill="#6f6f6f"/><circle cx="408.6" cy="610.9" r="1.28" fill="#858585"/><circle cx="412.4" cy="611.6" r="0.61" fill="#d8d8d8"/><circle cx="410.5" cy="610.4" r="0.76" fill="#d8d8d8"/><circle cx="411.0" cy="610.6" r="0.52" fill="#d8d8d8"/><circle cx="398.8" cy="596.4" r="0.72" fill="#a2a2a2"/><circle cx="401.2" cy="597.0" r="0.69" fill="#747474"/><circle cx="400.4" cy="599.3" r="0.60" fill="#797979"/><circle cx="400.5" cy="600.6" r="0.66" fill="#646464"/><circle cx="399.9" cy="602.0" r="0.99" fill="#797979"/><circle cx="397.2" cy="598.3" r="1.24" fill="#969696"/><circle cx="401.8" cy="597.1" r="0.77" fill="#999999"/><circle cx="398.7" cy="597.9" r="0.71" fill="#9d9d9d"/><circle cx="401.5" cy="599.0" r="1.09" fill="#737373"/><circle cx="398.7" cy="598.4" r="1.20" fill="#646464"/><circle cx="400.6" cy="601.1" r="0.89" fill="#969696"/><circle cx="398.8" cy="599.2" r="0.98" fill="#9d9d9d"/><circle cx="399.1" cy="597.4" r="0.80" fill="#8d8d8d"/><circle cx="400.8" cy="600.6" r="0.70" fill="#d8d8d8"/><circle cx="379.4" cy="614.4" r="1.25" fill="#8a8a8a"/><circle cx="376.3" cy="613.6" r="1.20" fill="#6d6d6d"/><circle cx="378.0" cy="613.7" r="0.63" fill="#858585"/><circle cx="378.5" cy="616.1" r="0.82" fill="#9a9a9a"/><circle cx="376.4" cy="614.8" r="1.09" fill="#999999"/><circle cx="376.3" cy="617.7" r="1.25" fill="#6a6a6a"/><circle cx="379.5" cy="618.4" r="0.62" fill="#818181"/><circle cx="379.3" cy="615.9" r="0.71" fill="#8b8b8b"/><circle cx="379.8" cy="618.0" r="1.21" fill="#9a9a9a"/><circle cx="376.9" cy="613.9" r="1.30" fill="#666666"/><circle cx="376.9" cy="618.1" r="0.75" fill="#5c5c5c"/><circle cx="376.0" cy="615.7" r="0.81" fill="#787878"/><circle cx="380.4" cy="616.3" r="0.59" fill="#747474"/><circle cx="376.3" cy="617.8" r="0.70" fill="#d8d8d8"/><circle cx="397.1" cy="619.5" r="0.98" fill="#878787"/><circle cx="395.1" cy="619.3" r="0.92" fill="#757575"/><circle cx="399.1" cy="619.2" r="0.65" fill="#686868"/><circle cx="398.5" cy="619.9" r="0.97" fill="#9c9c9c"/><circle cx="395.8" cy="619.1" r="1.19" fill="#6f6f6f"/><circle cx="397.8" cy="617.0" r="0.50" fill="#5c5c5c"/><circle cx="400.5" cy="619.6" r="0.86" fill="#5d5d5d"/><circle cx="396.2" cy="618.8" r="1.25" fill="#707070"/><circle cx="400.5" cy="618.3" r="1.26" fill="#818181"/><circle cx="397.6" cy="617.6" r="0.62" fill="#656565"/><circle cx="399.5" cy="620.1" r="0.67" fill="#868686"/><circle cx="399.5" cy="619.9" r="1.20" fill="#7b7b7b"/><circle cx="400.1" cy="617.3" r="1.16" fill="#6d6d6d"/><circle cx="397.6" cy="621.3" r="0.61" fill="#d8d8d8"/><circle cx="408.2" cy="624.2" r="1.14" fill="#6d6d6d"/><circle cx="408.2" cy="624.6" r="0.51" fill="#686868"/><circle cx="405.4" cy="623.1" r="0.70" fill="#888888"/><circle cx="406.3" cy="621.9" r="0.73" fill="#8a8a8a"/><circle cx="409.5" cy="624.6" r="0.61" fill="#5d5d5d"/><circle cx="407.3" cy="623.6" r="0.90" fill="#828282"/><circle cx="409.5" cy="624.3" r="0.65" fill="#8d8d8d"/><circle cx="408.5" cy="622.9" r="1.01" fill="#7f7f7f"/><circle cx="407.7" cy="620.6" r="1.22" fill="#989898"/><circle cx="407.0" cy="622.2" r="1.08" fill="#676767"/><circle cx="410.2" cy="623.0" r="0.52" fill="#8e8e8e"/><circle cx="408.9" cy="623.2" r="1.18" fill="#7a7a7a"/><circle cx="408.6" cy="620.2" r="0.93" fill="#5b5b5b"/><circle cx="408.5" cy="623.5" r="0.77" fill="#d8d8d8"/><circle cx="419.6" cy="618.8" r="1.25" fill="#919191"/><circle cx="422.1" cy="617.9" r="0.60" fill="#909090"/><circle cx="421.4" cy="618.0" r="1.06" fill="#797979"/><circle cx="422.4" cy="616.5" r="1.30" fill="#808080"/><circle cx="421.8" cy="616.2" r="0.91" fill="#838383"/><circle cx="421.9" cy="618.5" r="0.88" fill="#949494"/><circle cx="417.5" cy="615.6" r="1.05" fill="#8d8d8d"/><circle cx="421.9" cy="615.3" r="1.27" fill="#828282"/><circle cx="420.8" cy="616.7" r="0.63" fill="#a8a8a8"/><circle cx="421.7" cy="615.3" r="0.78" fill="#999999"/><circle cx="419.7" cy="618.2" r="0.59" fill="#6a6a6a"/><circle cx="421.3" cy="619.4" r="1.19" fill="#878787"/><circle cx="422.0" cy="616.8" r="1.22" fill="#6e6e6e"/><circle cx="421.6" cy="618.4" r="0.74" fill="#d8d8d8"/><circle cx="422.9" cy="588.9" r="0.58" fill="#909090"/><circle cx="423.4" cy="586.4" r="1.12" fill="#898989"/><circle cx="423.5" cy="589.8" r="0.81" fill="#888888"/><circle cx="422.7" cy="586.4" r="1.06" fill="#646464"/><circle cx="423.8" cy="588.4" r="0.83" fill="#717171"/><circle cx="420.2" cy="589.0" r="0.78" fill="#8f8f8f"/><circle cx="422.3" cy="590.2" r="0.97" fill="#666666"/><circle cx="421.7" cy="586.0" r="0.57" fill="#636363"/><circle cx="420.6" cy="586.3" r="1.29" fill="#8e8e8e"/><circle cx="421.5" cy="586.4" r="0.78" fill="#d8d8d8"/><circle cx="386.1" cy="611.0" r="0.52" fill="#767676"/><circle cx="384.0" cy="609.1" r="0.99" fill="#686868"/><circle cx="383.5" cy="610.5" r="1.14" fill="#939393"/><circle cx="385.6" cy="609.1" r="1.03" fill="#848484"/><circle cx="386.6" cy="611.7" r="0.72" fill="#808080"/><circle cx="387.4" cy="610.8" r="1.12" fill="#787878"/><circle cx="388.7" cy="609.8" r="1.29" fill="#9a9a9a"/><circle cx="383.6" cy="609.8" r="1.08" fill="#5d5d5d"/><circle cx="386.9" cy="608.5" r="0.58" fill="#868686"/><circle cx="387.8" cy="609.2" r="0.68" fill="#7b7b7b"/><circle cx="388.0" cy="607.9" r="0.92" fill="#787878"/><circle cx="385.4" cy="612.4" r="1.18" fill="#878787"/><circle cx="388.1" cy="610.2" r="0.52" fill="#a0a0a0"/><circle cx="384.7" cy="608.7" r="0.45" fill="#d8d8d8"/></g>
</g>
<clipPath id="hi1"><rect x="334.2" y="532.1" width="33.1" height="33.0"/></clipPath>
<rect x="334.20" y="532.10" width="33.10" height="33.00" fill="url(#hig)" />
<g clip-path="url(#hi1)">
<rect x="334.2" y="532.1" width="33.1" height="33.0" filter="url(#lnoise)" opacity="0.5"/>
<rect x="334.2" y="532.1" width="33.1" height="33.0" filter="url(#noise)"/>
<ellipse cx="351.20" cy="548.10" rx="12.80" ry="9.30" fill="none" stroke="#d4d4d4" stroke-width="0.7" opacity="0.8"/>
<ellipse cx="351.20" cy="548.10" rx="12.00" ry="8.50" fill="#9a9a9a" fill-opacity="0.25" stroke="#4a4a4a" stroke-width="1.17" filter="url(#bl3)"/>
<ellipse cx="351.20" cy="548.10" rx="10.80" ry="7.30" fill="none" stroke="#d4d4d4" stroke-width="0.7" opacity="0.8"/>
<ellipse cx="351.20" cy="548.10" rx="10.00" ry="6.50" fill="#9a9a9a" fill-opacity="0.25" stroke="#4a4a4a" stroke-width="0.54" filter="url(#bl3)"/>
<g filter="url(#bl1)"><circle cx="353.2" cy="547.1" r="4.8" fill="#888888" opacity="0.75"/><circle cx="362.2" cy="540.1" r="2.4" fill="#686868" opacity="0.75"/></g>
<g filter="url(#bl2)"><circle cx="348.3" cy="554.4" r="0.64" fill="#838383" opacity="0.7"/><circle cx="353.3" cy="546.4" r="0.70" fill="#747474" opacity="0.7"/><circle cx="349.9" cy="547.2" r="0.78" fill="#b2b2b2" opacity="0.7"/><circle cx="347.3" cy="546.2" r="0.51" fill="#b9b9b9" opacity="0.7"/><circle cx="358.3" cy="548.1" r="0.67" fill="#b8b8b8" opacity="0.7"/><circle cx="343.9" cy="544.0" r="0.56" fill="#949494" opacity="0.7"/><circle cx="360.6" cy="546.7" r="0.83" fill="#7c7c7c" opacity="0.7"/><circle cx="351.5" cy="545.0" r="0.43" fill="#848484" opacity="0.7"/><circle cx="352.6" cy="546.4" r="0.80" fill="#b2b2b2" opacity="0.7"/><circle cx="354.4" cy="547.9" r="0.44" fill="#b0b0b0" opacity="0.7"/><circle cx="358.0" cy="552.1" r="0.77" fill="#7d7d7d" opacity="0.7"/><circle cx="357.8" cy="547.7" r="0.85" fill="#939393" opacity="0.7"/><circle cx="345.0" cy="543.0" r="0.62" fill="#a7a7a7" opacity="0.7"/><circle cx="359.9" cy="549.9" r="0.47" fill="#acacac" opacity="0.7"/><circle cx="349.4" cy="544.8" r="0.48" fill="#949494" opacity="0.7"/><circle cx="356.9" cy="550.4" r="0.76" fill="#a9a9a9" opacity="0.7"/><circle cx="356.6" cy="542.9" r="0.52" fill="#ababab" opacity="0.7"/><circle cx="352.5" cy="542.3" r="0.41" fill="#7b7b7b" opacity="0.7"/><circle cx="354.6" cy="546.6" r="0.87" fill="#b5b5b5" opacity="0.7"/><circle cx="345.1" cy="550.5" r="0.44" fill="#787878" opacity="0.7"/><circle cx="355.7" cy="543.8" r="0.50" fill="#868686" opacity="0.7"/><circle cx="358.6" cy="550.8" r="0.43" fill="#878787" opacity="0.7"/><circle cx="353.6" cy="544.7" r="0.68" fill="#7f7f7f" opacity="0.7"/><circle cx="346.5" cy="551.8" r="0.67" fill="#959595" opacity="0.7"/><circle cx="350.5" cy="552.9" r="0.51" fill="#bbbbbb" opacity="0.7"/><circle cx="346.5" cy="549.8" r="0.57" fill="#959595" opacity="0.7"/><circle cx="345.8" cy="544.5" r="0.62" fill="#7e7e7e" opacity="0.7"/><circle cx="351.4" cy="548.1" r="0.58" fill="#a7a7a7" opacity="0.7"/><circle cx="344.4" cy="548.0" r="0.43" fill="#868686" opacity="0.7"/><circle cx="346.1" cy="544.1" r="0.87" fill="#959595" opacity="0.7"/><circle cx="344.6" cy="547.7" r="0.78" fill="#a5a5a5" opacity="0.7"/><circle cx="347.3" cy="544.6" r="0.53" fill="#a9a9a9" opacity="0.7"/><circle cx="355.8" cy="545.4" r="0.72" fill="#999999" opacity="0.7"/><circle cx="349.0" cy="550.2" r="0.51" fill="#b8b8b8" opacity="0.7"/><circle cx="347.3" cy="551.2" r="0.45" fill="#989898" opacity="0.7"/><circle cx="350.2" cy="552.6" r="0.64" fill="#7d7d7d" opacity="0.7"/><circle cx="352.9" cy="549.0" r="0.62" fill="#bdbdbd" opacity="0.7"/><circle cx="349.1" cy="548.4" r="0.66" fill="#7f7f7f" opacity="0.7"/><circle cx="358.2" cy="546.0" r="0.66" fill="#919191" opacity="0.7"/><circle cx="352.5" cy="552.8" r="0.55" fill="#7d7d7d" opacity="0.7"/><circle cx="353.7" cy="552.3" r="0.62" fill="#b5b5b5" opacity="0.7"/><circle cx="350.9" cy="551.3" r="1.11" fill="#737373"/><circle cx="351.2" cy="551.4" r="1.20" fill="#7e7e7e"/><circle cx="354.9" cy="544.9" r="1.01" fill="#7a7a7a"/><circle cx="356.6" cy="548.8" r="1.03" fill="#828282"/><circle cx="356.5" cy="549.6" r="0.96" fill="#7f7f7f"/><circle cx="352.8" cy="545.1" r="1.07" fill="#838383"/><circle cx="351.4" cy="542.7" r="0.81" fill="#6e6e6e"/><circle cx="350.5" cy="550.9" r="0.76" fill="#909090"/><circle cx="355.0" cy="549.9" r="0.52" fill="#848484"/><circle cx="350.0" cy="543.7" r="0.86" fill="#898989"/><circle cx="356.7" cy="543.7" r="1.10" fill="#b0b0b0"/><circle cx="354.4" cy="549.8" r="1.14" fill="#848484"/><circle cx="354.2" cy="542.7" r="0.68" fill="#777777"/><circle cx="356.1" cy="547.0" r="0.84" fill="#969696"/><circle cx="353.1" cy="546.8" r="1.23" fill="#a6a6a6"/><circle cx="352.2" cy="544.3" r="0.67" fill="#9d9d9d"/><circle cx="353.8" cy="542.7" r="1.10" fill="#969696"/><circle cx="351.7" cy="543.0" r="1.11" fill="#acacac"/><circle cx="356.8" cy="544.9" r="0.66" fill="#727272"/><circle cx="354.5" cy="546.3" r="1.07" fill="#aaaaaa"/><circle cx="356.2" cy="550.7" r="0.67" fill="#9f9f9f"/><circle cx="350.9" cy="550.5" r="0.97" fill="#989898"/><circle cx="354.9" cy="544.9" r="1.27" fill="#a9a9a9"/><circle cx="355.2" cy="544.4" r="0.90" fill="#7d7d7d"/><circle cx="349.9" cy="549.6" r="0.73" fill="#727272"/><circle cx="354.7" cy="548.1" r="0.93" fill="#828282"/><circle cx="354.0" cy="544.1" r="0.90" fill="#ababab"/><circle cx="356.0" cy="546.3" r="0.63" fill="#838383"/><circle cx="354.2" cy="543.4" r="0.90" fill="#b0b0b0"/><circle cx="353.4" cy="545.1" r="0.56" fill="#aeaeae"/><circle cx="355.1" cy="551.7" r="1.27" fill="#717171"/><circle cx="354.5" cy="547.1" r="1.13" fill="#8a8a8a"/><circle cx="356.8" cy="546.4" r="0.84" fill="#adadad"/><circle cx="353.2" cy="545.8" r="0.67" fill="#9b9b9b"/><circle cx="352.7" cy="544.5" r="0.86" fill="#6e6e6e"/><circle cx="353.6" cy="550.6" r="0.85" fill="#6c6c6c"/><circle cx="353.8" cy="550.0" r="1.09" fill="#979797"/><circle cx="350.0" cy="547.5" r="0.51" fill="#d8d8d8"/><circle cx="349.9" cy="544.4" r="0.50" fill="#d8d8d8"/><circle cx="356.1" cy="550.1" r="0.51" fill="#d8d8d8"/><circle cx="353.4" cy="543.4" r="0.44" fill="#d8d8d8"/><circle cx="360.9" cy="542.1" r="1.02" fill="#878787"/><circle cx="364.7" cy="540.0" r="1.20" fill="#838383"/><circle cx="359.8" cy="540.1" r="1.25" fill="#606060"/><circle cx="364.4" cy="539.8" r="1.05" fill="#909090"/><circle cx="361.8" cy="539.3" r="0.57" fill="#7f7f7f"/><circle cx="364.0" cy="538.8" r="1.09" fill="#8a8a8a"/><circle cx="361.9" cy="542.0" r="1.20" fill="#6e6e6e"/><circle cx="360.9" cy="539.2" r="1.12" fill="#7f7f7f"/><circle cx="361.2" cy="539.0" r="0.96" fill="#7b7b7b"/><circle cx="363.2" cy="540.9" r="0.46" fill="#d8d8d8"/></g>
<g filter="url(#bl2)"><circle cx="345.2" cy="560.1" r="1.3" fill="#ececec"/></g>
</g>
<rect x="334.70" y="532.60" width="32.10" height="32.00" fill="none" stroke="#4a4a4a" stroke-width="1.1" />
<clipPath id="hi2"><rect x="432.3" y="532.1" width="33.3" height="33.0"/></clipPath>
<rect x="432.30" y="532.10" width="33.30" height="33.00" fill="url(#hig)" />
<g clip-path="url(#hi2)">
<rect x="432.3" y="532.1" width="33.3" height="33.0" filter="url(#lnoise)" opacity="0.5"/>
<rect x="432.3" y="532.1" width="33.3" height="33.0" filter="url(#noise)"/>
<ellipse cx="449.30" cy="549.10" rx="11.80" ry="10.80" fill="none" stroke="#d4d4d4" stroke-width="0.7" opacity="0.8"/>
<ellipse cx="449.30" cy="549.10" rx="11.00" ry="10.00" fill="#9a9a9a" fill-opacity="0.25" stroke="#4a4a4a" stroke-width="0.81" filter="url(#bl3)"/>
<g filter="url(#bl1)"><circle cx="449.3" cy="549.1" r="9.5" fill="#595959" opacity="0.75"/><circle cx="444.3" cy="553.1" r="3.8" fill="#525252" opacity="0.75"/><circle cx="453.3" cy="544.1" r="3.8" fill="#525252" opacity="0.75"/><circle cx="459.3" cy="558.1" r="2.8" fill="#737373" opacity="0.75"/></g>
<g filter="url(#bl2)"><circle cx="446.0" cy="548.8" r="0.97" fill="#737373"/><circle cx="454.8" cy="555.5" r="0.53" fill="#747474"/><circle cx="448.6" cy="542.3" r="1.23" fill="#7c7c7c"/><circle cx="442.7" cy="543.1" r="1.09" fill="#4a4a4a"/><circle cx="446.6" cy="540.9" r="0.69" fill="#5c5c5c"/><circle cx="446.3" cy="551.9" r="1.04" fill="#6b6b6b"/><circle cx="442.9" cy="543.0" r="0.99" fill="#515151"/><circle cx="451.6" cy="541.5" r="0.73" fill="#494949"/><circle cx="447.2" cy="554.3" r="0.80" fill="#6d6d6d"/><circle cx="451.9" cy="558.5" r="1.23" fill="#666666"/><circle cx="446.2" cy="550.6" r="1.23" fill="#414141"/><circle cx="452.0" cy="549.6" r="0.83" fill="#676767"/><circle cx="455.0" cy="550.5" r="0.63" fill="#666666"/><circle cx="445.8" cy="552.6" r="1.21" fill="#606060"/><circle cx="441.9" cy="544.5" r="0.51" fill="#767676"/><circle cx="456.6" cy="554.4" r="0.83" fill="#5f5f5f"/><circle cx="452.6" cy="545.3" r="1.14" fill="#5e5e5e"/><circle cx="448.6" cy="546.6" r="1.19" fill="#4f4f4f"/><circle cx="444.5" cy="545.0" r="0.92" fill="#7c7c7c"/><circle cx="453.1" cy="545.5" r="0.80" fill="#686868"/><circle cx="457.4" cy="549.3" r="0.76" fill="#616161"/><circle cx="446.7" cy="555.0" r="1.27" fill="#696969"/><circle cx="447.9" cy="539.5" r="0.52" fill="#525252"/><circle cx="454.5" cy="556.7" r="1.11" fill="#434343"/><circle cx="458.2" cy="548.6" r="0.66" fill="#5f5f5f"/><circle cx="451.6" cy="545.4" r="0.88" fill="#3d3d3d"/><circle cx="458.1" cy="544.4" r="0.53" fill="#616161"/><circle cx="442.8" cy="550.5" r="0.80" fill="#6b6b6b"/><circle cx="441.6" cy="554.2" r="0.70" fill="#757575"/><circle cx="447.3" cy="548.5" r="0.51" fill="#606060"/><circle cx="445.1" cy="544.5" r="0.91" fill="#7f7f7f"/><circle cx="453.7" cy="556.6" r="0.94" fill="#585858"/><circle cx="448.4" cy="542.8" r="0.54" fill="#626262"/><circle cx="448.3" cy="551.6" r="0.89" fill="#606060"/><circle cx="450.7" cy="554.9" r="1.26" fill="#3d3d3d"/><circle cx="453.0" cy="545.0" r="1.08" fill="#838383"/><circle cx="443.8" cy="548.8" r="1.16" fill="#6e6e6e"/><circle cx="450.9" cy="542.6" r="0.67" fill="#7b7b7b"/><circle cx="451.9" cy="539.5" r="0.63" fill="#3f3f3f"/><circle cx="445.7" cy="541.7" r="0.52" fill="#464646"/><circle cx="458.3" cy="544.8" r="0.55" fill="#7d7d7d"/><circle cx="449.1" cy="542.4" r="0.74" fill="#575757"/><circle cx="447.7" cy="543.0" r="0.53" fill="#484848"/><circle cx="455.5" cy="551.1" r="0.96" fill="#707070"/><circle cx="458.5" cy="547.0" r="0.93" fill="#7c7c7c"/><circle cx="441.0" cy="548.3" r="0.64" fill="#696969"/><circle cx="442.8" cy="547.1" r="0.89" fill="#606060"/><circle cx="441.5" cy="548.7" r="0.62" fill="#535353"/><circle cx="458.0" cy="548.9" r="1.16" fill="#505050"/><circle cx="450.5" cy="543.5" r="0.66" fill="#505050"/><circle cx="454.3" cy="549.6" r="1.28" fill="#7d7d7d"/><circle cx="442.6" cy="541.8" r="0.94" fill="#404040"/><circle cx="454.3" cy="548.2" r="1.25" fill="#3e3e3e"/><circle cx="441.8" cy="543.0" r="1.17" fill="#424242"/><circle cx="441.3" cy="544.4" r="0.52" fill="#535353"/><circle cx="445.4" cy="544.8" r="0.62" fill="#474747"/><circle cx="455.8" cy="553.4" r="0.57" fill="#747474"/><circle cx="452.6" cy="557.6" r="0.97" fill="#4e4e4e"/><circle cx="452.8" cy="557.5" r="0.57" fill="#666666"/><circle cx="445.0" cy="556.1" r="0.60" fill="#4d4d4d"/><circle cx="448.1" cy="550.0" r="0.59" fill="#404040"/><circle cx="446.5" cy="557.7" r="0.82" fill="#7c7c7c"/><circle cx="448.7" cy="540.0" r="0.68" fill="#828282"/><circle cx="446.4" cy="540.1" r="0.53" fill="#717171"/><circle cx="453.7" cy="541.5" r="0.53" fill="#676767"/><circle cx="450.1" cy="549.5" r="0.98" fill="#646464"/><circle cx="456.6" cy="554.5" r="0.61" fill="#595959"/><circle cx="444.9" cy="546.5" r="0.67" fill="#4c4c4c"/><circle cx="450.0" cy="546.0" r="0.61" fill="#4d4d4d"/><circle cx="445.2" cy="542.0" r="0.62" fill="#5b5b5b"/><circle cx="458.9" cy="550.3" r="0.55" fill="#676767"/><circle cx="443.4" cy="542.2" r="1.26" fill="#4b4b4b"/><circle cx="452.6" cy="554.9" r="1.27" fill="#5b5b5b"/><circle cx="440.8" cy="550.2" r="0.73" fill="#707070"/><circle cx="442.7" cy="550.8" r="0.66" fill="#545454"/><circle cx="454.4" cy="557.6" r="0.63" fill="#7e7e7e"/><circle cx="455.1" cy="548.9" r="0.87" fill="#727272"/><circle cx="442.9" cy="550.2" r="0.92" fill="#3f3f3f"/><circle cx="449.1" cy="558.7" r="0.73" fill="#696969"/><circle cx="453.3" cy="542.6" r="1.09" fill="#6a6a6a"/><circle cx="448.7" cy="544.5" r="1.09" fill="#7a7a7a"/><circle cx="449.8" cy="540.5" r="1.28" fill="#4d4d4d"/><circle cx="447.9" cy="539.6" r="0.75" fill="#505050"/><circle cx="456.6" cy="542.3" r="0.62" fill="#6e6e6e"/><circle cx="447.5" cy="556.3" r="0.77" fill="#3d3d3d"/><circle cx="440.5" cy="545.2" r="1.21" fill="#6d6d6d"/><circle cx="451.8" cy="558.1" r="0.70" fill="#4c4c4c"/><circle cx="446.6" cy="545.0" r="1.06" fill="#3d3d3d"/><circle cx="456.6" cy="552.3" r="0.91" fill="#444444"/><circle cx="454.5" cy="545.3" r="1.21" fill="#4b4b4b"/><circle cx="455.3" cy="545.7" r="0.70" fill="#717171"/><circle cx="454.0" cy="549.7" r="1.13" fill="#676767"/><circle cx="451.6" cy="552.1" r="0.71" fill="#515151"/><circle cx="444.2" cy="556.1" r="1.10" fill="#565656"/><circle cx="443.8" cy="541.2" r="1.28" fill="#666666"/><circle cx="444.1" cy="554.4" r="0.66" fill="#4a4a4a"/><circle cx="443.8" cy="556.5" r="0.87" fill="#7d7d7d"/><circle cx="445.9" cy="553.7" r="0.87" fill="#656565"/><circle cx="457.6" cy="548.7" r="0.95" fill="#565656"/><circle cx="439.7" cy="551.3" r="1.14" fill="#494949"/><circle cx="448.0" cy="555.2" r="0.70" fill="#3f3f3f"/><circle cx="447.1" cy="553.8" r="0.60" fill="#696969"/><circle cx="446.8" cy="556.0" r="0.97" fill="#626262"/><circle cx="451.7" cy="553.6" r="1.29" fill="#737373"/><circle cx="450.7" cy="551.6" r="1.30" fill="#7b7b7b"/><circle cx="441.3" cy="554.7" r="1.22" fill="#676767"/><circle cx="450.7" cy="549.5" r="0.87" fill="#787878"/><circle cx="456.2" cy="554.6" r="0.65" fill="#3c3c3c"/><circle cx="448.9" cy="540.5" r="0.99" fill="#616161"/><circle cx="445.1" cy="546.2" r="1.00" fill="#555555"/><circle cx="450.2" cy="557.9" r="1.00" fill="#7e7e7e"/><circle cx="452.0" cy="553.7" r="0.86" fill="#666666"/><circle cx="448.2" cy="549.9" r="0.80" fill="#585858"/><circle cx="456.8" cy="555.6" r="1.27" fill="#737373"/><circle cx="449.4" cy="557.4" r="0.70" fill="#6f6f6f"/><circle cx="442.3" cy="544.3" r="0.94" fill="#676767"/><circle cx="449.2" cy="554.2" r="0.90" fill="#535353"/><circle cx="445.4" cy="551.3" r="1.29" fill="#404040"/><circle cx="443.4" cy="556.5" r="0.63" fill="#7c7c7c"/><circle cx="451.1" cy="553.5" r="0.68" fill="#3c3c3c"/><circle cx="443.0" cy="543.6" r="0.92" fill="#494949"/><circle cx="444.0" cy="542.4" r="1.11" fill="#6d6d6d"/><circle cx="452.4" cy="551.0" r="0.86" fill="#707070"/><circle cx="447.1" cy="540.9" r="1.07" fill="#737373"/><circle cx="440.8" cy="553.4" r="0.89" fill="#6c6c6c"/><circle cx="451.9" cy="543.9" r="0.98" fill="#555555"/><circle cx="453.6" cy="548.6" r="0.58" fill="#515151"/><circle cx="445.3" cy="543.5" r="0.79" fill="#5e5e5e"/><circle cx="444.2" cy="554.8" r="0.88" fill="#484848"/><circle cx="453.6" cy="554.8" r="0.83" fill="#606060"/><circle cx="445.7" cy="557.3" r="0.92" fill="#4d4d4d"/><circle cx="455.2" cy="547.8" r="1.05" fill="#5a5a5a"/><circle cx="440.5" cy="549.2" r="0.69" fill="#7c7c7c"/><circle cx="442.4" cy="549.0" r="1.01" fill="#5d5d5d"/><circle cx="451.2" cy="554.0" r="0.85" fill="#4e4e4e"/><circle cx="447.1" cy="554.1" r="0.99" fill="#808080"/><circle cx="448.0" cy="552.0" r="0.98" fill="#696969"/><circle cx="447.4" cy="548.2" r="1.14" fill="#676767"/><circle cx="441.8" cy="545.8" r="0.80" fill="#555555"/><circle cx="448.7" cy="557.8" r="0.93" fill="#717171"/><circle cx="443.9" cy="548.8" r="0.53" fill="#828282"/><circle cx="444.2" cy="546.9" r="1.27" fill="#757575"/><circle cx="442.0" cy="544.8" r="1.29" fill="#4b4b4b"/><circle cx="440.4" cy="551.9" r="0.77" fill="#3e3e3e"/><circle cx="448.0" cy="545.2" r="0.76" fill="#3d3d3d"/><circle cx="446.2" cy="540.3" r="0.97" fill="#4a4a4a"/><circle cx="455.3" cy="542.7" r="0.89" fill="#6a6a6a"/><circle cx="450.0" cy="554.3" r="0.74" fill="#646464"/><circle cx="447.8" cy="544.3" r="0.67" fill="#696969"/><circle cx="445.6" cy="540.4" r="0.84" fill="#7c7c7c"/><circle cx="452.6" cy="547.4" r="0.56" fill="#d8d8d8"/><circle cx="447.9" cy="555.2" r="0.42" fill="#d8d8d8"/><circle cx="444.4" cy="555.0" r="0.70" fill="#d8d8d8"/><circle cx="440.3" cy="552.4" r="0.67" fill="#d8d8d8"/><circle cx="448.8" cy="540.0" r="0.54" fill="#d8d8d8"/><circle cx="449.9" cy="542.2" r="0.51" fill="#d8d8d8"/><circle cx="445.2" cy="541.8" r="0.42" fill="#d8d8d8"/><circle cx="447.1" cy="539.6" r="0.41" fill="#d8d8d8"/><circle cx="455.4" cy="546.9" r="0.77" fill="#d8d8d8"/><circle cx="444.0" cy="553.3" r="0.66" fill="#d8d8d8"/><circle cx="447.8" cy="553.7" r="0.66" fill="#d8d8d8"/><circle cx="448.5" cy="550.5" r="0.52" fill="#d8d8d8"/><circle cx="456.1" cy="543.9" r="0.45" fill="#d8d8d8"/><circle cx="441.6" cy="548.6" r="0.47" fill="#d8d8d8"/><circle cx="453.6" cy="540.2" r="0.66" fill="#d8d8d8"/><circle cx="450.8" cy="542.9" r="0.50" fill="#d8d8d8"/><circle cx="445.1" cy="540.7" r="0.69" fill="#d8d8d8"/><circle cx="455.1" cy="557.2" r="0.76" fill="#d8d8d8"/><circle cx="447.8" cy="545.7" r="0.46" fill="#7f7f7f" opacity="0.7"/><circle cx="450.7" cy="543.3" r="0.49" fill="#bebebe" opacity="0.7"/><circle cx="446.3" cy="552.4" r="0.78" fill="#b3b3b3" opacity="0.7"/><circle cx="448.5" cy="543.5" r="0.60" fill="#878787" opacity="0.7"/><circle cx="454.9" cy="553.5" r="0.67" fill="#a1a1a1" opacity="0.7"/><circle cx="451.5" cy="547.0" r="0.45" fill="#a2a2a2" opacity="0.7"/><circle cx="449.1" cy="555.6" r="0.84" fill="#999999" opacity="0.7"/><circle cx="450.1" cy="553.8" r="0.55" fill="#8f8f8f" opacity="0.7"/><circle cx="447.0" cy="545.0" r="0.79" fill="#919191" opacity="0.7"/><circle cx="455.6" cy="552.1" r="0.61" fill="#989898" opacity="0.7"/><circle cx="445.9" cy="550.3" r="0.76" fill="#7c7c7c" opacity="0.7"/><circle cx="447.3" cy="552.7" r="0.72" fill="#828282" opacity="0.7"/><circle cx="447.1" cy="543.2" r="0.62" fill="#747474" opacity="0.7"/><circle cx="446.1" cy="550.8" r="0.60" fill="#ababab" opacity="0.7"/><circle cx="452.7" cy="544.4" r="0.83" fill="#858585" opacity="0.7"/><circle cx="454.2" cy="550.8" r="0.45" fill="#8e8e8e" opacity="0.7"/><circle cx="446.2" cy="545.7" r="0.86" fill="#bababa" opacity="0.7"/><circle cx="453.1" cy="550.0" r="0.75" fill="#a5a5a5" opacity="0.7"/><circle cx="449.9" cy="553.7" r="0.87" fill="#bebebe" opacity="0.7"/><circle cx="444.4" cy="554.2" r="0.73" fill="#bcbcbc" opacity="0.7"/><circle cx="441.9" cy="552.9" r="0.74" fill="#9f9f9f" opacity="0.7"/><circle cx="451.0" cy="548.0" r="0.43" fill="#7b7b7b" opacity="0.7"/><circle cx="447.8" cy="556.9" r="0.58" fill="#a9a9a9" opacity="0.7"/><circle cx="444.6" cy="546.0" r="0.57" fill="#989898" opacity="0.7"/><circle cx="456.1" cy="546.0" r="0.70" fill="#777777" opacity="0.7"/><circle cx="454.3" cy="547.2" r="0.43" fill="#7c7c7c" opacity="0.7"/><circle cx="444.1" cy="547.9" r="0.74" fill="#9c9c9c" opacity="0.7"/><circle cx="441.4" cy="554.3" r="0.96" fill="#606060"/><circle cx="442.5" cy="552.9" r="1.04" fill="#494949"/><circle cx="445.5" cy="552.6" r="0.86" fill="#393939"/><circle cx="447.8" cy="551.7" r="0.99" fill="#454545"/><circle cx="447.5" cy="554.7" r="1.25" fill="#3b3b3b"/><circle cx="442.9" cy="554.9" r="0.59" fill="#4e4e4e"/><circle cx="443.2" cy="554.5" r="0.88" fill="#383838"/><circle cx="446.0" cy="550.1" r="0.60" fill="#5c5c5c"/><circle cx="442.4" cy="553.6" r="1.20" fill="#575757"/><circle cx="445.3" cy="555.8" r="0.85" fill="#575757"/><circle cx="447.8" cy="554.7" r="0.67" fill="#757575"/><circle cx="446.1" cy="551.1" r="0.75" fill="#737373"/><circle cx="448.0" cy="554.5" r="0.53" fill="#4f4f4f"/><circle cx="444.7" cy="555.4" r="1.27" fill="#717171"/><circle cx="444.1" cy="554.5" r="1.29" fill="#3e3e3e"/><circle cx="442.9" cy="553.3" r="0.91" fill="#4c4c4c"/><circle cx="442.3" cy="551.0" r="0.86" fill="#6d6d6d"/><circle cx="446.1" cy="550.3" r="0.58" fill="#616161"/><circle cx="443.4" cy="555.0" r="1.20" fill="#747474"/><circle cx="443.3" cy="549.9" r="0.51" fill="#3f3f3f"/><circle cx="446.7" cy="554.4" r="1.29" fill="#4a4a4a"/><circle cx="446.9" cy="554.9" r="0.65" fill="#4c4c4c"/><circle cx="445.7" cy="549.8" r="0.89" fill="#585858"/><circle cx="446.6" cy="555.2" r="1.21" fill="#6b6b6b"/><circle cx="445.8" cy="549.9" r="0.48" fill="#d8d8d8"/><circle cx="445.3" cy="552.5" r="0.49" fill="#d8d8d8"/><circle cx="441.1" cy="552.2" r="0.66" fill="#d8d8d8"/><circle cx="450.8" cy="541.9" r="0.53" fill="#525252"/><circle cx="452.6" cy="547.1" r="0.82" fill="#696969"/><circle cx="449.8" cy="543.0" r="0.88" fill="#626262"/><circle cx="452.2" cy="544.8" r="1.28" fill="#505050"/><circle cx="450.6" cy="544.0" r="0.68" fill="#656565"/><circle cx="451.4" cy="544.8" r="0.91" fill="#5b5b5b"/><circle cx="454.3" cy="540.8" r="1.29" fill="#505050"/><circle cx="451.0" cy="543.1" r="0.51" fill="#414141"/><circle cx="451.4" cy="546.6" r="0.60" fill="#494949"/><circle cx="451.9" cy="544.3" r="0.90" fill="#454545"/><circle cx="452.9" cy="541.8" r="0.75" fill="#676767"/><circle cx="455.6" cy="546.8" r="1.03" fill="#646464"/><circle cx="453.2" cy="541.2" r="0.62" fill="#3a3a3a"/><circle cx="450.2" cy="543.3" r="1.09" fill="#383838"/><circle cx="456.0" cy="542.5" r="0.89" fill="#757575"/><circle cx="453.3" cy="543.5" r="1.10" fill="#5c5c5c"/><circle cx="454.2" cy="540.4" r="0.54" fill="#535353"/><circle cx="453.2" cy="540.1" r="1.19" fill="#797979"/><circle cx="456.6" cy="544.6" r="0.74" fill="#787878"/><circle cx="451.0" cy="542.0" r="1.24" fill="#515151"/><circle cx="454.7" cy="545.0" r="1.11" fill="#6b6b6b"/><circle cx="449.6" cy="544.5" r="0.70" fill="#444444"/><circle cx="456.8" cy="545.0" r="0.99" fill="#4b4b4b"/><circle cx="450.4" cy="544.4" r="0.60" fill="#494949"/><circle cx="454.2" cy="541.6" r="0.54" fill="#d8d8d8"/><circle cx="452.5" cy="543.9" r="0.70" fill="#d8d8d8"/><circle cx="452.1" cy="546.0" r="0.51" fill="#d8d8d8"/><circle cx="461.8" cy="558.8" r="1.14" fill="#868686"/><circle cx="456.6" cy="558.6" r="0.93" fill="#737373"/><circle cx="460.0" cy="556.6" r="0.78" fill="#787878"/><circle cx="462.1" cy="559.1" r="1.13" fill="#939393"/><circle cx="462.1" cy="558.3" r="1.23" fill="#5f5f5f"/><circle cx="459.0" cy="558.4" r="0.52" fill="#8c8c8c"/><circle cx="459.8" cy="557.1" r="0.54" fill="#919191"/><circle cx="461.1" cy="559.9" r="1.08" fill="#828282"/><circle cx="460.9" cy="559.7" r="1.15" fill="#939393"/><circle cx="460.8" cy="556.1" r="0.91" fill="#919191"/><circle cx="457.0" cy="558.5" r="0.65" fill="#919191"/><circle cx="458.9" cy="560.8" r="0.60" fill="#676767"/><circle cx="460.2" cy="555.3" r="0.53" fill="#5f5f5f"/><circle cx="457.0" cy="558.0" r="0.66" fill="#d8d8d8"/></g>
</g>
<rect x="432.80" y="532.60" width="32.30" height="32.00" fill="none" stroke="#4a4a4a" stroke-width="1.1" />
<clipPath id="hi3"><rect x="334.3" y="605.3" width="33.2" height="33.0"/></clipPath>
<rect x="334.30" y="605.30" width="33.20" height="33.00" fill="url(#hig)" />
<g clip-path="url(#hi3)">
<rect x="334.3" y="605.3" width="33.2" height="33.0" filter="url(#lnoise)" opacity="0.5"/>
<rect x="334.3" y="605.3" width="33.2" height="33.0" filter="url(#noise)"/>
<ellipse cx="350.30" cy="623.30" rx="10.30" ry="10.30" fill="none" stroke="#d4d4d4" stroke-width="0.7" opacity="0.8"/>
<ellipse cx="350.30" cy="623.30" rx="9.50" ry="9.50" fill="#9a9a9a" fill-opacity="0.25" stroke="#4a4a4a" stroke-width="1.26" filter="url(#bl3)"/>
<ellipse cx="350.30" cy="623.30" rx="7.80" ry="7.80" fill="none" stroke="#d4d4d4" stroke-width="0.7" opacity="0.8"/>
<ellipse cx="350.30" cy="623.30" rx="7.00" ry="7.00" fill="#9a9a9a" fill-opacity="0.25" stroke="#4a4a4a" stroke-width="0.45" filter="url(#bl3)"/>
<g filter="url(#bl1)"><circle cx="350.3" cy="623.3" r="6.2" fill="#7e7e7e" opacity="0.75"/></g>
<g filter="url(#bl2)"><circle cx="346.3" cy="619.8" r="0.58" fill="#7a7a7a" opacity="0.7"/><circle cx="342.8" cy="624.5" r="0.72" fill="#989898" opacity="0.7"/><circle cx="347.0" cy="618.3" r="0.46" fill="#a6a6a6" opacity="0.7"/><circle cx="350.9" cy="626.7" r="0.55" fill="#939393" opacity="0.7"/><circle cx="352.1" cy="621.8" r="0.77" fill="#777777" opacity="0.7"/><circle cx="351.9" cy="624.0" r="0.60" fill="#868686" opacity="0.7"/><circle cx="344.5" cy="623.3" r="0.86" fill="#acacac" opacity="0.7"/><circle cx="350.0" cy="628.4" r="0.49" fill="#909090" opacity="0.7"/><circle cx="343.8" cy="620.7" r="0.48" fill="#838383" opacity="0.7"/><circle cx="354.5" cy="625.7" r="0.72" fill="#bfbfbf" opacity="0.7"/><circle cx="355.9" cy="628.3" r="0.62" fill="#838383" opacity="0.7"/><circle cx="344.1" cy="619.0" r="0.57" fill="#b5b5b5" opacity="0.7"/><circle cx="356.0" cy="621.8" r="0.55" fill="#b1b1b1" opacity="0.7"/><circle cx="345.9" cy="618.6" r="0.82" fill="#bebebe" opacity="0.7"/><circle cx="348.6" cy="622.0" r="0.46" fill="#a9a9a9" opacity="0.7"/><circle cx="357.1" cy="620.3" r="0.45" fill="#b5b5b5" opacity="0.7"/><circle cx="345.4" cy="619.7" r="0.83" fill="#aeaeae" opacity="0.7"/><circle cx="352.6" cy="625.7" r="0.89" fill="#737373" opacity="0.7"/><circle cx="344.5" cy="623.9" r="0.49" fill="#b5b5b5" opacity="0.7"/><circle cx="347.5" cy="628.7" r="0.77" fill="#8c8c8c" opacity="0.7"/><circle cx="345.5" cy="626.5" r="0.59" fill="#9c9c9c" opacity="0.7"/><circle cx="357.1" cy="622.2" r="0.68" fill="#888888" opacity="0.7"/><circle cx="347.8" cy="621.4" r="0.84" fill="#6c6c6c"/><circle cx="345.2" cy="620.2" r="0.90" fill="#888888"/><circle cx="349.0" cy="623.6" r="1.12" fill="#777777"/><circle cx="349.1" cy="621.8" r="1.20" fill="#a0a0a0"/><circle cx="353.7" cy="618.8" r="0.71" fill="#787878"/><circle cx="347.4" cy="626.3" r="0.66" fill="#656565"/><circle cx="348.0" cy="617.8" r="0.64" fill="#666666"/><circle cx="350.6" cy="629.2" r="0.73" fill="#838383"/><circle cx="346.1" cy="619.7" r="0.97" fill="#8a8a8a"/><circle cx="351.7" cy="618.7" r="0.84" fill="#8f8f8f"/><circle cx="354.5" cy="618.7" r="0.99" fill="#898989"/><circle cx="351.9" cy="621.8" r="0.77" fill="#7a7a7a"/><circle cx="345.4" cy="620.3" r="0.95" fill="#8b8b8b"/><circle cx="351.0" cy="619.5" r="1.11" fill="#919191"/><circle cx="344.8" cy="624.4" r="0.99" fill="#626262"/><circle cx="349.5" cy="617.9" r="0.91" fill="#696969"/><circle cx="346.7" cy="619.2" r="0.59" fill="#a5a5a5"/><circle cx="351.5" cy="628.5" r="0.85" fill="#646464"/><circle cx="355.2" cy="624.9" r="0.59" fill="#8e8e8e"/><circle cx="352.6" cy="626.3" r="0.89" fill="#777777"/><circle cx="347.1" cy="621.3" r="0.55" fill="#636363"/><circle cx="352.0" cy="621.1" r="0.84" fill="#a4a4a4"/><circle cx="352.7" cy="627.6" r="0.70" fill="#666666"/><circle cx="347.0" cy="621.2" r="1.02" fill="#676767"/><circle cx="350.2" cy="629.7" r="0.63" fill="#6f6f6f"/><circle cx="349.1" cy="629.0" r="1.15" fill="#a0a0a0"/><circle cx="350.9" cy="627.4" r="0.92" fill="#888888"/><circle cx="355.5" cy="621.0" r="0.61" fill="#858585"/><circle cx="356.8" cy="623.2" r="1.10" fill="#9c9c9c"/><circle cx="350.3" cy="617.0" r="0.96" fill="#979797"/><circle cx="345.4" cy="621.9" r="0.99" fill="#656565"/><circle cx="355.2" cy="626.8" r="0.72" fill="#696969"/><circle cx="350.2" cy="620.7" r="0.89" fill="#6f6f6f"/><circle cx="356.2" cy="620.9" r="0.51" fill="#676767"/><circle cx="353.0" cy="628.4" r="1.17" fill="#8f8f8f"/><circle cx="346.1" cy="623.1" r="0.80" fill="#9c9c9c"/><circle cx="352.4" cy="618.8" r="0.52" fill="#696969"/><circle cx="346.6" cy="623.7" r="0.54" fill="#a7a7a7"/><circle cx="344.7" cy="624.0" r="1.04" fill="#787878"/><circle cx="348.0" cy="625.3" r="0.97" fill="#666666"/><circle cx="348.0" cy="619.0" r="0.58" fill="#797979"/><circle cx="353.0" cy="628.7" r="0.98" fill="#7c7c7c"/><circle cx="351.8" cy="626.1" r="1.29" fill="#666666"/><circle cx="349.9" cy="627.5" r="0.85" fill="#6c6c6c"/><circle cx="354.3" cy="622.6" r="0.83" fill="#616161"/><circle cx="347.4" cy="620.9" r="1.04" fill="#646464"/><circle cx="344.6" cy="625.7" r="0.99" fill="#a6a6a6"/><circle cx="350.7" cy="617.7" r="0.98" fill="#666666"/><circle cx="351.0" cy="617.6" r="1.10" fill="#8b8b8b"/><circle cx="352.3" cy="617.7" r="1.29" fill="#717171"/><circle cx="351.8" cy="622.0" r="0.57" fill="#767676"/><circle cx="347.9" cy="622.9" r="0.78" fill="#808080"/><circle cx="347.1" cy="621.5" r="0.50" fill="#696969"/><circle cx="353.6" cy="621.0" r="0.56" fill="#8f8f8f"/><circle cx="354.6" cy="625.3" r="1.24" fill="#8f8f8f"/><circle cx="349.7" cy="629.4" r="0.80" fill="#a6a6a6"/><circle cx="348.6" cy="622.4" r="1.14" fill="#919191"/><circle cx="352.8" cy="618.9" r="0.61" fill="#797979"/><circle cx="345.7" cy="625.6" r="0.76" fill="#646464"/><circle cx="353.5" cy="619.4" r="0.59" fill="#a3a3a3"/><circle cx="347.1" cy="623.1" r="1.27" fill="#8f8f8f"/><circle cx="346.1" cy="618.5" r="0.67" fill="#979797"/><circle cx="352.9" cy="618.6" r="1.23" fill="#919191"/><circle cx="354.2" cy="627.5" r="0.74" fill="#d8d8d8"/><circle cx="355.3" cy="623.4" r="0.60" fill="#d8d8d8"/><circle cx="346.8" cy="624.6" r="0.44" fill="#d8d8d8"/><circle cx="344.4" cy="622.2" r="0.71" fill="#d8d8d8"/><circle cx="355.2" cy="623.8" r="0.54" fill="#d8d8d8"/><circle cx="354.9" cy="619.6" r="0.56" fill="#d8d8d8"/><circle cx="350.2" cy="624.4" r="0.57" fill="#d8d8d8"/><circle cx="352.7" cy="627.6" r="0.65" fill="#999999" opacity="0.7"/><circle cx="352.0" cy="624.4" r="0.48" fill="#818181" opacity="0.7"/><circle cx="352.7" cy="625.4" r="0.66" fill="#9c9c9c" opacity="0.7"/><circle cx="346.9" cy="625.3" r="0.60" fill="#777777" opacity="0.7"/><circle cx="349.9" cy="622.6" r="0.86" fill="#a5a5a5" opacity="0.7"/><circle cx="355.7" cy="622.4" r="0.55" fill="#8a8a8a" opacity="0.7"/><circle cx="351.5" cy="624.0" r="0.64" fill="#a5a5a5" opacity="0.7"/><circle cx="354.9" cy="624.6" r="0.72" fill="#b3b3b3" opacity="0.7"/><circle cx="347.7" cy="625.2" r="0.53" fill="#767676" opacity="0.7"/><circle cx="355.4" cy="622.9" r="0.83" fill="#7f7f7f" opacity="0.7"/><circle cx="352.7" cy="623.6" r="0.49" fill="#8f8f8f" opacity="0.7"/><circle cx="352.3" cy="618.7" r="0.71" fill="#adadad" opacity="0.7"/></g>
<g filter="url(#bl2)"><circle cx="343.3" cy="616.3" r="1.0" fill="#ececec"/></g>
</g>
<rect x="334.80" y="605.80" width="32.20" height="32.00" fill="none" stroke="#4a4a4a" stroke-width="1.1" />
<clipPath id="hi4"><rect x="432.3" y="605.3" width="33.2" height="33.2"/></clipPath>
<rect x="432.30" y="605.30" width="33.20" height="33.20" fill="url(#hig)" />
<g clip-path="url(#hi4)">
<rect x="432.3" y="605.3" width="33.2" height="33.2" filter="url(#lnoise)" opacity="0.5"/>
<rect x="432.3" y="605.3" width="33.2" height="33.2" filter="url(#noise)"/>
<g filter="url(#bl1)"><circle cx="442.3" cy="615.3" r="4.8" fill="#5d5d5d" opacity="0.75"/><circle cx="454.3" cy="624.3" r="5.7" fill="#4c4c4c" opacity="0.75"/><circle cx="444.3" cy="627.3" r="4.8" fill="#5d5d5d" opacity="0.75"/><circle cx="456.3" cy="613.3" r="2.8" fill="#686868" opacity="0.75"/><circle cx="449.3" cy="633.3" r="3.8" fill="#616161" opacity="0.75"/><circle cx="460.3" cy="631.3" r="2.8" fill="#737373" opacity="0.75"/></g>
<g filter="url(#bl2)"><circle cx="439.3" cy="611.6" r="1.04" fill="#7a7a7a"/><circle cx="442.7" cy="615.3" r="0.91" fill="#5f5f5f"/><circle cx="442.3" cy="613.5" r="0.93" fill="#616161"/><circle cx="439.1" cy="612.3" r="1.27" fill="#626262"/><circle cx="444.2" cy="619.5" r="1.12" fill="#6a6a6a"/><circle cx="446.1" cy="612.8" r="0.83" fill="#7e7e7e"/><circle cx="443.3" cy="618.4" r="0.93" fill="#636363"/><circle cx="440.5" cy="610.8" r="0.61" fill="#444444"/><circle cx="442.4" cy="618.3" r="0.51" fill="#5a5a5a"/><circle cx="443.2" cy="617.4" r="0.74" fill="#686868"/><circle cx="442.5" cy="614.9" r="0.79" fill="#737373"/><circle cx="443.0" cy="613.0" r="0.66" fill="#838383"/><circle cx="445.0" cy="619.2" r="1.12" fill="#717171"/><circle cx="437.8" cy="617.0" r="1.16" fill="#818181"/><circle cx="443.9" cy="610.7" r="1.16" fill="#4b4b4b"/><circle cx="444.6" cy="618.7" r="0.81" fill="#545454"/><circle cx="442.1" cy="617.0" r="1.20" fill="#666666"/><circle cx="441.0" cy="617.0" r="0.71" fill="#7a7a7a"/><circle cx="443.2" cy="616.0" r="1.27" fill="#727272"/><circle cx="440.9" cy="611.8" r="1.10" fill="#737373"/><circle cx="446.3" cy="615.1" r="1.30" fill="#4b4b4b"/><circle cx="441.1" cy="612.4" r="1.21" fill="#818181"/><circle cx="439.8" cy="617.3" r="1.26" fill="#4c4c4c"/><circle cx="441.2" cy="611.4" r="1.10" fill="#505050"/><circle cx="446.7" cy="613.8" r="0.57" fill="#616161"/><circle cx="441.6" cy="614.4" r="0.83" fill="#5f5f5f"/><circle cx="446.2" cy="613.5" r="0.94" fill="#494949"/><circle cx="440.8" cy="613.3" r="0.54" fill="#6a6a6a"/><circle cx="441.9" cy="611.5" r="1.23" fill="#828282"/><circle cx="442.0" cy="616.4" r="1.05" fill="#707070"/><circle cx="442.1" cy="612.5" r="1.15" fill="#5e5e5e"/><circle cx="440.2" cy="613.7" r="1.07" fill="#494949"/><circle cx="440.9" cy="619.9" r="0.85" fill="#7c7c7c"/><circle cx="442.5" cy="616.1" r="1.08" fill="#676767"/><circle cx="445.0" cy="617.1" r="0.88" fill="#5b5b5b"/><circle cx="439.5" cy="613.4" r="0.68" fill="#727272"/><circle cx="442.0" cy="611.8" r="0.99" fill="#6a6a6a"/><circle cx="446.3" cy="612.4" r="0.41" fill="#d8d8d8"/><circle cx="441.4" cy="611.8" r="0.66" fill="#d8d8d8"/><circle cx="442.6" cy="618.6" r="0.57" fill="#d8d8d8"/><circle cx="438.3" cy="617.9" r="0.52" fill="#d8d8d8"/><circle cx="453.1" cy="624.7" r="0.70" fill="#474747"/><circle cx="452.4" cy="625.8" r="0.77" fill="#444444"/><circle cx="450.3" cy="625.2" r="1.01" fill="#5d5d5d"/><circle cx="450.5" cy="624.9" r="1.02" fill="#545454"/><circle cx="450.6" cy="629.0" r="1.18" fill="#696969"/><circle cx="456.1" cy="626.5" r="1.19" fill="#5b5b5b"/><circle cx="449.2" cy="626.0" r="0.50" fill="#5a5a5a"/><circle cx="459.9" cy="623.3" r="1.15" fill="#4a4a4a"/><circle cx="455.7" cy="628.9" r="0.81" fill="#5d5d5d"/><circle cx="455.6" cy="622.6" r="0.96" fill="#3c3c3c"/><circle cx="454.2" cy="623.4" r="0.68" fill="#606060"/><circle cx="450.1" cy="623.7" r="0.82" fill="#646464"/><circle cx="454.9" cy="621.0" r="0.78" fill="#737373"/><circle cx="456.0" cy="627.2" r="1.05" fill="#727272"/><circle cx="453.4" cy="626.1" r="1.07" fill="#606060"/><circle cx="456.7" cy="627.0" r="0.99" fill="#696969"/><circle cx="458.9" cy="623.2" r="0.91" fill="#3b3b3b"/><circle cx="453.1" cy="618.4" r="0.62" fill="#454545"/><circle cx="456.8" cy="619.9" r="0.88" fill="#383838"/><circle cx="458.1" cy="623.2" r="0.58" fill="#565656"/><circle cx="457.9" cy="623.9" r="0.74" fill="#565656"/><circle cx="457.9" cy="622.9" r="1.15" fill="#5e5e5e"/><circle cx="456.0" cy="620.4" r="1.06" fill="#6b6b6b"/><circle cx="451.9" cy="627.8" r="0.95" fill="#575757"/><circle cx="452.5" cy="620.9" r="1.19" fill="#6a6a6a"/><circle cx="456.8" cy="628.9" r="0.79" fill="#3b3b3b"/><circle cx="454.4" cy="623.3" r="0.67" fill="#757575"/><circle cx="457.1" cy="620.7" r="1.25" fill="#555555"/><circle cx="450.9" cy="629.1" r="0.90" fill="#646464"/><circle cx="449.0" cy="625.1" r="0.68" fill="#333333"/><circle cx="451.3" cy="628.3" r="1.04" fill="#717171"/><circle cx="457.5" cy="628.9" r="1.13" fill="#757575"/><circle cx="452.7" cy="629.4" r="0.96" fill="#383838"/><circle cx="453.3" cy="620.0" r="0.95" fill="#464646"/><circle cx="451.3" cy="621.6" r="0.65" fill="#444444"/><circle cx="459.9" cy="622.7" r="0.65" fill="#393939"/><circle cx="449.1" cy="622.6" r="1.29" fill="#595959"/><circle cx="452.2" cy="627.5" r="1.12" fill="#3b3b3b"/><circle cx="454.6" cy="627.2" r="0.63" fill="#717171"/><circle cx="451.5" cy="629.1" r="0.68" fill="#424242"/><circle cx="458.7" cy="620.6" r="1.05" fill="#484848"/><circle cx="450.4" cy="620.8" r="0.61" fill="#5e5e5e"/><circle cx="453.4" cy="622.1" r="0.56" fill="#6a6a6a"/><circle cx="455.9" cy="628.2" r="0.78" fill="#6a6a6a"/><circle cx="452.5" cy="625.8" r="0.74" fill="#616161"/><circle cx="454.0" cy="625.1" r="0.63" fill="#414141"/><circle cx="456.4" cy="626.1" r="0.91" fill="#6b6b6b"/><circle cx="458.2" cy="622.1" r="0.95" fill="#525252"/><circle cx="453.4" cy="621.7" r="1.01" fill="#424242"/><circle cx="451.9" cy="620.8" r="1.17" fill="#4e4e4e"/><circle cx="455.6" cy="625.8" r="1.13" fill="#5f5f5f"/><circle cx="451.5" cy="629.5" r="0.70" fill="#444444"/><circle cx="451.7" cy="620.6" r="0.57" fill="#313131"/><circle cx="457.0" cy="626.6" r="1.10" fill="#313131"/><circle cx="451.5" cy="620.8" r="0.51" fill="#d8d8d8"/><circle cx="457.5" cy="629.1" r="0.58" fill="#d8d8d8"/><circle cx="453.1" cy="628.2" r="0.62" fill="#d8d8d8"/><circle cx="457.7" cy="621.6" r="0.51" fill="#d8d8d8"/><circle cx="459.2" cy="627.0" r="0.72" fill="#d8d8d8"/><circle cx="453.5" cy="621.6" r="0.75" fill="#d8d8d8"/><circle cx="440.1" cy="627.5" r="0.91" fill="#434343"/><circle cx="445.3" cy="622.9" r="0.85" fill="#797979"/><circle cx="444.3" cy="631.9" r="1.24" fill="#818181"/><circle cx="439.6" cy="626.6" r="1.22" fill="#414141"/><circle cx="445.1" cy="629.4" r="1.02" fill="#5f5f5f"/><circle cx="444.1" cy="629.5" r="0.96" fill="#7d7d7d"/><circle cx="440.2" cy="628.9" r="1.23" fill="#6f6f6f"/><circle cx="442.8" cy="628.5" r="1.03" fill="#454545"/><circle cx="443.8" cy="628.3" r="0.98" fill="#666666"/><circle cx="446.6" cy="625.9" r="1.23" fill="#595959"/><circle cx="443.4" cy="625.6" r="0.65" fill="#5b5b5b"/><circle cx="443.3" cy="623.3" r="0.54" fill="#626262"/><circle cx="441.8" cy="627.2" r="0.68" fill="#656565"/><circle cx="448.5" cy="629.4" r="1.16" fill="#6d6d6d"/><circle cx="443.7" cy="626.6" r="0.70" fill="#878787"/><circle cx="447.0" cy="627.8" r="0.82" fill="#474747"/><circle cx="443.0" cy="624.0" r="1.29" fill="#636363"/><circle cx="439.5" cy="628.1" r="0.83" fill="#727272"/><circle cx="445.7" cy="625.5" r="1.22" fill="#4f4f4f"/><circle cx="442.2" cy="629.9" r="1.24" fill="#707070"/><circle cx="439.7" cy="625.7" r="1.00" fill="#737373"/><circle cx="442.5" cy="625.6" r="0.68" fill="#7f7f7f"/><circle cx="448.0" cy="625.1" r="0.62" fill="#595959"/><circle cx="445.3" cy="623.3" r="0.65" fill="#7d7d7d"/><circle cx="445.4" cy="629.2" r="1.11" fill="#656565"/><circle cx="443.2" cy="628.5" r="0.85" fill="#636363"/><circle cx="446.4" cy="622.8" r="0.72" fill="#656565"/><circle cx="444.4" cy="627.7" r="0.64" fill="#424242"/><circle cx="444.4" cy="630.5" r="1.20" fill="#7c7c7c"/><circle cx="446.6" cy="624.1" r="1.26" fill="#878787"/><circle cx="443.8" cy="630.4" r="1.29" fill="#878787"/><circle cx="442.9" cy="629.4" r="0.56" fill="#7a7a7a"/><circle cx="446.6" cy="627.0" r="0.99" fill="#797979"/><circle cx="439.7" cy="628.3" r="1.07" fill="#525252"/><circle cx="444.8" cy="631.7" r="1.03" fill="#6d6d6d"/><circle cx="445.2" cy="624.0" r="1.15" fill="#6f6f6f"/><circle cx="447.6" cy="625.2" r="0.88" fill="#454545"/><circle cx="447.6" cy="624.8" r="0.47" fill="#d8d8d8"/><circle cx="444.7" cy="623.0" r="0.45" fill="#d8d8d8"/><circle cx="446.6" cy="630.2" r="0.49" fill="#d8d8d8"/><circle cx="448.9" cy="627.8" r="0.77" fill="#d8d8d8"/><circle cx="457.7" cy="612.9" r="0.56" fill="#909090"/><circle cx="456.5" cy="611.5" r="1.28" fill="#707070"/><circle cx="456.1" cy="611.5" r="0.83" fill="#808080"/><circle cx="455.6" cy="613.1" r="0.54" fill="#929292"/><circle cx="457.8" cy="613.3" r="1.10" fill="#7d7d7d"/><circle cx="457.5" cy="614.4" r="1.24" fill="#707070"/><circle cx="456.5" cy="614.5" r="0.64" fill="#636363"/><circle cx="459.0" cy="612.4" r="1.03" fill="#4d4d4d"/><circle cx="455.7" cy="614.1" r="0.73" fill="#878787"/><circle cx="457.8" cy="613.4" r="0.63" fill="#858585"/><circle cx="458.6" cy="613.2" r="1.15" fill="#868686"/><circle cx="456.5" cy="610.8" r="1.20" fill="#565656"/><circle cx="457.9" cy="614.2" r="1.11" fill="#8e8e8e"/><circle cx="456.0" cy="616.2" r="0.66" fill="#d8d8d8"/><circle cx="452.0" cy="634.6" r="1.22" fill="#5c5c5c"/><circle cx="451.8" cy="634.8" r="1.01" fill="#555555"/><circle cx="450.3" cy="634.7" r="0.96" fill="#808080"/><circle cx="448.5" cy="633.6" r="0.98" fill="#4a4a4a"/><circle cx="448.2" cy="636.9" r="1.21" fill="#565656"/><circle cx="449.8" cy="633.1" r="0.86" fill="#666666"/><circle cx="446.9" cy="630.2" r="1.20" fill="#474747"/><circle cx="447.1" cy="634.3" r="0.75" fill="#767676"/><circle cx="449.9" cy="633.7" r="1.29" fill="#484848"/><circle cx="451.1" cy="636.2" r="1.23" fill="#646464"/><circle cx="449.7" cy="634.8" r="0.86" fill="#545454"/><circle cx="451.8" cy="633.7" r="1.02" fill="#666666"/><circle cx="449.7" cy="629.6" r="1.17" fill="#555555"/><circle cx="453.1" cy="632.8" r="1.07" fill="#595959"/><circle cx="450.4" cy="636.8" r="0.73" fill="#6c6c6c"/><circle cx="451.2" cy="636.7" r="0.60" fill="#4f4f4f"/><circle cx="452.2" cy="631.0" r="1.10" fill="#474747"/><circle cx="452.3" cy="631.3" r="1.22" fill="#4d4d4d"/><circle cx="450.4" cy="634.4" r="1.17" fill="#626262"/><circle cx="445.7" cy="634.2" r="1.23" fill="#464646"/><circle cx="448.6" cy="629.5" r="0.61" fill="#515151"/><circle cx="447.5" cy="633.4" r="1.03" fill="#747474"/><circle cx="451.2" cy="632.7" r="1.28" fill="#6c6c6c"/><circle cx="448.3" cy="631.6" r="0.86" fill="#838383"/><circle cx="448.7" cy="631.1" r="0.69" fill="#d8d8d8"/><circle cx="453.0" cy="633.1" r="0.63" fill="#d8d8d8"/><circle cx="448.5" cy="634.7" r="0.63" fill="#d8d8d8"/><circle cx="460.2" cy="634.1" r="0.78" fill="#666666"/><circle cx="458.2" cy="633.1" r="0.60" fill="#7e7e7e"/><circle cx="461.6" cy="631.4" r="0.99" fill="#7f7f7f"/><circle cx="458.0" cy="630.6" r="0.88" fill="#6c6c6c"/><circle cx="463.1" cy="630.7" r="0.71" fill="#919191"/><circle cx="463.2" cy="630.9" r="0.55" fill="#565656"/><circle cx="460.1" cy="634.1" r="0.96" fill="#787878"/><circle cx="460.3" cy="632.4" r="1.18" fill="#838383"/><circle cx="459.2" cy="628.9" r="0.77" fill="#585858"/><circle cx="463.1" cy="630.5" r="0.90" fill="#7c7c7c"/><circle cx="461.0" cy="630.2" r="1.11" fill="#9d9d9d"/><circle cx="459.1" cy="629.7" r="1.24" fill="#848484"/><circle cx="458.2" cy="631.9" r="1.19" fill="#6f6f6f"/><circle cx="458.4" cy="631.9" r="0.49" fill="#d8d8d8"/></g>
</g>
<rect x="432.80" y="605.80" width="32.20" height="32.20" fill="none" stroke="#4a4a4a" stroke-width="1.1" />
<rect x="276.90" y="548.60" width="5.00" height="1.40" fill="#f2f2f2" />
<rect x="373.00" y="549.50" width="5.00" height="1.40" fill="#f2f2f2" />
<rect x="275.00" y="624.00" width="5.00" height="1.40" fill="#f2f2f2" />
<rect x="372.40" y="624.80" width="5.00" height="1.40" fill="#f2f2f2" />
<text x="4.50" y="590.20" font-size="10" font-weight="bold" >I</text>
<line x1="53.30" y1="610.00" x2="53.30" y2="690.40" stroke="#6d6e71" stroke-width="0.9" />
<line x1="53.30" y1="690.40" x2="79.00" y2="690.40" stroke="#6d6e71" stroke-width="0.9" />
<line x1="49.80" y1="690.40" x2="53.30" y2="690.40" stroke="#6d6e71" stroke-width="0.9" />
<text x="46.80" y="693.14" font-size="7.6" text-anchor="end" stroke="#231f20" stroke-width="0.18" >0</text>
<line x1="49.80" y1="663.60" x2="53.30" y2="663.60" stroke="#6d6e71" stroke-width="0.9" />
<text x="46.80" y="666.34" font-size="7.6" text-anchor="end" stroke="#231f20" stroke-width="0.18" >0.1</text>
<line x1="49.80" y1="636.80" x2="53.30" y2="636.80" stroke="#6d6e71" stroke-width="0.9" />
<text x="46.80" y="639.54" font-size="7.6" text-anchor="end" stroke="#231f20" stroke-width="0.18" >0.2</text>
<line x1="49.80" y1="610.00" x2="53.30" y2="610.00" stroke="#6d6e71" stroke-width="0.9" />
<text x="46.80" y="612.74" font-size="7.6" text-anchor="end" stroke="#231f20" stroke-width="0.18" >0.3</text>
<line x1="60.70" y1="625.60" x2="60.70" y2="630.00" stroke="#555" stroke-width="0.9" />
<line x1="58.20" y1="625.60" x2="63.20" y2="625.60" stroke="#555" stroke-width="0.9" />
<rect x="56.70" y="630.00" width="8.00" height="60.40" fill="#a7a9ac" stroke="#58595b" stroke-width="0.8" />
<line x1="71.35" y1="670.80" x2="71.35" y2="673.30" stroke="#3b1a57" stroke-width="0.9" />
<line x1="68.85" y1="670.80" x2="73.85" y2="670.80" stroke="#3b1a57" stroke-width="0.9" />
<rect x="67.00" y="673.30" width="8.70" height="17.10" fill="#642e93" stroke="#3b1a57" stroke-width="0.8" />
<line x1="60.50" y1="603.30" x2="71.90" y2="603.30" stroke="#231f20" stroke-width="0.9" />
<text x="66.20" y="603.20" font-size="8.4" text-anchor="middle" stroke="#231f20" stroke-width="0.15" >**</text>
<text x="66.90" y="591.50" font-size="9.0" text-anchor="middle" font-style="italic" stroke="#231f20" stroke-width="0.18" >Krt19</text>
<text x="11.90" y="650.50" font-size="7.9" text-anchor="middle" stroke="#231f20" stroke-width="0.18" transform="rotate(-90 11.90 650.50)" >Relative expression</text>
<text x="20.90" y="650.50" font-size="7.9" text-anchor="middle" stroke="#231f20" stroke-width="0.18" transform="rotate(-90 20.90 650.50)" >(normalized against over</text>
<text x="29.90" y="650.50" font-size="7.9" text-anchor="middle" stroke="#231f20" stroke-width="0.18" transform="rotate(-90 29.90 650.50)" >GAPDH)</text>
<line x1="135.60" y1="610.90" x2="135.60" y2="690.20" stroke="#6d6e71" stroke-width="0.9" />
<line x1="135.60" y1="690.20" x2="159.00" y2="690.20" stroke="#6d6e71" stroke-width="0.9" />
<line x1="132.10" y1="690.20" x2="135.60" y2="690.20" stroke="#6d6e71" stroke-width="0.9" />
<text x="129.80" y="692.94" font-size="7.6" text-anchor="end" stroke="#231f20" stroke-width="0.18" >0</text>
<line x1="132.10" y1="670.38" x2="135.60" y2="670.38" stroke="#6d6e71" stroke-width="0.9" />
<text x="129.80" y="673.11" font-size="7.6" text-anchor="end" stroke="#231f20" stroke-width="0.18" >20</text>
<line x1="132.10" y1="650.55" x2="135.60" y2="650.55" stroke="#6d6e71" stroke-width="0.9" />
<text x="129.80" y="653.29" font-size="7.6" text-anchor="end" stroke="#231f20" stroke-width="0.18" >40</text>
<line x1="132.10" y1="630.73" x2="135.60" y2="630.73" stroke="#6d6e71" stroke-width="0.9" />
<text x="129.80" y="633.46" font-size="7.6" text-anchor="end" stroke="#231f20" stroke-width="0.18" >60</text>
<line x1="132.10" y1="610.90" x2="135.60" y2="610.90" stroke="#6d6e71" stroke-width="0.9" />
<text x="129.80" y="613.64" font-size="7.6" text-anchor="end" stroke="#231f20" stroke-width="0.18" >80</text>
<line x1="141.35" y1="637.00" x2="141.35" y2="648.40" stroke="#555" stroke-width="0.9" />
<line x1="138.85" y1="637.00" x2="143.85" y2="637.00" stroke="#555" stroke-width="0.9" />
<rect x="137.10" y="648.40" width="8.50" height="41.80" fill="#a7a9ac" stroke="#58595b" stroke-width="0.8" />
<line x1="152.75" y1="608.00" x2="152.75" y2="614.10" stroke="#3b1a57" stroke-width="0.9" />
<line x1="150.25" y1="608.00" x2="155.25" y2="608.00" stroke="#3b1a57" stroke-width="0.9" />
<rect x="148.50" y="614.10" width="8.50" height="76.10" fill="#642e93" stroke="#3b1a57" stroke-width="0.8" />
<line x1="141.30" y1="603.90" x2="153.20" y2="603.90" stroke="#231f20" stroke-width="0.9" />
<text x="147.25" y="603.80" font-size="8.4" text-anchor="middle" stroke="#231f20" stroke-width="0.15" >**</text>
<text x="141.80" y="591.50" font-size="9.0" text-anchor="middle" font-style="italic" stroke="#231f20" stroke-width="0.18" >Amy2</text>
<text x="95.60" y="650.50" font-size="7.9" text-anchor="middle" stroke="#231f20" stroke-width="0.18" transform="rotate(-90 95.60 650.50)" >Relative expression</text>
<text x="104.60" y="650.50" font-size="7.9" text-anchor="middle" stroke="#231f20" stroke-width="0.18" transform="rotate(-90 104.60 650.50)" >(normalized against over</text>
<text x="113.60" y="650.50" font-size="7.9" text-anchor="middle" stroke="#231f20" stroke-width="0.18" transform="rotate(-90 113.60 650.50)" >GAPDH)</text>
<line x1="215.20" y1="609.60" x2="215.20" y2="690.40" stroke="#6d6e71" stroke-width="0.9" />
<line x1="215.20" y1="690.40" x2="241.80" y2="690.40" stroke="#6d6e71" stroke-width="0.9" />
<line x1="211.70" y1="690.40" x2="215.20" y2="690.40" stroke="#6d6e71" stroke-width="0.9" />
<text x="210.40" y="693.14" font-size="7.6" text-anchor="end" stroke="#231f20" stroke-width="0.18" >0</text>
<line x1="211.70" y1="663.47" x2="215.20" y2="663.47" stroke="#6d6e71" stroke-width="0.9" />
<text x="210.40" y="666.20" font-size="7.6" text-anchor="end" stroke="#231f20" stroke-width="0.18" >5</text>
<line x1="211.70" y1="636.53" x2="215.20" y2="636.53" stroke="#6d6e71" stroke-width="0.9" />
<text x="210.40" y="639.27" font-size="7.6" text-anchor="end" stroke="#231f20" stroke-width="0.18" >10</text>
<line x1="211.70" y1="609.60" x2="215.20" y2="609.60" stroke="#6d6e71" stroke-width="0.9" />
<text x="210.40" y="612.34" font-size="7.6" text-anchor="end" stroke="#231f20" stroke-width="0.18" >15</text>
<line x1="222.50" y1="674.60" x2="222.50" y2="681.90" stroke="#555" stroke-width="0.9" />
<line x1="220.00" y1="674.60" x2="225.00" y2="674.60" stroke="#555" stroke-width="0.9" />
<rect x="218.00" y="681.90" width="9.00" height="8.50" fill="#a7a9ac" stroke="#58595b" stroke-width="0.8" />
<line x1="233.90" y1="615.30" x2="233.90" y2="620.40" stroke="#3b1a57" stroke-width="0.9" />
<line x1="231.40" y1="615.30" x2="236.40" y2="615.30" stroke="#3b1a57" stroke-width="0.9" />
<rect x="229.40" y="620.40" width="9.00" height="70.00" fill="#642e93" stroke="#3b1a57" stroke-width="0.8" />
<line x1="223.20" y1="603.30" x2="234.20" y2="603.30" stroke="#231f20" stroke-width="0.9" />
<text x="228.70" y="603.20" font-size="8.4" text-anchor="middle" stroke="#231f20" stroke-width="0.15" >***</text>
<text x="228.20" y="591.50" font-size="9.0" text-anchor="middle" font-style="italic" stroke="#231f20" stroke-width="0.18" >Cpa1</text>
<text x="177.50" y="650.50" font-size="7.9" text-anchor="middle" stroke="#231f20" stroke-width="0.18" transform="rotate(-90 177.50 650.50)" >Relative expression</text>
<text x="186.50" y="650.50" font-size="7.9" text-anchor="middle" stroke="#231f20" stroke-width="0.18" transform="rotate(-90 186.50 650.50)" >(normalized against over</text>
<text x="195.50" y="650.50" font-size="7.9" text-anchor="middle" stroke="#231f20" stroke-width="0.18" transform="rotate(-90 195.50 650.50)" >GAPDH)</text>
<text x="55.30" y="703.40" font-size="7.6" text-anchor="end" stroke="#231f20" stroke-width="0.18" >AKTi:</text>
<text x="71.30" y="703.80" font-size="7.6" text-anchor="middle" stroke="#231f20" stroke-width="0.18" >+</text>
<text x="137.60" y="703.40" font-size="7.6" text-anchor="end" stroke="#231f20" stroke-width="0.18" >AKTi:</text>
<text x="152.30" y="703.80" font-size="7.6" text-anchor="middle" stroke="#231f20" stroke-width="0.18" >+</text>
<text x="217.20" y="703.40" font-size="7.6" text-anchor="end" stroke="#231f20" stroke-width="0.18" >AKTi:</text>
<text x="234.60" y="703.80" font-size="7.6" text-anchor="middle" stroke="#231f20" stroke-width="0.18" >+</text>
</g>
</svg>
</body></html>
